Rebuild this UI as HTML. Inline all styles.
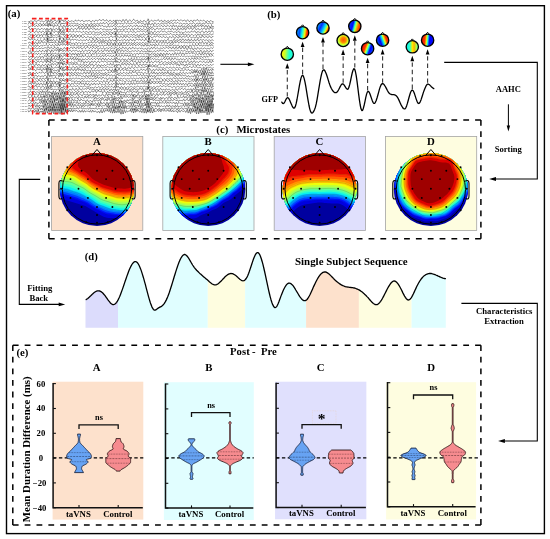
<!DOCTYPE html><html><head><meta charset="utf-8"><title>Microstate analysis pipeline</title>
<style>html,body{margin:0;padding:0;background:#fff}svg{display:block}text{font-family:"Liberation Serif",serif;font-weight:bold;fill:#000}</style></head><body>
<svg width="550" height="539" viewBox="0 0 550 539">
<rect width="550" height="539" fill="#fff"/>
<defs><linearGradient id="sh0" x1="0.002" y1="0.456" x2="0.998" y2="0.544"><stop offset="0.00" stop-color="#feed00"/><stop offset="0.30" stop-color="#ceff29"/><stop offset="0.50" stop-color="#6aff8d"/><stop offset="0.70" stop-color="#19ffde"/><stop offset="1.00" stop-color="#29ffce"/></linearGradient><linearGradient id="sh1" x1="0.005" y1="0.430" x2="0.995" y2="0.570"><stop offset="0.00" stop-color="#00b1ff"/><stop offset="0.25" stop-color="#004dff"/><stop offset="0.45" stop-color="#09f1ee"/><stop offset="0.58" stop-color="#7dff7a"/><stop offset="0.68" stop-color="#f8f500"/><stop offset="0.85" stop-color="#ff2d00"/><stop offset="1.00" stop-color="#f10800"/></linearGradient><linearGradient id="sh2" x1="0.047" y1="0.289" x2="0.953" y2="0.711"><stop offset="0.00" stop-color="#00b1ff"/><stop offset="0.30" stop-color="#002dff"/><stop offset="0.55" stop-color="#00c5ff"/><stop offset="0.68" stop-color="#53ffa4"/><stop offset="0.80" stop-color="#f8f500"/><stop offset="0.92" stop-color="#ff3800"/><stop offset="1.00" stop-color="#f10800"/></linearGradient><radialGradient id="sh3" cx="0.52" cy="0.45" r="0.62"><stop offset="0.00" stop-color="#ff5500"/><stop offset="0.35" stop-color="#ff8d00"/><stop offset="0.60" stop-color="#deff19"/><stop offset="0.85" stop-color="#7dff7a"/><stop offset="1.00" stop-color="#29ffce"/></radialGradient><linearGradient id="sh4" x1="0.017" y1="0.371" x2="0.983" y2="0.629"><stop offset="0.00" stop-color="#0039ff"/><stop offset="0.32" stop-color="#000dff"/><stop offset="0.48" stop-color="#29ffce"/><stop offset="0.58" stop-color="#ceff29"/><stop offset="0.78" stop-color="#ff6800"/><stop offset="1.00" stop-color="#f10800"/></linearGradient><linearGradient id="sh5" x1="0.970" y1="0.671" x2="0.030" y2="0.329"><stop offset="0.00" stop-color="#004dff"/><stop offset="0.30" stop-color="#0000ff"/><stop offset="0.47" stop-color="#29ffce"/><stop offset="0.57" stop-color="#deff19"/><stop offset="0.72" stop-color="#ff3800"/><stop offset="1.00" stop-color="#f10800"/></linearGradient><linearGradient id="sh6" x1="0.030" y1="0.671" x2="0.970" y2="0.329"><stop offset="0.00" stop-color="#0061ff"/><stop offset="0.30" stop-color="#0000f1"/><stop offset="0.50" stop-color="#00e5f8"/><stop offset="0.63" stop-color="#deff19"/><stop offset="0.80" stop-color="#ff3800"/><stop offset="1.00" stop-color="#f10800"/></linearGradient><linearGradient id="sh7" x1="0.000" y1="0.500" x2="1.000" y2="0.500"><stop offset="0.00" stop-color="#09f1ee"/><stop offset="0.30" stop-color="#29ffce"/><stop offset="0.50" stop-color="#feed00"/><stop offset="0.65" stop-color="#ffb200"/><stop offset="0.85" stop-color="#a4ff53"/><stop offset="1.00" stop-color="#39ffbe"/></linearGradient><linearGradient id="sh8" x1="0.998" y1="0.544" x2="0.002" y2="0.456"><stop offset="0.00" stop-color="#000dff"/><stop offset="0.35" stop-color="#0000ff"/><stop offset="0.50" stop-color="#29ffce"/><stop offset="0.58" stop-color="#deff19"/><stop offset="0.72" stop-color="#ff3800"/><stop offset="1.00" stop-color="#f10800"/></linearGradient></defs>
<rect x="6.5" y="5.7" width="537.9" height="527.9" fill="none" stroke="#000" stroke-width="1.4"/>
<text x="14" y="16.9" font-size="10.8" text-anchor="middle" >(a)</text>
<polyline points="28.0,21.3 28.5,21.8 29.0,21.8 29.5,21.5 30.0,21.1 30.5,21.0 31.0,21.0 31.5,21.0 32.0,21.1 32.5,21.4 33.0,21.6 33.5,21.4 34.0,20.9 34.5,20.7 35.0,20.8 35.5,21.1 36.0,21.3 36.5,21.4 37.0,21.2 37.5,20.8 38.0,20.4 38.5,20.2 39.0,20.5 39.5,21.0 40.0,21.3 40.5,21.4 41.0,21.2 41.5,21.0 42.0,21.0 42.5,21.2 43.0,21.5 43.5,21.8 44.0,21.8 44.5,21.4 45.0,20.9 45.5,20.6 46.0,20.9 46.5,21.0 47.0,20.5 47.5,22.0 48.0,21.9 48.5,20.2 49.0,20.5 49.5,21.6 50.0,22.3 50.5,21.0 51.0,19.4 51.5,20.7 52.0,21.4 52.5,21.3 53.0,21.5 53.5,21.4 54.0,20.9 54.5,20.4 55.0,20.1 55.5,20.3 56.0,20.9 56.5,21.4 57.0,21.4 57.5,21.1 58.0,20.8 58.5,20.3 59.0,19.2 59.5,20.7 60.0,22.2 60.5,21.0 61.0,20.2 61.5,20.0 62.0,20.4 62.5,20.5 63.0,19.8 63.5,21.2 64.0,21.8 64.5,20.9 65.0,20.4 65.5,20.6 66.0,21.2 66.5,21.7 67.0,21.9 67.5,21.4 68.0,20.7 68.5,20.4 69.0,21.0 69.5,21.6 70.0,21.7 70.5,21.4 71.0,21.1 71.5,20.8 72.0,20.7 72.5,20.9 73.0,21.4 73.5,21.6 74.0,21.5 74.5,21.1 75.0,20.5 75.5,20.2 76.0,20.4 76.5,21.1 77.0,21.3 77.5,20.9 78.0,20.4 78.5,20.2 79.0,20.3 79.5,20.7 80.0,21.2 80.5,21.2 81.0,20.9 81.5,20.5 82.0,20.2 82.5,20.3 83.0,20.9 83.5,21.6 84.0,21.7 84.5,21.4 85.0,21.0 85.5,20.8 86.0,20.7 86.5,20.7 87.0,20.9 87.5,21.1 88.0,21.0 88.5,20.6 89.0,20.3 89.5,20.4 90.0,20.9 90.5,21.7 91.0,22.1 91.5,21.8 92.0,21.1 92.5,20.5 93.0,20.5 93.5,20.9 94.0,21.4 94.5,21.4 95.0,21.0 95.5,20.3 96.0,20.0 96.5,20.3 97.0,20.8 97.5,21.1 98.0,20.9 98.5,20.3 99.0,19.7 99.5,19.6 100.0,19.9 100.5,20.3 101.0,20.5 101.5,20.6 102.0,20.3 102.5,19.7 103.0,19.3 103.5,19.6 104.0,20.3 104.5,21.0 105.0,21.2 105.5,20.8 106.0,20.2 106.5,19.8 107.0,19.9 107.5,20.7 108.0,21.4 108.5,21.7 109.0,21.2 109.5,20.4 110.0,20.0 110.5,20.2 111.0,20.9 111.5,21.5 112.0,21.6 112.5,21.2 113.0,20.7 113.5,20.4 114.0,20.4 114.5,20.9 115.0,21.8 115.5,20.6 116.0,19.9 116.5,21.2 117.0,20.6 117.5,20.2 118.0,20.7 118.5,21.0 119.0,20.7 119.5,20.2 120.0,20.0 120.5,20.6 121.1,21.5 121.6,21.8 122.1,21.1 122.6,19.9 123.1,19.4 123.6,20.1 124.1,21.2 124.6,21.4 125.1,20.7 125.6,19.7 126.1,19.3 126.6,19.7 127.1,20.7 127.6,21.6 128.1,21.8 128.6,21.2 129.1,20.3 129.6,19.8 130.1,19.9 130.6,20.6 131.1,21.4 131.6,21.6 132.1,21.2 132.6,20.4 133.1,19.7 133.6,19.3 134.1,19.5 134.6,20.2 135.1,21.0 135.6,21.3 136.1,21.1 136.6,20.5 137.1,20.2 137.6,20.4 138.1,21.2 138.6,22.1 139.1,22.4 139.6,21.8 140.1,20.8 140.6,20.4 141.1,20.8 141.6,21.5 142.1,22.0 142.6,22.0 143.1,21.4 143.6,20.5 144.1,20.2 144.6,20.7 145.1,21.4 145.6,21.7 146.1,21.5 146.6,21.0 147.1,20.8 147.6,20.5 148.1,18.8 148.6,19.6 149.1,22.1 149.6,21.9 150.1,21.3 150.6,20.8 151.1,20.3 151.6,20.2 152.1,20.6 152.6,21.0 153.1,21.4 153.6,21.3 154.1,20.6 154.6,20.1 155.1,20.2 155.6,20.7 156.1,21.1 156.6,21.0 157.1,20.5 157.6,19.9 158.1,19.5 158.6,19.8 159.1,20.8 159.6,21.5 160.1,21.4 160.6,20.7 161.1,20.2 161.6,20.2 162.1,20.9 162.6,21.8 163.1,22.1 163.6,21.7 164.1,20.8 164.6,20.1 165.1,20.3 165.6,21.1 166.1,21.7 166.6,21.8 167.1,21.3 167.6,20.6 168.1,20.3 168.6,20.7 169.1,21.5 169.6,21.8 170.1,21.3 170.6,20.5 171.1,20.1 171.6,20.3 172.1,20.8 172.6,21.2 173.1,20.9 173.6,20.1 174.1,19.7 174.6,20.0 175.1,20.6 175.6,20.9 176.1,20.8 176.6,20.3 177.1,19.8 177.6,19.6 178.1,20.0 178.6,20.5 179.1,20.8 179.6,20.8 180.1,20.4 180.6,20.0 181.1,19.9 181.6,20.1 182.1,20.6 182.6,21.0 183.1,21.0 183.6,20.4 184.1,19.9 184.6,20.0 185.1,20.5 185.6,21.3 186.1,21.7 186.6,21.2 187.1,20.2 187.6,19.7 188.1,20.2 188.6,21.0 189.1,21.6 189.6,21.6 190.1,21.0 190.6,20.3 191.1,20.0 191.6,20.5 192.1,21.4 192.6,21.8 193.1,21.1 193.6,20.2 194.1,19.9 194.6,20.3 195.1,20.8 195.6,21.0 196.1,20.8 196.6,20.1 197.1,19.5 197.6,19.7 198.1,20.3 198.6,21.1 199.1,21.4 199.6,21.1 200.1,20.5 200.6,20.2 201.1,20.4 201.6,20.9 202.1,21.2 202.6,21.0 203.1,20.5 203.6,20.2 204.1,20.4 204.6,20.8 205.1,21.2 205.6,21.6 206.1,21.6 206.6,21.2 207.1,20.8 207.6,20.6 208.1,21.0 208.6,21.6 209.1,21.9 209.6,21.6 210.1,20.9 210.6,20.5 211.1,20.6 211.6,21.0 212.1,21.5 212.6,21.8 213.1,21.6 213.6,21.0" fill="none" stroke="#111" stroke-width="0.6" stroke-opacity="0.8"/>
<text x="26.8" y="21.7" font-size="2.9" text-anchor="end" style="font-weight:normal;fill:#333">Ch1</text>
<polyline points="28.0,24.4 28.5,23.6 29.0,22.5 29.5,22.1 30.0,22.8 30.5,23.8 31.0,24.0 31.5,23.7 32.0,23.2 32.5,22.7 33.0,22.6 33.5,23.1 34.0,23.9 34.5,24.4 35.0,24.3 35.5,23.8 36.0,23.1 36.5,22.9 37.0,23.2 37.5,23.8 38.0,24.3 38.5,24.4 39.0,24.1 39.5,23.4 40.0,22.9 40.5,23.3 41.0,24.2 41.5,24.9 42.0,25.0 42.5,24.3 43.0,23.6 43.5,23.4 44.0,23.8 44.5,24.4 45.0,24.7 45.5,24.1 46.0,23.1 46.5,23.0 47.0,22.3 47.5,23.0 48.0,25.5 48.5,24.5 49.0,23.0 49.5,23.0 50.0,24.2 50.5,25.5 51.0,23.8 51.5,22.7 52.0,23.1 52.5,22.7 53.0,22.9 53.5,23.7 54.0,24.2 54.5,24.2 55.0,23.4 55.5,22.5 56.0,22.4 56.5,23.2 57.0,24.0 57.5,24.4 58.0,24.1 58.5,23.8 59.0,22.0 59.5,20.8 60.0,23.5 60.5,24.7 61.0,24.1 61.5,23.2 62.0,23.0 62.5,24.0 63.0,23.4 63.5,22.9 64.0,24.0 64.5,23.8 65.0,23.2 65.5,23.0 66.0,23.3 66.5,23.8 67.0,23.9 67.5,23.5 68.0,23.0 68.5,22.8 69.0,23.2 69.5,23.7 70.0,24.0 70.5,23.9 71.0,23.5 71.5,23.1 72.0,23.2 72.5,23.7 73.0,24.1 73.5,23.8 74.0,23.3 74.5,23.1 75.0,23.3 75.5,23.7 76.0,24.0 76.5,23.9 77.0,23.6 77.5,23.4 78.0,23.6 78.5,24.1 79.0,24.5 79.5,24.5 80.0,24.2 80.5,23.7 81.0,23.6 81.5,24.0 82.0,24.5 82.5,24.5 83.0,24.1 83.5,23.6 84.0,23.4 84.5,23.7 85.0,24.3 85.5,24.7 86.0,24.7 86.5,24.4 87.0,24.0 87.5,23.7 88.0,23.8 88.5,24.3 89.0,24.8 89.5,25.0 90.0,24.6 90.5,23.8 91.0,23.1 91.5,23.1 92.0,23.9 92.5,24.7 93.0,24.6 93.5,23.9 94.0,23.2 94.5,23.2 95.0,23.7 95.5,24.3 96.0,24.3 96.5,23.8 97.0,23.2 97.5,23.1 98.0,23.6 98.5,24.2 99.0,24.4 99.5,23.7 100.0,23.0 100.5,22.8 101.0,23.2 101.5,23.8 102.0,23.9 102.5,23.3 103.0,22.5 103.5,22.6 104.0,23.4 104.5,24.0 105.0,23.9 105.5,23.2 106.0,22.7 106.5,22.5 107.0,22.9 107.5,23.7 108.0,24.6 108.5,24.8 109.0,24.1 109.5,23.3 110.0,23.0 110.5,23.1 111.0,23.5 111.5,23.9 112.0,24.0 112.5,23.6 113.0,22.8 113.5,22.6 114.0,23.2 114.5,23.9 115.0,24.8 115.5,24.2 116.0,21.6 116.5,22.6 117.0,24.3 117.5,24.1 118.0,23.7 118.5,23.1 119.0,22.8 119.5,23.1 120.0,23.8 120.5,23.9 121.1,23.5 121.6,23.0 122.1,23.1 122.6,23.7 123.1,24.2 123.6,24.1 124.1,23.4 124.6,22.7 125.1,22.4 125.6,22.9 126.1,23.6 126.6,23.8 127.1,23.4 127.6,22.8 128.1,22.7 128.6,23.4 129.1,24.0 129.6,24.1 130.1,23.5 130.6,23.0 131.1,23.0 131.6,23.4 132.1,23.7 132.6,23.5 133.1,23.1 133.6,22.7 134.1,22.7 134.6,22.9 135.1,23.3 135.6,23.7 136.1,23.7 136.6,23.2 137.1,22.6 137.6,22.6 138.1,23.1 138.6,23.4 139.1,23.3 139.6,22.8 140.1,22.6 140.6,22.8 141.1,23.4 141.6,23.8 142.1,23.7 142.6,23.2 143.1,22.9 143.6,23.2 144.1,24.1 144.6,24.9 145.1,25.1 145.6,24.5 146.1,23.4 146.6,22.7 147.1,23.4 147.6,25.4 148.1,25.1 148.6,22.3 149.1,22.9 149.6,24.1 150.1,24.4 150.6,25.0 151.1,24.8 151.6,23.8 152.1,23.1 152.6,23.6 153.1,24.5 153.6,24.7 154.1,23.9 154.6,22.9 155.1,22.6 155.6,23.3 156.1,24.1 156.6,24.5 157.1,24.3 157.6,23.9 158.1,23.4 158.6,23.4 159.1,23.9 159.6,24.4 160.1,24.3 160.6,23.9 161.1,23.2 161.6,22.9 162.1,23.1 162.6,23.8 163.1,24.3 163.6,24.1 164.1,23.4 164.6,22.8 165.1,22.8 165.6,23.2 166.1,23.8 166.6,24.0 167.1,23.4 167.6,22.7 168.1,22.2 168.6,22.4 169.1,23.1 169.6,23.9 170.1,23.7 170.6,22.9 171.1,22.4 171.6,22.7 172.1,23.3 172.6,23.8 173.1,23.7 173.6,23.2 174.1,22.8 174.6,22.7 175.1,22.8 175.6,23.1 176.1,23.4 176.6,23.3 177.1,22.9 177.6,22.5 178.1,22.6 178.6,23.1 179.1,23.7 179.6,23.8 180.1,23.4 180.6,23.0 181.1,23.1 181.6,23.6 182.1,24.1 182.6,24.2 183.1,23.9 183.6,23.4 184.1,23.2 184.6,23.6 185.1,24.1 185.6,24.2 186.1,23.6 186.6,23.1 187.1,23.1 187.6,23.8 188.1,24.5 188.6,24.6 189.1,24.1 189.6,23.5 190.1,23.0 190.6,23.1 191.1,23.7 191.6,24.1 192.1,23.9 192.6,23.4 193.1,22.8 193.6,22.7 194.1,23.1 194.6,23.7 195.1,24.3 195.6,24.4 196.1,24.0 196.6,23.3 197.1,22.9 197.6,23.1 198.1,23.8 198.6,24.2 199.1,23.9 199.6,23.0 200.1,22.6 200.6,23.1 201.1,23.9 201.6,24.4 202.1,24.2 202.6,23.3 203.1,22.8 203.6,23.1 204.1,23.8 204.6,24.0 205.1,23.6 205.6,22.8 206.1,22.2 206.6,22.5 207.1,23.2 207.6,23.8 208.1,24.0 208.6,23.9 209.1,23.3 209.6,22.8 210.1,22.9 210.6,23.6 211.1,24.2 211.6,24.3 212.1,23.7 212.6,22.9 213.1,22.7 213.6,23.1" fill="none" stroke="#111" stroke-width="0.6" stroke-opacity="0.8"/>
<text x="26.8" y="24.4" font-size="2.9" text-anchor="end" style="font-weight:normal;fill:#333">Ch2</text>
<polyline points="28.0,26.0 28.5,25.9 29.0,26.4 29.5,26.8 30.0,26.7 30.5,26.0 31.0,25.6 31.5,25.8 32.0,26.3 32.5,26.4 33.0,26.0 33.5,25.6 34.0,25.8 34.5,26.4 35.0,26.7 35.5,26.3 36.0,25.7 36.5,25.5 37.0,25.9 37.5,26.4 38.0,26.4 38.5,25.8 39.0,25.4 39.5,25.6 40.0,26.2 40.5,26.4 41.0,25.9 41.5,25.4 42.0,25.5 42.5,26.0 43.0,26.3 43.5,26.0 44.0,25.3 44.5,24.8 45.0,25.1 45.5,25.8 46.0,26.0 46.5,25.4 47.0,24.7 47.5,25.5 48.0,26.8 48.5,26.4 49.0,25.3 49.5,24.6 50.0,25.2 50.5,26.0 51.0,26.1 51.5,25.7 52.0,25.0 52.5,24.8 53.0,26.0 53.5,27.2 54.0,26.9 54.5,25.6 55.0,24.9 55.5,25.4 56.0,26.1 56.5,26.2 57.0,25.7 57.5,25.2 58.0,25.4 58.5,26.3 59.0,26.5 59.5,26.5 60.0,26.5 60.5,25.7 61.0,25.5 61.5,26.1 62.0,27.0 62.5,27.3 63.0,26.4 63.5,25.4 64.0,25.2 64.5,25.9 65.0,27.0 65.5,27.3 66.0,26.3 66.5,25.4 67.0,25.9 67.5,27.1 68.0,27.1 68.5,26.0 69.0,25.0 69.5,25.1 70.0,25.8 70.5,26.4 71.0,26.4 71.5,25.8 72.0,25.2 72.5,25.4 73.0,26.1 73.5,26.7 74.0,26.4 74.5,25.6 75.0,25.1 75.5,25.4 76.0,26.0 76.5,26.2 77.0,25.6 77.5,25.1 78.0,25.3 78.5,26.3 79.0,27.1 79.5,26.9 80.0,26.1 80.5,25.6 81.0,26.0 81.5,26.7 82.0,27.0 82.5,26.3 83.0,25.5 83.5,25.6 84.0,26.4 84.5,27.1 85.0,26.9 85.5,26.0 86.0,25.4 86.5,25.8 87.0,26.9 87.5,27.5 88.0,27.0 88.5,25.8 89.0,25.2 89.5,25.8 90.0,26.9 90.5,27.1 91.0,26.2 91.5,25.2 92.0,25.6 92.5,26.9 93.0,27.5 93.5,26.4 94.0,25.3 94.5,25.7 95.0,26.6 95.5,26.6 96.0,25.7 96.5,25.1 97.0,25.5 97.5,26.4 98.0,26.8 98.5,26.4 99.0,25.6 99.5,25.0 100.0,25.3 100.5,26.2 101.0,26.4 101.5,25.9 102.0,25.3 102.5,25.4 103.0,26.0 103.5,26.7 104.0,27.0 104.5,26.6 105.0,26.1 105.5,25.9 106.0,26.5 106.5,27.3 107.0,27.2 107.5,26.4 108.0,25.7 108.5,25.8 109.0,26.6 109.5,27.1 110.0,26.7 110.5,25.9 111.0,25.6 111.5,26.0 112.0,26.7 112.5,26.6 113.0,26.0 113.5,25.4 114.0,25.3 114.5,25.9 115.0,26.7 115.5,26.6 116.0,25.8 116.5,25.7 117.0,25.9 117.5,26.4 118.0,27.0 118.5,27.1 119.0,26.6 119.5,26.1 120.0,26.3 120.5,26.9 121.1,27.2 121.6,26.7 122.1,25.8 122.6,25.4 123.1,26.2 123.6,27.3 124.1,27.3 124.6,26.5 125.1,25.9 125.6,26.0 126.1,26.6 126.6,27.0 127.1,26.6 127.6,25.7 128.1,25.3 128.6,25.7 129.1,26.4 129.6,26.7 130.1,26.1 130.6,25.4 131.1,25.4 131.6,26.1 132.1,26.7 132.6,26.9 133.1,26.5 133.6,25.8 134.1,25.4 134.6,25.7 135.1,26.3 135.6,26.6 136.1,25.8 136.6,25.0 137.1,25.0 137.6,25.9 138.1,26.8 138.6,27.0 139.1,26.4 139.6,25.8 140.1,25.6 140.6,26.3 141.1,26.9 141.6,26.5 142.1,25.7 142.6,25.5 143.1,26.0 143.6,27.0 144.1,27.4 144.6,26.7 145.1,25.8 145.6,26.1 146.1,27.1 146.6,27.6 147.1,27.0 147.6,26.2 148.1,25.9 148.6,26.6 149.1,27.8 149.6,27.6 150.1,26.7 150.6,26.3 151.1,26.7 151.6,27.5 152.1,27.7 152.6,27.1 153.1,26.1 153.6,25.5 154.1,25.7 154.6,26.4 155.1,26.5 155.6,26.0 156.1,25.7 156.6,26.1 157.1,26.7 157.6,26.7 158.1,26.3 158.6,25.8 159.1,25.8 159.6,26.3 160.1,26.6 160.6,26.1 161.1,25.5 161.6,25.4 162.1,26.0 162.6,26.7 163.1,26.9 163.6,26.5 164.1,25.7 164.6,25.4 165.1,25.8 165.6,26.6 166.1,27.0 166.6,26.5 167.1,25.5 167.6,25.1 168.1,25.5 168.6,26.1 169.1,26.5 169.6,26.5 170.1,25.9 170.6,25.4 171.1,25.6 171.6,26.5 172.1,27.2 172.6,26.5 173.1,25.1 173.6,24.8 174.1,25.8 174.6,26.7 175.1,26.6 175.6,25.8 176.1,25.3 176.6,25.7 177.1,26.9 177.6,27.5 178.1,26.9 178.6,25.8 179.1,25.7 179.6,26.5 180.1,27.1 180.6,26.7 181.1,25.5 181.6,25.2 182.1,26.2 182.6,27.3 183.1,27.3 183.6,26.6 184.1,25.8 184.6,25.9 185.1,26.7 185.6,27.3 186.1,27.1 186.6,26.1 187.1,25.4 187.6,25.6 188.1,26.5 188.6,26.9 189.1,26.4 189.6,25.6 190.1,25.8 190.6,26.7 191.1,27.3 191.6,26.7 192.1,25.6 192.6,25.5 193.1,26.4 193.6,27.0 194.1,26.5 194.6,25.4 195.1,25.1 195.6,26.1 196.1,27.2 196.6,26.7 197.1,25.5 197.6,25.1 198.1,25.7 198.6,26.5 199.1,26.6 199.6,26.1 200.1,25.2 200.6,24.9 201.1,25.9 201.6,26.9 202.1,26.5 202.6,25.3 203.1,25.1 203.6,25.9 204.1,26.7 204.6,27.0 205.1,26.5 205.6,25.5 206.1,25.2 206.6,26.1 207.1,27.0 207.6,26.8 208.1,25.9 208.6,25.4 209.1,25.9 209.6,27.1 210.1,27.8 210.6,27.3 211.1,26.1 211.6,25.4 212.1,26.0 212.6,27.1 213.1,27.2 213.6,26.1" fill="none" stroke="#111" stroke-width="0.6" stroke-opacity="0.8"/>
<text x="26.8" y="27.2" font-size="2.9" text-anchor="end" style="font-weight:normal;fill:#333">Ch3</text>
<polyline points="28.0,28.1 28.5,27.5 29.0,27.7 29.5,28.7 30.0,29.6 30.5,29.8 31.0,29.2 31.5,28.6 32.0,28.5 32.5,29.1 33.0,29.6 33.5,29.6 34.0,29.1 34.5,28.6 35.0,28.5 35.5,28.6 36.0,29.0 36.5,29.3 37.0,29.4 37.5,29.1 38.0,28.8 38.5,28.7 39.0,29.1 39.5,29.5 40.0,29.6 40.5,29.4 41.0,29.0 41.5,28.5 42.0,28.4 42.5,28.9 43.0,29.3 43.5,29.4 44.0,29.0 44.5,28.7 45.0,28.8 45.5,29.4 46.0,30.0 46.5,29.4 47.0,28.1 47.5,29.4 48.0,29.9 48.5,29.2 49.0,29.4 49.5,29.4 50.0,29.3 50.5,28.3 51.0,28.1 51.5,30.1 52.0,30.3 52.5,29.1 53.0,28.6 53.5,28.9 54.0,29.6 54.5,29.9 55.0,29.5 55.5,28.8 56.0,28.4 56.5,28.4 57.0,29.0 57.5,29.6 58.0,29.9 58.5,29.1 59.0,27.4 59.5,28.4 60.0,30.2 60.5,30.0 61.0,29.9 61.5,29.4 62.0,28.9 62.5,28.1 63.0,27.6 63.5,29.5 64.0,30.7 64.5,30.1 65.0,29.2 65.5,28.7 66.0,28.9 66.5,29.7 67.0,30.3 67.5,30.0 68.0,29.1 68.5,28.6 69.0,29.0 69.5,29.7 70.0,30.0 70.5,29.6 71.0,28.7 71.5,28.2 72.0,28.4 72.5,29.1 73.0,29.8 73.5,30.0 74.0,29.6 74.5,28.8 75.0,28.3 75.5,28.5 76.0,29.0 76.5,29.4 77.0,29.4 77.5,28.7 78.0,27.6 78.5,27.3 79.0,28.2 79.5,29.2 80.0,29.4 80.5,28.9 81.0,28.0 81.5,27.7 82.0,28.5 82.5,29.6 83.0,29.4 83.5,28.5 84.0,27.7 84.5,27.7 85.0,28.5 85.5,29.4 86.0,29.6 86.5,28.9 87.0,27.9 87.5,27.6 88.0,28.2 88.5,29.4 89.0,30.1 89.5,29.6 90.0,28.6 90.5,28.0 91.0,28.0 91.5,28.5 92.0,29.0 92.5,29.4 93.0,29.3 93.5,28.9 94.0,28.4 94.5,28.3 95.0,29.1 95.5,30.0 96.0,30.0 96.5,29.2 97.0,28.5 97.5,28.7 98.0,29.5 98.5,30.0 99.0,29.8 99.5,29.4 100.0,28.9 100.5,28.5 101.0,28.4 101.5,28.7 102.0,29.3 102.5,29.7 103.0,29.6 103.5,29.2 104.0,28.8 104.5,28.9 105.0,29.4 105.5,29.9 106.0,30.2 106.5,29.9 107.0,29.3 107.5,29.1 108.0,29.6 108.5,30.1 109.0,29.9 109.5,29.4 110.0,29.2 110.5,29.3 111.0,29.9 111.5,30.2 112.0,30.0 112.5,29.4 113.0,28.8 113.5,28.5 114.0,28.7 114.5,29.5 115.0,30.0 115.5,28.1 116.0,27.6 116.5,29.6 117.0,29.8 117.5,29.9 118.0,30.0 118.5,29.4 119.0,28.9 119.5,28.9 120.0,29.4 120.5,29.9 121.1,29.9 121.6,29.3 122.1,28.8 122.6,28.8 123.1,29.2 123.6,29.5 124.1,29.6 124.6,29.3 125.1,28.8 125.6,28.7 126.1,28.8 126.6,29.2 127.1,29.5 127.6,29.5 128.1,29.0 128.6,28.4 129.1,28.4 129.6,29.0 130.1,29.6 130.6,29.6 131.1,29.1 131.6,28.5 132.1,28.6 132.6,29.6 133.1,30.5 133.6,30.1 134.1,29.1 134.6,28.4 135.1,28.5 135.6,29.2 136.1,29.7 136.6,29.5 137.1,28.7 137.6,28.0 138.1,28.2 138.6,29.0 139.1,29.7 139.6,29.5 140.1,28.8 140.6,28.4 141.1,28.9 141.6,29.6 142.1,29.8 142.6,29.5 143.1,29.0 143.6,28.6 144.1,28.9 144.6,29.4 145.1,29.6 145.6,29.5 146.1,29.2 146.6,28.9 147.1,29.1 147.6,29.2 148.1,28.2 148.6,29.1 149.1,30.5 149.6,29.3 150.1,28.5 150.6,28.6 151.1,28.9 151.6,29.2 152.1,29.6 152.6,29.4 153.1,28.8 153.6,28.4 154.1,28.8 154.6,29.6 155.1,29.9 155.6,29.6 156.1,29.0 156.6,28.3 157.1,28.1 157.6,28.4 158.1,28.9 158.6,29.3 159.1,29.3 159.6,28.9 160.1,28.3 160.6,28.2 161.1,28.7 161.6,29.4 162.1,29.7 162.6,29.3 163.1,28.8 163.6,28.8 164.1,29.1 164.6,29.4 165.1,29.3 165.6,28.9 166.1,28.6 166.6,28.5 167.1,28.7 167.6,29.1 168.1,29.2 168.6,28.9 169.1,28.5 169.6,28.4 170.1,29.0 170.6,29.7 171.1,29.7 171.6,29.0 172.1,28.2 172.6,28.1 173.1,28.9 173.6,29.7 174.1,29.6 174.6,28.9 175.1,28.4 175.6,28.7 176.1,29.6 176.6,30.4 177.1,30.1 177.6,29.0 178.1,28.2 178.6,28.6 179.1,29.5 179.6,29.9 180.1,29.4 180.6,28.5 181.1,28.0 181.6,28.6 182.1,29.6 182.6,30.1 183.1,29.6 183.6,28.5 184.1,27.8 184.6,28.1 185.1,29.3 185.6,30.0 186.1,29.7 186.6,28.7 187.1,27.7 187.6,27.3 188.1,27.8 188.6,28.7 189.1,29.2 189.6,29.1 190.1,28.6 190.6,27.9 191.1,27.7 191.6,28.4 192.1,29.4 192.6,29.7 193.1,29.0 193.6,28.0 194.1,27.4 194.6,27.4 195.1,28.1 195.6,29.2 196.1,29.8 196.6,29.8 197.1,29.2 197.6,28.6 198.1,28.3 198.6,28.7 199.1,29.5 199.6,30.0 200.1,29.8 200.6,29.2 201.1,28.7 201.6,28.6 202.1,28.9 202.6,29.3 203.1,29.2 203.6,28.4 204.1,27.8 204.6,28.0 205.1,28.7 205.6,29.5 206.1,29.9 206.6,29.2 207.1,28.1 207.6,27.7 208.1,28.3 208.6,29.2 209.1,29.6 209.6,29.2 210.1,28.3 210.6,27.5 211.1,27.4 211.6,28.3 212.1,29.2 212.6,29.3 213.1,28.6 213.6,27.8" fill="none" stroke="#111" stroke-width="0.6" stroke-opacity="0.8"/>
<text x="26.8" y="29.9" font-size="2.9" text-anchor="end" style="font-weight:normal;fill:#333">Ch4</text>
<polyline points="28.0,31.7 28.5,31.2 29.0,30.8 29.5,31.0 30.0,31.8 30.5,32.6 31.0,32.6 31.5,31.9 32.0,31.4 32.5,31.2 33.0,31.4 33.5,32.0 34.0,32.5 34.5,32.7 35.0,32.2 35.5,31.4 36.0,30.8 36.5,30.8 37.0,31.5 37.5,32.3 38.0,32.6 38.5,32.4 39.0,31.8 39.5,31.2 40.0,31.3 40.5,32.1 41.0,32.7 41.5,32.5 42.0,31.7 42.5,31.0 43.0,31.0 43.5,31.5 44.0,32.1 44.5,32.6 45.0,32.5 45.5,31.7 46.0,30.7 46.5,31.5 47.0,34.6 47.5,32.9 48.0,30.3 48.5,31.6 49.0,31.9 49.5,31.8 50.0,31.4 50.5,32.3 51.0,34.5 51.5,32.2 52.0,30.3 52.5,30.8 53.0,31.4 53.5,32.1 54.0,32.6 54.5,32.4 55.0,31.7 55.5,31.0 56.0,30.9 56.5,31.3 57.0,31.9 57.5,32.2 58.0,31.8 58.5,31.3 59.0,33.0 59.5,32.1 60.0,29.4 60.5,30.9 61.0,32.5 61.5,32.6 62.0,31.4 62.5,30.6 63.0,32.8 63.5,32.6 64.0,31.5 64.5,32.3 65.0,32.5 65.5,32.2 66.0,31.7 66.5,31.3 67.0,31.1 67.5,31.3 68.0,31.8 68.5,32.1 69.0,31.8 69.5,31.1 70.0,30.8 70.5,31.0 71.0,31.4 71.5,31.9 72.0,32.0 72.5,31.8 73.0,31.5 73.5,31.2 74.0,31.3 74.5,31.8 75.0,32.3 75.5,32.2 76.0,31.6 76.5,31.1 77.0,31.0 77.5,31.4 78.0,31.9 78.5,32.0 79.0,31.7 79.5,31.3 80.0,31.4 80.5,31.8 81.0,32.2 81.5,32.4 82.0,32.4 82.5,32.1 83.0,31.6 83.5,31.4 84.0,31.8 84.5,32.3 85.0,32.2 85.5,31.9 86.0,31.5 86.5,31.5 87.0,31.7 87.5,32.1 88.0,32.5 88.5,32.6 89.0,32.3 89.5,31.7 90.0,31.5 90.5,31.6 91.0,31.9 91.5,32.2 92.0,32.2 92.5,32.0 93.0,31.6 93.5,31.4 94.0,31.5 94.5,31.8 95.0,32.5 95.5,33.1 96.0,32.8 96.5,32.1 97.0,31.8 97.5,32.0 98.0,32.4 98.5,32.7 99.0,32.5 99.5,32.1 100.0,31.7 100.5,31.6 101.0,32.0 101.5,32.5 102.0,32.6 102.5,32.2 103.0,31.7 103.5,31.4 104.0,31.5 104.5,31.9 105.0,32.3 105.5,32.3 106.0,31.8 106.5,31.3 107.0,31.1 107.5,31.3 108.0,31.9 108.5,32.3 109.0,32.3 109.5,32.1 110.0,31.9 110.5,31.8 111.0,32.0 111.5,32.4 112.0,32.6 112.5,32.6 113.0,32.3 113.5,32.0 114.0,31.8 114.5,31.6 115.0,31.1 115.5,33.3 116.0,34.7 116.5,31.1 117.0,30.5 117.5,31.6 118.0,31.9 118.5,32.2 119.0,32.2 119.5,31.8 120.0,31.4 120.5,31.2 121.1,31.4 121.6,31.9 122.1,32.2 122.6,31.8 123.1,31.1 123.6,30.6 124.1,30.7 124.6,31.2 125.1,31.9 125.6,32.3 126.1,32.2 126.6,31.6 127.1,31.1 127.6,31.2 128.1,31.9 128.6,32.4 129.1,32.3 129.6,31.8 130.1,31.2 130.6,30.9 131.1,31.2 131.6,31.8 132.1,32.2 132.6,32.3 133.1,32.1 133.6,31.7 134.1,31.4 134.6,31.6 135.1,32.3 135.6,32.8 136.1,32.5 136.6,31.8 137.1,31.3 137.6,31.1 138.1,31.3 138.6,31.8 139.1,32.1 139.6,31.7 140.1,31.1 140.6,30.7 141.1,30.9 141.6,31.4 142.1,31.9 142.6,31.9 143.1,31.4 143.6,30.9 144.1,30.8 144.6,31.3 145.1,32.0 145.6,32.4 146.1,32.1 146.6,31.6 147.1,30.8 147.6,30.0 148.1,32.8 148.6,34.2 149.1,31.5 149.6,31.8 150.1,32.4 150.6,31.7 151.1,31.3 151.6,31.5 152.1,32.3 152.6,33.0 153.1,32.9 153.6,32.3 154.1,31.6 154.6,31.2 155.1,31.3 155.6,31.9 156.1,32.4 156.6,32.4 157.1,32.0 157.6,31.5 158.1,31.3 158.6,31.7 159.1,32.3 159.6,32.3 160.1,31.7 160.6,31.0 161.1,30.7 161.6,30.9 162.1,31.4 162.6,31.8 163.1,31.9 163.6,31.6 164.1,31.3 164.6,31.2 165.1,31.5 165.6,31.9 166.1,32.3 166.6,32.4 167.1,32.2 167.6,31.7 168.1,31.4 168.6,31.3 169.1,31.6 169.6,31.8 170.1,31.7 170.6,31.5 171.1,31.3 171.6,31.2 172.1,31.4 172.6,31.9 173.1,32.3 173.6,32.5 174.1,32.3 174.6,31.9 175.1,31.7 175.6,31.8 176.1,32.2 176.6,32.5 177.1,32.5 177.6,32.0 178.1,31.3 178.6,31.1 179.1,31.7 179.6,32.5 180.1,32.6 180.6,32.1 181.1,31.7 181.6,31.9 182.1,32.4 182.6,32.8 183.1,32.9 183.6,32.8 184.1,32.5 184.6,32.0 185.1,31.6 185.6,31.5 186.1,32.0 186.6,32.4 187.1,32.4 187.6,32.0 188.1,31.7 188.6,31.7 189.1,32.0 189.6,32.4 190.1,32.5 190.6,32.1 191.1,31.3 191.6,31.1 192.1,31.5 192.6,32.0 193.1,32.2 193.6,31.9 194.1,31.2 194.6,30.8 195.1,31.1 195.6,32.0 196.1,32.9 196.6,33.0 197.1,32.2 197.6,31.5 198.1,31.4 198.6,31.8 199.1,32.1 199.6,32.4 200.1,32.7 200.6,32.5 201.1,31.7 201.6,31.0 202.1,30.7 202.6,31.0 203.1,31.7 203.6,32.5 204.1,32.9 204.6,32.6 205.1,31.9 205.6,31.2 206.1,31.1 206.6,31.7 207.1,32.4 207.6,32.6 208.1,31.9 208.6,31.1 209.1,30.9 209.6,31.3 210.1,32.0 210.6,32.3 211.1,31.7 211.6,30.8 212.1,30.4 212.6,31.0 213.1,32.0 213.6,32.4" fill="none" stroke="#111" stroke-width="0.6" stroke-opacity="0.8"/>
<text x="26.8" y="32.7" font-size="2.9" text-anchor="end" style="font-weight:normal;fill:#333">Ch5</text>
<polyline points="28.0,35.3 28.5,34.7 29.0,34.0 29.5,33.8 30.0,34.4 30.5,35.2 31.0,35.5 31.5,35.0 32.0,34.2 32.5,34.0 33.0,34.7 33.5,35.6 34.0,36.0 34.5,35.6 35.0,34.8 35.5,34.2 36.0,34.6 36.5,35.4 37.0,35.8 37.5,35.3 38.0,34.3 38.5,33.8 39.0,34.4 39.5,35.6 40.0,36.0 40.5,35.4 41.0,34.5 41.5,34.4 42.0,35.1 42.5,35.7 43.0,35.1 43.5,34.0 44.0,33.6 44.5,34.2 45.0,35.1 45.5,35.3 46.0,34.5 46.5,33.5 47.0,35.5 47.5,36.6 48.0,34.2 48.5,34.5 49.0,34.9 49.5,34.3 50.0,33.3 50.5,32.9 51.0,35.7 51.5,36.3 52.0,34.5 52.5,34.3 53.0,34.7 53.5,35.1 54.0,35.4 54.5,35.4 55.0,34.9 55.5,34.7 56.0,34.7 56.5,34.9 57.0,35.1 57.5,35.1 58.0,34.5 58.5,33.4 59.0,34.7 59.5,36.7 60.0,34.7 60.5,33.5 61.0,33.8 61.5,34.3 62.0,34.6 62.5,33.8 63.0,34.9 63.5,35.3 64.0,33.6 64.5,33.8 65.0,34.8 65.5,35.4 66.0,35.2 66.5,34.3 67.0,33.9 67.5,34.3 68.0,35.1 68.5,35.6 69.0,35.4 69.5,34.5 70.0,33.9 70.5,34.1 71.0,34.7 71.5,35.3 72.0,35.4 72.5,34.9 73.0,34.2 73.5,34.1 74.0,34.7 74.5,35.5 75.0,35.8 75.5,35.4 76.0,34.8 76.5,34.6 77.0,35.0 77.5,35.8 78.0,36.1 78.5,35.6 79.0,34.9 79.5,34.7 80.0,35.1 80.5,35.7 81.0,35.9 81.5,35.5 82.0,34.7 82.5,34.3 83.0,34.5 83.5,34.9 84.0,34.8 84.5,34.3 85.0,33.8 85.5,33.7 86.0,33.9 86.5,34.2 87.0,34.6 87.5,34.7 88.0,34.4 88.5,34.1 89.0,34.1 89.5,34.4 90.0,34.6 90.5,34.5 91.0,34.0 91.5,33.7 92.0,33.9 92.5,34.4 93.0,34.8 93.5,34.9 94.0,34.5 94.5,34.1 95.0,34.4 95.5,35.1 96.0,35.5 96.5,35.2 97.0,34.5 97.5,34.1 98.0,34.6 98.5,35.1 99.0,35.0 99.5,34.5 100.0,33.8 100.5,33.3 101.0,33.6 101.5,34.5 102.0,35.3 102.5,35.5 103.0,34.9 103.5,34.1 104.0,33.8 104.5,34.5 105.0,35.3 105.5,35.3 106.0,34.4 106.5,33.5 107.0,33.6 107.5,34.4 108.0,35.2 108.5,35.1 109.0,34.2 109.5,33.5 110.0,33.8 110.5,34.6 111.0,35.0 111.5,34.6 112.0,33.9 112.5,33.5 113.0,33.6 113.5,34.2 114.0,34.8 114.5,34.7 115.0,33.2 115.5,33.2 116.0,36.2 116.5,35.7 117.0,34.4 117.5,34.7 118.0,34.4 118.5,34.1 119.0,34.1 119.5,34.5 120.0,35.1 120.5,35.1 121.1,34.4 121.6,33.8 122.1,33.9 122.6,34.5 123.1,35.1 123.6,35.2 124.1,35.0 124.6,34.8 125.1,34.8 125.6,34.8 126.1,34.9 126.6,35.2 127.1,35.1 127.6,34.7 128.1,34.2 128.6,34.1 129.1,34.5 129.6,35.1 130.1,35.2 130.6,34.7 131.1,34.2 131.6,34.5 132.1,35.2 132.6,35.4 133.1,35.0 133.6,34.3 134.1,34.1 134.6,34.7 135.1,35.6 135.6,35.9 136.1,35.4 136.6,34.7 137.1,34.2 137.6,34.5 138.1,35.5 138.6,36.3 139.1,36.2 139.6,35.3 140.1,34.2 140.6,33.9 141.1,34.4 141.6,35.1 142.1,35.1 142.6,34.5 143.1,33.7 143.6,33.6 144.1,34.3 144.6,35.2 145.1,35.5 145.6,35.1 146.1,34.4 146.6,34.2 147.1,34.7 147.6,34.4 148.1,35.2 148.6,37.0 149.1,34.7 149.6,33.1 150.1,33.6 150.6,34.0 151.1,34.7 151.6,35.1 152.1,34.8 152.6,33.9 153.1,33.4 153.6,33.9 154.1,34.9 154.6,35.0 155.1,34.1 155.6,33.7 156.1,34.4 156.6,35.0 157.1,34.7 157.6,34.1 158.1,33.7 158.6,34.0 159.1,34.7 159.6,35.1 160.1,35.0 160.6,34.4 161.1,34.0 161.6,34.0 162.1,34.6 162.6,35.1 163.1,35.0 163.6,34.5 164.1,34.0 164.6,34.0 165.1,34.5 165.6,35.0 166.1,35.0 166.6,34.6 167.1,34.1 167.6,33.9 168.1,34.0 168.6,34.4 169.1,34.6 169.6,34.3 170.1,33.8 170.6,33.5 171.1,33.7 171.6,34.3 172.1,34.9 172.6,35.2 173.1,35.0 173.6,34.5 174.1,34.3 174.6,34.7 175.1,35.3 175.6,35.4 176.1,34.8 176.6,34.0 177.1,34.0 177.6,34.8 178.1,35.3 178.6,35.2 179.1,34.8 179.6,34.1 180.1,33.7 180.6,34.0 181.1,34.7 181.6,34.8 182.1,34.1 182.6,33.7 183.1,33.9 183.6,34.7 184.1,35.2 184.6,34.9 185.1,34.2 185.6,34.0 186.1,34.6 186.6,35.3 187.1,35.5 187.6,35.0 188.1,34.2 188.6,34.1 189.1,34.7 189.6,35.4 190.1,35.7 190.6,35.3 191.1,34.7 191.6,34.3 192.1,34.4 192.6,34.9 193.1,35.3 193.6,35.5 194.1,35.3 194.6,34.8 195.1,34.4 195.6,34.7 196.1,35.4 196.6,35.7 197.1,35.2 197.6,34.2 198.1,33.9 198.6,34.7 199.1,35.4 199.6,34.9 200.1,34.0 200.6,33.9 201.1,34.6 201.6,35.4 202.1,35.8 202.6,35.2 203.1,34.2 203.6,33.9 204.1,34.4 204.6,35.1 205.1,35.3 205.6,34.9 206.1,34.2 206.6,33.8 207.1,34.3 207.6,35.0 208.1,35.2 208.6,34.8 209.1,34.1 209.6,33.6 210.1,33.6 210.6,34.1 211.1,34.9 211.6,35.1 212.1,34.6 212.6,33.9 213.1,33.8 213.6,34.1" fill="none" stroke="#111" stroke-width="0.6" stroke-opacity="0.8"/>
<text x="26.8" y="35.4" font-size="2.9" text-anchor="end" style="font-weight:normal;fill:#333">Ch6</text>
<polyline points="28.0,37.5 28.5,37.0 29.0,36.6 29.5,36.7 30.0,36.9 30.5,37.2 31.0,37.6 31.5,37.6 32.0,37.3 32.5,36.8 33.0,36.6 33.5,36.8 34.0,37.5 34.5,37.8 35.0,37.6 35.5,37.0 36.0,36.4 36.5,36.4 37.0,37.1 37.5,37.8 38.0,38.1 38.5,37.7 39.0,36.9 39.5,36.7 40.0,37.3 40.5,38.1 41.0,38.3 41.5,37.7 42.0,36.9 42.5,36.6 43.0,36.8 43.5,37.5 44.0,38.3 44.5,38.2 45.0,37.5 45.5,36.9 46.0,37.0 46.5,37.1 47.0,38.5 47.5,40.2 48.0,37.8 48.5,36.2 49.0,36.9 49.5,37.9 50.0,38.3 50.5,37.0 51.0,37.2 51.5,37.9 52.0,36.8 52.5,36.8 53.0,37.6 53.5,37.9 54.0,37.8 54.5,37.3 55.0,36.9 55.5,37.0 56.0,37.5 56.5,37.8 57.0,37.5 57.5,37.0 58.0,36.7 58.5,36.2 59.0,36.9 59.5,39.4 60.0,38.6 60.5,36.7 61.0,36.5 61.5,36.8 62.0,37.7 62.5,37.7 63.0,38.2 63.5,39.2 64.0,37.7 64.5,36.3 65.0,36.6 65.5,37.6 66.0,38.4 66.5,38.2 67.0,37.4 67.5,36.7 68.0,36.7 68.5,37.5 69.0,38.3 69.5,38.2 70.0,37.5 70.5,36.6 71.0,35.9 71.5,35.9 72.0,36.6 72.5,37.6 73.0,37.9 73.5,37.1 74.0,36.2 74.5,36.0 75.0,36.5 75.5,37.4 76.0,37.9 76.5,37.7 77.0,37.0 77.5,36.3 78.0,36.2 78.5,36.7 79.0,37.4 79.5,37.7 80.0,37.3 80.5,36.5 81.0,36.2 81.5,36.5 82.0,37.2 82.5,37.8 83.0,37.9 83.5,37.4 84.0,36.7 84.5,36.5 85.0,36.9 85.5,37.5 86.0,37.8 86.5,37.6 87.0,37.1 87.5,36.7 88.0,36.6 88.5,36.7 89.0,37.2 89.5,37.8 90.0,38.0 90.5,37.4 91.0,36.6 91.5,36.9 92.0,37.9 92.5,38.6 93.0,38.6 93.5,37.8 94.0,37.0 94.5,36.7 95.0,36.9 95.5,37.7 96.0,38.5 96.5,38.5 97.0,37.7 97.5,37.1 98.0,37.2 98.5,37.8 99.0,38.2 99.5,38.2 100.0,37.8 100.5,37.3 101.0,37.1 101.5,37.3 102.0,37.6 102.5,37.9 103.0,37.6 103.5,37.0 104.0,36.8 104.5,37.2 105.0,37.7 105.5,38.0 106.0,37.8 106.5,37.2 107.0,36.8 107.5,36.9 108.0,37.4 108.5,37.7 109.0,37.7 109.5,37.6 110.0,37.0 110.5,36.3 111.0,35.8 111.5,36.0 112.0,36.8 112.5,37.4 113.0,37.4 113.5,36.9 114.0,36.5 114.5,36.7 115.0,36.6 115.5,36.2 116.0,38.5 116.5,38.9 117.0,36.7 117.5,36.1 118.0,36.3 118.5,36.9 119.0,37.7 119.5,37.9 120.0,37.4 120.5,36.6 121.1,36.2 121.6,36.6 122.1,37.3 122.6,38.0 123.1,37.8 123.6,36.8 124.1,35.9 124.6,36.1 125.1,36.9 125.6,37.7 126.1,37.5 126.6,36.6 127.1,36.0 127.6,36.1 128.1,36.7 128.6,37.5 129.1,37.8 129.6,37.6 130.1,37.1 130.6,36.6 131.1,36.5 131.6,37.0 132.1,37.5 132.6,37.4 133.1,37.0 133.6,36.8 134.1,36.7 134.6,37.0 135.1,37.6 135.6,37.9 136.1,37.6 136.6,37.0 137.1,36.6 137.6,36.7 138.1,37.1 138.6,37.7 139.1,37.8 139.6,37.2 140.1,36.4 140.6,36.1 141.1,36.7 141.6,37.6 142.1,38.0 142.6,37.5 143.1,36.6 143.6,36.3 144.1,36.7 144.6,37.5 145.1,38.1 145.6,38.5 146.1,38.4 146.6,37.7 147.1,37.0 147.6,36.3 148.1,36.6 148.6,39.5 149.1,39.4 149.6,37.0 150.1,36.4 150.6,36.5 151.1,37.0 151.6,37.7 152.1,38.1 152.6,37.8 153.1,37.2 153.6,36.6 154.1,36.4 154.6,36.5 155.1,36.9 155.6,37.0 156.1,36.7 156.6,36.2 157.1,35.8 157.6,35.7 158.1,36.2 158.6,37.0 159.1,37.4 159.6,37.2 160.1,36.7 160.6,36.5 161.1,36.8 161.6,37.4 162.1,37.7 162.6,37.2 163.1,36.5 163.6,36.2 164.1,36.6 164.6,37.4 165.1,37.7 165.6,37.5 166.1,37.0 166.6,36.6 167.1,37.0 167.6,37.8 168.1,38.4 168.6,38.2 169.1,37.4 169.6,36.6 170.1,36.4 170.6,36.9 171.1,37.6 171.6,37.8 172.1,37.2 172.6,36.6 173.1,36.3 173.6,36.7 174.1,37.5 174.6,38.3 175.1,38.3 175.6,37.6 176.1,36.6 176.6,36.4 177.1,36.9 177.6,37.6 178.1,38.1 178.6,38.0 179.1,37.0 179.6,35.9 180.1,35.7 180.6,36.5 181.1,37.5 181.6,37.8 182.1,37.3 182.6,36.5 183.1,35.9 183.6,36.2 184.1,36.9 184.6,37.3 185.1,37.2 185.6,36.9 186.1,36.5 186.6,36.2 187.1,36.6 187.6,37.4 188.1,37.8 188.6,37.4 189.1,36.8 189.6,36.4 190.1,36.6 190.6,37.3 191.1,37.8 191.6,37.9 192.1,37.6 192.6,37.1 193.1,36.8 193.6,36.9 194.1,37.5 194.6,38.1 195.1,38.1 195.6,37.5 196.1,36.7 196.6,36.7 197.1,37.3 197.6,38.2 198.1,38.6 198.6,38.2 199.1,37.1 199.6,36.5 200.1,36.8 200.6,37.6 201.1,38.0 201.6,37.4 202.1,36.4 202.6,35.7 203.1,36.0 203.6,36.9 204.1,37.7 204.6,37.7 205.1,37.2 205.6,36.6 206.1,36.2 206.6,36.4 207.1,37.3 207.6,37.9 208.1,37.8 208.6,37.0 209.1,36.2 209.6,36.0 210.1,36.4 210.6,37.3 211.1,37.9 211.6,37.7 212.1,36.9 212.6,36.5 213.1,36.4 213.6,36.9" fill="none" stroke="#111" stroke-width="0.6" stroke-opacity="0.8"/>
<text x="26.8" y="38.2" font-size="2.9" text-anchor="end" style="font-weight:normal;fill:#333">Ch7</text>
<polyline points="28.0,39.5 28.5,38.5 29.0,38.6 29.5,39.3 30.0,40.0 30.5,40.0 31.0,39.4 31.5,38.7 32.0,38.8 32.5,39.5 33.0,40.2 33.5,40.4 34.0,39.8 34.5,39.2 35.0,39.4 35.5,40.0 36.0,40.4 36.5,40.5 37.0,40.1 37.5,39.5 38.0,39.8 38.5,40.9 39.0,41.4 39.5,40.9 40.0,40.1 40.5,39.8 41.0,40.0 41.5,40.6 42.0,41.1 42.5,41.2 43.0,40.7 43.5,39.9 44.0,39.2 44.5,39.1 45.0,39.7 45.5,40.2 46.0,40.2 46.5,40.7 47.0,40.3 47.5,37.7 48.0,39.0 48.5,41.2 49.0,41.1 49.5,40.4 50.0,39.6 50.5,40.6 51.0,40.8 51.5,39.6 52.0,40.5 52.5,40.5 53.0,39.7 53.5,39.5 54.0,39.9 54.5,40.7 55.0,41.4 55.5,41.3 56.0,40.5 56.5,39.7 57.0,39.7 57.5,40.2 58.0,40.6 58.5,41.5 59.0,42.0 59.5,39.2 60.0,38.3 60.5,39.8 61.0,40.3 61.5,40.6 62.0,40.4 62.5,41.2 63.0,41.2 63.5,38.9 64.0,39.0 64.5,40.5 65.0,41.2 65.5,40.8 66.0,39.7 66.5,38.9 67.0,39.1 67.5,39.9 68.0,40.3 68.5,39.9 69.0,39.2 69.5,38.9 70.0,39.5 70.5,40.3 71.0,40.5 71.5,39.8 72.0,39.1 72.5,39.2 73.0,39.8 73.5,40.1 74.0,39.8 74.5,39.3 75.0,39.2 75.5,39.5 76.0,39.9 76.5,40.2 77.0,40.1 77.5,39.8 78.0,39.9 78.5,40.3 79.0,40.6 79.5,40.5 80.0,40.1 80.5,39.8 81.0,39.8 81.5,40.2 82.0,40.6 82.5,40.7 83.0,40.5 83.5,40.1 84.0,39.9 84.5,40.2 85.0,40.6 85.5,40.6 86.0,40.0 86.5,39.4 87.0,39.5 87.5,40.2 88.0,40.7 88.5,40.4 89.0,39.8 89.5,39.4 90.0,39.7 90.5,40.2 91.0,40.9 91.5,41.3 92.0,41.0 92.5,40.1 93.0,39.3 93.5,39.3 94.0,39.9 94.5,40.7 95.0,41.0 95.5,40.7 96.0,39.8 96.5,39.1 97.0,39.0 97.5,39.5 98.0,40.3 98.5,40.9 99.0,40.9 99.5,40.1 100.0,39.5 100.5,39.7 101.0,40.6 101.5,41.3 102.0,41.0 102.5,40.1 103.0,39.3 103.5,39.7 104.0,40.8 104.5,41.5 105.0,41.0 105.5,40.0 106.0,39.6 106.5,40.0 107.0,40.7 107.5,41.3 108.0,41.3 108.5,40.6 109.0,39.6 109.5,39.2 110.0,39.9 110.5,41.0 111.0,41.3 111.5,40.7 112.0,39.9 112.5,39.6 113.0,40.0 113.5,40.7 114.0,41.1 114.5,40.6 115.0,40.1 115.5,41.3 116.0,39.9 116.5,38.6 117.0,40.4 117.5,40.8 118.0,40.1 118.5,39.8 119.0,40.0 119.5,40.5 120.0,40.9 120.5,40.7 121.1,40.1 121.6,39.8 122.1,40.0 122.6,40.4 123.1,40.6 123.6,40.2 124.1,39.5 124.6,39.4 125.1,39.9 125.6,40.6 126.1,40.8 126.6,40.4 127.1,39.6 127.6,39.5 128.1,40.3 128.6,40.9 129.1,40.9 129.6,40.1 130.1,39.3 130.6,39.2 131.1,39.7 131.6,40.5 132.1,40.9 132.6,40.5 133.1,39.7 133.6,39.5 134.1,40.3 134.6,41.1 135.1,40.9 135.6,40.2 136.1,39.5 136.6,39.1 137.1,39.1 137.6,39.6 138.1,40.1 138.6,40.2 139.1,39.6 139.6,39.0 140.1,39.2 140.6,40.2 141.1,40.7 141.6,40.3 142.1,39.6 142.6,39.3 143.1,39.6 143.6,40.2 144.1,40.7 144.6,40.7 145.1,39.9 145.6,39.2 146.1,39.1 146.6,39.9 147.1,40.5 147.6,41.3 148.1,42.2 148.6,39.3 149.1,38.0 149.6,40.3 150.1,41.2 150.6,41.2 151.1,40.7 151.6,39.9 152.1,39.3 152.6,39.3 153.1,39.9 153.6,40.7 154.1,41.0 154.6,40.4 155.1,39.7 155.6,39.7 156.1,40.4 156.6,41.1 157.1,41.1 157.6,40.7 158.1,40.2 158.6,40.1 159.1,40.5 159.6,41.0 160.1,41.1 160.6,40.6 161.1,40.1 161.6,40.0 162.1,40.5 162.6,41.0 163.1,40.9 163.6,40.4 164.1,40.0 164.6,40.0 165.1,40.2 165.6,40.6 166.1,40.8 166.6,40.6 167.1,40.1 167.6,39.5 168.1,39.3 168.6,39.8 169.1,40.7 169.6,41.2 170.1,41.1 170.6,40.5 171.1,40.2 171.6,40.5 172.1,41.3 172.6,41.4 173.1,40.6 173.6,39.5 174.1,39.2 174.6,39.8 175.1,40.7 175.6,41.0 176.1,40.6 176.6,39.8 177.1,39.4 177.6,39.7 178.1,40.5 178.6,41.0 179.1,40.5 179.6,39.6 180.1,39.0 180.6,39.4 181.1,40.2 181.6,40.5 182.1,40.0 182.6,39.1 183.1,38.8 183.6,39.5 184.1,40.5 184.6,40.7 185.1,40.0 185.6,39.4 186.1,39.6 186.6,40.5 187.1,40.9 187.6,40.3 188.1,39.2 188.6,39.0 189.1,40.1 189.6,41.1 190.1,41.0 190.6,40.1 191.1,39.4 191.6,39.5 192.1,40.1 192.6,40.9 193.1,41.3 193.6,40.9 194.1,39.8 194.6,39.3 195.1,40.1 195.6,40.9 196.1,40.8 196.6,39.9 197.1,39.3 197.6,39.4 198.1,40.0 198.6,40.9 199.1,41.1 199.6,40.5 200.1,39.6 200.6,39.4 201.1,39.7 201.6,40.1 202.1,40.3 202.6,39.9 203.1,39.5 203.6,39.5 204.1,40.1 204.6,40.6 205.1,40.4 205.6,40.1 206.1,39.9 206.6,39.8 207.1,40.2 207.6,40.6 208.1,40.5 208.6,39.9 209.1,39.6 209.6,39.8 210.1,40.4 210.6,40.8 211.1,40.5 211.6,39.9 212.1,39.6 212.6,39.8 213.1,40.4 213.6,41.0" fill="none" stroke="#111" stroke-width="0.6" stroke-opacity="0.8"/>
<text x="26.8" y="40.9" font-size="2.9" text-anchor="end" style="font-weight:normal;fill:#333">Ch8</text>
<polyline points="28.0,42.6 28.5,43.0 29.0,42.7 29.5,42.0 30.0,42.0 30.5,42.9 31.0,43.5 31.5,43.4 32.0,42.8 32.5,42.2 33.0,42.1 33.5,42.8 34.0,43.5 34.5,43.5 35.0,42.6 35.5,41.9 36.0,42.3 36.5,43.3 37.0,44.1 37.5,44.0 38.0,42.9 38.5,42.0 39.0,42.3 39.5,43.2 40.0,43.7 40.5,43.0 41.0,41.9 41.5,41.5 42.0,41.9 42.5,42.6 43.0,43.2 43.5,43.1 44.0,42.4 44.5,41.8 45.0,42.1 45.5,42.8 46.0,43.4 46.5,43.8 47.0,42.4 47.5,40.7 48.0,42.2 48.5,43.1 49.0,42.9 49.5,42.6 50.0,42.1 50.5,42.7 51.0,42.1 51.5,41.9 52.0,43.0 52.5,42.6 53.0,41.9 53.5,42.1 54.0,42.8 54.5,43.2 55.0,42.8 55.5,42.2 56.0,42.2 56.5,42.7 57.0,43.3 57.5,43.2 58.0,42.7 58.5,43.0 59.0,43.0 59.5,41.9 60.0,42.8 60.5,43.2 61.0,42.0 61.5,41.5 62.0,41.9 62.5,43.3 63.0,43.0 63.5,41.4 64.0,41.5 64.5,41.7 65.0,41.8 65.5,42.4 66.0,42.8 66.5,42.4 67.0,41.5 67.5,41.3 68.0,42.1 68.5,43.1 69.0,43.2 69.5,42.4 70.0,41.8 70.5,42.1 71.0,43.0 71.5,43.7 72.0,43.8 72.5,43.4 73.0,43.0 73.5,43.0 74.0,43.4 74.5,43.7 75.0,43.5 75.5,42.7 76.0,42.2 76.5,42.5 77.0,43.3 77.5,43.7 78.0,43.4 78.5,42.7 79.0,42.5 79.5,42.7 80.0,43.2 80.5,43.6 81.0,43.4 81.5,42.9 82.0,42.6 82.5,42.7 83.0,43.1 83.5,43.6 84.0,43.7 84.5,43.3 85.0,42.9 85.5,42.9 86.0,43.4 86.5,43.7 87.0,43.5 87.5,42.9 88.0,42.4 88.5,42.4 89.0,42.7 89.5,42.9 90.0,42.7 90.5,42.3 91.0,42.0 91.5,42.3 92.0,42.9 92.5,43.1 93.0,43.0 93.5,42.3 94.0,41.7 94.5,41.7 95.0,42.4 95.5,43.1 96.0,43.1 96.5,42.4 97.0,41.7 97.5,41.5 98.0,42.0 98.5,42.9 99.0,43.6 99.5,43.3 100.0,42.2 100.5,41.6 101.0,42.3 101.5,43.4 102.0,43.2 102.5,42.0 103.0,41.4 103.5,42.1 104.0,43.2 104.5,43.4 105.0,42.8 105.5,42.2 106.0,42.3 106.5,43.1 107.0,43.8 107.5,43.6 108.0,42.7 108.5,42.0 109.0,42.0 109.5,42.9 110.0,43.7 110.5,43.4 111.0,42.4 111.5,42.2 112.0,43.0 112.5,44.0 113.0,44.6 113.5,44.1 114.0,43.0 114.5,42.4 115.0,43.8 115.5,45.1 116.0,42.8 116.5,41.5 117.0,42.4 117.5,43.0 118.0,43.6 118.5,43.7 119.0,43.1 119.5,42.3 120.0,42.2 120.5,43.0 121.1,43.8 121.6,43.7 122.1,42.6 122.6,41.8 123.1,42.4 123.6,43.5 124.1,43.6 124.6,42.6 125.1,41.9 125.6,42.1 126.1,43.0 126.6,43.7 127.1,43.5 127.6,42.7 128.1,42.1 128.6,42.0 129.1,42.6 129.6,43.4 130.1,43.6 130.6,43.0 131.1,42.5 131.6,42.6 132.1,43.3 132.6,44.0 133.1,44.1 133.6,43.3 134.1,42.4 134.6,42.4 135.1,43.2 135.6,43.6 136.1,43.2 136.6,42.6 137.1,42.3 137.6,42.6 138.1,43.2 138.6,43.4 139.1,43.1 139.6,42.7 140.1,42.7 140.6,42.9 141.1,43.3 141.6,43.4 142.1,43.1 142.6,42.4 143.1,42.2 143.6,42.7 144.1,43.3 144.6,43.4 145.1,43.1 145.6,42.7 146.1,42.8 146.6,43.2 147.1,43.5 147.6,43.9 148.1,43.3 148.6,41.0 149.1,41.5 149.6,43.1 150.1,43.0 150.6,42.5 151.1,42.0 151.6,41.9 152.1,42.4 152.6,42.9 153.1,42.6 153.6,41.9 154.1,41.9 154.6,42.5 155.1,43.2 155.6,43.3 156.1,42.5 156.6,41.6 157.1,41.5 157.6,42.2 158.1,43.0 158.6,43.5 159.1,43.2 159.6,42.4 160.1,41.7 160.6,41.7 161.1,42.4 161.6,43.3 162.1,43.4 162.6,42.6 163.1,41.5 163.6,41.6 164.1,42.8 164.6,43.4 165.1,42.8 165.6,41.9 166.1,41.7 166.6,42.5 167.1,43.5 167.6,43.7 168.1,43.0 168.6,42.1 169.1,42.0 169.6,42.6 170.1,43.4 170.6,43.7 171.1,43.1 171.6,42.1 172.1,41.9 172.6,42.7 173.1,43.6 173.6,43.2 174.1,42.1 174.6,41.5 175.1,42.0 175.6,42.8 176.1,42.8 176.6,42.0 177.1,41.4 177.6,41.5 178.1,42.1 178.6,42.9 179.1,43.2 179.6,42.7 180.1,41.7 180.6,41.3 181.1,41.9 181.6,42.7 182.1,42.6 182.6,42.0 183.1,41.6 183.6,41.8 184.1,42.7 184.6,43.2 185.1,42.7 185.6,42.0 186.1,42.0 186.6,42.7 187.1,43.2 187.6,43.0 188.1,42.3 188.6,41.9 189.1,42.4 189.6,43.1 190.1,43.1 190.6,42.4 191.1,41.9 191.6,42.2 192.1,42.9 192.6,43.3 193.1,43.0 193.6,42.4 194.1,42.2 194.6,42.7 195.1,43.3 195.6,43.4 196.1,42.9 196.6,42.3 197.1,42.3 197.6,42.9 198.1,43.6 198.6,43.8 199.1,43.1 199.6,42.2 200.1,42.4 200.6,43.2 201.1,43.6 201.6,42.8 202.1,41.7 202.6,41.5 203.1,42.4 203.6,43.5 204.1,43.9 204.6,43.4 205.1,42.5 205.6,42.1 206.1,42.6 206.6,43.6 207.1,44.0 207.6,43.2 208.1,42.1 208.6,41.5 209.1,41.7 209.6,42.5 210.1,43.4 210.6,43.6 211.1,42.8 211.6,42.1 212.1,42.2 212.6,43.1 213.1,43.7 213.6,43.0" fill="none" stroke="#111" stroke-width="0.6" stroke-opacity="0.8"/>
<text x="26.8" y="43.6" font-size="2.9" text-anchor="end" style="font-weight:normal;fill:#333">Ch9</text>
<polyline points="28.0,46.3 28.5,46.4 29.0,45.6 29.5,44.8 30.0,44.7 30.5,45.3 31.0,46.0 31.5,46.4 32.0,45.8 32.5,44.8 33.0,44.9 33.5,46.1 34.0,46.7 34.5,46.1 35.0,45.1 35.5,44.9 36.0,45.6 36.5,46.4 37.0,46.1 37.5,45.2 38.0,44.9 38.5,45.4 39.0,46.2 39.5,46.5 40.0,46.3 40.5,45.6 41.0,45.1 41.5,45.2 42.0,45.7 42.5,45.9 43.0,45.5 43.5,45.0 44.0,45.1 44.5,45.5 45.0,45.6 45.5,45.3 46.0,44.8 46.5,44.7 47.0,45.6 47.5,46.0 48.0,45.6 48.5,45.5 49.0,44.8 49.5,44.4 50.0,44.8 50.5,45.5 51.0,46.2 51.5,45.8 52.0,44.9 52.5,44.6 53.0,44.9 53.5,45.9 54.0,46.5 54.5,46.2 55.0,45.3 55.5,44.5 56.0,44.6 56.5,45.5 57.0,46.0 57.5,45.5 58.0,44.4 58.5,44.1 59.0,45.2 59.5,46.0 60.0,45.2 60.5,44.4 61.0,43.9 61.5,44.1 62.0,44.7 62.5,45.2 63.0,45.3 63.5,44.3 64.0,43.4 64.5,43.9 65.0,45.1 65.5,45.4 66.0,44.7 66.5,44.1 67.0,44.6 67.5,45.5 68.0,45.7 68.5,44.9 69.0,43.8 69.5,43.8 70.0,44.7 70.5,45.5 71.0,45.6 71.5,45.1 72.0,44.7 72.5,45.0 73.0,45.7 73.5,46.1 74.0,45.6 74.5,44.7 75.0,44.4 75.5,44.9 76.0,45.7 76.5,45.8 77.0,45.2 77.5,44.8 78.0,45.3 78.5,46.1 79.0,46.4 79.5,45.8 80.0,45.1 80.5,45.0 81.0,45.7 81.5,46.3 82.0,46.1 82.5,45.2 83.0,44.6 83.5,44.9 84.0,45.7 84.5,46.4 85.0,46.2 85.5,45.5 86.0,45.1 86.5,45.3 87.0,46.0 87.5,46.3 88.0,45.8 88.5,44.8 89.0,44.5 89.5,45.2 90.0,46.0 90.5,46.0 91.0,45.0 91.5,44.5 92.0,45.3 92.5,46.4 93.0,46.6 93.5,45.5 94.0,44.5 94.5,44.7 95.0,45.8 95.5,46.3 96.0,45.7 96.5,44.8 97.0,45.1 97.5,46.2 98.0,46.8 98.5,46.4 99.0,45.5 99.5,45.1 100.0,45.6 100.5,46.1 101.0,45.9 101.5,45.1 102.0,44.6 102.5,45.0 103.0,45.9 103.5,46.4 104.0,46.0 104.5,45.3 105.0,45.0 105.5,45.4 106.0,45.9 106.5,45.5 107.0,44.5 107.5,44.1 108.0,45.0 108.5,46.0 109.0,46.0 109.5,45.1 110.0,44.4 110.5,44.7 111.0,45.7 111.5,46.5 112.0,46.2 112.5,45.1 113.0,44.5 113.5,44.8 114.0,45.8 114.5,46.3 115.0,45.7 115.5,44.9 116.0,45.1 116.5,45.6 117.0,46.3 117.5,46.0 118.0,44.9 118.5,44.3 119.0,44.9 119.5,45.9 120.0,46.0 120.5,44.7 121.1,44.0 121.6,44.9 122.1,46.0 122.6,46.1 123.1,45.5 123.6,45.0 124.1,45.0 124.6,45.5 125.1,46.0 125.6,45.6 126.1,44.8 126.6,44.6 127.1,45.1 127.6,45.8 128.1,45.7 128.6,44.8 129.1,44.5 129.6,45.0 130.1,45.6 130.6,45.5 131.1,44.8 131.6,44.3 132.1,44.8 132.6,45.5 133.1,45.6 133.6,45.1 134.1,44.5 134.6,44.5 135.1,45.0 135.6,45.8 136.1,45.8 136.6,45.1 137.1,44.4 137.6,44.7 138.1,45.3 138.6,45.4 139.1,44.9 139.6,44.3 140.1,44.4 140.6,45.1 141.1,45.9 141.6,46.1 142.1,45.3 142.6,44.5 143.1,44.9 143.6,46.0 144.1,46.2 144.6,45.2 145.1,44.2 145.6,44.1 146.1,45.1 146.6,46.1 147.1,46.0 147.6,44.9 148.1,44.7 148.6,45.6 149.1,46.1 149.6,46.1 150.1,45.2 150.6,44.2 151.1,44.5 151.6,45.4 152.1,46.0 152.6,45.6 153.1,44.6 153.6,44.0 154.1,44.6 154.6,45.9 155.1,46.3 155.6,45.4 156.1,44.4 156.6,44.6 157.1,45.7 157.6,45.9 158.1,45.2 158.6,44.6 159.1,44.8 159.6,45.3 160.1,45.7 160.6,45.6 161.1,45.3 161.6,45.1 162.1,45.5 162.6,45.9 163.1,45.7 163.6,45.0 164.1,44.6 164.6,44.9 165.1,45.5 165.6,45.9 166.1,45.7 166.6,45.2 167.1,45.0 167.6,45.4 168.1,46.1 168.6,46.4 169.1,45.8 169.6,44.8 170.1,44.8 170.6,45.6 171.1,45.9 171.6,45.1 172.1,44.4 172.6,44.7 173.1,45.5 173.6,45.9 174.1,45.7 174.6,45.1 175.1,44.9 175.6,45.3 176.1,45.9 176.6,46.1 177.1,45.8 177.6,45.1 178.1,44.8 178.6,45.1 179.1,45.9 179.6,46.6 180.1,46.5 180.6,45.9 181.1,45.4 181.6,45.5 182.1,46.3 182.6,46.8 183.1,46.6 183.6,45.7 184.1,45.0 184.6,45.2 185.1,46.1 185.6,46.7 186.1,46.4 186.6,45.6 187.1,45.4 187.6,46.0 188.1,46.8 188.6,47.0 189.1,46.2 189.6,45.1 190.1,44.9 190.6,45.7 191.1,46.4 191.6,46.2 192.1,45.3 192.6,44.6 193.1,44.8 193.6,45.5 194.1,46.2 194.6,46.2 195.1,45.2 195.6,44.4 196.1,44.9 196.6,45.7 197.1,46.0 197.6,45.5 198.1,44.7 198.6,44.4 199.1,45.0 199.6,45.8 200.1,45.8 200.6,45.2 201.1,44.8 201.6,45.1 202.1,45.9 202.6,46.2 203.1,45.8 203.6,45.1 204.1,44.8 204.6,45.3 205.1,45.8 205.6,46.0 206.1,45.5 206.6,44.8 207.1,44.9 207.6,45.8 208.1,46.3 208.6,45.7 209.1,44.7 209.6,44.4 210.1,45.3 210.6,46.0 211.1,45.6 211.6,44.6 212.1,44.6 212.6,45.5 213.1,46.2 213.6,46.0" fill="none" stroke="#111" stroke-width="0.6" stroke-opacity="0.8"/>
<text x="26.8" y="46.4" font-size="2.9" text-anchor="end" style="font-weight:normal;fill:#333">Ch10</text>
<polyline points="28.0,48.5 28.5,47.8 29.0,47.6 29.5,48.1 30.0,48.7 30.5,49.0 31.0,48.8 31.5,48.3 32.0,47.8 32.5,47.6 33.0,48.1 33.5,48.7 34.0,48.8 34.5,48.4 35.0,47.9 35.5,47.8 36.0,48.2 36.5,48.8 37.0,49.0 37.5,48.6 38.0,48.2 38.5,48.0 39.0,48.1 39.5,48.5 40.0,48.8 40.5,48.5 41.0,48.0 41.5,47.9 42.0,48.3 42.5,48.5 43.0,48.5 43.5,48.4 44.0,48.2 44.5,47.9 45.0,47.6 45.5,47.7 46.0,48.0 46.5,48.1 47.0,48.3 47.5,48.2 48.0,47.1 48.5,46.9 49.0,47.6 49.5,48.4 50.0,48.6 50.5,47.8 51.0,47.4 51.5,47.6 52.0,47.8 52.5,48.4 53.0,48.8 53.5,48.6 54.0,48.0 54.5,47.4 55.0,47.3 55.5,47.9 56.0,48.7 56.5,48.9 57.0,48.1 57.5,47.2 58.0,47.1 58.5,47.8 59.0,49.1 59.5,50.2 60.0,49.3 60.5,48.1 61.0,48.0 61.5,48.5 62.0,49.3 62.5,49.4 63.0,49.1 63.5,48.6 64.0,47.7 64.5,47.6 65.0,48.2 65.5,48.9 66.0,49.1 66.5,48.8 67.0,48.2 67.5,47.8 68.0,47.7 68.5,48.1 69.0,48.6 69.5,48.7 70.0,48.2 70.5,47.5 71.0,47.0 71.5,47.1 72.0,47.6 72.5,48.4 73.0,48.6 73.5,48.0 74.0,47.3 74.5,47.3 75.0,48.0 75.5,48.5 76.0,48.7 76.5,48.3 77.0,47.5 77.5,47.0 78.0,47.4 78.5,48.4 79.0,48.8 79.5,48.2 80.0,47.4 80.5,47.2 81.0,47.9 81.5,48.7 82.0,49.1 82.5,48.8 83.0,48.2 83.5,47.7 84.0,47.5 84.5,47.7 85.0,48.2 85.5,48.5 86.0,48.4 86.5,47.8 87.0,47.1 87.5,46.8 88.0,47.2 88.5,47.8 89.0,48.4 89.5,48.5 90.0,48.0 90.5,47.4 91.0,47.3 91.5,47.8 92.0,48.4 92.5,48.5 93.0,48.0 93.5,47.5 94.0,47.5 94.5,48.2 95.0,48.8 95.5,48.7 96.0,48.0 96.5,47.4 97.0,47.5 97.5,48.2 98.0,49.0 98.5,49.2 99.0,48.9 99.5,48.3 100.0,47.9 100.5,47.8 101.0,48.2 101.5,48.8 102.0,49.1 102.5,48.7 103.0,48.1 103.5,47.7 104.0,48.1 104.5,48.7 105.0,49.0 105.5,48.8 106.0,48.3 106.5,47.7 107.0,47.6 107.5,47.9 108.0,48.4 108.5,48.5 109.0,48.2 109.5,47.7 110.0,47.6 110.5,47.9 111.0,48.3 111.5,48.5 112.0,48.4 112.5,48.0 113.0,47.7 113.5,48.0 114.0,48.5 114.5,48.8 115.0,48.1 115.5,47.0 116.0,47.2 116.5,47.6 117.0,48.1 117.5,49.1 118.0,49.2 118.5,48.6 119.0,47.8 119.5,47.4 120.0,47.7 120.5,48.5 121.1,49.1 121.6,48.8 122.1,47.9 122.6,47.2 123.1,47.1 123.6,47.7 124.1,48.5 124.6,48.8 125.1,48.3 125.6,47.6 126.1,47.4 126.6,48.0 127.1,49.0 127.6,49.5 128.1,49.2 128.6,48.4 129.1,47.6 129.6,47.4 130.1,48.1 130.6,48.9 131.1,49.2 131.6,48.7 132.1,47.9 132.6,47.2 133.1,47.3 133.6,48.0 134.1,48.7 134.6,48.8 135.1,48.3 135.6,47.8 136.1,47.8 136.6,48.3 137.1,48.8 137.6,48.9 138.1,48.7 138.6,48.2 139.1,47.8 139.6,47.9 140.1,48.4 140.6,48.6 141.1,48.4 141.6,48.1 142.1,48.0 142.6,48.4 143.1,49.0 143.6,49.2 144.1,49.1 144.6,48.9 145.1,48.4 145.6,48.2 146.1,48.8 146.6,49.4 147.1,49.4 147.6,48.4 148.1,47.6 148.6,48.2 149.1,48.7 149.6,49.0 150.1,49.1 150.6,48.4 151.1,47.5 151.6,47.4 152.1,48.2 152.6,48.9 153.1,48.5 153.6,47.5 154.1,47.1 154.6,47.7 155.1,48.5 155.6,48.8 156.1,48.5 156.6,47.9 157.1,47.6 157.6,47.9 158.1,48.3 158.6,48.8 159.1,49.0 159.6,48.9 160.1,48.3 160.6,47.9 161.1,48.0 161.6,48.4 162.1,48.6 162.6,48.4 163.1,47.8 163.6,47.5 164.1,47.8 164.6,48.4 165.1,48.6 165.6,48.1 166.1,47.4 166.6,47.1 167.1,47.5 167.6,48.1 168.1,48.5 168.6,48.5 169.1,47.8 169.6,47.1 170.1,47.0 170.6,47.7 171.1,48.6 171.6,48.8 172.1,48.0 172.6,47.1 173.1,46.9 173.6,47.7 174.1,48.7 174.6,49.0 175.1,48.3 175.6,47.2 176.1,46.8 176.6,47.5 177.1,48.4 177.6,48.9 178.1,48.3 178.6,47.2 179.1,46.8 179.6,47.1 180.1,47.9 180.6,48.8 181.1,49.0 181.6,48.2 182.1,47.1 182.6,46.7 183.1,47.2 183.6,48.4 184.1,49.0 184.6,48.5 185.1,47.5 185.6,47.1 186.1,47.9 186.6,49.1 187.1,49.7 187.6,49.2 188.1,48.0 188.6,47.2 189.1,47.4 189.6,48.1 190.1,49.0 190.6,49.2 191.1,48.4 191.6,47.6 192.1,47.8 192.6,49.0 193.1,49.8 193.6,49.5 194.1,48.6 194.6,47.9 195.1,47.9 195.6,48.6 196.1,49.4 196.6,49.2 197.1,48.3 197.6,47.5 198.1,47.6 198.6,48.2 199.1,48.9 199.6,49.1 200.1,48.7 200.6,48.2 201.1,48.0 201.6,48.2 202.1,48.6 202.6,49.1 203.1,49.0 203.6,48.4 204.1,48.0 204.6,47.9 205.1,48.1 205.6,48.6 206.1,48.9 206.6,48.9 207.1,48.6 207.6,48.4 208.1,48.5 208.6,48.6 209.1,48.8 209.6,48.8 210.1,48.4 210.6,47.8 211.1,47.6 211.6,47.9 212.1,48.4 212.6,48.4 213.1,47.8 213.6,47.3" fill="none" stroke="#111" stroke-width="0.6" stroke-opacity="0.8"/>
<text x="26.8" y="49.1" font-size="2.9" text-anchor="end" style="font-weight:normal;fill:#333">Ch11</text>
<polyline points="28.0,52.1 28.5,52.5 29.0,51.8 29.5,50.9 30.0,50.4 30.5,50.8 31.0,51.7 31.5,52.4 32.0,52.3 32.5,51.5 33.0,50.8 33.5,50.9 34.0,51.6 34.5,52.2 35.0,52.1 35.5,51.5 36.0,51.0 36.5,51.0 37.0,51.2 37.5,51.6 38.0,51.9 38.5,51.7 39.0,51.0 39.5,50.4 40.0,50.6 40.5,51.3 41.0,51.9 41.5,51.8 42.0,51.0 42.5,50.4 43.0,50.4 43.5,51.0 44.0,51.6 44.5,51.7 45.0,51.2 45.5,50.4 46.0,49.9 46.5,51.0 47.0,52.4 47.5,50.6 48.0,49.4 48.5,50.1 49.0,50.1 49.5,50.5 50.0,51.0 50.5,51.8 51.0,51.9 51.5,50.0 52.0,49.7 52.5,50.8 53.0,51.5 53.5,51.5 54.0,50.9 54.5,50.0 55.0,49.5 55.5,50.0 56.0,50.8 56.5,51.0 57.0,50.4 57.5,49.7 58.0,49.5 58.5,50.5 59.0,52.1 59.5,51.1 60.0,49.8 60.5,50.5 61.0,50.5 61.5,50.4 62.0,50.4 62.5,50.9 63.0,51.7 63.5,50.5 64.0,49.9 64.5,50.5 65.0,51.0 65.5,51.2 66.0,51.1 66.5,50.8 67.0,50.7 67.5,50.9 68.0,51.2 68.5,51.3 69.0,50.9 69.5,50.3 70.0,50.0 70.5,50.3 71.0,51.0 71.5,51.6 72.0,51.5 72.5,50.8 73.0,50.1 73.5,50.2 74.0,50.7 74.5,51.1 75.0,51.1 75.5,50.7 76.0,50.1 76.5,50.1 77.0,50.7 77.5,51.4 78.0,51.6 78.5,51.4 79.0,51.0 79.5,50.7 80.0,51.0 80.5,51.8 81.0,52.0 81.5,51.4 82.0,50.7 82.5,50.4 83.0,50.8 83.5,51.4 84.0,51.7 84.5,51.2 85.0,50.5 85.5,50.0 86.0,50.1 86.5,50.7 87.0,51.4 87.5,51.3 88.0,50.7 88.5,50.1 89.0,50.0 89.5,50.4 90.0,51.1 90.5,51.5 91.0,51.1 91.5,50.2 92.0,49.8 92.5,50.4 93.0,51.6 93.5,51.9 94.0,51.4 94.5,50.6 95.0,50.3 95.5,50.8 96.0,51.6 96.5,51.9 97.0,51.2 97.5,50.2 98.0,49.8 98.5,50.3 99.0,51.0 99.5,51.5 100.0,51.5 100.5,51.0 101.0,50.4 101.5,50.3 102.0,50.9 102.5,51.7 103.0,52.0 103.5,51.4 104.0,50.3 104.5,49.7 105.0,50.1 105.5,50.9 106.0,51.4 106.5,51.0 107.0,50.1 107.5,49.8 108.0,50.5 108.5,51.5 109.0,51.8 109.5,51.2 110.0,50.1 110.5,49.7 111.0,50.3 111.5,51.4 112.0,51.7 112.5,51.0 113.0,50.1 113.5,50.0 114.0,50.9 114.5,51.8 115.0,51.9 115.5,52.2 116.0,51.1 116.5,49.2 117.0,50.5 117.5,51.7 118.0,51.5 118.5,50.5 119.0,49.6 119.5,49.6 120.0,50.5 120.5,51.4 121.1,51.5 121.6,50.7 122.1,50.0 122.6,50.0 123.1,50.7 123.6,51.5 124.1,51.6 124.6,51.1 125.1,50.3 125.6,50.1 126.1,50.7 126.6,51.3 127.1,51.6 127.6,51.4 128.1,50.9 128.6,50.7 129.1,51.0 129.6,51.5 130.1,51.8 130.6,51.7 131.1,51.5 131.6,51.1 132.1,50.8 132.6,50.7 133.1,50.9 133.6,51.3 134.1,51.3 134.6,51.0 135.1,50.6 135.6,50.6 136.1,51.0 136.6,51.4 137.1,51.4 137.6,51.1 138.1,50.7 138.6,50.6 139.1,50.8 139.6,51.3 140.1,51.7 140.6,51.7 141.1,51.0 141.6,50.4 142.1,50.6 142.6,51.4 143.1,52.0 143.6,51.9 144.1,51.4 144.6,51.1 145.1,51.1 145.6,51.5 146.1,52.0 146.6,52.0 147.1,51.2 147.6,50.4 148.1,51.5 148.6,51.3 149.1,50.6 149.6,51.9 150.1,52.1 150.6,51.2 151.1,50.8 151.6,51.2 152.1,51.9 152.6,52.1 153.1,51.8 153.6,51.4 154.1,50.8 154.6,50.8 155.1,51.2 155.6,51.6 156.1,51.6 156.6,51.1 157.1,50.4 157.6,50.3 158.1,50.8 158.6,51.4 159.1,51.3 159.6,50.6 160.1,50.1 160.6,50.2 161.1,50.6 161.6,51.1 162.1,51.2 162.6,50.8 163.1,50.3 163.6,50.3 164.1,50.7 164.6,51.3 165.1,51.7 165.6,51.4 166.1,50.8 166.6,50.6 167.1,51.0 167.6,51.6 168.1,51.5 168.6,51.0 169.1,50.5 169.6,50.4 170.1,50.7 170.6,50.9 171.1,50.8 171.6,50.7 172.1,50.7 172.6,50.7 173.1,50.8 173.6,51.0 174.1,51.3 174.6,51.2 175.1,50.7 175.6,50.2 176.1,50.0 176.6,50.2 177.1,50.6 177.6,50.9 178.1,50.6 178.6,50.3 179.1,50.4 179.6,51.0 180.1,51.3 180.6,51.2 181.1,50.7 181.6,50.5 182.1,50.7 182.6,51.1 183.1,51.3 183.6,50.9 184.1,50.5 184.6,50.3 185.1,50.6 185.6,51.2 186.1,51.6 186.6,51.5 187.1,51.1 187.6,51.0 188.1,51.2 188.6,51.6 189.1,51.8 189.6,51.6 190.1,51.1 190.6,50.8 191.1,50.8 191.6,51.2 192.1,51.9 192.6,52.2 193.1,51.9 193.6,51.2 194.1,50.7 194.6,50.6 195.1,51.3 195.6,52.1 196.1,52.4 196.6,52.2 197.1,51.6 197.6,50.9 198.1,50.9 198.6,51.7 199.1,52.3 199.6,51.9 200.1,51.1 200.6,50.3 201.1,50.3 201.6,51.3 202.1,52.5 202.6,53.0 203.1,52.4 203.6,51.2 204.1,50.5 204.6,50.9 205.1,51.8 205.6,52.1 206.1,51.6 206.6,50.7 207.1,50.3 207.6,50.6 208.1,51.4 208.6,52.1 209.1,52.1 209.6,51.4 210.1,50.6 210.6,50.4 211.1,51.1 211.6,51.8 212.1,51.6 212.6,50.7 213.1,50.2 213.6,50.7" fill="none" stroke="#111" stroke-width="0.6" stroke-opacity="0.8"/>
<text x="26.8" y="51.9" font-size="2.9" text-anchor="end" style="font-weight:normal;fill:#333">Ch12</text>
<polyline points="28.0,52.6 28.5,53.4 29.0,54.1 29.5,54.1 30.0,53.6 30.5,52.9 31.0,52.8 31.5,53.6 32.0,54.3 32.5,54.4 33.0,53.9 33.5,53.5 34.0,53.6 34.5,54.1 35.0,54.4 35.5,54.0 36.0,53.5 36.5,53.6 37.0,54.2 37.5,54.5 38.0,54.1 38.5,53.5 39.0,53.4 39.5,54.0 40.0,54.5 40.5,54.5 41.0,53.8 41.5,53.3 42.0,53.5 42.5,54.0 43.0,54.2 43.5,53.8 44.0,53.4 44.5,53.4 45.0,53.8 45.5,54.3 46.0,54.1 46.5,53.0 47.0,53.7 47.5,54.9 48.0,53.6 48.5,53.5 49.0,53.9 49.5,53.6 50.0,53.1 50.5,52.6 51.0,54.2 51.5,55.1 52.0,53.6 52.5,53.0 53.0,53.3 53.5,53.9 54.0,54.2 54.5,53.8 55.0,53.2 55.5,53.1 56.0,53.4 56.5,54.1 57.0,54.5 57.5,54.3 58.0,53.6 58.5,52.8 59.0,53.7 59.5,55.9 60.0,55.1 60.5,53.7 61.0,53.3 61.5,53.3 62.0,53.7 62.5,53.4 63.0,53.9 63.5,54.2 64.0,52.9 64.5,53.1 65.0,54.2 65.5,54.8 66.0,54.4 66.5,53.3 67.0,52.8 67.5,53.7 68.0,54.8 68.5,54.9 69.0,54.0 69.5,53.2 70.0,52.8 70.5,53.3 71.0,54.3 71.5,55.1 72.0,54.8 72.5,53.6 73.0,53.0 73.5,53.8 74.0,54.9 74.5,54.6 75.0,53.4 75.5,53.0 76.0,53.8 76.5,54.9 77.0,55.0 77.5,54.1 78.0,53.2 78.5,53.5 79.0,54.4 79.5,54.9 80.0,54.1 80.5,53.0 81.0,52.8 81.5,53.7 82.0,54.4 82.5,54.2 83.0,53.4 83.5,52.8 84.0,52.9 84.5,53.7 85.0,54.4 85.5,54.5 86.0,53.9 86.5,53.1 87.0,52.8 87.5,53.2 88.0,54.0 88.5,54.2 89.0,53.4 89.5,52.5 90.0,52.6 90.5,53.5 91.0,54.5 91.5,54.8 92.0,54.2 92.5,53.4 93.0,53.4 93.5,54.2 94.0,54.6 94.5,53.9 95.0,52.7 95.5,52.3 96.0,53.0 96.5,54.2 97.0,54.6 97.5,54.1 98.0,53.3 98.5,53.0 99.0,53.2 99.5,53.9 100.0,54.4 100.5,54.1 101.0,53.3 101.5,52.8 102.0,53.1 102.5,53.8 103.0,54.2 103.5,53.8 104.0,53.1 104.5,53.2 105.0,54.1 105.5,54.7 106.0,54.5 106.5,53.8 107.0,53.1 107.5,53.0 108.0,53.5 108.5,54.0 109.0,54.0 109.5,53.3 110.0,52.9 110.5,53.4 111.0,54.1 111.5,53.9 112.0,53.3 112.5,52.9 113.0,53.0 113.5,53.4 114.0,53.5 114.5,53.3 115.0,52.2 115.5,52.0 116.0,54.7 116.5,55.0 117.0,53.3 117.5,52.7 118.0,52.8 118.5,53.5 119.0,54.3 119.5,54.2 120.0,53.3 120.5,52.7 121.1,53.3 121.6,54.1 122.1,54.0 122.6,53.3 123.1,52.9 123.6,53.2 124.1,53.9 124.6,54.4 125.1,53.9 125.6,53.1 126.1,52.9 126.6,53.5 127.1,54.0 127.6,53.9 128.1,53.4 128.6,52.9 129.1,52.9 129.6,53.5 130.1,54.2 130.6,54.1 131.1,53.5 131.6,53.3 132.1,53.8 132.6,54.5 133.1,54.5 133.6,54.0 134.1,53.6 134.6,53.6 135.1,53.9 135.6,54.3 136.1,54.3 136.6,53.6 137.1,53.1 137.6,53.4 138.1,54.2 138.6,54.5 139.1,54.0 139.6,53.1 140.1,52.9 140.6,53.6 141.1,54.1 141.6,53.8 142.1,53.3 142.6,53.4 143.1,53.9 143.6,54.3 144.1,54.3 144.6,54.0 145.1,53.5 145.6,53.2 146.1,53.4 146.6,54.0 147.1,54.4 147.6,53.4 148.1,52.8 148.6,54.6 149.1,54.3 149.6,53.9 150.1,54.8 150.6,54.8 151.1,54.1 151.6,53.4 152.1,53.5 152.6,54.1 153.1,54.6 153.6,54.4 154.1,53.4 154.6,52.9 155.1,53.7 155.6,54.8 156.1,55.1 156.6,54.6 157.1,53.8 157.6,53.2 158.1,53.4 158.6,54.3 159.1,55.1 159.6,55.0 160.1,54.0 160.6,53.0 161.1,53.0 161.6,54.0 162.1,54.9 162.6,54.9 163.1,54.1 163.6,53.3 164.1,53.3 164.6,54.0 165.1,55.0 165.6,55.3 166.1,54.3 166.6,53.1 167.1,53.1 167.6,54.1 168.1,54.8 168.6,54.4 169.1,53.6 169.6,53.4 170.1,54.0 170.6,54.7 171.1,55.1 171.6,54.7 172.1,53.8 172.6,53.5 173.1,54.2 173.6,54.9 174.1,54.3 174.6,53.0 175.1,52.5 175.6,53.4 176.1,54.6 176.6,54.5 177.1,53.3 177.6,52.9 178.1,53.7 178.6,54.4 179.1,54.1 179.6,53.1 180.1,52.4 180.6,52.8 181.1,53.9 181.6,54.6 182.1,54.0 182.6,53.0 183.1,52.9 183.6,53.8 184.1,54.6 184.6,54.5 185.1,53.6 185.6,52.8 186.1,53.0 186.6,53.8 187.1,54.1 187.6,53.5 188.1,52.8 188.6,52.7 189.1,53.2 189.6,53.8 190.1,53.7 190.6,53.1 191.1,52.6 191.6,52.8 192.1,53.4 192.6,53.6 193.1,53.3 193.6,52.9 194.1,53.1 194.6,53.8 195.1,54.3 195.6,54.2 196.1,53.8 196.6,53.7 197.1,54.0 197.6,54.5 198.1,54.5 198.6,53.9 199.1,53.1 199.6,53.0 200.1,53.8 200.6,54.8 201.1,55.0 201.6,54.1 202.1,53.2 202.6,53.6 203.1,54.6 203.6,54.9 204.1,54.1 204.6,53.1 205.1,52.8 205.6,53.5 206.1,54.4 206.6,54.4 207.1,53.6 207.6,52.9 208.1,53.1 208.6,54.2 209.1,55.0 209.6,54.7 210.1,53.6 210.6,53.0 211.1,53.7 211.6,54.6 212.1,54.7 212.6,54.0 213.1,53.5 213.6,53.5" fill="none" stroke="#111" stroke-width="0.6" stroke-opacity="0.8"/>
<text x="26.8" y="54.6" font-size="2.9" text-anchor="end" style="font-weight:normal;fill:#333">Ch13</text>
<polyline points="28.0,56.3 28.5,56.1 29.0,56.6 29.5,57.4 30.0,57.3 30.5,56.5 31.0,56.1 31.5,56.5 32.0,57.3 32.5,57.4 33.0,56.8 33.5,56.4 34.0,56.7 34.5,57.2 35.0,57.5 35.5,57.4 36.0,57.1 36.5,56.7 37.0,56.6 37.5,57.1 38.0,57.5 38.5,57.4 39.0,56.7 39.5,56.0 40.0,56.3 40.5,57.3 41.0,57.7 41.5,56.9 42.0,56.2 42.5,56.5 43.0,57.4 43.5,57.6 44.0,56.7 44.5,55.6 45.0,55.4 45.5,56.2 46.0,56.9 46.5,56.9 47.0,55.7 47.5,54.8 48.0,55.6 48.5,56.7 49.0,57.2 49.5,56.6 50.0,55.7 50.5,55.6 51.0,55.9 51.5,56.6 52.0,57.1 52.5,56.3 53.0,55.3 53.5,55.3 54.0,56.4 54.5,57.5 55.0,57.0 55.5,55.6 56.0,55.3 56.5,56.4 57.0,57.4 57.5,57.1 58.0,55.8 58.5,55.2 59.0,55.5 59.5,56.4 60.0,57.3 60.5,56.8 61.0,55.6 61.5,55.4 62.0,56.2 62.5,57.2 63.0,56.9 63.5,55.9 64.0,55.3 64.5,55.3 65.0,55.9 65.5,56.2 66.0,55.9 66.5,55.3 67.0,55.2 67.5,55.9 68.0,56.6 68.5,56.5 69.0,56.0 69.5,56.0 70.0,56.6 70.5,56.9 71.0,56.6 71.5,56.0 72.0,56.0 72.5,56.6 73.0,57.3 73.5,57.5 74.0,56.9 74.5,56.3 75.0,56.5 75.5,57.2 76.0,57.5 76.5,56.7 77.0,55.6 77.5,55.4 78.0,56.2 78.5,57.0 79.0,56.9 79.5,56.1 80.0,55.7 80.5,56.3 81.0,57.1 81.5,57.0 82.0,55.9 82.5,55.1 83.0,55.7 83.5,56.7 84.0,56.8 84.5,56.1 85.0,55.5 85.5,55.5 86.0,56.1 86.5,56.8 87.0,57.3 87.5,57.0 88.0,56.1 88.5,55.6 89.0,56.2 89.5,57.1 90.0,56.9 90.5,56.0 91.0,55.4 91.5,55.5 92.0,56.3 92.5,57.0 93.0,57.2 93.5,56.7 94.0,56.1 94.5,56.3 95.0,56.8 95.5,57.1 96.0,56.6 96.5,55.8 97.0,55.7 97.5,56.3 98.0,56.8 98.5,56.6 99.0,55.9 99.5,55.6 100.0,56.2 100.5,57.0 101.0,57.1 101.5,56.4 102.0,55.4 102.5,55.1 103.0,55.8 103.5,56.6 104.0,56.5 104.5,55.8 105.0,55.4 105.5,55.7 106.0,56.4 106.5,56.6 107.0,56.1 107.5,55.5 108.0,55.4 108.5,55.8 109.0,56.2 109.5,56.3 110.0,56.0 110.5,55.7 111.0,55.9 111.5,56.6 112.0,57.0 112.5,56.5 113.0,55.6 113.5,55.4 114.0,56.3 114.5,57.0 115.0,56.8 115.5,55.8 116.0,54.7 116.5,55.1 117.0,56.2 117.5,56.7 118.0,56.6 118.5,55.9 119.0,55.4 119.5,55.9 120.0,56.8 120.5,57.1 121.1,56.3 121.6,55.2 122.1,54.9 122.6,55.5 123.1,56.3 123.6,56.7 124.1,56.3 124.6,55.4 125.1,55.1 125.6,55.8 126.1,56.5 126.6,56.1 127.1,55.2 127.6,55.1 128.1,56.0 128.6,56.8 129.1,56.5 129.6,55.4 130.1,54.9 130.6,55.5 131.1,56.8 131.6,57.3 132.1,56.6 132.6,55.7 133.1,55.9 133.6,56.8 134.1,57.4 134.6,57.0 135.1,55.9 135.6,55.7 136.1,56.7 136.6,57.5 137.1,57.3 137.6,56.6 138.1,56.2 138.6,56.5 139.1,57.0 139.6,57.2 140.1,57.0 140.6,56.7 141.1,56.0 141.6,55.9 142.1,56.5 142.6,57.1 143.1,56.9 143.6,56.2 144.1,55.9 144.6,56.3 145.1,57.0 145.6,57.3 146.1,56.8 146.6,56.0 147.1,56.0 147.6,57.2 148.1,57.8 148.6,56.4 149.1,55.4 149.6,56.0 150.1,57.2 150.6,57.7 151.1,56.9 151.6,56.1 152.1,55.9 152.6,56.4 153.1,56.9 153.6,57.0 154.1,56.3 154.6,55.5 155.1,55.7 155.6,56.8 156.1,57.2 156.6,56.3 157.1,55.4 157.6,55.8 158.1,57.0 158.6,57.3 159.1,56.4 159.6,55.4 160.1,55.1 160.6,55.5 161.1,56.4 161.6,57.0 162.1,56.6 162.6,55.5 163.1,55.3 163.6,56.5 164.1,57.6 164.6,57.3 165.1,56.3 165.6,56.0 166.1,56.7 166.6,57.3 167.1,57.0 167.6,56.3 168.1,56.1 168.6,56.7 169.1,57.3 169.6,57.2 170.1,56.5 170.6,56.2 171.1,56.4 171.6,57.0 172.1,57.2 172.6,56.7 173.1,56.1 173.6,56.0 174.1,56.4 174.6,56.9 175.1,57.0 175.6,56.7 176.1,56.2 176.6,56.1 177.1,56.5 177.6,56.9 178.1,56.6 178.6,56.0 179.1,55.6 179.6,55.9 180.1,56.4 180.6,56.5 181.1,56.0 181.6,55.6 182.1,55.9 182.6,56.5 183.1,56.6 183.6,56.2 184.1,55.9 184.6,56.1 185.1,56.5 185.6,56.8 186.1,56.7 186.6,56.2 187.1,55.9 187.6,56.1 188.1,56.6 188.6,56.8 189.1,56.5 189.6,56.0 190.1,55.7 190.6,56.0 191.1,56.7 191.6,57.0 192.1,56.6 192.6,55.9 193.1,55.7 193.6,56.3 194.1,57.1 194.6,56.9 195.1,56.1 195.6,55.8 196.1,56.4 196.6,57.2 197.1,57.5 197.6,56.9 198.1,56.0 198.6,55.9 199.1,56.5 199.6,57.2 200.1,57.3 200.6,56.6 201.1,56.0 201.6,56.3 202.1,57.1 202.6,57.6 203.1,57.4 203.6,56.7 204.1,56.0 204.6,56.2 205.1,57.1 205.6,57.4 206.1,56.5 206.6,55.8 207.1,56.0 207.6,56.9 208.1,57.3 208.6,56.8 209.1,56.0 209.6,55.6 210.1,55.8 210.6,56.3 211.1,56.6 211.6,56.2 212.1,55.6 212.6,55.4 213.1,55.9 213.6,56.5" fill="none" stroke="#111" stroke-width="0.6" stroke-opacity="0.8"/>
<text x="26.8" y="57.4" font-size="2.9" text-anchor="end" style="font-weight:normal;fill:#333">Ch14</text>
<polyline points="28.0,58.8 28.5,58.6 29.0,59.4 29.5,60.1 30.0,60.1 30.5,59.6 31.0,58.9 31.5,58.7 32.0,59.1 32.5,59.7 33.0,60.0 33.5,59.8 34.0,59.1 34.5,58.6 35.0,58.8 35.5,59.6 36.0,60.3 36.5,60.2 37.0,59.4 37.5,58.8 38.0,59.2 38.5,60.0 39.0,60.1 39.5,59.4 40.0,58.7 40.5,58.6 41.0,59.2 41.5,59.8 42.0,59.7 42.5,59.1 43.0,58.6 43.5,58.9 44.0,59.7 44.5,60.1 45.0,59.7 45.5,58.8 46.0,58.9 46.5,59.9 47.0,58.5 47.5,57.7 48.0,59.8 48.5,59.0 49.0,58.5 49.5,59.4 50.0,60.2 50.5,60.2 51.0,57.4 51.5,57.1 52.0,59.4 52.5,59.8 53.0,59.3 53.5,58.5 54.0,58.2 54.5,58.6 55.0,59.6 55.5,60.1 56.0,59.3 56.5,58.4 57.0,58.7 57.5,59.6 58.0,60.0 58.5,59.9 59.0,57.6 59.5,56.3 60.0,59.9 60.5,61.0 61.0,59.6 61.5,58.4 62.0,58.5 62.5,60.6 63.0,60.2 63.5,59.1 64.0,59.4 64.5,58.6 65.0,58.2 65.5,59.2 66.0,59.8 66.5,59.4 67.0,58.5 67.5,58.1 68.0,58.8 68.5,59.7 69.0,59.9 69.5,59.1 70.0,58.3 70.5,58.0 71.0,58.7 71.5,59.6 72.0,59.4 72.5,58.4 73.0,58.2 73.5,59.3 74.0,60.2 74.5,59.6 75.0,58.6 75.5,58.4 76.0,59.4 76.5,60.1 77.0,59.0 77.5,58.1 78.0,58.8 78.5,60.0 79.0,60.2 79.5,59.4 80.0,58.6 80.5,59.1 81.0,60.4 81.5,60.8 82.0,60.0 82.5,58.9 83.0,58.8 83.5,59.6 84.0,60.0 84.5,59.6 85.0,58.9 85.5,58.7 86.0,59.0 86.5,59.5 87.0,59.8 87.5,59.6 88.0,58.9 88.5,58.5 89.0,58.8 89.5,59.4 90.0,59.6 90.5,59.3 91.0,58.7 91.5,58.5 92.0,59.0 92.5,59.6 93.0,59.5 93.5,58.9 94.0,58.4 94.5,58.5 95.0,59.0 95.5,59.5 96.0,59.4 96.5,58.9 97.0,58.3 97.5,58.2 98.0,58.8 98.5,59.5 99.0,59.5 99.5,58.7 100.0,58.3 100.5,59.0 101.0,59.9 101.5,59.8 102.0,59.0 102.5,58.2 103.0,58.0 103.5,58.7 104.0,59.8 104.5,60.0 105.0,59.1 105.5,58.4 106.0,58.8 106.5,59.8 107.0,60.3 107.5,59.7 108.0,58.8 108.5,58.5 109.0,58.8 109.5,59.4 110.0,59.7 110.5,59.6 111.0,59.0 111.5,58.6 112.0,58.9 112.5,59.5 113.0,59.8 113.5,59.5 114.0,58.8 114.5,58.3 115.0,59.7 115.5,60.3 116.0,57.2 116.5,57.7 117.0,59.1 117.5,58.7 118.0,59.4 118.5,59.9 119.0,59.1 119.5,58.8 120.0,59.7 120.5,60.4 121.1,60.3 121.6,59.6 122.1,58.8 122.6,58.7 123.1,59.3 123.6,59.9 124.1,59.8 124.6,59.2 125.1,58.8 125.6,59.1 126.1,60.0 126.6,60.5 127.1,60.4 127.6,59.7 128.1,58.8 128.6,58.5 129.1,59.1 129.6,59.8 130.1,59.9 130.6,59.2 131.1,58.3 131.6,58.3 132.1,59.4 132.6,60.5 133.1,60.2 133.6,59.1 134.1,58.4 134.6,58.7 135.1,59.8 135.6,60.3 136.1,59.8 136.6,58.8 137.1,58.6 137.6,59.3 138.1,60.2 138.6,60.1 139.1,59.3 139.6,58.9 140.1,59.4 140.6,60.1 141.1,59.7 141.6,58.7 142.1,58.6 142.6,59.5 143.1,60.1 143.6,59.5 144.1,58.7 144.6,58.7 145.1,59.4 145.6,60.0 146.1,59.9 146.6,59.0 147.1,58.1 147.6,59.2 148.1,59.3 148.6,57.2 149.1,58.4 149.6,59.0 150.1,58.6 150.6,59.3 151.1,59.6 151.6,59.1 152.1,58.5 152.6,58.6 153.1,59.2 153.6,59.6 154.1,59.2 154.6,58.6 155.1,58.7 155.6,59.4 156.1,59.9 156.6,59.7 157.1,59.2 157.6,59.0 158.1,59.1 158.6,59.6 159.1,60.0 159.6,60.1 160.1,59.7 160.6,59.1 161.1,58.9 161.6,59.2 162.1,59.5 162.6,59.4 163.1,58.8 163.6,58.5 164.1,58.8 164.6,59.5 165.1,59.7 165.6,59.3 166.1,58.4 166.6,58.2 167.1,58.9 167.6,59.7 168.1,59.6 168.6,58.6 169.1,58.0 169.6,58.4 170.1,59.6 170.6,60.4 171.1,60.0 171.6,58.8 172.1,58.0 172.6,58.3 173.1,59.3 173.6,59.7 174.1,59.2 174.6,58.3 175.1,57.9 175.6,58.4 176.1,59.3 176.6,59.7 177.1,59.5 177.6,59.2 178.1,59.0 178.6,59.3 179.1,59.8 179.6,59.8 180.1,59.1 180.6,58.6 181.1,58.8 181.6,59.5 182.1,59.8 182.6,59.4 183.1,58.8 183.6,58.8 184.1,59.3 184.6,59.8 185.1,59.8 185.6,59.3 186.1,58.7 186.6,58.5 187.1,58.8 187.6,59.3 188.1,59.4 188.6,59.0 189.1,58.5 189.6,58.5 190.1,59.1 190.6,59.6 191.1,59.4 191.6,58.6 192.1,58.0 192.6,58.2 193.1,58.9 193.6,59.5 194.1,59.0 194.6,57.9 195.1,57.8 195.6,58.9 196.1,59.6 196.6,59.2 197.1,58.6 197.6,58.3 198.1,58.6 198.6,59.2 199.1,59.6 199.6,59.2 200.1,58.6 200.6,58.4 201.1,58.7 201.6,59.4 202.1,59.8 202.6,59.5 203.1,59.1 203.6,59.0 204.1,59.4 204.6,59.8 205.1,59.7 205.6,59.3 206.1,59.1 206.6,59.4 207.1,60.0 207.6,60.2 208.1,59.6 208.6,59.0 209.1,59.2 209.6,60.2 210.1,60.4 210.6,59.7 211.1,59.3 211.6,59.9 212.1,60.5 212.6,60.3 213.1,59.5 213.6,58.9" fill="none" stroke="#111" stroke-width="0.6" stroke-opacity="0.8"/>
<text x="26.8" y="60.1" font-size="2.9" text-anchor="end" style="font-weight:normal;fill:#333">Ch15</text>
<polyline points="28.0,61.7 28.5,62.4 29.0,62.8 29.5,62.6 30.0,61.9 30.5,61.3 31.0,61.5 31.5,62.1 32.0,62.6 32.5,62.7 33.0,62.2 33.5,61.5 34.0,61.2 34.5,61.4 35.0,62.0 35.5,62.7 36.0,63.1 36.5,62.8 37.0,62.1 37.5,61.3 38.0,61.0 38.5,61.4 39.0,62.0 39.5,62.3 40.0,62.1 40.5,61.5 41.0,61.0 41.5,61.1 42.0,61.8 42.5,62.2 43.0,62.3 43.5,62.2 44.0,61.8 44.5,61.2 45.0,60.7 45.5,60.9 46.0,61.9 46.5,62.8 47.0,60.6 47.5,60.0 48.0,62.1 48.5,61.3 49.0,61.1 49.5,62.0 50.0,63.0 50.5,62.8 51.0,59.8 51.5,59.7 52.0,61.3 52.5,61.6 53.0,62.0 53.5,62.3 54.0,61.9 54.5,61.3 55.0,60.9 55.5,61.1 56.0,61.7 56.5,62.4 57.0,62.7 57.5,62.4 58.0,62.0 58.5,62.7 59.0,62.0 59.5,61.6 60.0,63.5 60.5,62.7 61.0,61.5 61.5,61.9 62.0,63.2 62.5,64.3 63.0,62.4 63.5,61.2 64.0,61.9 64.5,61.6 65.0,61.6 65.5,62.1 66.0,62.6 66.5,62.6 67.0,62.0 67.5,61.4 68.0,61.3 68.5,61.8 69.0,62.5 69.5,63.0 70.0,62.9 70.5,62.5 71.0,62.0 71.5,61.8 72.0,62.1 72.5,62.7 73.0,63.3 73.5,63.3 74.0,62.5 74.5,61.7 75.0,61.6 75.5,62.0 76.0,62.6 76.5,62.9 77.0,62.6 77.5,62.0 78.0,61.4 78.5,60.8 79.0,60.7 79.5,61.1 80.0,61.6 80.5,62.1 81.0,62.4 81.5,62.1 82.0,61.4 82.5,60.9 83.0,61.4 83.5,62.4 84.0,63.1 84.5,62.8 85.0,61.8 85.5,61.2 86.0,61.6 86.5,62.5 87.0,62.9 87.5,62.4 88.0,61.6 88.5,61.1 89.0,61.4 89.5,62.2 90.0,62.8 90.5,62.8 91.0,62.0 91.5,61.2 92.0,61.1 92.5,61.7 93.0,62.4 93.5,62.4 94.0,61.8 94.5,61.1 95.0,61.1 95.5,61.7 96.0,62.5 96.5,62.8 97.0,62.5 97.5,61.6 98.0,60.9 98.5,61.1 99.0,61.8 99.5,62.5 100.0,62.5 100.5,62.0 101.0,61.3 101.5,61.0 102.0,61.1 102.5,61.5 103.0,61.9 103.5,62.0 104.0,61.6 104.5,61.1 105.0,61.1 105.5,61.5 106.0,61.9 106.5,62.3 107.0,62.3 107.5,62.1 108.0,61.8 108.5,61.4 109.0,61.4 109.5,61.7 110.0,62.1 110.5,62.0 111.0,61.5 111.5,61.0 112.0,61.1 112.5,61.9 113.0,62.6 113.5,62.3 114.0,61.4 114.5,60.9 115.0,62.1 115.5,62.2 116.0,60.4 116.5,62.0 117.0,62.5 117.5,61.2 118.0,61.2 118.5,62.0 119.0,62.7 119.5,62.7 120.0,62.1 120.5,61.4 121.1,61.3 121.6,61.8 122.1,62.4 122.6,62.8 123.1,62.5 123.6,61.7 124.1,60.7 124.6,60.7 125.1,61.4 125.6,62.2 126.1,62.5 126.6,62.2 127.1,61.6 127.6,61.1 128.1,61.2 128.6,61.9 129.1,62.4 129.6,62.4 130.1,61.9 130.6,61.2 131.1,60.6 131.6,60.6 132.1,61.0 132.6,61.6 133.1,62.0 133.6,62.1 134.1,61.9 134.6,61.4 135.1,61.2 135.6,61.5 136.1,62.3 136.6,63.2 137.1,63.4 137.6,62.7 138.1,61.6 138.6,61.2 139.1,61.9 139.6,62.8 140.1,63.0 140.6,62.2 141.1,61.2 141.6,60.8 142.1,61.2 142.6,62.0 143.1,62.6 143.6,62.7 144.1,62.2 144.6,61.4 145.1,61.2 145.6,61.7 146.1,62.4 146.6,62.6 147.1,62.4 147.6,62.6 148.1,60.6 148.6,58.6 149.1,61.5 149.6,63.0 150.1,62.5 150.6,62.2 151.1,61.6 151.6,61.3 152.1,61.7 152.6,62.5 153.1,62.8 153.6,62.5 154.1,62.0 154.6,61.3 155.1,60.9 155.6,61.0 156.1,61.7 156.6,62.3 157.1,62.4 157.6,61.9 158.1,61.2 158.6,61.3 159.1,62.0 159.6,62.8 160.1,62.8 160.6,62.1 161.1,61.5 161.6,61.3 162.1,61.6 162.6,62.1 163.1,62.5 163.6,62.7 164.1,62.3 164.6,61.7 165.1,61.5 165.6,61.7 166.1,62.1 166.6,62.5 167.1,62.7 167.6,62.5 168.1,62.1 168.6,61.7 169.1,61.8 169.6,62.3 170.1,62.9 170.6,63.0 171.1,62.4 171.6,61.5 172.1,61.1 172.6,61.5 173.1,62.3 173.6,62.7 174.1,62.2 174.6,61.4 175.1,61.3 175.6,62.2 176.1,63.0 176.6,63.1 177.1,62.8 177.6,62.1 178.1,61.3 178.6,60.8 179.1,61.3 179.6,62.3 180.1,62.6 180.6,61.9 181.1,61.1 181.6,61.2 182.1,62.1 182.6,63.0 183.1,62.7 183.6,61.7 184.1,61.0 184.6,60.9 185.1,61.5 185.6,62.4 186.1,62.8 186.6,62.3 187.1,61.2 187.6,60.6 188.1,60.6 188.6,61.3 189.1,62.2 189.6,62.8 190.1,62.7 190.6,61.9 191.1,61.1 191.6,61.1 192.1,62.1 192.6,62.7 193.1,62.3 193.6,61.3 194.1,60.6 194.6,60.9 195.1,62.0 195.6,62.7 196.1,62.4 196.6,61.7 197.1,61.4 197.6,61.8 198.1,62.4 198.6,62.5 199.1,61.9 199.6,61.3 200.1,60.9 200.6,61.1 201.1,61.6 201.6,62.1 202.1,62.5 202.6,62.3 203.1,61.7 203.6,61.3 204.1,61.4 204.6,62.1 205.1,62.8 205.6,62.9 206.1,62.4 206.6,61.7 207.1,61.6 207.6,62.2 208.1,62.8 208.6,62.7 209.1,61.9 209.6,61.1 210.1,61.2 210.6,62.2 211.1,62.8 211.6,62.4 212.1,61.4 212.6,61.0 213.1,61.2 213.6,61.9" fill="none" stroke="#111" stroke-width="0.6" stroke-opacity="0.8"/>
<text x="26.8" y="62.8" font-size="2.9" text-anchor="end" style="font-weight:normal;fill:#333">Ch16</text>
<polyline points="28.0,65.1 28.5,65.8 29.0,65.6 29.5,64.6 30.0,63.6 30.5,63.8 31.0,64.8 31.5,65.2 32.0,64.5 32.5,63.6 33.0,63.6 33.5,64.5 34.0,65.5 34.5,65.8 35.0,65.2 35.5,64.2 36.0,63.6 36.5,63.9 37.0,64.9 37.5,65.5 38.0,65.3 38.5,64.5 39.0,64.1 39.5,64.7 40.0,65.7 40.5,66.3 41.0,66.1 41.5,65.4 42.0,64.7 42.5,64.5 43.0,65.0 43.5,65.9 44.0,66.0 44.5,65.3 45.0,64.5 45.5,64.3 46.0,64.5 46.5,65.0 47.0,66.9 47.5,66.5 48.0,63.8 48.5,64.0 49.0,64.9 49.5,65.4 50.0,65.1 50.5,64.6 51.0,65.7 51.5,64.8 52.0,63.3 52.5,63.9 53.0,64.7 53.5,64.9 54.0,64.5 54.5,63.8 55.0,63.4 55.5,63.8 56.0,64.8 56.5,65.5 57.0,65.3 57.5,64.6 58.0,63.6 58.5,62.8 59.0,64.2 59.5,65.9 60.0,64.5 60.5,63.7 61.0,63.4 61.5,63.2 62.0,63.7 62.5,64.0 63.0,65.3 63.5,65.0 64.0,63.3 64.5,63.1 65.0,63.9 65.5,64.8 66.0,65.3 66.5,64.9 67.0,64.2 67.5,63.5 68.0,63.4 68.5,64.2 69.0,64.9 69.5,65.0 70.0,64.6 70.5,64.2 71.0,63.7 71.5,63.8 72.0,64.5 72.5,65.1 73.0,65.0 73.5,64.4 74.0,63.7 74.5,63.7 75.0,64.3 75.5,65.0 76.0,64.8 76.5,64.1 77.0,63.6 77.5,63.8 78.0,64.5 78.5,65.2 79.0,65.6 79.5,65.2 80.0,64.4 80.5,64.1 81.0,64.5 81.5,65.3 82.0,65.6 82.5,65.1 83.0,64.2 83.5,63.8 84.0,64.5 84.5,65.7 85.0,65.9 85.5,65.1 86.0,64.4 86.5,64.4 87.0,65.0 87.5,65.8 88.0,66.1 88.5,65.3 89.0,64.0 89.5,63.5 90.0,64.3 90.5,65.3 91.0,65.5 91.5,64.8 92.0,63.9 92.5,64.0 93.0,65.0 93.5,65.9 94.0,66.1 94.5,65.5 95.0,64.7 95.5,64.3 96.0,64.3 96.5,64.7 97.0,65.5 97.5,65.9 98.0,65.4 98.5,64.6 99.0,64.7 99.5,65.6 100.0,66.2 100.5,65.9 101.0,65.2 101.5,64.8 102.0,65.0 102.5,65.6 103.0,65.9 103.5,65.5 104.0,64.8 104.5,64.5 105.0,65.0 105.5,65.5 106.0,65.6 106.5,65.0 107.0,64.3 107.5,64.0 108.0,64.2 108.5,64.7 109.0,65.2 109.5,65.0 110.0,64.2 110.5,63.4 111.0,63.8 111.5,64.9 112.0,65.4 112.5,64.6 113.0,63.8 113.5,63.8 114.0,64.7 114.5,65.7 115.0,65.2 115.5,64.9 116.0,65.8 116.5,64.4 117.0,64.1 117.5,65.4 118.0,65.5 118.5,64.5 119.0,64.1 119.5,64.7 120.0,65.6 120.5,65.7 121.1,64.8 121.6,63.7 122.1,63.6 122.6,64.5 123.1,65.1 123.6,64.9 124.1,64.0 124.6,63.2 125.1,63.4 125.6,64.5 126.1,65.4 126.6,65.2 127.1,64.1 127.6,63.3 128.1,63.6 128.6,64.6 129.1,65.3 129.6,65.0 130.1,64.1 130.6,63.4 131.1,63.7 131.6,64.7 132.1,65.4 132.6,65.1 133.1,64.0 133.6,63.5 134.1,64.3 134.6,65.3 135.1,65.6 135.6,65.1 136.1,64.3 136.6,63.7 137.1,63.8 137.6,64.5 138.1,65.4 138.6,65.6 139.1,65.3 139.6,64.5 140.1,64.0 140.6,64.2 141.1,65.0 141.6,65.6 142.1,65.6 142.6,64.8 143.1,64.0 143.6,64.0 144.1,64.7 144.6,65.3 145.1,65.1 145.6,64.4 146.1,64.0 146.6,64.3 147.1,64.9 147.6,64.9 148.1,65.9 148.6,67.0 149.1,64.8 149.6,63.8 150.1,64.7 150.6,65.3 151.1,65.6 151.6,65.3 152.1,64.7 152.6,64.4 153.1,64.7 153.6,65.3 154.1,66.0 154.6,65.9 155.1,65.1 155.6,64.5 156.1,64.7 156.6,65.2 157.1,65.7 157.6,65.8 158.1,65.4 158.6,64.6 159.1,64.0 159.6,63.9 160.1,64.4 160.6,65.0 161.1,65.1 161.6,64.6 162.1,63.9 162.6,63.5 163.1,63.9 163.6,64.8 164.1,65.4 164.6,65.3 165.1,64.5 165.6,63.8 166.1,63.8 166.6,64.5 167.1,64.9 167.6,64.6 168.1,63.8 168.6,63.3 169.1,63.7 169.6,64.6 170.1,65.1 170.6,64.7 171.1,63.8 171.6,63.4 172.1,63.8 172.6,64.6 173.1,65.0 173.6,64.9 174.1,64.3 174.6,63.6 175.1,63.2 175.6,63.7 176.1,64.7 176.6,65.4 177.1,64.9 177.6,63.9 178.1,63.9 178.6,65.0 179.1,65.9 179.6,65.6 180.1,64.4 180.6,63.5 181.1,63.8 181.6,64.9 182.1,65.3 182.6,64.9 183.1,64.2 183.6,64.3 184.1,65.2 184.6,66.0 185.1,66.0 185.6,65.1 186.1,64.0 186.6,64.2 187.1,65.2 187.6,65.4 188.1,64.5 188.6,63.7 189.1,63.8 189.6,64.5 190.1,65.0 190.6,64.8 191.1,64.2 191.6,63.7 192.1,63.8 192.6,64.6 193.1,65.4 193.6,65.2 194.1,64.2 194.6,63.8 195.1,64.3 195.6,65.2 196.1,65.9 196.6,65.8 197.1,65.1 197.6,64.3 198.1,64.1 198.6,64.8 199.1,65.6 199.6,65.8 200.1,65.2 200.6,64.4 201.1,64.3 201.6,64.9 202.1,65.4 202.6,65.4 203.1,65.0 203.6,64.5 204.1,64.5 204.6,65.0 205.1,65.5 205.6,65.7 206.1,65.3 206.6,64.7 207.1,64.4 207.6,64.8 208.1,65.3 208.6,65.7 209.1,65.6 209.6,65.2 210.1,64.7 210.6,64.5 211.1,64.8 211.6,65.4 212.1,65.3 212.6,64.7 213.1,64.2 213.6,64.3" fill="none" stroke="#111" stroke-width="0.6" stroke-opacity="0.8"/>
<text x="26.8" y="65.6" font-size="2.9" text-anchor="end" style="font-weight:normal;fill:#333">Ch17</text>
<polyline points="28.0,67.5 28.5,67.1 29.0,67.2 29.5,67.9 30.0,68.6 30.5,68.6 31.0,67.7 31.5,66.7 32.0,66.5 32.5,67.1 33.0,67.6 33.5,67.6 34.0,67.1 34.5,66.8 35.0,66.8 35.5,67.2 36.0,67.6 36.5,68.0 37.0,67.9 37.5,67.5 38.0,67.0 38.5,66.9 39.0,67.4 39.5,68.0 40.0,68.1 40.5,67.7 41.0,67.2 41.5,67.0 42.0,67.2 42.5,67.7 43.0,68.1 43.5,68.1 44.0,67.8 44.5,67.4 45.0,67.0 45.5,67.0 46.0,67.8 46.5,69.5 47.0,68.6 47.5,66.2 48.0,68.0 48.5,68.3 49.0,67.1 49.5,67.1 50.0,68.2 50.5,70.1 51.0,68.3 51.5,66.1 52.0,67.2 52.5,67.6 53.0,67.8 53.5,68.2 54.0,68.2 54.5,67.8 55.0,67.2 55.5,67.0 56.0,67.4 56.5,67.9 57.0,67.9 57.5,67.4 58.0,66.8 58.5,67.6 59.0,67.8 59.5,66.0 60.0,67.8 60.5,68.9 61.0,67.4 61.5,66.4 62.0,66.6 62.5,68.8 63.0,69.0 63.5,67.2 64.0,67.6 64.5,67.6 65.0,66.7 65.5,66.5 66.0,66.9 66.5,67.8 67.0,68.6 67.5,68.6 68.0,68.0 68.5,67.4 69.0,67.0 69.5,67.0 70.0,67.4 70.5,68.0 71.0,68.3 71.5,68.1 72.0,67.5 72.5,66.9 73.0,66.5 73.5,66.6 74.0,67.1 74.5,68.0 75.0,68.4 75.5,68.0 76.0,67.2 76.5,66.6 77.0,66.5 77.5,67.2 78.0,68.0 78.5,68.4 79.0,68.0 79.5,67.2 80.0,66.4 80.5,66.3 81.0,67.2 81.5,68.0 82.0,68.0 82.5,67.2 83.0,66.6 83.5,66.7 84.0,67.4 84.5,68.2 85.0,68.6 85.5,67.9 86.0,66.8 86.5,66.5 87.0,67.2 87.5,68.0 88.0,68.3 88.5,67.9 89.0,67.1 89.5,66.7 90.0,66.8 90.5,67.4 91.0,68.2 91.5,68.6 92.0,68.3 92.5,67.5 93.0,67.0 93.5,67.0 94.0,67.4 94.5,68.0 95.0,68.5 95.5,68.5 96.0,67.8 96.5,66.9 97.0,66.5 97.5,66.8 98.0,67.4 98.5,68.0 99.0,68.2 99.5,67.7 100.0,66.9 100.5,66.6 101.0,66.9 101.5,67.6 102.0,68.0 102.5,68.0 103.0,67.6 103.5,67.1 104.0,66.9 104.5,67.1 105.0,67.5 105.5,67.8 106.0,67.7 106.5,67.4 107.0,67.0 107.5,66.7 108.0,66.7 108.5,67.1 109.0,67.6 109.5,67.8 110.0,67.5 110.5,67.2 111.0,67.1 111.5,67.4 112.0,67.8 112.5,67.8 113.0,67.5 113.5,66.9 114.0,66.4 114.5,66.2 115.0,67.8 115.5,69.9 116.0,67.3 116.5,66.4 117.0,67.7 117.5,67.2 118.0,67.2 118.5,68.2 119.0,68.8 119.5,68.5 120.0,67.5 120.5,66.7 121.1,66.8 121.6,67.5 122.1,68.3 122.6,68.7 123.1,68.8 123.6,68.4 124.1,67.6 124.6,66.9 125.1,67.0 125.6,67.8 126.1,68.8 126.6,69.3 127.1,69.0 127.6,68.1 128.1,67.2 128.6,66.8 129.1,67.3 129.6,68.2 130.1,68.8 130.6,68.5 131.1,67.6 131.6,66.7 132.1,66.5 132.6,67.1 133.1,68.0 133.6,68.5 134.1,68.2 134.6,67.5 135.1,66.8 135.6,66.7 136.1,67.1 136.6,67.7 137.1,68.1 137.6,67.9 138.1,67.3 138.6,66.8 139.1,66.7 139.6,67.0 140.1,67.4 140.6,67.8 141.1,67.9 141.6,67.6 142.1,67.3 142.6,67.1 143.1,67.2 143.6,67.4 144.1,67.5 144.6,67.4 145.1,67.1 145.6,66.8 146.1,66.6 146.6,66.5 147.1,66.4 147.6,67.7 148.1,68.4 148.6,65.1 149.1,64.9 149.6,66.6 150.1,66.2 150.6,66.1 151.1,66.6 151.6,67.1 152.1,67.2 152.6,66.9 153.1,66.5 153.6,66.4 154.1,66.6 154.6,66.8 155.1,66.9 155.6,67.0 156.1,66.9 156.6,66.8 157.1,66.7 157.6,66.9 158.1,67.5 158.6,68.0 159.1,68.1 159.6,67.7 160.1,67.2 160.6,67.0 161.1,67.3 161.6,67.8 162.1,68.0 162.6,67.9 163.1,67.6 163.6,67.5 164.1,67.9 164.6,68.4 165.1,68.5 165.6,68.1 166.1,67.5 166.6,67.1 167.1,67.2 167.6,67.7 168.1,68.1 168.6,68.2 169.1,67.9 169.6,67.3 170.1,66.9 170.6,67.1 171.1,67.8 171.6,68.2 172.1,68.2 172.6,67.8 173.1,67.3 173.6,67.0 174.1,67.3 174.6,68.0 175.1,68.4 175.6,68.3 176.1,67.8 176.6,67.2 177.1,67.1 177.6,67.6 178.1,68.1 178.6,68.1 179.1,67.7 179.6,67.4 180.1,67.4 180.6,67.8 181.1,68.4 181.6,68.9 182.1,69.0 182.6,68.6 183.1,67.8 183.6,67.2 184.1,67.4 184.6,68.1 185.1,68.5 185.6,68.0 186.1,67.1 186.6,66.8 187.1,67.2 187.6,67.8 188.1,68.0 188.6,67.6 189.1,66.9 189.6,66.4 190.1,66.4 190.6,67.0 191.1,67.5 191.6,67.5 192.1,67.3 192.6,67.1 193.1,66.7 193.6,66.6 194.1,66.9 194.6,67.4 195.1,67.6 195.6,67.2 196.1,66.7 196.6,66.7 197.1,67.3 197.6,67.8 198.1,67.8 198.6,67.8 199.1,67.7 199.6,67.5 200.1,67.3 200.6,67.5 201.1,68.0 201.6,68.3 202.1,68.3 202.6,68.1 203.1,67.6 203.6,67.2 204.1,67.4 204.6,68.0 205.1,68.4 205.6,68.3 206.1,67.8 206.6,67.3 207.1,67.2 207.6,67.4 208.1,67.7 208.6,67.9 209.1,67.7 209.6,67.4 210.1,67.1 210.6,67.3 211.1,67.7 211.6,68.1 212.1,68.4 212.6,68.2 213.1,67.7 213.6,67.2" fill="none" stroke="#111" stroke-width="0.6" stroke-opacity="0.8"/>
<text x="26.8" y="68.3" font-size="2.9" text-anchor="end" style="font-weight:normal;fill:#333">Ch18</text>
<polyline points="28.0,69.9 28.5,69.3 29.0,69.3 29.5,69.8 30.0,70.2 30.5,69.7 31.0,69.0 31.5,68.9 32.0,69.5 32.5,70.1 33.0,70.4 33.5,70.1 34.0,69.6 34.5,69.6 35.0,70.3 35.5,70.7 36.0,70.6 36.5,70.1 37.0,69.4 37.5,68.9 38.0,69.1 38.5,69.6 39.0,69.9 39.5,69.7 40.0,69.0 40.5,68.8 41.0,69.7 41.5,70.7 42.0,70.8 42.5,70.0 43.0,69.2 43.5,68.9 44.0,69.4 44.5,69.9 45.0,69.8 45.5,69.3 46.0,68.7 46.5,69.7 47.0,72.0 47.5,69.8 48.0,68.4 48.5,70.2 49.0,70.0 49.5,69.7 50.0,69.4 50.5,70.9 51.0,72.5 51.5,70.0 52.0,68.9 52.5,69.8 53.0,70.2 53.5,70.6 54.0,70.6 54.5,70.2 55.0,69.9 55.5,70.4 56.0,71.0 56.5,71.0 57.0,70.2 57.5,69.7 58.0,69.4 58.5,69.8 59.0,72.0 59.5,70.5 60.0,67.7 60.5,68.8 61.0,69.5 61.5,69.9 62.0,69.6 62.5,69.6 63.0,71.1 63.5,69.8 64.0,69.3 64.5,70.6 65.0,70.5 65.5,69.3 66.0,69.0 66.5,69.9 67.0,70.8 67.5,70.9 68.0,70.1 68.5,69.2 69.0,69.1 69.5,70.0 70.0,70.7 70.5,70.3 71.0,69.3 71.5,68.7 72.0,69.1 72.5,70.1 73.0,70.7 73.5,70.5 74.0,69.6 74.5,68.9 75.0,69.3 75.5,70.4 76.0,70.9 76.5,70.1 77.0,68.9 77.5,68.6 78.0,69.6 78.5,70.4 79.0,70.0 79.5,69.1 80.0,68.9 80.5,69.7 81.0,70.8 81.5,71.0 82.0,70.1 82.5,69.0 83.0,69.1 83.5,70.4 84.0,71.1 84.5,70.4 85.0,69.5 85.5,69.5 86.0,70.3 86.5,70.9 87.0,71.0 87.5,70.5 88.0,70.1 88.5,70.1 89.0,70.4 89.5,70.7 90.0,70.8 90.5,70.6 91.0,70.1 91.5,69.6 92.0,70.0 92.5,70.9 93.0,71.3 93.5,70.8 94.0,70.1 94.5,70.0 95.0,70.4 95.5,71.1 96.0,71.1 96.5,70.5 97.0,69.9 97.5,70.1 98.0,70.5 98.5,70.9 99.0,70.8 99.5,70.1 100.0,69.7 100.5,70.0 101.0,70.6 101.5,70.8 102.0,70.5 102.5,69.9 103.0,69.7 103.5,69.9 104.0,70.2 104.5,70.5 105.0,70.3 105.5,69.7 106.0,69.1 106.5,69.2 107.0,69.8 107.5,70.6 108.0,71.0 108.5,70.7 109.0,69.9 109.5,69.4 110.0,69.8 110.5,70.7 111.0,71.3 111.5,70.9 112.0,69.9 112.5,69.5 113.0,70.2 113.5,71.1 114.0,71.4 114.5,70.4 115.0,69.0 115.5,71.0 116.0,72.1 116.5,69.7 117.0,70.5 117.5,71.2 118.0,70.1 118.5,69.2 119.0,69.0 119.5,69.6 120.0,70.4 120.5,70.6 121.1,70.1 121.6,69.7 122.1,69.5 122.6,69.7 123.1,70.2 123.6,70.5 124.1,70.3 124.6,69.8 125.1,69.5 125.6,69.6 126.1,70.2 126.6,70.7 127.1,70.7 127.6,70.2 128.1,69.9 128.6,70.1 129.1,70.7 129.6,71.0 130.1,70.8 130.6,70.2 131.1,70.0 131.6,70.3 132.1,70.8 132.6,71.1 133.1,70.9 133.6,70.3 134.1,69.8 134.6,69.7 135.1,70.0 135.6,70.4 136.1,70.6 136.6,70.5 137.1,70.3 137.6,70.1 138.1,70.0 138.6,70.2 139.1,70.6 139.6,70.6 140.1,70.3 140.6,69.6 141.1,69.3 141.6,69.5 142.1,70.1 142.6,70.3 143.1,69.9 143.6,69.5 144.1,69.4 144.6,69.9 145.1,70.6 145.6,70.7 146.1,70.0 146.6,69.1 147.1,68.4 147.6,68.7 148.1,72.2 148.6,72.3 149.1,68.4 149.6,68.4 150.1,69.1 150.6,69.6 151.1,70.6 151.6,71.3 152.1,71.1 152.6,70.2 153.1,69.4 153.6,69.3 154.1,69.9 154.6,70.6 155.1,70.6 155.6,69.8 156.1,69.1 156.6,69.0 157.1,69.4 157.6,70.3 158.1,70.9 158.6,70.5 159.1,69.5 159.6,68.9 160.1,69.5 160.6,70.5 161.1,71.0 161.6,70.8 162.1,70.0 162.6,69.0 163.1,68.9 163.6,69.8 164.1,70.7 164.6,70.8 165.1,70.3 165.6,69.7 166.1,69.7 166.6,70.2 167.1,70.8 167.6,71.1 168.1,71.0 168.6,70.5 169.1,70.0 169.6,69.8 170.1,69.9 170.6,70.3 171.1,70.7 171.6,70.7 172.1,70.3 172.6,69.8 173.1,69.8 173.6,70.3 174.1,70.7 174.6,70.5 175.1,70.0 175.6,69.7 176.1,69.6 176.6,69.9 177.1,70.2 177.6,70.3 178.1,69.8 178.6,69.4 179.1,69.4 179.6,69.9 180.1,70.6 180.6,70.8 181.1,70.5 181.6,70.0 182.1,69.9 182.6,70.2 183.1,70.6 183.6,70.8 184.1,70.5 184.6,69.7 185.1,69.3 185.6,69.3 186.1,69.8 186.6,70.4 187.1,70.5 187.6,70.1 188.1,69.6 188.6,69.5 189.1,69.9 189.6,70.6 190.1,70.8 190.6,70.3 191.1,69.9 191.6,69.6 192.1,69.5 192.6,69.8 193.1,70.6 193.6,71.1 194.1,70.4 194.6,69.4 195.1,70.1 195.6,71.6 196.1,71.7 196.6,70.2 197.1,69.4 197.6,70.3 198.1,71.6 198.6,71.5 199.1,70.5 199.6,70.2 200.1,70.7 200.6,70.7 201.1,69.7 201.6,69.3 202.1,70.6 202.6,71.8 203.1,70.5 203.6,68.5 204.1,68.7 204.6,71.3 205.1,72.5 205.6,70.6 206.1,68.1 206.6,68.1 207.1,70.2 207.6,71.5 208.1,70.5 208.6,69.3 209.1,69.8 209.6,70.7 210.1,70.3 210.6,69.4 211.1,69.7 211.6,70.5 212.1,70.3 212.6,69.2 213.1,69.2 213.6,70.3" fill="none" stroke="#111" stroke-width="0.6" stroke-opacity="0.8"/>
<text x="26.8" y="71.1" font-size="2.9" text-anchor="end" style="font-weight:normal;fill:#333">Ch19</text>
<polyline points="28.0,72.6 28.5,73.5 29.0,73.7 29.5,72.8 30.0,72.1 30.5,72.5 31.0,73.6 31.5,74.3 32.0,74.0 32.5,73.3 33.0,72.7 33.5,72.6 34.0,72.9 34.5,73.6 35.0,73.9 35.5,73.5 36.0,72.7 36.5,72.4 37.0,72.9 37.5,73.5 38.0,73.5 38.5,72.9 39.0,72.4 39.5,72.4 40.0,72.6 40.5,73.1 41.0,73.3 41.5,73.0 42.0,72.3 42.5,71.8 43.0,71.9 43.5,72.5 44.0,73.2 44.5,73.4 45.0,73.0 45.5,72.4 46.0,72.3 46.5,72.9 47.0,73.1 47.5,73.1 48.0,72.9 48.5,72.0 49.0,71.5 49.5,71.9 50.0,72.9 50.5,73.6 51.0,72.8 51.5,71.9 52.0,71.7 52.5,72.7 53.0,73.8 53.5,73.8 54.0,72.9 54.5,72.0 55.0,72.0 55.5,72.7 56.0,73.5 56.5,73.5 57.0,72.7 57.5,72.3 58.0,72.8 58.5,73.7 59.0,73.8 59.5,73.4 60.0,73.4 60.5,73.2 61.0,73.2 61.5,73.6 62.0,73.8 62.5,73.6 63.0,72.7 63.5,72.4 64.0,73.0 64.5,73.6 65.0,73.7 65.5,73.2 66.0,72.8 66.5,72.8 67.0,73.3 67.5,73.8 68.0,73.8 68.5,73.2 69.0,72.4 69.5,72.4 70.0,73.2 70.5,73.8 71.0,73.2 71.5,72.2 72.0,72.2 72.5,73.1 73.0,73.8 73.5,73.8 74.0,73.2 74.5,72.5 75.0,71.9 75.5,72.0 76.0,72.8 76.5,73.7 77.0,73.5 77.5,72.7 78.0,72.2 78.5,72.6 79.0,73.5 79.5,74.0 80.0,73.7 80.5,72.9 81.0,72.6 81.5,73.2 82.0,74.0 82.5,74.2 83.0,73.7 83.5,72.8 84.0,72.0 84.5,72.0 85.0,72.9 85.5,73.8 86.0,73.9 86.5,73.1 87.0,72.2 87.5,72.0 88.0,72.7 88.5,73.7 89.0,73.9 89.5,73.1 90.0,71.9 90.5,71.5 91.0,72.6 91.5,73.8 92.0,73.8 92.5,73.0 93.0,72.3 93.5,72.4 94.0,73.3 94.5,74.3 95.0,74.3 95.5,73.3 96.0,72.5 96.5,72.5 97.0,73.2 97.5,73.9 98.0,73.9 98.5,73.3 99.0,72.5 99.5,72.0 100.0,72.4 100.5,73.4 101.0,74.1 101.5,73.7 102.0,73.0 102.5,72.9 103.0,73.4 103.5,74.0 104.0,74.0 104.5,73.3 105.0,72.5 105.5,72.4 106.0,73.0 106.5,73.6 107.0,73.5 107.5,73.0 108.0,72.4 108.5,72.2 109.0,72.4 109.5,72.9 110.0,73.1 110.5,72.6 111.0,71.9 111.5,71.4 112.0,71.8 112.5,72.6 113.0,72.8 113.5,72.3 114.0,71.6 114.5,71.7 115.0,72.8 115.5,73.6 116.0,73.2 116.5,72.8 117.0,72.4 117.5,72.3 118.0,73.1 118.5,74.1 119.0,74.3 119.5,73.6 120.0,72.6 120.5,72.3 121.1,72.8 121.6,73.6 122.1,73.8 122.6,73.4 123.1,72.7 123.6,72.3 124.1,72.5 124.6,73.0 125.1,73.4 125.6,73.4 126.1,73.1 126.6,72.7 127.1,72.6 127.6,73.2 128.1,73.9 128.6,73.8 129.1,72.9 129.6,72.2 130.1,72.4 130.6,73.2 131.1,73.7 131.6,73.3 132.1,72.2 132.6,71.5 133.1,71.8 133.6,72.6 134.1,72.8 134.6,72.2 135.1,71.5 135.6,71.7 136.1,72.6 136.6,73.5 137.1,73.8 137.6,73.2 138.1,72.4 138.6,71.9 139.1,72.1 139.6,72.8 140.1,73.3 140.6,73.0 141.1,72.4 141.6,72.1 142.1,72.6 142.6,73.3 143.1,73.6 143.6,73.5 144.1,73.1 144.6,72.7 145.1,72.6 145.6,72.9 146.1,73.3 146.6,73.5 147.1,73.2 147.6,73.1 148.1,72.9 148.6,72.9 149.1,73.9 149.6,74.1 150.1,73.5 150.6,72.8 151.1,72.3 151.6,72.4 152.1,73.3 152.6,73.9 153.1,73.3 153.6,72.0 154.1,71.7 154.6,72.9 155.1,73.9 155.6,73.8 156.1,72.9 156.6,72.4 157.1,72.9 157.6,74.0 158.1,74.2 158.6,73.4 159.1,72.5 159.6,72.3 160.1,73.0 160.6,73.7 161.1,73.7 161.6,72.8 162.1,72.0 162.6,72.1 163.1,73.0 163.6,74.0 164.1,73.8 164.6,72.7 165.1,72.1 165.6,72.4 166.1,73.3 166.6,73.8 167.1,73.1 167.6,71.9 168.1,71.8 168.6,73.0 169.1,74.1 169.6,74.2 170.1,73.2 170.6,72.3 171.1,72.5 171.6,73.6 172.1,74.3 172.6,73.9 173.1,72.9 173.6,72.2 174.1,72.2 174.6,72.9 175.1,73.6 175.6,73.9 176.1,73.6 176.6,73.0 177.1,72.7 177.6,73.1 178.1,73.7 178.6,73.9 179.1,73.4 179.6,72.6 180.1,72.3 180.6,72.5 181.1,73.2 181.6,73.6 182.1,73.4 182.6,72.7 183.1,72.4 183.6,72.6 184.1,73.3 184.6,73.8 185.1,73.5 185.6,72.8 186.1,72.5 186.6,72.8 187.1,73.2 187.6,73.5 188.1,73.3 188.6,72.8 189.1,72.4 189.6,72.8 190.1,73.6 190.6,73.6 191.1,72.6 191.6,71.6 192.1,71.9 192.6,73.2 193.1,73.4 193.6,72.0 194.1,71.0 194.6,71.9 195.1,73.1 195.6,72.7 196.1,71.4 196.6,71.5 197.1,72.9 197.6,73.2 198.1,72.3 198.6,72.0 199.1,73.2 199.6,73.9 200.1,72.8 200.6,71.4 201.1,72.1 201.6,74.3 202.1,74.6 202.6,72.6 203.1,71.3 203.6,72.7 204.1,74.6 204.6,74.2 205.1,72.2 205.6,71.5 206.1,72.7 206.6,73.8 207.1,73.1 207.6,72.0 208.1,72.4 208.6,73.4 209.1,73.2 209.6,72.0 210.1,72.1 210.6,73.5 211.1,74.2 211.6,72.9 212.1,71.6 212.6,72.4 213.1,73.8 213.6,73.8" fill="none" stroke="#111" stroke-width="0.6" stroke-opacity="0.8"/>
<text x="26.8" y="73.8" font-size="2.9" text-anchor="end" style="font-weight:normal;fill:#333">Ch20</text>
<polyline points="28.0,75.0 28.5,75.9 29.0,76.1 29.5,75.4 30.0,74.5 30.5,74.2 31.0,74.9 31.5,75.8 32.0,75.9 32.5,75.3 33.0,74.8 33.5,75.2 34.0,76.0 34.5,76.3 35.0,75.7 35.5,75.1 36.0,75.0 36.5,75.6 37.0,76.4 37.5,76.7 38.0,76.4 38.5,75.7 39.0,75.5 39.5,76.0 40.0,76.7 40.5,77.0 41.0,76.5 41.5,75.9 42.0,75.7 42.5,76.0 43.0,76.4 43.5,76.6 44.0,76.1 44.5,75.3 45.0,74.9 45.5,75.3 46.0,75.7 46.5,76.5 47.0,78.0 47.5,75.6 48.0,72.9 48.5,75.0 49.0,76.4 49.5,76.4 50.0,74.9 50.5,74.6 51.0,76.5 51.5,75.6 52.0,75.2 52.5,76.1 53.0,75.9 53.5,75.2 54.0,74.9 54.5,75.2 55.0,75.9 55.5,76.3 56.0,75.9 56.5,75.1 57.0,74.5 57.5,74.8 58.0,75.3 58.5,75.5 59.0,76.9 59.5,75.9 60.0,73.3 60.5,74.7 61.0,76.4 61.5,76.4 62.0,74.8 62.5,73.9 63.0,76.2 63.5,76.6 64.0,75.3 64.5,75.1 65.0,74.6 65.5,74.5 66.0,74.9 66.5,75.6 67.0,76.1 67.5,76.0 68.0,75.3 68.5,74.7 69.0,75.1 69.5,76.0 70.0,76.5 70.5,75.9 71.0,74.9 71.5,74.4 72.0,74.9 72.5,75.8 73.0,76.1 73.5,75.6 74.0,74.8 74.5,74.4 75.0,74.7 75.5,75.6 76.0,76.2 76.5,75.9 77.0,75.0 77.5,74.5 78.0,75.0 78.5,76.0 79.0,76.2 79.5,75.6 80.0,75.1 80.5,75.3 81.0,75.9 81.5,76.4 82.0,76.6 82.5,76.3 83.0,75.8 83.5,75.7 84.0,76.1 84.5,76.7 85.0,76.8 85.5,76.1 86.0,75.2 86.5,75.2 87.0,76.0 87.5,76.8 88.0,76.7 88.5,75.8 89.0,75.3 89.5,75.9 90.0,76.6 90.5,76.1 91.0,74.7 91.5,74.5 92.0,75.9 92.5,76.8 93.0,76.1 93.5,75.0 94.0,75.0 94.5,75.9 95.0,76.9 95.5,76.7 96.0,75.5 96.5,74.7 97.0,75.2 97.5,76.1 98.0,76.3 98.5,75.7 99.0,74.9 99.5,74.5 100.0,75.1 100.5,76.0 101.0,76.5 101.5,76.1 102.0,75.3 102.5,74.7 103.0,75.0 103.5,75.7 104.0,75.9 104.5,75.1 105.0,74.3 105.5,74.3 106.0,75.1 106.5,76.1 107.0,76.3 107.5,75.5 108.0,74.5 108.5,74.3 109.0,75.1 109.5,75.9 110.0,76.2 110.5,75.8 111.0,75.1 111.5,74.7 112.0,75.2 112.5,76.1 113.0,76.2 113.5,75.6 114.0,75.2 114.5,75.2 115.0,74.8 115.5,76.8 116.0,78.6 116.5,75.4 117.0,74.0 117.5,74.6 118.0,75.1 118.5,75.7 119.0,75.9 119.5,75.5 120.0,75.0 120.5,74.9 121.1,75.3 121.6,75.8 122.1,76.1 122.6,76.1 123.1,75.5 123.6,75.1 124.1,75.3 124.6,75.8 125.1,75.9 125.6,75.6 126.1,75.0 126.6,74.8 127.1,75.1 127.6,75.7 128.1,76.1 128.6,75.8 129.1,75.3 129.6,75.2 130.1,75.7 130.6,76.2 131.1,76.1 131.6,75.5 132.1,74.9 132.6,74.9 133.1,75.6 133.6,76.1 134.1,75.8 134.6,75.1 135.1,75.1 135.6,75.6 136.1,76.1 136.6,75.9 137.1,75.0 137.6,74.5 138.1,74.9 138.6,75.6 139.1,75.9 139.6,75.4 140.1,74.7 140.6,74.5 141.1,75.1 141.6,76.0 142.1,76.3 142.6,75.7 143.1,74.8 143.6,74.6 144.1,75.2 144.6,76.1 145.1,76.3 145.6,75.8 146.1,75.1 146.6,75.2 147.1,75.8 147.6,75.7 148.1,77.3 148.6,77.3 149.1,74.4 149.6,75.2 150.1,76.8 150.6,76.4 151.1,75.5 151.6,75.2 152.1,75.8 152.6,76.6 153.1,76.6 153.6,75.8 154.1,75.2 154.6,75.6 155.1,76.5 155.6,76.7 156.1,76.1 156.6,75.2 157.1,74.9 157.6,75.2 158.1,75.7 158.6,75.8 159.1,75.5 159.6,75.3 160.1,75.4 160.6,75.7 161.1,75.8 161.6,75.5 162.1,74.9 162.6,74.7 163.1,75.2 163.6,75.7 164.1,75.6 164.6,75.3 165.1,75.0 165.6,75.2 166.1,75.5 166.6,75.9 167.1,75.8 167.6,75.6 168.1,75.4 168.6,75.6 169.1,76.0 169.6,76.1 170.1,75.5 170.6,74.6 171.1,74.5 171.6,75.2 172.1,76.0 172.6,75.8 173.1,74.8 173.6,74.3 174.1,74.9 174.6,76.0 175.1,76.6 175.6,76.3 176.1,75.3 176.6,74.2 177.1,74.2 177.6,75.3 178.1,76.2 178.6,76.0 179.1,74.9 179.6,74.1 180.1,74.4 180.6,75.6 181.1,76.3 181.6,75.9 182.1,75.2 182.6,74.8 183.1,75.1 183.6,75.8 184.1,76.0 184.6,75.7 185.1,75.2 185.6,75.0 186.1,75.4 186.6,76.3 187.1,76.9 187.6,76.6 188.1,75.7 188.6,75.5 189.1,76.2 189.6,76.9 190.1,77.1 190.6,76.8 191.1,76.3 191.6,75.9 192.1,75.8 192.6,76.2 193.1,76.8 193.6,77.0 194.1,76.0 194.6,74.6 195.1,74.9 195.6,76.7 196.1,77.7 196.6,76.3 197.1,74.2 197.6,74.3 198.1,76.0 198.6,76.6 199.1,75.6 199.6,74.9 200.1,75.4 200.6,75.5 201.1,74.3 201.6,73.7 202.1,75.3 202.6,77.4 203.1,76.8 203.6,74.0 204.1,72.7 204.6,74.7 205.1,77.0 205.6,76.6 206.1,74.4 206.6,73.6 207.1,75.2 207.6,76.7 208.1,75.9 208.6,74.2 209.1,74.4 209.6,75.9 210.1,76.3 210.6,75.3 211.1,75.0 211.6,76.0 212.1,76.1 212.6,75.2 213.1,75.0 213.6,76.0" fill="none" stroke="#111" stroke-width="0.6" stroke-opacity="0.8"/>
<text x="26.8" y="76.5" font-size="2.9" text-anchor="end" style="font-weight:normal;fill:#333">Ch21</text>
<polyline points="28.0,77.9 28.5,78.9 29.0,79.2 29.5,78.8 30.0,78.0 30.5,77.6 31.0,77.8 31.5,78.6 32.0,79.2 32.5,79.0 33.0,78.0 33.5,77.2 34.0,77.2 34.5,78.0 35.0,78.9 35.5,79.3 36.0,78.8 36.5,78.1 37.0,77.9 37.5,78.5 38.0,79.4 38.5,79.8 39.0,79.3 39.5,78.5 40.0,78.0 40.5,78.2 41.0,79.0 41.5,79.4 42.0,79.1 42.5,78.3 43.0,77.9 43.5,78.2 44.0,78.9 44.5,79.3 45.0,79.0 45.5,78.3 46.0,78.0 46.5,78.1 47.0,78.7 47.5,79.3 48.0,78.9 48.5,78.0 49.0,77.7 49.5,78.1 50.0,78.7 50.5,78.9 51.0,78.6 51.5,78.1 52.0,77.7 52.5,77.9 53.0,78.5 53.5,78.8 54.0,78.8 54.5,78.3 55.0,77.4 55.5,77.1 56.0,77.8 56.5,78.7 57.0,78.9 57.5,78.3 58.0,77.8 58.5,78.0 59.0,78.9 59.5,79.6 60.0,79.3 60.5,78.4 61.0,78.1 61.5,78.5 62.0,79.1 62.5,79.3 63.0,78.8 63.5,78.5 64.0,78.5 64.5,79.0 65.0,79.7 65.5,79.8 66.0,79.0 66.5,78.3 67.0,78.3 67.5,78.9 68.0,79.2 68.5,79.2 69.0,78.9 69.5,78.2 70.0,77.8 70.5,78.1 71.0,78.9 71.5,79.2 72.0,78.9 72.5,78.3 73.0,78.0 73.5,78.2 74.0,78.6 74.5,78.9 75.0,78.7 75.5,78.3 76.0,78.0 76.5,78.0 77.0,78.4 77.5,78.9 78.0,78.9 78.5,78.3 79.0,78.0 79.5,78.4 80.0,79.0 80.5,79.3 81.0,79.0 81.5,78.3 82.0,78.0 82.5,78.4 83.0,79.0 83.5,79.2 84.0,78.9 84.5,78.3 85.0,77.8 85.5,77.8 86.0,78.2 86.5,78.7 87.0,78.7 87.5,78.4 88.0,77.9 88.5,77.7 89.0,78.1 89.5,78.8 90.0,78.8 90.5,78.1 91.0,77.8 91.5,78.1 92.0,78.8 92.5,79.2 93.0,79.4 93.5,79.0 94.0,78.3 94.5,77.8 95.0,77.9 95.5,78.7 96.0,79.1 96.5,78.2 97.0,77.2 97.5,77.1 98.0,78.0 98.5,78.6 99.0,78.4 99.5,77.6 100.0,77.4 100.5,77.9 101.0,78.9 101.5,79.3 102.0,78.5 102.5,77.5 103.0,77.1 103.5,77.5 104.0,78.2 104.5,78.7 105.0,78.5 105.5,78.1 106.0,77.8 106.5,78.2 107.0,79.2 107.5,80.0 108.0,79.7 108.5,78.7 109.0,77.8 109.5,77.9 110.0,78.5 110.5,79.1 111.0,79.0 111.5,78.2 112.0,77.7 112.5,78.2 113.0,79.1 113.5,79.4 114.0,78.8 114.5,78.1 115.0,78.1 115.5,78.5 116.0,79.0 116.5,79.1 117.0,78.2 117.5,77.5 118.0,77.6 118.5,78.4 119.0,79.1 119.5,79.3 120.0,78.7 120.5,78.1 121.1,78.0 121.6,78.5 122.1,79.0 122.6,79.2 123.1,79.0 123.6,78.4 124.1,78.0 124.6,78.1 125.1,78.7 125.6,79.1 126.1,79.2 126.6,78.9 127.1,78.6 127.6,78.4 128.1,78.6 128.6,78.9 129.1,79.0 129.6,78.6 130.1,78.2 130.6,78.0 131.1,78.1 131.6,78.3 132.1,78.6 132.6,78.7 133.1,78.3 133.6,78.0 134.1,78.1 134.6,78.5 135.1,79.0 135.6,79.1 136.1,78.7 136.6,78.1 137.1,77.9 137.6,78.4 138.1,78.9 138.6,78.8 139.1,78.2 139.6,77.7 140.1,77.9 140.6,78.7 141.1,79.1 141.6,78.7 142.1,77.8 142.6,77.4 143.1,78.1 143.6,79.0 144.1,79.2 144.6,78.6 145.1,77.7 145.6,77.2 146.1,77.7 146.6,78.6 147.1,79.1 147.6,78.7 148.1,77.7 148.6,77.6 149.1,78.5 149.6,79.3 150.1,79.8 150.6,79.5 151.1,78.7 151.6,78.1 152.1,78.1 152.6,78.7 153.1,79.3 153.6,79.3 154.1,78.5 154.6,77.6 155.1,77.5 155.6,78.2 156.1,79.3 156.6,79.7 157.1,79.0 157.6,78.0 158.1,77.8 158.6,78.6 159.1,79.5 159.6,79.3 160.1,78.3 160.6,77.8 161.1,78.1 161.6,78.7 162.1,79.3 162.6,79.6 163.1,79.4 163.6,78.9 164.1,78.4 164.6,78.6 165.1,79.4 165.6,79.8 166.1,79.4 166.6,78.6 167.1,78.1 167.6,78.2 168.1,78.8 168.6,79.4 169.1,79.3 169.6,78.6 170.1,78.0 170.6,78.0 171.1,78.7 171.6,79.5 172.1,79.6 172.6,79.0 173.1,78.1 173.6,77.6 174.1,77.8 174.6,78.6 175.1,79.1 175.6,78.9 176.1,78.1 176.6,77.6 177.1,78.2 177.6,79.1 178.1,79.4 178.6,78.9 179.1,78.2 179.6,77.9 180.1,78.3 180.6,78.9 181.1,79.0 181.6,78.4 182.1,77.8 182.6,77.8 183.1,78.3 183.6,79.0 184.1,79.1 184.6,78.6 185.1,77.8 185.6,77.7 186.1,78.3 186.6,79.0 187.1,79.2 187.6,79.0 188.1,78.5 188.6,78.4 189.1,78.8 189.6,79.2 190.1,79.4 190.6,78.9 191.1,78.5 191.6,78.7 192.1,79.3 192.6,79.5 193.1,79.0 193.6,78.8 194.1,79.4 194.6,79.6 195.1,78.6 195.6,77.8 196.1,78.8 196.6,80.3 197.1,79.9 197.6,78.2 198.1,77.5 198.6,78.5 199.1,79.6 199.6,79.4 200.1,78.5 200.6,78.4 201.1,79.1 201.6,79.1 202.1,77.9 202.6,77.4 203.1,78.8 203.6,80.1 204.1,79.2 204.6,77.4 205.1,77.3 205.6,79.1 206.1,80.0 206.6,79.0 207.1,77.5 207.6,77.7 208.1,79.1 208.6,79.4 209.1,78.3 209.6,77.8 210.1,78.6 210.6,78.9 211.1,77.7 211.6,77.0 212.1,78.1 212.6,79.4 213.1,79.0 213.6,77.6" fill="none" stroke="#111" stroke-width="0.6" stroke-opacity="0.8"/>
<text x="26.8" y="79.3" font-size="2.9" text-anchor="end" style="font-weight:normal;fill:#333">Ch22</text>
<polyline points="28.0,82.0 28.5,82.2 29.0,81.4 29.5,80.7 30.0,81.0 30.5,81.8 31.0,82.3 31.5,82.1 32.0,81.4 32.5,80.6 33.0,80.4 33.5,80.9 34.0,81.6 34.5,82.0 35.0,81.8 35.5,81.2 36.0,80.7 36.5,80.9 37.0,81.5 37.5,81.6 38.0,81.2 38.5,80.6 39.0,80.2 39.5,80.3 40.0,81.1 40.5,81.7 41.0,81.5 41.5,80.9 42.0,80.6 42.5,80.7 43.0,81.3 43.5,82.1 44.0,82.2 44.5,81.4 45.0,80.6 45.5,80.6 46.0,81.0 46.5,81.9 47.0,83.4 47.5,81.0 48.0,78.5 48.5,80.3 49.0,81.7 49.5,82.2 50.0,81.1 50.5,80.5 51.0,82.0 51.5,81.4 52.0,81.4 52.5,82.2 53.0,81.6 53.5,80.8 54.0,80.8 54.5,81.6 55.0,82.3 55.5,82.3 56.0,81.7 56.5,81.1 57.0,81.2 57.5,81.8 58.0,81.9 58.5,81.8 59.0,83.2 59.5,82.4 60.0,79.6 60.5,80.2 61.0,81.2 61.5,81.5 62.0,80.8 62.5,79.7 63.0,80.9 63.5,80.6 64.0,80.1 64.5,81.2 65.0,81.6 65.5,81.0 66.0,80.3 66.5,80.2 67.0,80.6 67.5,81.1 68.0,81.2 68.5,80.9 69.0,80.4 69.5,80.1 70.0,79.9 70.5,80.2 71.0,80.8 71.5,81.4 72.0,81.4 72.5,81.1 73.0,80.9 73.5,81.0 74.0,81.2 74.5,81.4 75.0,81.4 75.5,81.3 76.0,80.9 76.5,80.8 77.0,81.1 77.5,81.7 78.0,81.8 78.5,81.5 79.0,81.0 79.5,81.1 80.0,81.8 80.5,82.3 81.0,82.1 81.5,81.2 82.0,80.5 82.5,80.7 83.0,81.5 83.5,82.0 84.0,81.6 84.5,80.9 85.0,80.8 85.5,81.3 86.0,81.9 86.5,81.8 87.0,81.2 87.5,80.9 88.0,81.0 88.5,81.4 89.0,81.7 89.5,81.8 90.0,81.6 90.5,81.1 91.0,80.8 91.5,80.8 92.0,81.1 92.5,81.5 93.0,81.7 93.5,81.4 94.0,80.9 94.5,80.7 95.0,81.0 95.5,81.5 96.0,81.8 96.5,81.4 97.0,80.6 97.5,80.2 98.0,80.7 98.5,81.3 99.0,81.8 99.5,82.0 100.0,81.6 100.5,81.1 101.0,81.0 101.5,81.5 102.0,82.2 102.5,82.4 103.0,81.7 103.5,80.7 104.0,80.4 104.5,81.2 105.0,82.1 105.5,82.4 106.0,81.8 106.5,81.0 107.0,80.6 107.5,81.2 108.0,82.1 108.5,82.5 109.0,82.5 109.5,82.0 110.0,81.0 110.5,80.2 111.0,80.1 111.5,80.8 112.0,81.6 112.5,81.8 113.0,81.1 113.5,80.1 114.0,79.8 114.5,80.0 115.0,80.2 115.5,82.3 116.0,83.6 116.5,80.6 117.0,79.8 117.5,80.5 118.0,80.8 118.5,81.3 119.0,81.4 119.5,80.8 120.0,80.2 120.5,80.2 121.1,80.6 121.6,81.1 122.1,81.2 122.6,81.0 123.1,80.7 123.6,80.7 124.1,81.2 124.6,81.6 125.1,81.8 125.6,81.6 126.1,81.2 126.6,80.7 127.1,80.6 127.6,81.2 128.1,81.6 128.6,81.4 129.1,81.0 129.6,80.8 130.1,81.2 130.6,82.0 131.1,82.2 131.6,81.5 132.1,80.4 132.6,79.8 133.1,80.3 133.6,81.2 134.1,81.3 134.6,80.6 135.1,79.9 135.6,80.2 136.1,81.3 136.6,82.1 137.1,81.8 137.6,80.9 138.1,80.5 138.6,81.0 139.1,81.9 139.6,82.2 140.1,81.7 140.6,80.7 141.1,80.1 141.6,80.1 142.1,80.6 142.6,81.7 143.1,82.3 143.6,81.7 144.1,80.7 144.6,80.6 145.1,81.4 145.6,82.3 146.1,82.1 146.6,81.2 147.1,80.0 147.6,79.3 148.1,81.7 148.6,83.1 149.1,80.7 149.6,80.5 150.1,80.8 150.6,80.5 151.1,80.8 151.6,81.6 152.1,82.0 152.6,81.8 153.1,81.4 153.6,81.1 154.1,81.1 154.6,81.5 155.1,81.9 155.6,82.0 156.1,81.6 156.6,81.1 157.1,81.0 157.6,81.3 158.1,81.7 158.6,82.0 159.1,81.8 159.6,81.0 160.1,80.8 160.6,81.6 161.1,82.3 161.6,81.9 162.1,81.0 162.6,80.3 163.1,80.2 163.6,80.7 164.1,81.4 164.6,81.8 165.1,81.4 165.6,80.6 166.1,80.1 166.6,80.2 167.1,80.8 167.6,81.6 168.1,81.8 168.6,81.4 169.1,80.8 169.6,80.5 170.1,80.7 170.6,81.3 171.1,81.8 171.6,81.5 172.1,80.9 172.6,80.6 173.1,80.9 173.6,81.6 174.1,82.1 174.6,81.9 175.1,81.2 175.6,80.5 176.1,80.5 176.6,81.4 177.1,81.9 177.6,81.5 178.1,80.6 178.6,80.1 179.1,80.3 179.6,81.0 180.1,81.6 180.6,81.4 181.1,80.6 181.6,80.1 182.1,80.6 182.6,81.4 183.1,81.5 183.6,81.0 184.1,80.5 184.6,80.6 185.1,80.9 185.6,81.4 186.1,81.7 186.6,81.7 187.1,81.3 187.6,80.8 188.1,80.8 188.6,81.1 189.1,81.6 189.6,81.8 190.1,81.6 190.6,81.0 191.1,80.7 191.6,80.8 192.1,80.8 192.6,80.8 193.1,81.2 193.6,81.5 194.1,80.8 194.6,79.7 195.1,80.1 195.6,81.7 196.1,82.1 196.6,80.5 197.1,79.0 197.6,79.7 198.1,81.2 198.6,81.5 199.1,80.4 199.6,79.8 200.1,80.4 200.6,81.2 201.1,80.9 201.6,80.2 202.1,80.9 202.6,82.1 203.1,81.5 203.6,79.6 204.1,79.2 204.6,81.4 205.1,83.1 205.6,81.8 206.1,79.2 206.6,78.8 207.1,80.6 207.6,82.0 208.1,81.4 208.6,80.1 209.1,80.4 209.6,81.6 210.1,81.5 210.6,80.4 211.1,80.3 211.6,81.4 212.1,81.4 212.6,79.9 213.1,79.2 213.6,80.2" fill="none" stroke="#111" stroke-width="0.6" stroke-opacity="0.8"/>
<text x="26.8" y="82.0" font-size="2.9" text-anchor="end" style="font-weight:normal;fill:#333">Ch23</text>
<polyline points="28.0,83.8 28.5,84.3 29.0,84.0 29.5,83.3 30.0,82.8 30.5,83.2 31.0,84.3 31.5,84.5 32.0,83.3 32.5,82.4 33.0,83.0 33.5,84.0 34.0,84.3 34.5,83.6 35.0,82.8 35.5,82.7 36.0,83.3 36.5,84.3 37.0,84.9 37.5,84.4 38.0,83.4 38.5,83.2 39.0,84.1 39.5,84.9 40.0,84.6 40.5,83.7 41.0,83.1 41.5,83.4 42.0,84.3 42.5,84.9 43.0,84.7 43.5,83.8 44.0,83.4 44.5,84.1 45.0,85.1 45.5,85.1 46.0,83.8 46.5,82.4 47.0,84.2 47.5,85.4 48.0,83.5 48.5,83.5 49.0,83.3 49.5,82.8 50.0,82.7 50.5,83.4 51.0,86.0 51.5,85.1 52.0,82.5 52.5,82.9 53.0,84.1 53.5,84.4 54.0,84.0 54.5,83.1 55.0,82.4 55.5,82.7 56.0,84.1 56.5,85.1 57.0,84.5 57.5,83.2 58.0,82.8 58.5,83.2 59.0,85.5 59.5,86.5 60.0,83.1 60.5,82.0 61.0,83.1 61.5,84.2 62.0,84.3 62.5,83.0 63.0,83.5 63.5,83.9 64.0,83.2 64.5,84.2 65.0,84.6 65.5,83.8 66.0,82.7 66.5,82.5 67.0,83.5 67.5,84.4 68.0,84.1 68.5,83.2 69.0,83.0 69.5,83.7 70.0,84.6 70.5,84.9 71.0,84.4 71.5,83.4 72.0,83.1 72.5,83.6 73.0,84.3 73.5,84.3 74.0,83.4 74.5,82.6 75.0,82.8 75.5,83.7 76.0,84.2 76.5,84.1 77.0,83.5 77.5,82.9 78.0,83.2 78.5,84.1 79.0,84.6 79.5,84.2 80.0,83.0 80.5,82.4 81.0,82.9 81.5,84.1 82.0,84.5 82.5,83.7 83.0,83.1 83.5,83.5 84.0,84.5 84.5,84.9 85.0,84.2 85.5,83.1 86.0,82.7 86.5,83.7 87.0,84.7 87.5,84.7 88.0,83.9 88.5,83.4 89.0,83.8 89.5,85.0 90.0,85.6 90.5,85.0 91.0,83.8 91.5,83.3 92.0,83.7 92.5,84.6 93.0,84.9 93.5,84.1 94.0,83.1 94.5,83.1 95.0,84.1 95.5,84.8 96.0,84.5 96.5,83.8 97.0,83.4 97.5,83.7 98.0,84.5 98.5,84.7 99.0,84.1 99.5,83.3 100.0,83.1 100.5,83.7 101.0,84.5 101.5,84.9 102.0,84.6 102.5,84.0 103.0,83.8 103.5,84.3 104.0,84.7 104.5,84.8 105.0,84.3 105.5,83.6 106.0,83.4 106.5,83.9 107.0,84.4 107.5,84.3 108.0,83.7 108.5,83.6 109.0,84.1 109.5,84.7 110.0,84.7 110.5,84.2 111.0,83.7 111.5,83.8 112.0,84.2 112.5,84.6 113.0,84.3 113.5,83.5 114.0,83.3 114.5,83.9 115.0,83.7 115.5,84.1 116.0,86.1 116.5,84.2 117.0,82.8 117.5,84.2 118.0,85.0 118.5,84.7 119.0,83.6 119.5,82.8 120.0,83.2 120.5,84.4 121.1,84.8 121.6,84.0 122.1,83.0 122.6,83.1 123.1,84.2 123.6,85.0 124.1,84.4 124.6,83.1 125.1,82.6 125.6,83.1 126.1,83.9 126.6,84.4 127.1,84.2 127.6,83.6 128.1,83.0 128.6,83.1 129.1,84.1 129.6,84.9 130.1,84.6 130.6,83.5 131.1,82.8 131.6,83.2 132.1,84.3 132.6,84.4 133.1,83.3 133.6,82.6 134.1,83.2 134.6,84.3 135.1,84.6 135.6,83.9 136.1,83.1 136.6,82.9 137.1,83.5 137.6,84.1 138.1,83.8 138.6,83.1 139.1,82.9 139.6,83.4 140.1,83.9 140.6,83.9 141.1,83.4 141.6,83.0 142.1,83.1 142.6,83.7 143.1,84.1 143.6,83.9 144.1,83.2 144.6,83.0 145.1,83.4 145.6,84.1 146.1,84.2 146.6,83.4 147.1,82.8 147.6,82.5 148.1,84.1 148.6,86.0 149.1,83.1 149.6,81.6 150.1,82.8 150.6,83.9 151.1,84.0 151.6,83.2 152.1,82.4 152.6,82.3 153.1,82.7 153.6,83.4 154.1,83.9 154.6,83.8 155.1,83.1 155.6,82.7 156.1,82.8 156.6,83.3 157.1,83.6 157.6,83.4 158.1,82.8 158.6,82.4 159.1,83.0 159.6,83.8 160.1,83.9 160.6,83.3 161.1,82.8 161.6,83.3 162.1,84.1 162.6,84.3 163.1,84.0 163.6,83.4 164.1,82.9 164.6,83.1 165.1,83.8 165.6,84.4 166.1,84.3 166.6,83.7 167.1,83.4 167.6,83.8 168.1,84.6 168.6,84.9 169.1,84.2 169.6,83.3 170.1,83.2 170.6,83.7 171.1,84.5 171.6,84.3 172.1,83.2 172.6,82.7 173.1,83.7 173.6,84.7 174.1,84.6 174.6,83.6 175.1,82.8 175.6,83.3 176.1,84.3 176.6,84.5 177.1,83.8 177.6,82.8 178.1,82.6 178.6,83.3 179.1,84.4 179.6,84.6 180.1,83.8 180.6,83.1 181.1,83.5 181.6,84.6 182.1,84.8 182.6,83.9 183.1,83.2 183.6,83.6 184.1,84.4 184.6,84.7 185.1,84.3 185.6,83.6 186.1,83.5 186.6,84.2 187.1,84.9 187.6,84.8 188.1,83.9 188.6,83.1 189.1,83.2 189.6,83.8 190.1,84.2 190.6,83.9 191.1,83.2 191.6,83.0 192.1,83.5 192.6,84.1 193.1,84.5 193.6,84.7 194.1,84.3 194.6,83.3 195.1,83.0 195.6,84.4 196.1,85.5 196.6,84.6 197.1,82.6 197.6,82.6 198.1,84.6 198.6,85.7 199.1,84.4 199.6,82.8 200.1,83.5 200.6,85.2 201.1,85.3 201.6,83.4 202.1,82.3 202.6,83.7 203.1,85.2 203.6,84.7 204.1,83.1 204.6,83.1 205.1,84.4 205.6,84.7 206.1,83.8 206.6,83.3 207.1,84.2 207.6,84.8 208.1,83.8 208.6,82.2 209.1,82.5 209.6,84.4 210.1,85.1 210.6,83.4 211.1,82.1 211.6,83.4 212.1,85.3 212.6,85.1 213.1,83.4 213.6,82.7" fill="none" stroke="#111" stroke-width="0.6" stroke-opacity="0.8"/>
<text x="26.8" y="84.8" font-size="2.9" text-anchor="end" style="font-weight:normal;fill:#333">Ch24</text>
<polyline points="28.0,86.8 28.5,86.0 29.0,85.8 29.5,86.4 30.0,87.4 30.5,88.0 31.0,87.7 31.5,86.7 32.0,85.9 32.5,85.9 33.0,86.4 33.5,87.1 34.0,87.4 34.5,86.9 35.0,85.9 35.5,85.2 36.0,85.2 36.5,86.2 37.0,87.2 37.5,87.3 38.0,86.7 38.5,86.2 39.0,86.1 39.5,86.4 40.0,86.8 40.5,87.2 41.0,87.4 41.5,87.3 42.0,86.6 42.5,86.0 43.0,85.9 43.5,86.5 44.0,87.3 44.5,87.7 45.0,87.5 45.5,86.9 46.0,86.3 46.5,87.2 47.0,87.9 47.5,85.4 48.0,86.2 48.5,88.0 49.0,87.0 49.5,85.9 50.0,85.4 50.5,87.3 51.0,88.1 51.5,86.2 52.0,86.5 52.5,86.6 53.0,85.9 53.5,85.7 54.0,86.3 54.5,87.0 55.0,87.3 55.5,87.0 56.0,86.4 56.5,85.9 57.0,86.0 57.5,86.5 58.0,86.9 58.5,87.8 59.0,88.3 59.5,85.0 60.0,84.1 60.5,86.7 61.0,87.6 61.5,87.6 62.0,87.0 62.5,87.6 63.0,88.1 63.5,85.9 64.0,85.7 64.5,87.0 65.0,87.5 65.5,87.2 66.0,86.5 66.5,86.0 67.0,86.0 67.5,86.3 68.0,86.8 68.5,87.0 69.0,86.8 69.5,86.3 70.0,86.0 70.5,85.8 71.0,86.0 71.5,86.6 72.0,87.0 72.5,87.0 73.0,86.7 73.5,86.2 74.0,85.8 74.5,85.8 75.0,86.2 75.5,86.7 76.0,86.8 76.5,86.3 77.0,85.7 77.5,85.6 78.0,86.3 78.5,87.2 79.0,87.5 79.5,87.2 80.0,86.6 80.5,86.2 81.0,86.1 81.5,86.5 82.0,86.9 82.5,87.0 83.0,87.0 83.5,86.6 84.0,86.2 84.5,85.9 85.0,85.9 85.5,86.3 86.0,86.8 86.5,87.1 87.0,87.0 87.5,86.9 88.0,86.6 88.5,86.4 89.0,86.5 89.5,86.8 90.0,87.3 90.5,87.7 91.0,87.6 91.5,87.1 92.0,87.0 92.5,87.5 93.0,88.1 93.5,88.2 94.0,87.7 94.5,87.0 95.0,86.6 95.5,86.7 96.0,87.3 96.5,87.7 97.0,87.8 97.5,87.5 98.0,87.0 98.5,86.6 99.0,86.7 99.5,87.1 100.0,87.5 100.5,87.7 101.0,87.3 101.5,86.7 102.0,86.3 102.5,86.5 103.0,87.2 103.5,87.7 104.0,87.6 104.5,86.9 105.0,86.1 105.5,85.7 106.0,86.0 106.5,86.9 107.0,87.5 107.5,87.0 108.0,86.3 108.5,86.0 109.0,86.4 109.5,87.0 110.0,87.4 110.5,87.2 111.0,86.7 111.5,86.3 112.0,86.4 112.5,87.0 113.0,87.6 113.5,87.8 114.0,87.3 114.5,86.2 115.0,86.1 115.5,88.5 116.0,88.0 116.5,86.1 117.0,87.3 117.5,87.0 118.0,86.3 118.5,86.5 119.0,87.3 119.5,88.0 120.0,88.0 120.5,87.3 121.1,86.6 121.6,86.5 122.1,87.2 122.6,87.9 123.1,87.8 123.6,87.2 124.1,86.7 124.6,86.7 125.1,87.1 125.6,87.5 126.1,87.7 126.6,87.6 127.1,87.1 127.6,86.6 128.1,86.7 128.6,87.0 129.1,87.2 129.6,87.2 130.1,87.0 130.6,86.6 131.1,86.4 131.6,86.5 132.1,86.9 132.6,87.2 133.1,87.3 133.6,87.1 134.1,86.7 134.6,86.5 135.1,86.8 135.6,87.2 136.1,87.3 136.6,86.9 137.1,86.2 137.6,86.0 138.1,86.1 138.6,86.6 139.1,87.0 139.6,87.0 140.1,86.7 140.6,86.4 141.1,86.3 141.6,86.6 142.1,87.0 142.6,87.1 143.1,86.9 143.6,86.5 144.1,86.1 144.6,86.1 145.1,86.6 145.6,87.1 146.1,87.2 146.6,86.9 147.1,86.1 147.6,86.6 148.1,89.0 148.6,87.5 149.1,86.0 149.6,87.5 150.1,87.3 150.6,86.7 151.1,86.7 151.6,87.1 152.1,87.5 152.6,87.6 153.1,87.1 153.6,86.5 154.1,86.4 154.6,87.0 155.1,87.5 155.6,87.6 156.1,87.2 156.6,86.5 157.1,86.2 157.6,86.3 158.1,86.8 158.6,87.0 159.1,86.8 159.6,86.2 160.1,85.6 160.6,85.6 161.1,86.1 161.6,86.6 162.1,86.7 162.6,86.5 163.1,86.0 163.6,85.7 164.1,85.7 164.6,86.2 165.1,86.6 165.6,86.7 166.1,86.5 166.6,86.0 167.1,85.8 167.6,85.8 168.1,86.2 168.6,86.6 169.1,86.7 169.6,86.4 170.1,86.1 170.6,86.3 171.1,86.9 171.6,87.3 172.1,87.3 172.6,87.3 173.1,87.0 173.6,86.5 174.1,86.4 174.6,86.6 175.1,87.1 175.6,87.3 176.1,87.2 176.6,86.9 177.1,86.5 177.6,86.3 178.1,86.3 178.6,86.6 179.1,87.0 179.6,87.2 180.1,87.2 180.6,86.8 181.1,86.3 181.6,86.3 182.1,86.9 182.6,87.0 183.1,86.6 183.6,86.1 184.1,85.9 184.6,86.1 185.1,86.6 185.6,86.9 186.1,86.7 186.6,86.1 187.1,85.6 187.6,85.8 188.1,86.4 188.6,86.7 189.1,86.5 189.6,85.8 190.1,85.2 190.6,85.3 191.1,86.0 191.6,86.6 192.1,86.5 192.6,86.2 193.1,86.2 193.6,85.8 194.1,85.1 194.6,85.4 195.1,87.0 195.6,88.1 196.1,86.9 196.6,85.2 197.1,85.4 197.6,87.2 198.1,87.9 198.6,86.8 199.1,85.6 199.6,86.1 200.1,87.1 200.6,87.0 201.1,86.0 201.6,86.2 202.1,87.7 202.6,87.9 203.1,86.0 203.6,84.8 204.1,86.2 204.6,88.1 205.1,87.7 205.6,85.7 206.1,84.6 206.6,85.7 207.1,87.1 207.6,86.8 208.1,85.7 208.6,85.9 209.1,87.1 209.6,87.0 210.1,85.5 210.6,85.2 211.1,87.1 211.6,88.2 212.1,87.2 212.6,85.8 213.1,85.8 213.6,86.8" fill="none" stroke="#111" stroke-width="0.6" stroke-opacity="0.8"/>
<text x="26.8" y="87.5" font-size="2.9" text-anchor="end" style="font-weight:normal;fill:#333">Ch25</text>
<polyline points="28.0,89.8 28.5,89.0 29.0,88.7 29.5,89.0 30.0,89.6 30.5,89.9 31.0,89.5 31.5,88.8 32.0,88.6 32.5,89.0 33.0,89.5 33.5,89.6 34.0,89.3 34.5,88.9 35.0,89.0 35.5,89.6 36.0,89.9 36.5,89.5 37.0,88.9 37.5,88.9 38.0,89.5 38.5,90.1 39.0,90.3 39.5,90.0 40.0,89.3 40.5,88.9 41.0,89.0 41.5,89.4 42.0,90.1 42.5,90.3 43.0,89.8 43.5,89.0 44.0,88.8 44.5,89.0 45.0,89.4 45.5,89.7 46.0,89.4 46.5,88.2 47.0,88.0 47.5,90.5 48.0,90.3 48.5,88.7 49.0,88.4 49.5,88.6 50.0,89.3 50.5,88.8 51.0,88.9 51.5,90.0 52.0,89.2 52.5,88.8 53.0,89.6 53.5,90.0 54.0,89.8 54.5,89.4 55.0,89.1 55.5,89.2 56.0,89.7 56.5,90.0 57.0,89.6 57.5,89.0 58.0,89.1 58.5,89.2 59.0,88.9 59.5,90.6 60.0,90.5 60.5,88.5 61.0,88.6 61.5,89.7 62.0,90.9 62.5,90.3 63.0,88.9 63.5,89.4 64.0,88.9 64.5,88.4 65.0,89.2 65.5,89.9 66.0,89.8 66.5,89.0 67.0,88.6 67.5,89.2 68.0,90.4 68.5,90.9 69.0,90.3 69.5,89.3 70.0,88.9 70.5,89.3 71.0,90.0 71.5,90.2 72.0,89.5 72.5,88.6 73.0,88.4 73.5,89.2 74.0,90.1 74.5,90.4 75.0,90.0 75.5,89.0 76.0,88.3 76.5,88.6 77.0,89.5 77.5,90.3 78.0,90.5 78.5,89.9 79.0,88.9 79.5,88.2 80.0,88.5 80.5,89.6 81.0,90.2 81.5,89.9 82.0,89.2 82.5,88.7 83.0,88.8 83.5,89.3 84.0,89.5 84.5,89.1 85.0,88.7 85.5,88.6 86.0,88.8 86.5,89.2 87.0,89.2 87.5,88.6 88.0,87.8 88.5,87.9 89.0,88.8 89.5,89.5 90.0,89.5 90.5,88.9 91.0,88.6 91.5,89.0 92.0,89.5 92.5,89.7 93.0,89.5 93.5,89.3 94.0,89.1 94.5,89.3 95.0,89.8 95.5,90.1 96.0,89.9 96.5,89.4 97.0,89.2 97.5,89.6 98.0,90.2 98.5,90.5 99.0,90.0 99.5,89.0 100.0,88.6 100.5,89.1 101.0,89.9 101.5,90.0 102.0,89.3 102.5,88.6 103.0,88.7 103.5,89.7 104.0,90.4 104.5,90.2 105.0,89.1 105.5,88.3 106.0,88.7 106.5,89.8 107.0,90.1 107.5,89.4 108.0,88.5 108.5,88.4 109.0,89.4 109.5,90.6 110.0,90.8 110.5,90.0 111.0,89.0 111.5,88.9 112.0,89.8 112.5,90.5 113.0,90.1 113.5,89.3 114.0,89.1 114.5,89.9 115.0,90.4 115.5,89.1 116.0,89.8 116.5,90.9 117.0,89.5 117.5,89.2 118.0,89.8 118.5,90.0 119.0,89.8 119.5,89.3 120.0,88.5 120.5,88.3 121.1,88.9 121.6,89.6 122.1,89.6 122.6,88.9 123.1,88.4 123.6,88.9 124.1,90.0 124.6,90.5 125.1,89.8 125.6,88.5 126.1,88.4 126.6,89.2 127.1,90.0 127.6,89.7 128.1,88.7 128.6,88.5 129.1,89.4 129.6,90.4 130.1,90.3 130.6,89.4 131.1,88.7 131.6,88.7 132.1,89.4 132.6,90.2 133.1,90.0 133.6,88.9 134.1,88.1 134.6,88.3 135.1,89.2 135.6,89.9 136.1,89.8 136.6,89.1 137.1,88.7 137.6,88.9 138.1,89.6 138.6,89.9 139.1,89.4 139.6,88.3 140.1,87.8 140.6,88.4 141.1,89.3 141.6,89.8 142.1,89.3 142.6,88.5 143.1,88.6 143.6,89.6 144.1,90.4 144.6,90.4 145.1,89.6 145.6,88.6 146.1,88.4 146.6,89.1 147.1,90.1 147.6,89.3 148.1,86.9 148.6,88.0 149.1,89.8 149.6,89.6 150.1,89.7 150.6,89.5 151.1,88.6 151.6,88.1 152.1,88.6 152.6,89.5 153.1,89.9 153.6,89.3 154.1,88.3 154.6,88.0 155.1,88.8 155.6,89.8 156.1,90.3 156.6,89.9 157.1,89.0 157.6,88.5 158.1,88.9 158.6,89.9 159.1,90.4 159.6,89.7 160.1,88.6 160.6,88.3 161.1,89.0 161.6,89.8 162.1,90.2 162.6,90.0 163.1,89.3 163.6,89.1 164.1,89.6 164.6,90.1 165.1,90.0 165.6,89.3 166.1,88.7 166.6,88.9 167.1,89.5 167.6,90.0 168.1,89.7 168.6,89.1 169.1,88.9 169.6,89.2 170.1,89.9 170.6,90.6 171.1,90.5 171.6,89.9 172.1,89.3 172.6,89.1 173.1,89.6 173.6,90.3 174.1,90.6 174.6,90.3 175.1,89.4 175.6,88.7 176.1,88.8 176.6,89.7 177.1,90.4 177.6,90.2 178.1,89.3 178.6,88.7 179.1,88.7 179.6,89.2 180.1,89.6 180.6,89.4 181.1,88.8 181.6,88.3 182.1,88.4 182.6,89.0 183.1,89.5 183.6,89.6 184.1,89.2 184.6,88.6 185.1,88.5 185.6,89.2 186.1,90.0 186.6,90.3 187.1,89.9 187.6,89.2 188.1,88.9 188.6,89.2 189.1,89.9 189.6,90.1 190.1,89.6 190.6,88.8 191.1,88.8 191.6,89.8 192.1,90.7 192.6,90.3 193.1,88.9 193.6,88.4 194.1,89.4 194.6,90.2 195.1,89.4 195.6,88.3 196.1,88.5 196.6,89.7 197.1,89.9 197.6,89.1 198.1,89.0 198.6,90.0 199.1,90.6 199.6,89.7 200.1,88.8 200.6,89.5 201.1,90.9 201.6,90.4 202.1,88.5 202.6,88.0 203.1,90.0 203.6,91.6 204.1,90.4 204.6,88.1 205.1,88.0 205.6,90.0 206.1,91.2 206.6,90.0 207.1,88.1 207.6,88.1 208.1,89.5 208.6,89.9 209.1,88.7 209.6,88.3 210.1,89.3 210.6,89.8 211.1,89.3 211.6,89.2 212.1,89.7 212.6,89.8 213.1,88.7 213.6,88.2" fill="none" stroke="#111" stroke-width="0.6" stroke-opacity="0.8"/>
<text x="26.8" y="90.3" font-size="2.9" text-anchor="end" style="font-weight:normal;fill:#333">Ch26</text>
<polyline points="28.0,92.4 28.5,93.1 29.0,93.2 29.5,92.4 30.0,91.5 30.5,91.3 31.0,91.9 31.5,92.3 32.0,92.3 32.5,92.1 33.0,92.0 33.5,91.6 34.0,91.1 34.5,91.4 35.0,92.2 35.5,92.7 36.0,92.4 36.5,91.8 37.0,91.6 37.5,91.9 38.0,92.2 38.5,92.3 39.0,92.5 39.5,92.4 40.0,91.6 40.5,91.0 41.0,91.8 41.5,93.1 42.0,92.8 42.5,91.3 43.0,91.0 43.5,92.2 44.0,92.7 44.5,91.7 45.0,91.4 45.5,92.4 46.0,92.7 46.5,91.4 47.0,90.8 47.5,92.1 48.0,93.3 48.5,92.6 49.0,91.3 49.5,91.7 50.0,93.0 50.5,92.8 51.0,91.9 51.5,92.6 52.0,94.1 52.5,93.3 53.0,91.1 53.5,91.3 54.0,93.8 54.5,94.5 55.0,92.6 55.5,91.3 56.0,92.4 56.5,93.6 57.0,93.1 57.5,92.4 58.0,93.3 58.5,94.0 59.0,92.1 59.5,90.2 60.0,91.5 60.5,94.1 61.0,93.6 61.5,91.5 62.0,91.5 62.5,92.7 63.0,92.0 63.5,90.7 64.0,91.8 64.5,94.2 65.0,94.2 65.5,91.8 66.0,90.8 66.5,92.1 67.0,93.0 67.5,92.5 68.0,91.9 68.5,92.3 69.0,92.3 69.5,91.7 70.0,91.6 70.5,92.7 71.0,93.4 71.5,92.8 72.0,91.8 72.5,91.7 73.0,92.6 73.5,93.2 74.0,93.1 74.5,92.7 75.0,92.1 75.5,91.5 76.0,91.2 76.5,91.8 77.0,92.7 77.5,93.0 78.0,92.5 78.5,91.5 79.0,91.2 79.5,91.7 80.0,92.2 80.5,92.5 81.0,92.6 81.5,92.3 82.0,91.4 82.5,91.0 83.0,91.7 83.5,92.7 84.0,92.8 84.5,92.1 85.0,91.6 85.5,91.6 86.0,91.9 86.5,91.9 87.0,92.2 87.5,92.3 88.0,91.9 88.5,91.4 89.0,91.5 89.5,92.4 90.0,93.0 90.5,92.4 91.0,91.4 91.5,91.0 92.0,91.4 92.5,91.7 93.0,91.8 93.5,91.8 94.0,91.7 94.5,91.0 95.0,90.4 95.5,91.1 96.0,92.4 96.5,92.7 97.0,91.8 97.5,90.8 98.0,90.6 98.5,90.9 99.0,91.2 99.5,91.7 100.0,92.1 100.5,91.8 101.0,91.0 101.5,90.8 102.0,91.7 102.5,92.7 103.0,92.8 103.5,92.1 104.0,91.4 104.5,91.3 105.0,91.5 105.5,91.9 106.0,92.5 106.5,93.0 107.0,92.5 107.5,91.5 108.0,91.3 108.5,92.4 109.0,93.2 109.5,92.6 110.0,91.8 110.5,92.1 111.0,92.6 111.5,92.2 112.0,91.8 112.5,92.6 113.0,93.2 113.5,92.3 114.0,91.0 114.5,91.3 115.0,92.6 115.5,92.8 116.0,92.0 116.5,92.1 117.0,92.9 117.5,92.6 118.0,91.1 118.5,90.9 119.0,92.6 119.5,93.6 120.0,92.1 120.5,90.9 121.1,91.6 121.6,92.7 122.1,92.6 122.6,92.3 123.1,92.4 123.6,92.4 124.1,91.9 124.6,92.0 125.1,92.9 125.6,93.6 126.1,93.1 126.6,92.0 127.1,91.4 127.6,91.4 128.1,91.7 128.6,92.0 129.1,92.1 129.6,92.1 130.1,91.6 130.6,90.9 131.1,90.7 131.6,91.6 132.1,92.8 132.6,92.7 133.1,91.8 133.6,91.4 134.1,91.7 134.6,91.7 135.1,91.5 135.6,92.2 136.1,92.9 136.6,92.2 137.1,90.7 137.6,90.7 138.1,92.0 138.6,92.8 139.1,92.5 139.6,92.3 140.1,92.5 140.6,92.3 141.1,91.8 141.6,92.2 142.1,93.1 142.6,92.9 143.1,91.5 143.6,90.6 144.1,91.4 144.6,92.7 145.1,92.5 145.6,91.1 146.1,90.8 146.6,91.7 147.1,91.7 147.6,91.0 148.1,91.5 148.6,92.4 149.1,91.6 149.6,90.0 150.1,90.1 150.6,91.7 151.1,92.5 151.6,91.4 152.1,90.3 152.6,90.5 153.1,91.2 153.6,91.6 154.1,91.8 154.6,91.9 155.1,91.5 155.6,91.0 156.1,90.8 156.6,91.5 157.1,92.3 157.6,92.3 158.1,91.5 158.6,90.8 159.1,90.7 159.6,91.1 160.1,91.7 160.6,92.6 161.1,93.2 161.6,92.6 162.1,91.6 162.6,91.2 163.1,91.9 163.6,92.9 164.1,92.9 164.6,91.9 165.1,91.1 165.6,91.0 166.1,91.1 166.6,91.6 167.1,92.4 167.6,92.8 168.1,92.1 168.6,91.3 169.1,91.2 169.6,92.1 170.1,92.9 170.6,93.0 171.1,92.5 171.6,92.0 172.1,91.7 172.6,91.6 173.1,92.2 173.6,93.0 174.1,93.0 174.6,92.0 175.1,91.2 175.6,91.4 176.1,92.3 176.6,93.0 177.1,93.1 177.6,92.7 178.1,92.2 178.6,91.7 179.1,91.7 179.6,92.4 180.1,93.1 180.6,92.9 181.1,92.0 181.6,91.5 182.1,91.8 182.6,92.4 183.1,92.8 183.6,93.1 184.1,93.1 184.6,92.6 185.1,91.7 185.6,91.3 186.1,92.3 186.6,93.4 187.1,93.0 187.6,91.6 188.1,91.0 188.6,91.5 189.1,91.9 189.6,91.8 190.1,92.1 190.6,92.7 191.1,92.2 191.6,90.7 192.1,90.5 192.6,92.3 193.1,93.3 193.6,92.4 194.1,91.6 194.6,91.9 195.1,91.9 195.6,90.6 196.1,90.4 196.6,92.3 197.1,93.8 197.6,92.6 198.1,90.6 198.6,90.7 199.1,92.2 199.6,92.6 200.1,91.9 200.6,92.3 201.1,93.2 201.6,92.2 202.1,90.2 202.6,90.3 203.1,92.5 203.6,93.3 204.1,91.8 204.6,90.5 205.1,91.4 205.6,92.1 206.1,91.2 206.6,90.6 207.1,92.0 207.6,93.1 208.1,91.8 208.6,90.5 209.1,92.2 209.6,94.3 210.1,93.2 210.6,90.5 211.1,90.5 211.6,92.4 212.1,92.6 212.6,91.4 213.1,91.5 213.6,92.8" fill="none" stroke="#111" stroke-width="0.6" stroke-opacity="0.8"/>
<text x="26.8" y="93.0" font-size="2.9" text-anchor="end" style="font-weight:normal;fill:#333">Ch27</text>
<polyline points="28.0,94.5 28.5,95.2 29.0,95.4 29.5,95.0 30.0,94.5 30.5,94.0 31.0,94.4 31.5,95.5 32.0,96.1 32.5,95.2 33.0,93.7 33.5,93.3 34.0,94.2 34.5,95.1 35.0,95.0 35.5,94.3 36.0,93.8 36.5,93.9 37.0,94.3 37.5,95.0 38.0,95.7 38.5,95.4 39.0,94.0 39.5,93.2 40.0,94.1 40.5,95.3 41.0,95.2 41.5,94.5 42.0,94.5 42.5,94.5 43.0,93.9 43.5,93.9 44.0,95.6 44.5,97.0 45.0,95.7 45.5,93.4 46.0,93.5 46.5,95.5 47.0,96.1 47.5,94.6 48.0,93.7 48.5,94.6 49.0,95.2 49.5,94.5 50.0,94.5 50.5,96.0 51.0,96.4 51.5,94.4 52.0,93.2 52.5,95.0 53.0,96.9 53.5,95.9 54.0,94.3 54.5,94.7 55.0,95.5 55.5,94.5 56.0,93.3 56.5,94.6 57.0,97.0 57.5,96.8 58.0,94.1 58.5,93.3 59.0,95.5 59.5,96.7 60.0,95.0 60.5,94.1 61.0,95.6 61.5,95.8 62.0,93.4 62.5,92.5 63.0,95.0 63.5,96.6 64.0,94.3 64.5,91.8 65.0,93.0 65.5,95.4 66.0,95.4 66.5,94.1 67.0,94.3 67.5,95.1 68.0,94.5 68.5,93.8 69.0,94.6 69.5,95.6 70.0,95.0 70.5,93.9 71.0,94.1 71.5,95.4 72.0,96.0 72.5,95.4 73.0,94.4 73.5,94.0 74.0,94.4 74.5,95.0 75.0,95.3 75.5,95.0 76.0,94.0 76.5,93.2 77.0,93.2 77.5,94.4 78.0,95.6 78.5,95.5 79.0,94.4 79.5,93.7 80.0,93.8 80.5,94.2 81.0,94.7 81.5,95.5 82.0,96.0 82.5,95.6 83.0,94.5 83.5,93.7 84.0,93.8 84.5,94.5 85.0,94.9 85.5,94.9 86.0,95.1 86.5,95.0 87.0,94.3 87.5,93.9 88.0,94.8 88.5,96.1 89.0,96.2 89.5,95.1 90.0,94.2 90.5,94.4 91.0,95.0 91.5,95.2 92.0,95.2 92.5,95.1 93.0,94.5 93.5,94.0 94.0,94.8 94.5,96.2 95.0,96.3 95.5,95.0 96.0,94.1 96.5,94.8 97.0,96.1 97.5,96.5 98.0,95.7 98.5,94.8 99.0,94.7 99.5,95.0 100.0,95.4 100.5,95.9 101.0,96.0 101.5,95.3 102.0,94.2 102.5,93.8 103.0,94.5 103.5,95.5 104.0,96.0 104.5,96.0 105.0,95.9 105.5,95.3 106.0,94.0 106.5,93.4 107.0,94.4 107.5,95.7 108.0,95.5 108.5,94.4 109.0,94.1 109.5,94.7 110.0,94.8 110.5,94.5 111.0,95.1 111.5,96.2 112.0,95.8 112.5,93.9 113.0,93.1 113.5,94.3 114.0,95.2 114.5,94.5 115.0,93.7 115.5,94.0 116.0,94.4 116.5,93.6 117.0,93.4 117.5,94.8 118.0,95.9 118.5,94.8 119.0,93.1 119.5,93.5 120.0,95.0 120.5,95.1 121.1,94.2 121.6,94.6 122.1,95.4 122.6,94.9 123.1,94.0 123.6,94.4 124.1,95.7 124.6,95.8 125.1,94.7 125.6,94.0 126.1,94.5 126.6,95.3 127.1,95.2 127.6,94.7 128.1,94.7 128.6,94.8 129.1,94.5 129.6,94.3 130.1,95.1 130.6,95.7 131.1,95.0 131.6,93.7 132.1,94.1 132.6,95.9 133.1,96.3 133.6,94.9 134.1,94.0 134.6,94.7 135.1,95.3 135.6,94.9 136.1,95.0 136.6,95.8 137.1,95.9 137.6,94.4 138.1,93.4 138.6,94.3 139.1,95.6 139.6,96.0 140.1,95.7 140.6,95.2 141.1,94.8 141.6,94.7 142.1,95.0 142.6,95.8 143.1,96.7 143.6,96.0 144.1,94.0 144.6,93.4 145.1,95.5 145.6,96.9 146.1,95.6 146.6,94.0 147.1,94.7 147.6,95.7 148.1,94.8 148.6,94.2 149.1,95.6 149.6,96.3 150.1,94.4 150.6,92.7 151.1,93.7 151.6,95.7 152.1,96.0 152.6,94.7 153.1,93.6 153.6,93.7 154.1,94.4 154.6,95.0 155.1,95.5 155.6,95.6 156.1,94.7 156.6,93.6 157.1,93.7 157.6,95.0 158.1,95.8 158.6,95.3 159.1,94.2 159.6,93.9 160.1,94.3 160.6,94.6 161.1,94.9 161.6,95.3 162.1,95.2 162.6,94.4 163.1,93.6 163.6,93.7 164.1,94.8 164.6,95.5 165.1,95.1 165.6,94.3 166.1,93.8 166.6,93.7 167.1,93.9 167.6,94.7 168.1,95.4 168.6,94.9 169.1,93.6 169.6,93.2 170.1,94.6 170.6,95.9 171.1,95.6 171.6,94.1 172.1,93.1 172.6,93.3 173.1,93.9 173.6,94.4 174.1,94.9 174.6,94.9 175.1,94.0 175.6,92.9 176.1,92.9 176.6,94.1 177.1,95.5 177.6,95.7 178.1,94.7 178.6,93.9 179.1,93.7 179.6,94.2 180.1,95.0 180.6,95.5 181.1,95.1 181.6,94.0 182.1,93.2 182.6,93.6 183.1,94.7 183.6,95.3 184.1,94.9 184.6,94.3 185.1,94.2 185.6,94.3 186.1,94.3 186.6,94.7 187.1,95.6 187.6,95.5 188.1,94.2 188.6,93.4 189.1,94.4 189.6,95.9 190.1,95.7 190.6,94.9 191.1,95.4 191.6,96.1 192.1,95.2 192.6,94.2 193.1,95.3 193.6,96.9 194.1,96.0 194.6,93.8 195.1,93.9 195.6,95.8 196.1,96.1 196.6,94.4 197.1,93.7 197.6,95.0 198.1,95.6 198.6,94.4 199.1,94.3 199.6,96.1 200.1,96.7 200.6,94.5 201.1,92.9 201.6,94.4 202.1,96.4 202.6,95.5 203.1,93.8 203.6,94.1 204.1,95.3 204.6,94.8 205.1,93.8 205.6,94.9 206.1,96.6 206.6,95.6 207.1,92.8 207.6,92.8 208.1,95.8 208.6,97.1 209.1,95.3 209.6,93.9 210.1,94.9 210.6,95.5 211.1,94.5 211.6,94.2 212.1,96.0 212.6,96.8 213.1,94.9 213.6,93.3" fill="none" stroke="#111" stroke-width="0.6" stroke-opacity="0.8"/>
<text x="26.8" y="95.7" font-size="2.9" text-anchor="end" style="font-weight:normal;fill:#333">Ch28</text>
<polyline points="28.0,97.4 28.5,96.5 29.0,97.1 29.5,98.0 30.0,98.2 30.5,97.7 31.0,97.2 31.5,96.7 32.0,96.5 32.5,97.0 33.0,98.0 33.5,98.4 34.0,97.4 34.5,96.1 35.0,96.4 35.5,97.8 36.0,98.4 36.5,97.7 37.0,96.7 37.5,96.6 38.0,97.0 38.5,97.2 39.0,97.4 39.5,98.0 40.0,98.0 40.5,96.6 41.0,95.9 41.5,97.2 42.0,98.9 42.5,98.2 43.0,96.2 43.5,96.1 44.0,97.9 44.5,98.2 45.0,96.9 45.5,96.7 46.0,97.7 46.5,97.5 47.0,96.4 47.5,96.7 48.0,98.9 48.5,99.5 49.0,97.1 49.5,95.5 50.0,97.4 50.5,99.6 51.0,98.5 51.5,96.2 52.0,96.5 52.5,98.1 53.0,97.7 53.5,96.5 54.0,97.8 54.5,99.7 55.0,98.8 55.5,96.3 56.0,96.3 56.5,99.1 57.0,100.4 57.5,98.4 58.0,96.4 58.5,97.3 59.0,98.7 59.5,97.9 60.0,96.6 60.5,97.7 61.0,98.9 61.5,97.3 62.0,96.1 62.5,98.5 63.0,100.9 63.5,98.8 64.0,95.4 64.5,95.7 65.0,98.6 65.5,99.3 66.0,97.4 66.5,96.8 67.0,97.8 67.5,98.0 68.0,97.1 68.5,97.3 69.0,98.7 69.5,98.8 70.0,97.4 70.5,96.6 71.0,97.3 71.5,98.3 72.0,98.1 72.5,97.2 73.0,96.6 73.5,96.8 74.0,97.5 74.5,97.9 75.0,98.1 75.5,97.9 76.0,97.2 76.5,96.6 77.0,97.4 77.5,98.7 78.0,98.8 78.5,97.4 79.0,96.4 79.5,96.7 80.0,97.7 80.5,98.1 81.0,97.8 81.5,97.3 82.0,97.1 82.5,97.3 83.0,97.7 83.5,98.3 84.0,98.3 84.5,97.1 85.0,96.0 85.5,96.7 86.0,98.0 86.5,98.0 87.0,96.9 87.5,96.4 88.0,97.1 88.5,98.1 89.0,98.4 89.5,98.0 90.0,97.3 90.5,96.9 91.0,97.3 91.5,97.9 92.0,98.3 92.5,97.8 93.0,96.7 93.5,96.3 94.0,97.6 94.5,99.0 95.0,98.7 95.5,97.4 96.0,97.1 96.5,98.1 97.0,99.0 97.5,98.9 98.0,98.4 98.5,98.0 99.0,97.6 99.5,97.3 100.0,97.7 100.5,98.5 101.0,98.8 101.5,98.0 102.0,97.2 102.5,97.5 103.0,98.4 103.5,98.4 104.0,97.7 104.5,97.4 105.0,97.4 105.5,97.1 106.0,96.8 106.5,97.4 107.0,98.4 107.5,98.3 108.0,97.0 108.5,96.5 109.0,97.7 109.5,98.5 110.0,97.8 110.5,97.2 111.0,97.7 111.5,97.8 112.0,96.8 112.5,96.8 113.0,98.6 113.5,99.6 114.0,97.9 114.5,96.1 115.0,96.8 115.5,98.7 116.0,98.9 116.5,97.7 117.0,97.6 117.5,98.4 118.0,98.0 118.5,97.0 119.0,97.5 119.5,99.0 120.0,98.4 120.5,96.2 121.1,95.9 121.6,97.9 122.1,99.0 122.6,97.7 123.1,96.6 123.6,96.9 124.1,97.2 124.6,96.8 125.1,96.6 125.6,97.3 126.1,97.7 126.6,97.0 127.1,96.2 127.6,96.5 128.1,97.3 128.6,97.6 129.1,97.1 129.6,96.9 130.1,97.2 130.6,97.2 131.1,96.8 131.6,97.3 132.1,98.7 132.6,98.7 133.1,96.8 133.6,95.4 134.1,96.6 134.6,98.6 135.1,98.1 135.6,96.3 136.1,96.1 136.6,97.2 137.1,97.8 137.6,97.8 138.1,98.2 138.6,98.1 139.1,97.2 139.6,96.8 140.1,97.9 140.6,99.1 141.1,98.5 141.6,96.7 142.1,96.2 142.6,97.5 143.1,98.7 143.6,98.4 144.1,97.6 144.6,98.0 145.1,98.2 145.6,96.8 146.1,95.9 146.6,98.0 147.1,100.0 147.6,98.2 148.1,95.3 148.6,95.8 149.1,98.5 149.6,98.9 150.1,97.3 150.6,96.9 151.1,97.7 151.6,97.6 152.1,97.2 152.6,97.9 153.1,98.8 153.6,98.1 154.1,96.7 154.6,96.4 155.1,97.7 155.6,98.8 156.1,98.5 156.6,97.4 157.1,96.9 157.6,97.1 158.1,97.5 158.6,98.1 159.1,98.9 159.6,99.2 160.1,98.3 160.6,97.2 161.1,97.7 161.6,98.9 162.1,99.0 162.6,97.9 163.1,97.3 163.6,97.8 164.1,98.6 164.6,98.8 165.1,98.6 165.6,98.2 166.1,97.9 166.6,97.5 167.1,97.7 167.6,98.4 168.1,98.6 168.6,97.5 169.1,96.4 169.6,96.9 170.1,98.3 170.6,98.7 171.1,97.8 171.6,97.0 172.1,97.1 172.6,97.8 173.1,98.3 173.6,98.5 174.1,98.1 174.6,97.4 175.1,97.1 175.6,97.6 176.1,98.6 176.6,98.8 177.1,97.7 177.6,96.4 178.1,96.6 178.6,97.8 179.1,98.4 179.6,97.9 180.1,97.1 180.6,96.8 181.1,97.2 181.6,97.6 182.1,97.7 182.6,97.3 183.1,96.4 183.6,96.0 184.1,96.9 184.6,98.0 185.1,97.9 185.6,96.8 186.1,96.3 186.6,97.3 187.1,98.5 187.6,98.3 188.1,97.2 188.6,96.9 189.1,97.3 189.6,97.0 190.1,96.6 190.6,97.8 191.1,99.2 191.6,98.3 192.1,96.2 192.6,96.2 193.1,98.4 193.6,99.1 194.1,97.7 194.6,97.0 195.1,98.1 195.6,98.5 196.1,97.3 196.6,97.1 197.1,98.7 197.6,99.2 198.1,97.1 198.6,95.6 199.1,97.5 199.6,99.8 200.1,99.0 200.6,97.0 201.1,97.4 201.6,98.8 202.1,98.2 202.6,96.9 203.1,97.8 203.6,99.3 204.1,98.3 204.6,95.7 205.1,95.5 205.6,98.3 206.1,99.8 206.6,97.8 207.1,96.0 207.6,97.3 208.1,98.9 208.6,97.7 209.1,96.3 209.6,97.5 210.1,98.5 210.6,96.6 211.1,95.1 211.6,97.1 212.1,99.5 212.6,98.0 213.1,95.0 213.6,95.4" fill="none" stroke="#111" stroke-width="0.6" stroke-opacity="0.8"/>
<text x="26.8" y="98.5" font-size="2.9" text-anchor="end" style="font-weight:normal;fill:#333">Ch29</text>
<polyline points="28.0,101.4 28.5,100.6 29.0,100.1 29.5,99.8 30.0,99.8 30.5,100.4 31.0,101.4 31.5,101.3 32.0,100.0 32.5,98.9 33.0,99.5 33.5,100.8 34.0,101.4 34.5,100.7 35.0,99.9 35.5,99.8 36.0,100.0 36.5,100.2 37.0,100.3 37.5,100.1 38.0,99.4 38.5,98.6 39.0,99.0 39.5,100.7 40.0,101.5 40.5,100.2 41.0,99.0 41.5,99.9 42.0,101.2 42.5,100.7 43.0,99.6 43.5,100.6 44.0,101.6 44.5,100.2 45.0,98.6 45.5,100.0 46.0,102.3 46.5,102.0 47.0,99.7 47.5,99.0 48.0,100.6 48.5,101.4 49.0,100.4 49.5,100.4 50.0,101.8 50.5,101.5 51.0,99.0 51.5,98.5 52.0,101.3 52.5,102.8 53.0,100.1 53.5,97.5 54.0,98.8 54.5,101.4 55.0,101.2 55.5,99.5 56.0,99.5 56.5,100.6 57.0,99.9 57.5,98.4 58.0,99.6 58.5,102.3 59.0,101.8 59.5,98.1 60.0,96.9 60.5,100.1 61.0,102.1 61.5,100.1 62.0,98.6 62.5,100.5 63.0,101.8 63.5,99.7 64.0,98.6 64.5,101.1 65.0,102.8 65.5,100.2 66.0,97.3 66.5,98.8 67.0,101.8 67.5,101.7 68.0,99.6 68.5,99.0 69.0,99.9 69.5,100.3 70.0,100.2 70.5,100.7 71.0,101.2 71.5,100.6 72.0,99.4 72.5,99.1 73.0,100.2 73.5,101.0 74.0,100.6 74.5,99.8 75.0,99.8 75.5,100.6 76.0,101.0 76.5,100.9 77.0,100.8 77.5,100.6 78.0,100.0 78.5,99.5 79.0,100.0 79.5,101.0 80.0,101.0 80.5,100.0 81.0,99.2 81.5,99.5 82.0,100.2 82.5,100.5 83.0,100.5 83.5,100.4 84.0,100.2 84.5,100.1 85.0,100.6 85.5,101.5 86.0,101.7 86.5,100.8 87.0,99.8 87.5,99.8 88.0,100.9 88.5,101.7 89.0,101.5 89.5,100.9 90.0,100.5 90.5,100.5 91.0,100.7 91.5,101.4 92.0,102.2 92.5,101.9 93.0,100.5 93.5,99.6 94.0,100.1 94.5,101.1 95.0,101.4 95.5,100.7 96.0,99.9 96.5,99.8 97.0,100.4 97.5,101.0 98.0,101.3 98.5,100.9 99.0,99.9 99.5,99.5 100.0,100.5 100.5,101.5 101.0,100.9 101.5,99.4 102.0,98.6 102.5,99.0 103.0,99.6 103.5,99.9 104.0,100.4 104.5,100.8 105.0,100.3 105.5,99.2 106.0,99.0 106.5,100.1 107.0,101.1 107.5,100.4 108.0,98.9 108.5,98.7 109.0,99.6 109.5,100.0 110.0,99.8 110.5,100.4 111.0,101.2 111.5,100.3 112.0,98.8 112.5,99.5 113.0,101.8 113.5,102.2 114.0,99.9 114.5,98.5 115.0,99.8 115.5,101.3 116.0,100.6 116.5,99.6 117.0,100.2 117.5,101.0 118.0,100.2 118.5,99.5 119.0,101.1 119.5,103.1 120.0,102.1 120.5,99.8 121.1,99.8 121.6,101.7 122.1,102.2 122.6,101.1 123.1,100.7 123.6,101.1 124.1,100.8 124.6,100.0 125.1,100.3 125.6,101.6 126.1,101.9 126.6,100.8 127.1,99.6 127.6,99.9 128.1,101.0 128.6,101.0 129.1,100.1 129.6,99.8 130.1,100.0 130.6,99.9 131.1,99.5 131.6,100.1 132.1,101.1 132.6,100.4 133.1,98.7 133.6,99.1 134.1,101.5 134.6,102.5 135.1,101.0 135.6,100.2 136.1,101.0 136.6,101.1 137.1,100.3 137.6,100.4 138.1,101.7 138.6,101.6 139.1,99.8 139.6,98.9 140.1,100.3 140.6,101.9 141.1,101.6 141.6,100.1 142.1,99.5 142.6,100.0 143.1,100.2 143.6,100.0 144.1,100.3 144.6,101.1 145.1,100.3 145.6,98.1 146.1,98.0 146.6,101.0 147.1,102.6 147.6,100.2 148.1,97.9 148.6,99.1 149.1,101.1 149.6,100.4 150.1,98.9 150.6,99.3 151.1,100.0 151.6,99.3 152.1,98.6 152.6,99.5 153.1,100.7 153.6,100.4 154.1,99.5 154.6,99.5 155.1,100.3 155.6,100.8 156.1,100.6 156.6,100.3 157.1,100.2 157.6,100.3 158.1,100.3 158.6,100.4 159.1,101.0 159.6,101.2 160.1,100.4 160.6,99.6 161.1,99.7 161.6,100.6 162.1,101.3 162.6,101.4 163.1,101.2 163.6,100.9 164.1,100.2 164.6,99.7 165.1,100.3 165.6,101.4 166.1,101.6 166.6,100.7 167.1,99.9 167.6,99.9 168.1,100.2 168.6,100.2 169.1,100.4 169.6,101.0 170.1,101.2 170.6,100.2 171.1,99.4 171.6,99.8 172.1,100.7 172.6,100.8 173.1,100.3 173.6,99.9 174.1,99.7 174.6,99.5 175.1,99.7 175.6,100.3 176.1,100.8 176.6,100.5 177.1,99.8 177.6,100.0 178.1,100.9 178.6,101.5 179.1,100.9 179.6,100.1 180.1,100.1 180.6,100.5 181.1,100.5 181.6,100.5 182.1,100.8 182.6,100.9 183.1,100.0 183.6,99.1 184.1,99.5 184.6,100.7 185.1,101.0 185.6,100.2 186.1,99.6 186.6,99.7 187.1,99.9 187.6,99.8 188.1,100.1 188.6,100.9 189.1,101.0 189.6,99.5 190.1,98.5 190.6,100.0 191.1,101.8 191.6,101.0 192.1,99.3 192.6,99.7 193.1,101.1 193.6,100.6 194.1,99.3 194.6,99.9 195.1,101.0 195.6,99.9 196.1,97.9 196.6,98.5 197.1,101.4 197.6,102.2 198.1,99.9 198.6,98.6 199.1,100.2 199.6,101.2 200.1,99.9 200.6,99.5 201.1,101.8 201.6,102.8 202.1,100.2 202.6,97.9 203.1,99.5 203.6,102.1 204.1,101.5 204.6,99.4 205.1,99.8 205.6,101.5 206.1,100.6 206.6,98.3 207.1,99.0 207.6,102.1 208.1,102.6 208.6,99.7 209.1,98.4 209.6,100.6 210.1,101.7 210.6,99.8 211.1,99.0 211.6,101.2 212.1,102.1 212.6,99.7 213.1,97.9 213.6,99.9" fill="none" stroke="#111" stroke-width="0.6" stroke-opacity="0.8"/>
<text x="26.8" y="101.2" font-size="2.9" text-anchor="end" style="font-weight:normal;fill:#333">Ch30</text>
<polyline points="28.0,102.8 28.5,103.7 29.0,103.8 29.5,103.5 30.0,103.1 30.5,102.8 31.0,102.6 31.5,103.1 32.0,103.9 32.5,103.9 33.0,102.9 33.5,102.4 34.0,103.3 34.5,104.1 35.0,103.5 35.5,102.3 36.0,102.2 36.5,103.1 37.0,103.6 37.5,103.4 38.0,103.2 38.5,103.3 39.0,103.1 39.5,102.5 40.0,102.6 40.5,103.6 41.0,103.3 41.5,101.5 42.0,101.4 42.5,103.6 43.0,104.5 43.5,102.2 44.0,100.6 44.5,102.5 45.0,105.2 45.5,104.4 46.0,101.8 46.5,101.7 47.0,103.4 47.5,103.6 48.0,102.5 48.5,102.9 49.0,103.9 49.5,103.1 50.0,101.3 50.5,102.2 51.0,104.7 51.5,104.2 52.0,101.4 52.5,101.3 53.0,104.7 53.5,105.9 54.0,102.8 54.5,100.3 55.0,102.1 55.5,104.9 56.0,104.2 56.5,101.9 57.0,102.4 57.5,104.2 58.0,103.7 58.5,101.7 59.0,102.7 59.5,105.3 60.0,104.2 60.5,100.6 61.0,101.1 61.5,105.3 62.0,105.8 62.5,101.6 63.0,100.0 63.5,103.6 64.0,106.1 64.5,103.7 65.0,101.4 65.5,102.8 66.0,104.6 66.5,103.6 67.0,102.4 67.5,103.3 68.0,104.1 68.5,102.6 69.0,101.4 69.5,103.1 70.0,105.0 70.5,103.9 71.0,101.7 71.5,101.8 72.0,103.5 72.5,104.2 73.0,103.5 73.5,102.4 74.0,102.0 74.5,102.0 75.0,102.3 75.5,102.9 76.0,103.5 76.5,103.2 77.0,102.0 77.5,101.7 78.0,102.8 78.5,104.1 79.0,104.2 79.5,103.2 80.0,102.5 80.5,102.6 81.0,103.0 81.5,103.4 82.0,103.9 82.5,103.9 83.0,103.3 83.5,102.6 84.0,103.0 84.5,104.2 85.0,104.3 85.5,103.0 86.0,102.1 86.5,102.6 87.0,103.6 87.5,103.8 88.0,103.5 88.5,103.4 89.0,103.2 89.5,102.7 90.0,102.6 90.5,103.6 91.0,104.6 91.5,104.4 92.0,103.3 92.5,102.8 93.0,103.5 93.5,104.4 94.0,104.4 94.5,103.8 95.0,103.1 95.5,102.8 96.0,103.1 96.5,103.9 97.0,104.6 97.5,104.1 98.0,102.9 98.5,102.5 99.0,103.7 99.5,104.9 100.0,104.0 100.5,102.2 101.0,102.0 101.5,103.3 102.0,104.2 102.5,103.7 103.0,102.9 103.5,102.7 104.0,102.7 104.5,102.9 105.0,103.7 105.5,104.5 106.0,104.3 106.5,102.9 107.0,102.1 107.5,103.1 108.0,104.5 108.5,104.1 109.0,102.7 109.5,102.8 110.0,103.5 110.5,102.7 111.0,101.6 111.5,102.8 112.0,104.6 112.5,103.9 113.0,101.8 113.5,101.9 114.0,104.2 114.5,104.9 115.0,103.0 115.5,101.8 116.0,102.8 116.5,104.0 117.0,103.4 117.5,103.0 118.0,104.1 118.5,104.6 119.0,102.8 119.5,101.7 120.0,103.9 120.5,105.8 121.1,103.8 121.6,101.2 122.1,102.3 122.6,104.6 123.1,104.3 123.6,102.4 124.1,101.7 124.6,102.8 125.1,103.8 125.6,103.5 126.1,102.8 126.6,102.6 127.1,102.7 127.6,102.5 128.1,102.7 128.6,103.6 129.1,103.9 129.6,102.7 130.1,102.0 130.6,103.1 131.1,104.3 131.6,103.6 132.1,101.8 132.6,102.1 133.1,104.1 133.6,104.4 134.1,102.6 134.6,102.1 135.1,103.1 135.6,103.0 136.1,102.0 136.6,102.4 137.1,103.9 137.6,103.9 138.1,102.3 138.6,102.1 139.1,103.7 139.6,104.5 140.1,103.5 140.6,102.3 141.1,102.5 141.6,103.6 142.1,103.9 142.6,103.3 143.1,103.3 143.6,103.8 144.1,103.3 144.6,102.2 145.1,103.0 145.6,105.1 146.1,104.8 146.6,102.0 147.1,101.3 147.6,103.8 148.1,104.9 148.6,102.6 149.1,101.0 149.6,102.6 150.1,104.3 150.6,103.5 151.1,102.3 151.6,102.6 152.1,103.3 152.6,102.9 153.1,102.3 153.6,102.8 154.1,103.4 154.6,102.8 155.1,102.0 155.6,102.6 156.1,103.9 156.6,104.0 157.1,102.9 157.6,102.5 158.1,103.4 158.6,104.2 159.1,103.4 159.6,102.3 160.1,102.3 160.6,103.1 161.1,103.2 161.6,102.9 162.1,102.8 162.6,102.8 163.1,102.7 163.6,102.8 164.1,103.3 164.6,103.3 165.1,102.6 165.6,102.2 166.1,102.8 166.6,103.5 167.1,103.2 167.6,102.2 168.1,101.9 168.6,102.8 169.1,103.5 169.6,103.0 170.1,102.3 170.6,102.5 171.1,102.9 171.6,103.0 172.1,103.0 172.6,103.1 173.1,102.9 173.6,102.4 174.1,102.3 174.6,103.4 175.1,104.1 175.6,103.4 176.1,102.3 176.6,102.6 177.1,103.9 177.6,104.3 178.1,103.3 178.6,102.5 179.1,102.6 179.6,103.1 180.1,103.3 180.6,103.3 181.1,103.4 181.6,103.4 182.1,103.1 182.6,103.3 183.1,104.3 183.6,104.6 184.1,103.5 184.6,102.4 185.1,102.6 185.6,103.8 186.1,104.1 186.6,103.1 187.1,102.5 187.6,102.9 188.1,103.4 188.6,103.2 189.1,103.2 189.6,103.6 190.1,103.3 190.6,102.1 191.1,102.2 191.6,104.0 192.1,104.4 192.6,102.2 193.1,100.7 193.6,102.8 194.1,105.2 194.6,104.0 195.1,101.5 195.6,101.8 196.1,103.8 196.6,103.9 197.1,102.2 197.6,102.0 198.1,103.4 198.6,102.9 199.1,100.8 199.6,101.2 200.1,104.3 200.6,104.7 201.1,101.4 201.6,100.1 202.1,103.1 202.6,105.4 203.1,103.3 203.6,100.7 204.1,101.9 204.6,104.3 205.1,103.6 205.6,101.7 206.1,102.7 206.6,104.7 207.1,103.6 207.6,101.4 208.1,102.6 208.6,105.7 209.1,104.9 209.6,101.1 210.1,100.9 210.6,104.7 211.1,105.7 211.6,102.2 212.1,100.7 212.6,103.7 213.1,105.8 213.6,103.7" fill="none" stroke="#111" stroke-width="0.6" stroke-opacity="0.8"/>
<text x="26.8" y="104.0" font-size="2.9" text-anchor="end" style="font-weight:normal;fill:#333">Ch31</text>
<polyline points="28.0,106.6 28.5,105.7 29.0,105.1 29.5,105.5 30.0,106.3 30.5,106.3 31.0,105.6 31.5,105.5 32.0,106.1 32.5,106.3 33.0,106.0 33.5,105.7 34.0,105.2 34.5,104.7 35.0,105.4 35.5,106.8 36.0,106.9 36.5,105.4 37.0,104.5 37.5,105.7 38.0,107.2 38.5,106.6 39.0,105.1 39.5,105.1 40.0,106.2 40.5,106.3 41.0,105.5 41.5,105.7 42.0,106.7 42.5,106.3 43.0,105.1 43.5,105.7 44.0,107.3 44.5,106.4 45.0,104.2 45.5,104.7 46.0,107.3 46.5,107.4 47.0,104.6 47.5,103.4 48.0,105.7 48.5,107.7 49.0,106.3 49.5,104.4 50.0,105.6 50.5,107.4 51.0,106.0 51.5,104.4 52.0,106.3 52.5,108.4 53.0,106.5 53.5,103.7 54.0,104.8 54.5,107.9 55.0,107.4 55.5,104.3 56.0,103.9 56.5,106.8 57.0,107.8 57.5,105.3 58.0,103.9 58.5,106.2 59.0,107.7 59.5,105.2 60.0,103.6 60.5,106.4 61.0,108.7 61.5,105.7 62.0,102.8 62.5,105.6 63.0,109.4 63.5,107.5 64.0,103.4 64.5,103.9 65.0,107.6 65.5,108.0 66.0,105.1 66.5,104.0 67.0,105.8 67.5,106.7 68.0,105.8 68.5,105.4 69.0,106.0 69.5,105.6 70.0,104.7 70.5,105.2 71.0,106.7 71.5,106.7 72.0,104.9 72.5,104.0 73.0,105.3 73.5,106.7 74.0,106.2 74.5,104.7 75.0,104.2 75.5,105.2 76.0,106.4 76.5,106.3 77.0,105.4 77.5,105.0 78.0,105.1 78.5,105.4 79.0,106.0 79.5,106.4 80.0,105.6 80.5,104.6 81.0,104.9 81.5,106.4 82.0,107.0 82.5,105.8 83.0,104.6 83.5,105.0 84.0,106.2 84.5,106.7 85.0,106.2 85.5,105.4 86.0,105.0 86.5,105.0 87.0,105.5 87.5,106.2 88.0,106.4 88.5,105.6 89.0,104.4 89.5,104.7 90.0,106.0 90.5,106.2 91.0,104.8 91.5,103.7 92.0,104.1 92.5,105.4 93.0,105.9 93.5,105.4 94.0,104.9 94.5,105.0 95.0,105.2 95.5,105.6 96.0,106.2 96.5,106.5 97.0,105.7 97.5,104.6 98.0,104.8 98.5,106.4 99.0,107.0 99.5,105.9 100.0,104.9 100.5,105.2 101.0,106.0 101.5,106.4 102.0,106.2 102.5,105.8 103.0,105.6 103.5,105.6 104.0,105.7 104.5,105.8 105.0,105.6 105.5,104.8 106.0,104.4 106.5,105.5 107.0,107.1 107.5,106.9 108.0,104.9 108.5,104.3 109.0,106.0 109.5,107.0 110.0,105.7 110.5,104.7 111.0,105.6 111.5,106.2 112.0,105.3 112.5,105.2 113.0,106.7 113.5,107.3 114.0,105.7 114.5,104.7 115.0,106.6 115.5,108.6 116.0,107.4 116.5,104.8 117.0,105.1 117.5,107.7 118.0,108.0 118.5,105.9 119.0,105.5 119.5,107.1 120.0,107.3 120.5,105.9 121.1,106.2 121.6,107.9 122.1,107.3 122.6,104.9 123.1,104.5 123.6,106.9 124.1,108.0 124.6,106.2 125.1,104.5 125.6,105.3 126.1,107.1 126.6,107.3 127.1,106.4 127.6,105.9 128.1,106.0 128.6,105.7 129.1,105.4 129.6,106.1 130.1,107.2 130.6,106.7 131.1,104.9 131.6,104.4 132.1,106.2 132.6,107.2 133.1,105.7 133.6,104.4 134.1,105.6 134.6,107.0 135.1,106.4 135.6,105.2 136.1,105.6 136.6,106.1 137.1,105.4 137.6,104.9 138.1,106.0 138.6,107.0 139.1,105.9 139.6,104.5 140.1,105.5 140.6,107.5 141.1,107.4 141.6,105.3 142.1,104.2 142.6,105.4 143.1,106.6 143.6,105.9 144.1,104.6 144.6,105.0 145.1,105.8 145.6,105.0 146.1,104.3 146.6,106.0 147.1,107.3 147.6,105.3 148.1,103.0 148.6,104.7 149.1,107.7 149.6,107.1 150.1,104.1 150.6,103.6 151.1,105.7 151.6,106.7 152.1,105.9 152.6,105.5 153.1,105.7 153.6,105.5 154.1,105.1 154.6,105.6 155.1,106.6 155.6,106.6 156.1,105.3 156.6,104.6 157.1,105.5 157.6,106.7 158.1,106.5 158.6,105.3 159.1,105.1 159.6,106.2 160.1,106.9 160.6,106.3 161.1,105.7 161.6,105.8 162.1,106.2 162.6,106.5 163.1,106.5 163.6,106.3 164.1,106.0 164.6,105.8 165.1,106.1 165.6,106.7 166.1,106.5 166.6,105.4 167.1,104.9 167.6,105.9 168.1,106.9 168.6,106.5 169.1,105.2 169.6,105.0 170.1,106.1 170.6,106.7 171.1,106.5 171.6,106.3 172.1,106.2 172.6,105.8 173.1,105.6 173.6,106.3 174.1,107.3 174.6,106.9 175.1,105.6 175.6,105.3 176.1,106.4 176.6,107.0 177.1,106.2 177.6,105.4 178.1,105.8 178.6,106.6 179.1,106.8 179.6,106.2 180.1,105.8 180.6,106.0 181.1,106.1 181.6,106.0 182.1,105.9 182.6,105.8 183.1,105.4 183.6,105.3 184.1,106.0 184.6,106.7 185.1,106.0 185.6,104.5 186.1,104.3 186.6,105.7 187.1,106.5 187.6,105.2 188.1,103.6 188.6,104.1 189.1,106.0 189.6,106.2 190.1,104.9 190.6,104.8 191.1,105.9 191.6,105.6 192.1,104.5 192.6,105.2 193.1,107.0 193.6,106.1 194.1,103.5 194.6,103.9 195.1,107.3 195.6,108.0 196.1,104.8 196.6,103.0 197.1,105.5 197.6,107.8 198.1,106.2 198.6,103.8 199.1,104.9 199.6,106.8 200.1,105.9 200.6,104.2 201.1,105.6 201.6,107.5 202.1,106.1 202.6,103.3 203.1,104.0 203.6,107.0 204.1,107.2 204.6,104.3 205.1,103.5 205.6,106.4 206.1,107.7 206.6,105.1 207.1,103.4 207.6,105.7 208.1,107.3 208.6,105.2 209.1,103.8 209.6,106.3 210.1,108.2 210.6,105.5 211.1,102.7 211.6,104.8 212.1,108.4 212.6,107.7 213.1,104.4 213.6,103.8" fill="none" stroke="#111" stroke-width="0.6" stroke-opacity="0.8"/>
<text x="26.8" y="106.7" font-size="2.9" text-anchor="end" style="font-weight:normal;fill:#333">Ch32</text>
<polyline points="28.0,109.4 28.5,108.3 29.0,107.7 29.5,108.4 30.0,109.1 30.5,109.0 31.0,108.7 31.5,108.7 32.0,108.5 32.5,107.7 33.0,107.3 33.5,108.2 34.0,109.3 34.5,109.4 35.0,108.7 35.5,108.2 36.0,108.3 36.5,108.2 37.0,107.9 37.5,108.5 38.0,110.0 38.5,110.3 39.0,108.5 39.5,107.1 40.0,108.2 40.5,109.8 41.0,109.3 41.5,108.1 42.0,108.8 42.5,109.8 43.0,108.2 43.5,106.3 44.0,107.8 44.5,110.5 45.0,110.1 45.5,107.8 46.0,107.9 46.5,109.8 47.0,109.5 47.5,107.1 48.0,107.0 48.5,109.8 49.0,110.8 49.5,108.0 50.0,106.2 50.5,108.6 51.0,110.7 51.5,108.8 52.0,107.0 52.5,108.9 53.0,110.7 53.5,108.6 54.0,106.2 54.5,108.1 55.0,111.2 55.5,110.3 56.0,107.1 56.5,107.1 57.0,110.0 57.5,110.3 58.0,107.5 58.5,107.2 59.0,110.3 59.5,110.8 60.0,106.8 60.5,105.3 61.0,109.7 61.5,112.8 62.0,109.4 62.5,105.6 63.0,107.5 63.5,110.1 64.0,108.1 64.5,105.6 65.0,108.1 65.5,111.5 66.0,110.0 66.5,106.3 67.0,106.5 67.5,109.6 68.0,110.4 68.5,108.7 69.0,108.2 69.5,109.1 70.0,109.0 70.5,108.0 71.0,108.1 71.5,109.2 72.0,109.4 72.5,108.4 73.0,107.6 73.5,108.0 74.0,108.7 74.5,108.6 75.0,108.4 75.5,108.7 76.0,109.1 76.5,108.4 77.0,107.5 77.5,107.7 78.0,108.9 78.5,109.1 79.0,108.2 79.5,107.8 80.0,108.1 80.5,108.1 81.0,107.6 81.5,107.8 82.0,108.8 82.5,109.3 83.0,108.6 83.5,107.8 84.0,108.2 84.5,108.9 85.0,108.9 85.5,108.6 86.0,108.7 86.5,108.8 87.0,108.4 87.5,108.0 88.0,108.6 88.5,109.3 89.0,108.9 89.5,107.8 90.0,107.4 90.5,108.4 91.0,109.2 91.5,108.6 92.0,108.0 92.5,108.3 93.0,108.8 93.5,108.5 94.0,108.3 94.5,108.8 95.0,109.1 95.5,108.3 96.0,107.6 96.5,108.2 97.0,109.3 97.5,109.3 98.0,108.7 98.5,108.3 99.0,108.6 99.5,108.7 100.0,108.5 100.5,108.8 101.0,109.4 101.5,109.1 102.0,108.0 102.5,107.7 103.0,108.7 103.5,109.7 104.0,109.3 104.5,108.4 105.0,108.4 105.5,108.6 106.0,108.2 106.5,108.1 107.0,109.2 107.5,110.4 108.0,109.2 108.5,106.9 109.0,106.7 109.5,108.8 110.0,109.6 110.5,108.1 111.0,107.6 111.5,108.8 112.0,108.7 112.5,106.8 113.0,106.8 113.5,109.6 114.0,111.0 114.5,108.9 115.0,106.7 115.5,107.7 116.0,109.5 116.5,108.9 117.0,107.6 117.5,108.8 118.0,110.5 118.5,109.0 119.0,105.9 119.5,106.2 120.0,109.4 120.5,110.3 121.1,108.2 121.6,107.2 122.1,108.2 122.6,108.4 123.1,107.5 123.6,107.9 124.1,109.3 124.6,109.1 125.1,107.3 125.6,106.6 126.1,107.8 126.6,109.0 127.1,109.1 127.6,108.5 128.1,108.3 128.6,108.4 129.1,108.2 129.6,107.9 130.1,108.6 130.6,109.8 131.1,109.6 131.6,107.9 132.1,107.6 132.6,109.2 133.1,109.9 133.6,108.5 134.1,107.9 134.6,109.4 135.1,109.9 135.6,107.9 136.1,106.8 136.6,108.6 137.1,110.1 137.6,109.1 138.1,107.8 138.6,108.4 139.1,109.2 139.6,108.6 140.1,107.9 140.6,108.7 141.1,109.9 141.6,109.6 142.1,108.0 142.6,107.5 143.1,108.6 143.6,109.3 144.1,108.6 144.6,108.5 145.1,109.9 145.6,109.8 146.1,107.4 146.6,106.6 147.1,109.6 147.6,111.6 148.1,108.7 148.6,105.5 149.1,107.2 149.6,110.5 150.1,110.1 150.6,107.8 151.1,107.7 151.6,108.8 152.1,108.2 152.6,107.2 153.1,108.2 153.6,110.1 154.1,110.5 154.6,109.3 155.1,108.4 155.6,108.4 156.1,108.5 156.6,108.7 157.1,109.1 157.6,109.8 158.1,109.9 158.6,108.9 159.1,107.9 159.6,108.2 160.1,109.2 160.6,109.6 161.1,109.3 161.6,109.4 162.1,109.5 162.6,108.9 163.1,108.2 163.6,108.7 164.1,109.7 164.6,109.6 165.1,108.5 165.6,107.7 166.1,108.2 166.6,109.1 167.1,109.2 167.6,108.9 168.1,109.0 168.6,108.7 169.1,107.9 169.6,108.0 170.1,109.1 170.6,109.8 171.1,109.1 171.6,107.8 172.1,107.6 172.6,108.6 173.1,109.2 173.6,109.0 174.1,108.7 174.6,108.6 175.1,108.3 175.6,107.9 176.1,108.3 176.6,109.5 177.1,110.1 177.6,109.0 178.1,107.8 178.6,107.9 179.1,109.0 179.6,109.4 180.1,109.0 180.6,108.4 181.1,108.2 181.6,107.8 182.1,107.8 182.6,108.7 183.1,109.6 183.6,109.4 184.1,108.3 184.6,107.8 185.1,108.4 185.6,108.7 186.1,108.2 186.6,108.3 187.1,109.3 187.6,109.4 188.1,107.7 188.6,106.7 189.1,108.4 189.6,110.4 190.1,109.8 190.6,108.2 191.1,108.5 191.6,109.7 192.1,108.9 192.6,107.6 193.1,108.9 193.6,110.6 194.1,109.0 194.6,105.9 195.1,106.6 195.6,110.1 196.1,111.0 196.6,108.4 197.1,107.1 197.6,108.7 198.1,109.3 198.6,107.2 199.1,106.8 199.6,110.0 200.1,111.6 200.6,108.5 201.1,105.5 201.6,107.5 202.1,111.0 202.6,110.1 203.1,107.0 203.6,107.2 204.1,109.3 204.6,108.6 205.1,106.3 205.6,107.6 206.1,111.0 206.6,110.2 207.1,105.9 207.6,105.7 208.1,110.3 208.6,111.8 209.1,107.4 209.6,104.7 210.1,107.7 210.6,110.2 211.1,108.3 211.6,106.7 212.1,109.2 212.6,111.4 213.1,109.1 213.6,106.2" fill="none" stroke="#111" stroke-width="0.6" stroke-opacity="0.8"/>
<text x="26.8" y="109.5" font-size="2.9" text-anchor="end" style="font-weight:normal;fill:#333">Ch33</text>
<polyline points="28.0,110.3 28.5,111.7 29.0,112.1 29.5,111.3 30.0,110.5 30.5,110.7 31.0,111.1 31.5,111.1 32.0,111.0 32.5,111.2 33.0,110.9 33.5,110.3 34.0,110.7 34.5,112.1 35.0,112.2 35.5,110.5 36.0,109.7 36.5,111.2 37.0,112.8 37.5,112.1 38.0,110.0 38.5,110.3 39.0,112.5 39.5,113.2 40.0,111.6 40.5,110.9 41.0,111.9 41.5,112.1 42.0,110.8 42.5,111.0 43.0,112.8 43.5,112.3 44.0,109.5 44.5,109.6 45.0,112.9 45.5,113.6 46.0,110.2 46.5,108.2 47.0,110.5 47.5,113.2 48.0,112.1 48.5,109.7 49.0,110.3 49.5,112.3 50.0,111.3 50.5,109.0 51.0,110.3 51.5,113.4 52.0,112.3 52.5,108.6 53.0,109.2 53.5,113.4 54.0,114.0 54.5,110.5 55.0,109.0 55.5,111.7 56.0,113.2 56.5,111.1 57.0,109.4 57.5,111.4 58.0,113.4 58.5,111.4 59.0,109.1 59.5,111.3 60.0,114.2 60.5,111.6 61.0,107.7 61.5,109.8 62.0,114.5 62.5,113.5 63.0,108.6 63.5,108.6 64.0,113.2 64.5,114.2 65.0,110.3 65.5,108.7 66.0,111.6 66.5,113.2 67.0,111.1 67.5,109.6 68.0,110.9 68.5,111.8 69.0,110.6 69.5,110.0 70.0,111.1 70.5,111.8 71.0,110.6 71.5,109.8 72.0,110.8 72.5,112.0 73.0,111.4 73.5,110.1 74.0,109.7 74.5,110.7 75.0,111.4 75.5,111.1 76.0,110.4 76.5,110.4 77.0,110.6 77.5,111.0 78.0,111.7 78.5,112.2 79.0,111.5 79.5,110.5 80.0,110.6 80.5,111.9 81.0,112.3 81.5,111.2 82.0,110.2 82.5,110.8 83.0,112.2 83.5,112.1 84.0,110.9 84.5,110.4 85.0,111.3 85.5,112.0 86.0,111.6 86.5,111.0 87.0,111.0 87.5,111.1 88.0,110.9 88.5,111.2 89.0,111.9 89.5,111.9 90.0,110.9 90.5,110.4 91.0,111.4 91.5,112.3 92.0,111.6 92.5,110.3 93.0,110.3 93.5,111.4 94.0,112.1 94.5,111.5 95.0,110.8 95.5,111.0 96.0,111.6 96.5,112.2 97.0,112.6 97.5,112.4 98.0,111.6 98.5,111.0 99.0,111.7 99.5,112.8 100.0,112.6 100.5,111.0 101.0,110.1 101.5,111.4 102.0,113.0 102.5,112.3 103.0,110.6 103.5,110.4 104.0,111.7 104.5,112.1 105.0,111.0 105.5,109.9 106.0,110.3 106.5,111.0 107.0,110.7 107.5,110.6 108.0,111.3 108.5,111.4 109.0,110.2 109.5,109.9 110.0,111.7 110.5,112.6 111.0,110.7 111.5,109.3 112.0,111.1 112.5,113.2 113.0,111.9 113.5,109.6 114.0,110.3 114.5,112.7 115.0,112.8 115.5,110.8 116.0,110.6 116.5,112.3 117.0,112.7 117.5,111.0 118.0,110.5 118.5,112.1 119.0,112.6 119.5,110.7 120.0,110.4 120.5,113.1 121.1,114.2 121.6,111.4 122.1,109.6 122.6,111.9 123.1,114.0 123.6,112.3 124.1,109.8 124.6,110.3 125.1,112.4 125.6,112.7 126.1,111.3 126.6,110.6 127.1,111.3 127.6,111.9 128.1,111.5 128.6,111.2 129.1,111.4 129.6,111.1 130.1,110.1 130.6,110.1 131.1,111.6 131.6,112.3 132.1,110.6 132.6,109.4 133.1,111.2 133.6,113.0 134.1,111.3 134.6,108.8 135.1,109.7 135.6,112.2 136.1,112.0 136.6,110.1 137.1,110.0 137.6,111.2 138.1,111.1 138.6,110.4 139.1,111.0 139.6,112.2 140.1,111.7 140.6,110.5 141.1,110.9 141.6,112.4 142.1,112.6 142.6,110.4 143.1,109.0 143.6,110.7 144.1,113.1 144.6,112.1 145.1,109.4 145.6,109.9 146.1,113.0 146.6,113.1 147.1,110.3 147.6,109.7 148.1,112.0 148.6,112.1 149.1,109.9 149.6,110.2 150.1,112.8 150.6,112.5 151.1,109.8 151.6,109.4 152.1,111.9 152.6,113.0 153.1,111.5 153.6,110.1 154.1,110.6 154.6,111.7 155.1,111.7 155.6,111.1 156.1,111.0 156.6,111.1 157.1,110.7 157.6,110.3 158.1,110.8 158.6,111.5 159.1,110.9 159.6,109.8 160.1,110.1 160.6,111.5 161.1,111.8 161.6,110.4 162.1,109.6 162.6,110.1 163.1,110.9 163.6,110.9 164.1,110.6 164.6,110.7 165.1,110.9 165.6,110.9 166.1,110.8 166.6,111.0 167.1,110.8 167.6,110.0 168.1,109.7 168.6,110.8 169.1,111.6 169.6,111.0 170.1,109.9 170.6,110.1 171.1,111.5 171.6,112.0 172.1,111.1 172.6,110.2 173.1,110.7 173.6,111.7 174.1,111.7 174.6,110.9 175.1,110.7 175.6,110.9 176.1,110.9 176.6,111.1 177.1,112.1 177.6,112.6 178.1,111.6 178.6,110.2 179.1,110.3 179.6,111.6 180.1,112.2 180.6,111.4 181.1,110.4 181.6,110.2 182.1,110.8 182.6,111.4 183.1,111.6 183.6,111.4 184.1,110.9 184.6,110.6 185.1,111.2 185.6,112.3 186.1,112.2 186.6,110.5 187.1,109.5 187.6,111.0 188.1,113.1 188.6,112.5 189.1,110.1 189.6,110.1 190.1,112.8 190.6,113.7 191.1,111.2 191.6,109.7 192.1,111.2 192.6,112.3 193.1,110.8 193.6,110.0 194.1,111.7 194.6,112.3 195.1,110.5 195.6,109.9 196.1,112.6 196.6,113.9 197.1,110.8 197.6,108.1 198.1,110.4 198.6,113.9 199.1,112.8 199.6,108.9 200.1,108.9 200.6,112.4 201.1,113.1 201.6,110.5 202.1,109.9 202.6,112.1 203.1,112.9 203.6,110.9 204.1,110.3 204.6,112.4 205.1,112.9 205.6,109.5 206.1,107.8 206.6,111.7 207.1,114.8 207.6,111.5 208.1,107.7 208.6,110.2 209.1,114.7 209.6,113.5 210.1,109.1 210.6,109.2 211.1,112.6 211.6,112.8 212.1,110.1 212.6,110.0 213.1,112.3 213.6,112.0" fill="none" stroke="#111" stroke-width="0.6" stroke-opacity="0.8"/>
<text x="26.8" y="112.2" font-size="2.9" text-anchor="end" style="font-weight:normal;fill:#333">Ch34</text>
<rect x="32.7" y="18.6" width="34.6" height="95" fill="none" stroke="#f5201e" stroke-width="1.6" stroke-dasharray="3.8 2.5"/>
<line x1="220.4" y1="64.3" x2="249" y2="64.3" stroke="#000" stroke-width="1.1"/>
<polygon points="254.4,64.3 247.9,62.4 247.9,66.2" fill="#000"/>
<text x="273.8" y="17.6" font-size="10.8" text-anchor="middle" >(b)</text>
<text x="269.8" y="101.9" font-size="8.2" text-anchor="middle" >GFP</text>
<polyline points="281.8,102.1 282.6,103.3 283.4,103.5 284.2,102.9 285.0,101.5 285.8,99.8 286.6,98.4 287.4,97.6 288.2,97.9 289.0,98.9 289.8,100.5 290.6,102.4 291.4,104.3 292.2,106.1 293.0,107.5 293.8,108.2 294.6,107.9 295.4,106.3 296.2,103.4 297.0,99.5 297.8,95.0 298.6,90.3 299.4,85.7 300.2,81.5 301.0,78.1 301.8,75.9 302.6,75.2 303.4,76.2 304.2,78.6 305.0,82.1 305.8,86.4 306.6,91.3 307.4,96.3 308.2,101.1 309.0,105.5 309.8,109.1 310.6,111.6 311.4,112.8 312.2,113.0 313.0,112.4 313.8,111.2 314.6,109.4 315.4,107.2 316.2,103.9 317.0,99.8 317.8,95.1 318.6,90.2 319.4,85.3 320.2,80.6 321.0,76.5 321.8,73.1 322.6,70.8 323.4,69.9 324.2,70.0 325.0,71.0 325.8,72.7 326.6,74.8 327.4,77.3 328.2,79.9 329.0,82.5 329.8,84.8 330.6,86.9 331.4,88.5 332.2,89.9 333.0,91.0 333.8,91.9 334.6,92.5 335.4,92.7 336.2,92.6 337.0,92.2 337.8,91.2 338.6,89.8 339.4,88.2 340.2,86.6 341.0,85.2 341.8,84.2 342.6,83.8 343.4,84.1 344.2,85.1 345.0,86.4 345.8,87.7 346.6,88.8 347.4,89.3 348.2,88.9 349.0,87.1 349.8,84.2 350.6,80.5 351.4,76.6 352.2,73.0 353.0,70.2 353.8,68.7 354.6,69.0 355.4,71.5 356.2,75.7 357.0,81.2 357.8,87.4 358.6,93.8 359.4,99.8 360.2,105.0 361.0,108.8 361.8,110.6 362.6,110.3 363.4,108.2 364.2,105.0 365.0,101.3 365.8,97.4 366.6,94.1 367.4,91.9 368.2,91.3 369.0,91.9 369.8,93.5 370.6,95.7 371.4,98.1 372.2,100.4 373.0,102.3 373.8,103.4 374.6,103.4 375.4,102.3 376.2,100.5 377.0,98.0 377.8,95.2 378.6,92.3 379.4,89.4 380.2,86.9 381.0,85.0 381.8,83.9 382.6,83.6 383.4,83.9 384.2,84.8 385.0,86.0 385.8,87.4 386.6,88.9 387.4,90.5 388.2,91.9 389.0,93.0 389.8,93.7 390.6,94.2 391.4,94.5 392.2,94.6 393.0,94.7 393.8,94.7 394.6,94.9 395.4,95.2 396.2,95.7 397.0,96.6 397.8,97.8 398.6,99.4 399.4,101.1 400.2,102.9 401.0,104.6 401.8,106.2 402.6,107.5 403.4,108.5 404.2,108.9 405.0,108.8 405.8,107.8 406.6,105.9 407.4,103.4 408.2,100.5 409.0,97.5 409.8,94.7 410.6,92.3 411.4,90.7 412.2,90.0 413.0,90.5 413.8,92.0 414.6,94.1 415.4,96.6 416.2,99.1 417.0,101.3 417.8,102.9 418.6,103.5 419.4,103.1 420.2,101.8 421.0,99.9 421.8,97.5 422.6,95.0 423.4,92.4 424.2,90.2 425.0,88.2 425.8,86.4 426.6,85.0 427.4,84.2 428.2,84.1 429.0,84.5 429.8,85.1 430.6,85.9 431.4,86.7 432.2,87.4 433.0,88.1 433.8,88.6" fill="none" stroke="#000" stroke-width="1.3" stroke-linejoin="round" stroke-linecap="round"/>
<line x1="287.3" y1="96.6" x2="287.3" y2="67.2" stroke="#333" stroke-width="1.1" stroke-dasharray="4.4 3"/>
<polygon points="287.3,63.2 285.4,68.6 289.2,68.6" fill="#000"/>
<line x1="302.6" y1="74.2" x2="302.6" y2="45.7" stroke="#333" stroke-width="1.1" stroke-dasharray="4.4 3"/>
<polygon points="302.6,41.7 300.7,47.1 304.5,47.1" fill="#000"/>
<line x1="323.0" y1="69.0" x2="323.0" y2="41.0" stroke="#333" stroke-width="1.1" stroke-dasharray="4.4 3"/>
<polygon points="323.0,37.0 321.1,42.4 324.9,42.4" fill="#000"/>
<line x1="343.15" y1="82.8" x2="343.15" y2="53.5" stroke="#333" stroke-width="1.1" stroke-dasharray="4.4 3"/>
<polygon points="343.1,49.5 341.2,54.9 345.0,54.9" fill="#000"/>
<line x1="354.8" y1="67.6" x2="354.8" y2="39.3" stroke="#333" stroke-width="1.1" stroke-dasharray="4.4 3"/>
<polygon points="354.8,35.3 352.9,40.7 356.7,40.7" fill="#000"/>
<line x1="367.6" y1="90.4" x2="367.6" y2="61.7" stroke="#333" stroke-width="1.1" stroke-dasharray="4.4 3"/>
<polygon points="367.6,57.7 365.7,63.1 369.5,63.1" fill="#000"/>
<line x1="382.6" y1="82.8" x2="382.6" y2="53.2" stroke="#333" stroke-width="1.1" stroke-dasharray="4.4 3"/>
<polygon points="382.6,49.2 380.7,54.6 384.5,54.6" fill="#000"/>
<line x1="412.3" y1="89.0" x2="412.3" y2="59.8" stroke="#333" stroke-width="1.1" stroke-dasharray="4.4 3"/>
<polygon points="412.3,55.8 410.4,61.2 414.2,61.2" fill="#000"/>
<line x1="427.6" y1="82.8" x2="427.6" y2="53.2" stroke="#333" stroke-width="1.1" stroke-dasharray="4.4 3"/>
<polygon points="427.6,49.2 425.7,54.6 429.5,54.6" fill="#000"/>
<polyline points="285.8,47.900000000000006 287.3,46.300000000000004 288.8,47.900000000000006" fill="none" stroke="#000" stroke-width="1"/>
<circle cx="287.3" cy="54.2" r="6.15" fill="url(#sh0)" stroke="#000" stroke-width="1.35"/>
<polyline points="301.1,26.400000000000002 302.6,24.800000000000004 304.1,26.400000000000002" fill="none" stroke="#000" stroke-width="1"/>
<circle cx="302.6" cy="32.7" r="6.15" fill="url(#sh1)" stroke="#000" stroke-width="1.35"/>
<polyline points="321.5,21.7 323.0,20.1 324.5,21.7" fill="none" stroke="#000" stroke-width="1"/>
<circle cx="323.0" cy="28.0" r="6.15" fill="url(#sh2)" stroke="#000" stroke-width="1.35"/>
<polyline points="341.65,34.2 343.15,32.6 344.65,34.2" fill="none" stroke="#000" stroke-width="1"/>
<circle cx="343.15" cy="40.5" r="6.15" fill="url(#sh3)" stroke="#000" stroke-width="1.35"/>
<polyline points="353.3,20.0 354.8,18.4 356.3,20.0" fill="none" stroke="#000" stroke-width="1"/>
<circle cx="354.8" cy="26.3" r="6.15" fill="url(#sh4)" stroke="#000" stroke-width="1.35"/>
<polyline points="366.1,42.400000000000006 367.6,40.800000000000004 369.1,42.400000000000006" fill="none" stroke="#000" stroke-width="1"/>
<circle cx="367.6" cy="48.7" r="6.15" fill="url(#sh5)" stroke="#000" stroke-width="1.35"/>
<polyline points="381.1,33.900000000000006 382.6,32.300000000000004 384.1,33.900000000000006" fill="none" stroke="#000" stroke-width="1"/>
<circle cx="382.6" cy="40.2" r="6.15" fill="url(#sh6)" stroke="#000" stroke-width="1.35"/>
<polyline points="410.8,40.5 412.3,38.9 413.8,40.5" fill="none" stroke="#000" stroke-width="1"/>
<circle cx="412.3" cy="46.8" r="6.15" fill="url(#sh7)" stroke="#000" stroke-width="1.35"/>
<polyline points="426.1,33.900000000000006 427.6,32.300000000000004 429.1,33.900000000000006" fill="none" stroke="#000" stroke-width="1"/>
<circle cx="427.6" cy="40.2" r="6.15" fill="url(#sh8)" stroke="#000" stroke-width="1.35"/>
<polyline points="444.2,62.4 537.3,62.4 537.3,179 495,179" fill="none" stroke="#000" stroke-width="1.1"/>
<polygon points="489.1,179.0 496.0,177.1 496.0,180.9" fill="#000"/>
<text x="508.3" y="92" font-size="8.5" text-anchor="middle" >AAHC</text>
<line x1="508.4" y1="104.3" x2="508.4" y2="126" stroke="#000" stroke-width="1"/>
<polygon points="508.4,131.6 506.7,125.4 510.1,125.4" fill="#000"/>
<text x="508.3" y="151.7" font-size="8.6" text-anchor="middle" >Sorting</text>
<line x1="48.9" y1="120" x2="480.9" y2="120" stroke="#000" stroke-width="1.5" stroke-dasharray="5.8 6.039"/>
<line x1="480.9" y1="120" x2="480.9" y2="238.8" stroke="#000" stroke-width="1.5" stroke-dasharray="5.8 5.500"/>
<line x1="480.9" y1="238.8" x2="48.9" y2="238.8" stroke="#000" stroke-width="1.5" stroke-dasharray="5.8 6.039"/>
<line x1="48.9" y1="238.8" x2="48.9" y2="120" stroke="#000" stroke-width="1.5" stroke-dasharray="5.8 5.500"/>
<text x="222.3" y="133" font-size="10.8" text-anchor="middle" >(c)</text>
<text x="263.3" y="133" font-size="10.8" text-anchor="middle" >Microstates</text>
<rect x="51.6" y="136.4" width="91.2" height="94.2" fill="#fde1cc" stroke="#a4a4a4" stroke-width="0.8"/>
<text x="96.9" y="145.2" font-size="10.8" text-anchor="middle" >A</text>
<rect x="162.8" y="136.4" width="91.2" height="94.2" fill="#e1feff" stroke="#a4a4a4" stroke-width="0.8"/>
<text x="208.10000000000002" y="145.2" font-size="10.8" text-anchor="middle" >B</text>
<rect x="274.2" y="136.4" width="91.2" height="94.2" fill="#e0e0fd" stroke="#a4a4a4" stroke-width="0.8"/>
<text x="319.5" y="145.2" font-size="10.8" text-anchor="middle" >C</text>
<rect x="385.5" y="136.4" width="91.2" height="94.2" fill="#fefde0" stroke="#a4a4a4" stroke-width="0.8"/>
<text x="430.8" y="145.2" font-size="10.8" text-anchor="middle" >D</text>
<clipPath id="clipA"><ellipse cx="97.0" cy="189.5" rx="37.099999999999994" ry="36.4"/></clipPath>
<g clip-path="url(#clipA)">
<rect x="59.2" y="151.7" width="75.6" height="75.6" fill="#00009f"/>
<path d="M58.9,149.8 60.6,149.8 62.2,149.8 63.9,149.8 65.5,149.8 67.2,149.8 68.8,149.8 70.5,149.8 72.2,149.8 73.8,149.8 75.5,149.8 77.1,149.8 78.8,149.8 80.4,149.8 82.1,149.8 83.8,149.8 85.4,149.8 87.1,149.8 88.7,149.8 90.4,149.8 92.0,149.8 93.7,149.8 95.3,149.8 97.0,149.8 98.7,149.8 100.3,149.8 102.0,149.8 103.6,149.8 105.3,149.8 106.9,149.8 108.6,149.8 110.2,149.8 111.9,149.8 113.6,149.8 115.2,149.8 116.9,149.8 118.5,149.8 120.2,149.8 121.8,149.8 123.5,149.8 125.2,149.8 126.8,149.8 128.5,149.8 130.1,149.8 131.8,149.8 133.4,149.8 135.1,149.8 136.7,149.8 136.7,151.4 136.7,153.1 136.7,154.7 136.7,156.4 136.7,158.0 136.7,159.7 136.7,161.3 136.7,163.0 136.7,164.7 136.7,166.3 136.7,168.0 136.7,169.6 136.7,171.3 136.7,172.9 136.7,174.6 136.7,176.3 136.7,177.9 136.7,179.6 136.7,181.2 136.7,182.9 136.7,184.5 136.7,186.2 136.7,187.8 136.7,189.5 136.7,191.2 136.7,192.8 136.7,194.5 136.7,196.1 136.7,197.8 136.7,199.4 136.7,201.1 136.7,202.7 136.7,204.4 136.7,206.1 136.7,207.7 136.7,209.4 136.7,211.0 136.7,212.7 136.7,214.3 136.7,216.0 136.7,217.7 135.1,218.0 133.4,217.9 131.8,217.8 130.1,217.8 128.5,217.7 126.8,217.6 125.2,217.5 123.5,217.5 121.8,217.6 120.7,217.7 118.5,217.8 116.9,217.9 115.2,218.0 113.6,218.0 111.9,218.0 110.2,217.9 108.6,217.9 106.9,217.7 105.3,217.3 103.6,216.7 102.2,216.0 100.3,215.0 98.7,213.9 97.0,212.8 95.3,211.9 94.0,211.0 92.0,209.9 90.4,208.9 88.7,207.9 87.1,207.0 85.4,206.1 83.8,205.5 82.1,205.0 80.4,204.5 78.8,204.1 77.1,203.6 75.5,203.1 73.8,202.6 72.2,202.1 70.5,201.6 69.0,201.1 67.2,200.6 65.5,200.0 63.9,199.5 62.2,199.1 60.6,198.8 58.9,198.7 57.3,198.7 57.3,196.1 57.3,194.5 57.3,192.8 57.3,191.2 57.3,189.5 57.3,187.8 57.3,186.2 57.3,184.5 57.3,182.9 57.3,181.2 57.3,179.6 57.3,177.9 57.3,176.3 57.3,174.6 57.3,172.9 57.3,171.3 57.3,169.6 57.3,168.0 57.3,166.3 57.3,164.7 57.3,163.0 57.3,161.3 57.3,159.7 57.3,158.0 57.3,156.4 57.3,154.7 57.3,153.1 57.3,151.4 57.3,149.8 58.9,149.8Z" fill="#0000df" fill-rule="evenodd"/>
<path d="M58.9,149.8 60.6,149.8 62.2,149.8 63.9,149.8 65.5,149.8 67.2,149.8 68.8,149.8 70.5,149.8 72.2,149.8 73.8,149.8 75.5,149.8 77.1,149.8 78.8,149.8 80.4,149.8 82.1,149.8 83.8,149.8 85.4,149.8 87.1,149.8 88.7,149.8 90.4,149.8 92.0,149.8 93.7,149.8 95.3,149.8 97.0,149.8 98.7,149.8 100.3,149.8 102.0,149.8 103.6,149.8 105.3,149.8 106.9,149.8 108.6,149.8 110.2,149.8 111.9,149.8 113.6,149.8 115.2,149.8 116.9,149.8 118.5,149.8 120.2,149.8 121.8,149.8 123.5,149.8 125.2,149.8 126.8,149.8 128.5,149.8 130.1,149.8 131.8,149.8 133.4,149.8 135.1,149.8 136.7,149.8 136.7,151.4 136.7,153.1 136.7,154.7 136.7,156.4 136.7,158.0 136.7,159.7 136.7,161.3 136.7,163.0 136.7,164.7 136.7,166.3 136.7,168.0 136.7,169.6 136.7,171.3 136.7,172.9 136.7,174.6 136.7,176.3 136.7,177.9 136.7,179.6 136.7,181.2 136.7,182.9 136.7,184.5 136.7,186.2 136.7,187.8 136.7,189.5 136.7,191.2 136.7,192.8 136.7,194.5 136.7,196.1 136.7,197.8 136.7,199.4 136.7,201.1 136.7,202.7 136.7,204.4 136.7,206.1 136.7,207.7 136.7,209.4 136.7,211.0 136.7,212.7 136.7,214.3 136.7,215.8 135.1,215.8 133.4,215.8 131.8,215.8 130.1,215.8 128.5,215.8 126.8,215.7 125.2,215.7 123.5,215.6 121.8,215.7 120.2,215.8 118.5,215.9 116.9,215.8 115.2,215.7 113.6,215.5 111.9,215.3 110.2,215.0 108.6,214.9 106.9,214.6 105.3,214.1 103.6,213.5 102.0,212.7 100.3,211.8 99.1,211.0 97.0,210.0 95.7,209.4 93.7,208.4 92.6,207.7 90.4,206.3 88.7,205.2 87.5,204.4 85.4,203.3 84.0,202.7 82.1,202.1 80.4,201.6 79.2,201.1 77.1,200.3 75.5,199.7 73.8,199.1 72.2,198.6 70.5,198.2 69.0,197.8 67.2,197.3 65.5,196.8 63.9,196.3 62.2,195.9 60.6,195.6 58.9,195.6 57.3,195.6 57.3,194.5 57.3,192.8 57.3,191.2 57.3,189.5 57.3,187.8 57.3,186.2 57.3,184.5 57.3,182.9 57.3,181.2 57.3,179.6 57.3,177.9 57.3,176.3 57.3,174.6 57.3,172.9 57.3,171.3 57.3,169.6 57.3,168.0 57.3,166.3 57.3,164.7 57.3,163.0 57.3,161.3 57.3,159.7 57.3,158.0 57.3,156.4 57.3,154.7 57.3,153.1 57.3,151.4 57.3,149.8 58.9,149.8Z" fill="#000dff" fill-rule="evenodd"/>
<path d="M58.9,149.8 60.6,149.8 62.2,149.8 63.9,149.8 65.5,149.8 67.2,149.8 68.8,149.8 70.5,149.8 72.2,149.8 73.8,149.8 75.5,149.8 77.1,149.8 78.8,149.8 80.4,149.8 82.1,149.8 83.8,149.8 85.4,149.8 87.1,149.8 88.7,149.8 90.4,149.8 92.0,149.8 93.7,149.8 95.3,149.8 97.0,149.8 98.7,149.8 100.3,149.8 102.0,149.8 103.6,149.8 105.3,149.8 106.9,149.8 108.6,149.8 110.2,149.8 111.9,149.8 113.6,149.8 115.2,149.8 116.9,149.8 118.5,149.8 120.2,149.8 121.8,149.8 123.5,149.8 125.2,149.8 126.8,149.8 128.5,149.8 130.1,149.8 131.8,149.8 133.4,149.8 135.1,149.8 136.7,149.8 136.7,151.4 136.7,153.1 136.7,154.7 136.7,156.4 136.7,158.0 136.7,159.7 136.7,161.3 136.7,163.0 136.7,164.7 136.7,166.3 136.7,168.0 136.7,169.6 136.7,171.3 136.7,172.9 136.7,174.6 136.7,176.3 136.7,177.9 136.7,179.6 136.7,181.2 136.7,182.9 136.7,184.5 136.7,186.2 136.7,187.8 136.7,189.5 136.7,191.2 136.7,192.8 136.7,194.5 136.7,196.1 136.7,197.8 136.7,199.4 136.7,201.1 136.7,202.7 136.7,204.4 136.7,206.1 136.7,207.7 136.7,209.4 136.7,211.0 136.7,212.7 135.1,213.8 133.4,213.8 131.8,213.9 130.1,214.0 128.5,214.1 126.8,214.1 125.2,214.1 123.5,214.1 121.8,214.1 120.2,214.2 118.5,214.2 116.9,214.1 115.2,213.9 113.6,213.6 111.9,213.3 110.2,213.0 108.6,212.7 106.9,212.4 105.3,211.9 103.6,211.2 102.0,210.4 100.3,209.6 98.7,208.8 97.0,208.1 95.3,207.3 93.7,206.3 92.0,205.2 90.8,204.4 88.7,203.0 87.1,202.0 85.4,201.2 83.8,200.5 82.1,199.9 81.0,199.4 78.8,198.5 77.1,197.8 75.5,197.2 73.8,196.7 72.2,196.2 70.5,195.8 68.8,195.3 67.2,194.9 65.9,194.5 63.9,193.9 62.2,193.6 60.6,193.3 58.9,193.2 57.3,193.1 57.3,191.2 57.3,189.5 57.3,187.8 57.3,186.2 57.3,184.5 57.3,182.9 57.3,181.2 57.3,179.6 57.3,177.9 57.3,176.3 57.3,174.6 57.3,172.9 57.3,171.3 57.3,169.6 57.3,168.0 57.3,166.3 57.3,164.7 57.3,163.0 57.3,161.3 57.3,159.7 57.3,158.0 57.3,156.4 57.3,154.7 57.3,153.1 57.3,151.4 57.3,149.8 58.9,149.8Z" fill="#0044ff" fill-rule="evenodd"/>
<path d="M58.9,149.8 60.6,149.8 62.2,149.8 63.9,149.8 65.5,149.8 67.2,149.8 68.8,149.8 70.5,149.8 72.2,149.8 73.8,149.8 75.5,149.8 77.1,149.8 78.8,149.8 80.4,149.8 82.1,149.8 83.8,149.8 85.4,149.8 87.1,149.8 88.7,149.8 90.4,149.8 92.0,149.8 93.7,149.8 95.3,149.8 97.0,149.8 98.7,149.8 100.3,149.8 102.0,149.8 103.6,149.8 105.3,149.8 106.9,149.8 108.6,149.8 110.2,149.8 111.9,149.8 113.6,149.8 115.2,149.8 116.9,149.8 118.5,149.8 120.2,149.8 121.8,149.8 123.5,149.8 125.2,149.8 126.8,149.8 128.5,149.8 130.1,149.8 131.8,149.8 133.4,149.8 135.1,149.8 136.7,149.8 136.7,151.4 136.7,153.1 136.7,154.7 136.7,156.4 136.7,158.0 136.7,159.7 136.7,161.3 136.7,163.0 136.7,164.7 136.7,166.3 136.7,168.0 136.7,169.6 136.7,171.3 136.7,172.9 136.7,174.6 136.7,176.3 136.7,177.9 136.7,179.6 136.7,181.2 136.7,182.9 136.7,184.5 136.7,186.2 136.7,187.8 136.7,189.5 136.7,191.2 136.7,192.8 136.7,194.5 136.7,196.1 136.7,197.8 136.7,199.4 136.7,201.1 136.7,202.7 136.7,204.4 136.7,206.1 136.7,207.7 136.7,209.4 136.7,211.0 135.1,211.8 133.4,211.9 131.8,212.1 130.1,212.3 128.5,212.4 126.8,212.6 125.5,212.7 123.5,212.8 121.8,212.8 120.2,212.7 118.5,212.6 116.9,212.5 115.2,212.2 113.6,212.0 111.9,211.7 110.2,211.4 108.8,211.0 106.9,210.5 105.3,210.0 103.9,209.4 102.0,208.6 100.3,207.8 98.7,207.2 97.0,206.4 95.3,205.5 93.7,204.4 92.0,203.3 90.4,202.1 88.8,201.1 87.1,200.2 85.5,199.4 83.8,198.6 82.1,197.9 80.4,197.1 78.8,196.4 77.1,195.7 75.5,195.2 73.8,194.7 72.2,194.2 70.5,193.7 68.8,193.2 67.5,192.8 65.5,192.3 63.9,191.9 62.2,191.6 60.6,191.4 58.9,191.2 57.3,191.0 57.3,189.5 57.3,187.8 57.3,186.2 57.3,184.5 57.3,182.9 57.3,181.2 57.3,179.6 57.3,177.9 57.3,176.3 57.3,174.6 57.3,172.9 57.3,171.3 57.3,169.6 57.3,168.0 57.3,166.3 57.3,164.7 57.3,163.0 57.3,161.3 57.3,159.7 57.3,158.0 57.3,156.4 57.3,154.7 57.3,153.1 57.3,151.4 57.3,149.8 58.9,149.8Z" fill="#0081ff" fill-rule="evenodd"/>
<path d="M58.9,149.8 60.6,149.8 62.2,149.8 63.9,149.8 65.5,149.8 67.2,149.8 68.8,149.8 70.5,149.8 72.2,149.8 73.8,149.8 75.5,149.8 77.1,149.8 78.8,149.8 80.4,149.8 82.1,149.8 83.8,149.8 85.4,149.8 87.1,149.8 88.7,149.8 90.4,149.8 92.0,149.8 93.7,149.8 95.3,149.8 97.0,149.8 98.7,149.8 100.3,149.8 102.0,149.8 103.6,149.8 105.3,149.8 106.9,149.8 108.6,149.8 110.2,149.8 111.9,149.8 113.6,149.8 115.2,149.8 116.9,149.8 118.5,149.8 120.2,149.8 121.8,149.8 123.5,149.8 125.2,149.8 126.8,149.8 128.5,149.8 130.1,149.8 131.8,149.8 133.4,149.8 135.1,149.8 136.7,149.8 136.7,151.4 136.7,153.1 136.7,154.7 136.7,156.4 136.7,158.0 136.7,159.7 136.7,161.3 136.7,163.0 136.7,164.7 136.7,166.3 136.7,168.0 136.7,169.6 136.7,171.3 136.7,172.9 136.7,174.6 136.7,176.3 136.7,177.9 136.7,179.6 136.7,181.2 136.7,182.9 136.7,184.5 136.7,186.2 136.7,187.8 136.7,189.5 136.7,191.2 136.7,192.8 136.7,194.5 136.7,196.1 136.7,197.8 136.7,199.4 136.7,201.1 136.7,202.7 136.7,204.4 136.7,206.1 136.7,207.7 136.7,209.4 135.1,209.9 133.4,210.0 131.8,210.3 130.1,210.5 128.5,210.8 126.8,211.1 125.2,211.4 123.5,211.5 121.8,211.5 120.2,211.3 118.5,211.1 116.9,210.9 115.2,210.7 113.6,210.4 111.9,210.1 110.2,209.8 108.7,209.4 106.9,208.8 105.3,208.2 104.1,207.7 102.0,206.9 100.3,206.3 98.7,205.6 97.0,204.8 95.3,203.7 94.0,202.7 92.0,201.3 90.4,200.2 89.0,199.4 87.1,198.4 85.7,197.8 83.8,196.8 82.5,196.1 80.4,195.1 79.0,194.5 77.1,193.8 75.5,193.3 73.8,192.8 72.2,192.3 70.5,191.7 68.8,191.2 67.2,190.7 65.5,190.3 63.9,190.0 62.2,189.7 60.6,189.5 58.9,189.2 57.3,188.9 57.3,186.2 57.3,184.5 57.3,182.9 57.3,181.2 57.3,179.6 57.3,177.9 57.3,176.3 57.3,174.6 57.3,172.9 57.3,171.3 57.3,169.6 57.3,168.0 57.3,166.3 57.3,164.7 57.3,163.0 57.3,161.3 57.3,159.7 57.3,158.0 57.3,156.4 57.3,154.7 57.3,153.1 57.3,151.4 57.3,149.8 58.9,149.8Z" fill="#00b9ff" fill-rule="evenodd"/>
<path d="M58.9,149.8 60.6,149.8 62.2,149.8 63.9,149.8 65.5,149.8 67.2,149.8 68.8,149.8 70.5,149.8 72.2,149.8 73.8,149.8 75.5,149.8 77.1,149.8 78.8,149.8 80.4,149.8 82.1,149.8 83.8,149.8 85.4,149.8 87.1,149.8 88.7,149.8 90.4,149.8 92.0,149.8 93.7,149.8 95.3,149.8 97.0,149.8 98.7,149.8 100.3,149.8 102.0,149.8 103.6,149.8 105.3,149.8 106.9,149.8 108.6,149.8 110.2,149.8 111.9,149.8 113.6,149.8 115.2,149.8 116.9,149.8 118.5,149.8 120.2,149.8 121.8,149.8 123.5,149.8 125.2,149.8 126.8,149.8 128.5,149.8 130.1,149.8 131.8,149.8 133.4,149.8 135.1,149.8 136.7,149.8 136.7,151.4 136.7,153.1 136.7,154.7 136.7,156.4 136.7,158.0 136.7,159.7 136.7,161.3 136.7,163.0 136.7,164.7 136.7,166.3 136.7,168.0 136.7,169.6 136.7,171.3 136.7,172.9 136.7,174.6 136.7,176.3 136.7,177.9 136.7,179.6 136.7,181.2 136.7,182.9 136.7,184.5 136.7,186.2 136.7,187.8 136.7,189.5 136.7,191.2 136.7,192.8 136.7,194.5 136.7,196.1 136.7,197.8 136.7,199.4 136.7,201.1 136.7,202.7 136.7,204.4 136.7,206.1 136.7,207.7 135.1,207.9 133.4,208.2 131.8,208.4 130.1,208.8 128.5,209.2 126.8,209.6 125.2,209.9 123.5,210.1 121.8,210.1 120.2,209.9 118.5,209.6 116.9,209.4 115.2,209.1 113.6,208.9 111.9,208.6 110.2,208.2 108.7,207.7 106.9,207.0 105.3,206.4 103.6,205.8 102.0,205.2 100.3,204.7 98.7,204.1 97.0,203.1 95.3,201.9 94.3,201.1 92.0,199.5 90.4,198.4 89.2,197.8 87.1,196.7 85.9,196.1 83.8,194.8 82.1,193.9 80.4,193.1 78.8,192.4 77.1,191.8 75.5,191.3 73.8,190.9 72.2,190.3 70.5,189.7 68.8,189.1 67.2,188.6 65.5,188.3 63.9,188.0 62.4,187.8 60.6,187.6 58.9,187.2 57.3,186.8 57.3,184.5 57.3,182.9 57.3,181.2 57.3,179.6 57.3,177.9 57.3,176.3 57.3,174.6 57.3,172.9 57.3,171.3 57.3,169.6 57.3,168.0 57.3,166.3 57.3,164.7 57.3,163.0 57.3,161.3 57.3,159.7 57.3,158.0 57.3,156.4 57.3,154.7 57.3,153.1 57.3,151.4 57.3,149.8 58.9,149.8Z" fill="#09f1ee" fill-rule="evenodd"/>
<path d="M58.9,149.8 60.6,149.8 62.2,149.8 63.9,149.8 65.5,149.8 67.2,149.8 68.8,149.8 70.5,149.8 72.2,149.8 73.8,149.8 75.5,149.8 77.1,149.8 78.8,149.8 80.4,149.8 82.1,149.8 83.8,149.8 85.4,149.8 87.1,149.8 88.7,149.8 90.4,149.8 92.0,149.8 93.7,149.8 95.3,149.8 97.0,149.8 98.7,149.8 100.3,149.8 102.0,149.8 103.6,149.8 105.3,149.8 106.9,149.8 108.6,149.8 110.2,149.8 111.9,149.8 113.6,149.8 115.2,149.8 116.9,149.8 118.5,149.8 120.2,149.8 121.8,149.8 123.5,149.8 125.2,149.8 126.8,149.8 128.5,149.8 130.1,149.8 131.8,149.8 133.4,149.8 135.1,149.8 136.7,149.8 136.7,151.4 136.7,153.1 136.7,154.7 136.7,156.4 136.7,158.0 136.7,159.7 136.7,161.3 136.7,163.0 136.7,164.7 136.7,166.3 136.7,168.0 136.7,169.6 136.7,171.3 136.7,172.9 136.7,174.6 136.7,176.3 136.7,177.9 136.7,179.6 136.7,181.2 136.7,182.9 136.7,184.5 136.7,186.2 136.7,187.8 136.7,189.5 136.7,191.2 136.7,192.8 136.7,194.5 136.7,196.1 136.7,197.8 136.7,199.4 136.7,201.1 136.7,202.7 136.7,204.4 136.7,205.9 135.2,206.1 133.4,206.3 131.8,206.6 130.1,207.0 128.5,207.4 126.8,207.9 125.2,208.3 123.5,208.5 121.8,208.5 120.2,208.3 118.5,208.0 116.9,207.8 115.2,207.5 113.6,207.2 111.9,206.9 110.2,206.4 108.6,205.8 106.9,205.2 105.3,204.6 103.6,204.1 102.0,203.5 100.3,203.0 98.7,202.2 97.0,201.1 95.3,199.8 93.7,198.7 92.3,197.8 90.4,196.6 89.4,196.1 87.1,194.9 85.4,193.8 83.9,192.8 82.1,191.8 80.9,191.2 78.8,190.3 77.1,189.7 75.5,189.2 73.8,188.6 72.2,188.0 70.5,187.3 68.8,186.8 67.2,186.4 65.7,186.2 63.9,185.9 62.2,185.7 60.6,185.4 58.9,185.0 57.6,184.5 57.3,182.9 57.3,181.2 57.3,179.6 57.3,177.9 57.3,176.3 57.3,174.6 57.3,172.9 57.3,171.3 57.3,169.6 57.3,168.0 57.3,166.3 57.3,164.7 57.3,163.0 57.3,161.3 57.3,159.7 57.3,158.0 57.3,156.4 57.3,154.7 57.3,153.1 57.3,151.4 57.3,149.8 58.9,149.8Z" fill="#36ffc1" fill-rule="evenodd"/>
<path d="M58.9,149.8 60.6,149.8 62.2,149.8 63.9,149.8 65.5,149.8 67.2,149.8 68.8,149.8 70.5,149.8 72.2,149.8 73.8,149.8 75.5,149.8 77.1,149.8 78.8,149.8 80.4,149.8 82.1,149.8 83.8,149.8 85.4,149.8 87.1,149.8 88.7,149.8 90.4,149.8 92.0,149.8 93.7,149.8 95.3,149.8 97.0,149.8 98.7,149.8 100.3,149.8 102.0,149.8 103.6,149.8 105.3,149.8 106.9,149.8 108.6,149.8 110.2,149.8 111.9,149.8 113.6,149.8 115.2,149.8 116.9,149.8 118.5,149.8 120.2,149.8 121.8,149.8 123.5,149.8 125.2,149.8 126.8,149.8 128.5,149.8 130.1,149.8 131.8,149.8 133.4,149.8 135.1,149.8 136.7,149.8 136.7,151.4 136.7,153.1 136.7,154.7 136.7,156.4 136.7,158.0 136.7,159.7 136.7,161.3 136.7,163.0 136.7,164.7 136.7,166.3 136.7,168.0 136.7,169.6 136.7,171.3 136.7,172.9 136.7,174.6 136.7,176.3 136.7,177.9 136.7,179.6 136.7,181.2 136.7,182.9 136.7,184.5 136.7,186.2 136.7,187.8 136.7,189.5 136.7,191.2 136.7,192.8 136.7,194.5 136.7,196.1 136.7,197.8 136.7,199.4 136.7,201.1 136.7,202.7 136.7,204.0 135.1,204.2 133.9,204.4 131.8,204.8 130.1,205.2 128.5,205.6 126.8,206.1 125.2,206.4 123.5,206.7 121.8,206.7 120.2,206.5 118.5,206.3 117.2,206.1 115.2,205.7 113.6,205.4 111.9,204.9 110.2,204.4 108.6,203.8 106.9,203.3 105.3,202.7 103.6,202.2 102.0,201.7 100.5,201.1 98.7,200.1 97.0,198.9 95.4,197.8 93.7,196.7 92.7,196.1 90.4,194.8 88.7,193.9 87.1,192.8 85.4,191.6 83.8,190.5 82.1,189.6 80.4,188.8 78.8,188.1 77.1,187.4 75.5,186.7 74.2,186.2 72.2,185.3 70.5,184.8 68.8,184.4 67.2,184.1 65.5,183.9 63.9,183.6 62.2,183.4 60.6,183.0 58.9,182.4 57.3,181.8 57.3,179.6 57.3,177.9 57.3,176.3 57.3,174.6 57.3,172.9 57.3,171.3 57.3,169.6 57.3,168.0 57.3,166.3 57.3,164.7 57.3,163.0 57.3,161.3 57.3,159.7 57.3,158.0 57.3,156.4 57.3,154.7 57.3,153.1 57.3,151.4 57.3,149.8 58.9,149.8Z" fill="#63ff94" fill-rule="evenodd"/>
<path d="M58.9,149.8 60.6,149.8 62.2,149.8 63.9,149.8 65.5,149.8 67.2,149.8 68.8,149.8 70.5,149.8 72.2,149.8 73.8,149.8 75.5,149.8 77.1,149.8 78.8,149.8 80.4,149.8 82.1,149.8 83.8,149.8 85.4,149.8 87.1,149.8 88.7,149.8 90.4,149.8 92.0,149.8 93.7,149.8 95.3,149.8 97.0,149.8 98.7,149.8 100.3,149.8 102.0,149.8 103.6,149.8 105.3,149.8 106.9,149.8 108.6,149.8 110.2,149.8 111.9,149.8 113.6,149.8 115.2,149.8 116.9,149.8 118.5,149.8 120.2,149.8 121.8,149.8 123.5,149.8 125.2,149.8 126.8,149.8 128.5,149.8 130.1,149.8 131.8,149.8 133.4,149.8 135.1,149.8 136.7,149.8 136.7,151.4 136.7,153.1 136.7,154.7 136.7,156.4 136.7,158.0 136.7,159.7 136.7,161.3 136.7,163.0 136.7,164.7 136.7,166.3 136.7,168.0 136.7,169.6 136.7,171.3 136.7,172.9 136.7,174.6 136.7,176.3 136.7,177.9 136.7,179.6 136.7,181.2 136.7,182.9 136.7,184.5 136.7,186.2 136.7,187.8 136.7,189.5 136.7,191.2 136.7,192.8 136.7,194.5 136.7,196.1 136.7,197.8 136.7,199.4 136.7,201.1 135.1,202.4 133.4,202.7 131.8,203.0 130.1,203.4 128.5,203.7 126.8,204.1 125.3,204.4 123.5,204.6 121.8,204.7 120.2,204.6 118.5,204.4 116.9,204.1 115.2,203.8 113.6,203.4 111.9,202.9 110.2,202.3 108.6,201.8 106.9,201.3 105.3,200.8 103.6,200.3 102.0,199.6 100.3,198.8 98.7,197.8 97.0,196.7 96.0,196.1 93.7,194.8 92.0,193.9 90.4,193.0 88.7,191.9 87.7,191.2 85.5,189.5 83.8,188.3 82.1,187.4 80.4,186.6 78.8,185.9 77.1,185.0 76.1,184.5 73.8,183.3 72.2,182.6 70.5,182.1 68.8,181.8 67.2,181.6 65.5,181.5 63.9,181.2 62.2,180.9 60.6,180.3 58.9,179.7 57.3,178.8 57.3,176.3 57.3,174.6 57.3,172.9 57.3,171.3 57.3,169.6 57.3,168.0 57.3,166.3 57.3,164.7 57.3,163.0 57.3,161.3 57.3,159.7 57.3,158.0 57.3,156.4 57.3,154.7 57.3,153.1 57.3,151.4 57.3,149.8 58.9,149.8Z" fill="#94ff63" fill-rule="evenodd"/>
<path d="M58.9,149.8 60.6,149.8 62.2,149.8 63.9,149.8 65.5,149.8 67.2,149.8 68.8,149.8 70.5,149.8 72.2,149.8 73.8,149.8 75.5,149.8 77.1,149.8 78.8,149.8 80.4,149.8 82.1,149.8 83.8,149.8 85.4,149.8 87.1,149.8 88.7,149.8 90.4,149.8 92.0,149.8 93.7,149.8 95.3,149.8 97.0,149.8 98.7,149.8 100.3,149.8 102.0,149.8 103.6,149.8 105.3,149.8 106.9,149.8 108.6,149.8 110.2,149.8 111.9,149.8 113.6,149.8 115.2,149.8 116.9,149.8 118.5,149.8 120.2,149.8 121.8,149.8 123.5,149.8 125.2,149.8 126.8,149.8 128.5,149.8 130.1,149.8 131.8,149.8 133.4,149.8 135.1,149.8 136.7,149.8 136.7,151.4 136.7,153.1 136.7,154.7 136.7,156.4 136.7,158.0 136.7,159.7 136.7,161.3 136.7,163.0 136.7,164.7 136.7,166.3 136.7,168.0 136.7,169.6 136.7,171.3 136.7,172.9 136.7,174.6 136.7,176.3 136.7,177.9 136.7,179.6 136.7,181.2 136.7,182.9 136.7,184.5 136.7,186.2 136.7,187.8 136.7,189.5 136.7,191.2 136.7,192.8 136.7,194.5 136.7,196.1 136.7,197.8 136.7,199.4 135.1,200.5 133.4,200.8 132.0,201.1 130.1,201.5 128.5,201.9 126.8,202.2 125.2,202.4 123.5,202.5 121.8,202.6 120.2,202.5 118.5,202.4 116.9,202.1 115.2,201.8 113.6,201.3 111.9,200.7 110.2,200.1 108.6,199.7 106.9,199.3 105.3,198.8 103.6,198.2 102.5,197.8 100.3,196.6 98.7,195.6 97.0,194.7 95.3,193.8 93.7,193.0 92.0,192.1 90.6,191.2 88.7,189.9 87.1,188.5 85.4,187.2 83.8,186.2 82.1,185.4 80.4,184.5 78.8,183.7 77.5,182.9 75.5,181.6 73.8,180.6 72.2,179.9 70.6,179.6 68.8,179.4 67.2,179.2 65.5,179.0 63.9,178.6 62.2,178.1 60.6,177.4 58.9,176.5 57.3,175.3 57.3,172.9 57.3,171.3 57.3,169.6 57.3,168.0 57.3,166.3 57.3,164.7 57.3,163.0 57.3,161.3 57.3,159.7 57.3,158.0 57.3,156.4 57.3,154.7 57.3,153.1 57.3,151.4 57.3,149.8 58.9,149.8Z" fill="#c1ff36" fill-rule="evenodd"/>
<path d="M58.9,149.8 60.6,149.8 62.2,149.8 63.9,149.8 65.5,149.8 67.2,149.8 68.8,149.8 70.5,149.8 72.2,149.8 73.8,149.8 75.5,149.8 77.1,149.8 78.8,149.8 80.4,149.8 82.1,149.8 83.8,149.8 85.4,149.8 87.1,149.8 88.7,149.8 90.4,149.8 92.0,149.8 93.7,149.8 95.3,149.8 97.0,149.8 98.7,149.8 100.3,149.8 102.0,149.8 103.6,149.8 105.3,149.8 106.9,149.8 108.6,149.8 110.2,149.8 111.9,149.8 113.6,149.8 115.2,149.8 116.9,149.8 118.5,149.8 120.2,149.8 121.8,149.8 123.5,149.8 125.2,149.8 126.8,149.8 128.5,149.8 130.1,149.8 131.8,149.8 133.4,149.8 135.1,149.8 136.7,149.8 136.7,151.4 136.7,153.1 136.7,154.7 136.7,156.4 136.7,158.0 136.7,159.7 136.7,161.3 136.7,163.0 136.7,164.7 136.7,166.3 136.7,168.0 136.7,169.6 136.7,171.3 136.7,172.9 136.7,174.6 136.7,176.3 136.7,177.9 136.7,179.6 136.7,181.2 136.7,182.9 136.7,184.5 136.7,186.2 136.7,187.8 136.7,189.5 136.7,191.2 136.7,192.8 136.7,194.5 136.7,196.1 136.7,197.8 135.1,198.8 133.4,199.0 131.8,199.4 130.1,199.8 128.5,200.1 126.8,200.3 125.2,200.5 123.5,200.5 121.8,200.6 120.2,200.6 118.5,200.5 116.9,200.2 115.2,199.8 114.1,199.4 111.9,198.7 110.2,198.2 108.7,197.8 106.9,197.4 105.3,196.9 103.6,196.3 102.0,195.6 100.3,194.6 98.7,193.7 97.0,192.8 95.3,192.1 93.7,191.2 92.0,190.3 90.8,189.5 88.7,187.9 87.1,186.5 85.4,185.3 84.1,184.5 82.1,183.5 80.9,182.9 78.8,181.6 77.1,180.5 75.9,179.6 73.8,178.2 72.2,177.7 70.5,177.4 68.8,177.2 67.2,176.9 65.5,176.6 63.9,176.0 62.2,175.1 60.6,173.9 59.5,172.9 58.0,171.3 57.3,170.3 57.3,168.0 57.3,166.3 57.3,164.7 57.3,163.0 57.3,161.3 57.3,159.7 57.3,158.0 57.3,156.4 57.3,154.7 57.3,153.1 57.3,151.4 57.3,149.8 58.9,149.8Z" fill="#eeff09" fill-rule="evenodd"/>
<path d="M58.9,149.8 60.6,149.8 62.2,149.8 63.9,149.8 65.5,149.8 67.2,149.8 68.8,149.8 70.5,149.8 72.2,149.8 73.8,149.8 75.5,149.8 77.1,149.8 78.8,149.8 80.4,149.8 82.1,149.8 83.8,149.8 85.4,149.8 87.1,149.8 88.7,149.8 90.4,149.8 92.0,149.8 93.7,149.8 95.3,149.8 97.0,149.8 98.7,149.8 100.3,149.8 102.0,149.8 103.6,149.8 105.3,149.8 106.9,149.8 108.6,149.8 110.2,149.8 111.9,149.8 113.6,149.8 115.2,149.8 116.9,149.8 118.5,149.8 120.2,149.8 121.8,149.8 123.5,149.8 125.2,149.8 126.8,149.8 128.5,149.8 130.1,149.8 131.8,149.8 133.4,149.8 135.1,149.8 136.7,149.8 136.7,151.4 136.7,153.1 136.7,154.7 136.7,156.4 136.7,158.0 136.7,159.7 136.7,161.3 136.7,163.0 136.7,164.7 136.7,166.3 136.7,168.0 136.7,169.6 136.7,171.3 136.7,172.9 136.7,174.6 136.7,176.3 136.7,177.9 136.7,179.6 136.7,181.2 136.7,182.9 136.7,184.5 136.7,186.2 136.7,187.8 136.7,189.5 136.7,191.2 136.7,192.8 136.7,194.5 136.7,196.1 135.1,197.1 133.4,197.4 131.8,197.7 130.1,198.1 128.5,198.4 126.8,198.6 125.2,198.7 123.5,198.8 121.8,198.8 120.2,198.8 118.5,198.7 116.9,198.4 115.2,198.0 113.6,197.5 111.9,197.0 110.2,196.5 108.9,196.1 106.9,195.6 105.3,195.1 103.6,194.5 102.0,193.7 100.3,192.9 98.7,192.0 97.0,191.2 95.3,190.4 93.7,189.6 92.0,188.6 91.0,187.8 88.8,186.2 87.1,184.8 85.4,183.6 84.1,182.9 82.1,181.7 80.4,180.8 78.8,179.7 77.1,178.5 75.5,177.4 73.8,176.5 72.2,175.9 70.5,175.6 68.8,175.2 67.2,174.7 65.5,173.9 64.0,172.9 62.4,171.3 61.3,169.6 60.6,168.3 59.7,166.3 59.0,164.7 58.2,163.0 57.3,161.3 57.3,159.7 57.3,158.0 57.3,156.4 57.3,154.7 57.3,153.1 57.3,151.4 57.3,149.8 58.9,149.8Z" fill="#ffcc00" fill-rule="evenodd"/>
<path d="M58.9,149.8 60.6,149.8 62.2,149.8 63.9,149.8 65.5,149.8 67.2,149.8 68.8,149.8 70.5,149.8 72.2,149.8 73.8,149.8 75.5,149.8 77.1,149.8 78.8,149.8 80.4,149.8 82.1,149.8 83.8,149.8 85.4,149.8 87.1,149.8 88.7,149.8 90.4,149.8 92.0,149.8 93.7,149.8 95.3,149.8 97.0,149.8 98.7,149.8 100.3,149.8 102.0,149.8 103.6,149.8 105.3,149.8 106.9,149.8 108.6,149.8 110.2,149.8 111.9,149.8 113.6,149.8 115.2,149.8 116.9,149.8 118.5,149.8 120.2,149.8 121.8,149.8 123.5,149.8 125.2,149.8 126.8,149.8 128.5,149.8 130.1,149.8 131.8,149.8 133.4,149.8 135.1,149.8 136.7,149.8 136.7,151.4 136.7,153.1 136.7,154.7 136.7,156.4 136.7,158.0 136.7,159.7 136.7,161.3 136.7,163.0 136.7,164.7 136.7,166.3 136.7,168.0 136.7,169.6 136.7,171.3 136.7,172.9 136.7,174.6 136.7,176.3 136.7,177.9 136.7,179.6 136.7,181.2 136.7,182.9 136.7,184.5 136.7,186.2 136.7,187.8 136.7,189.5 136.7,191.2 136.7,192.8 136.7,194.5 135.1,195.4 133.4,195.8 131.9,196.1 130.1,196.5 128.5,196.8 126.8,197.0 125.2,197.1 123.5,197.1 121.8,197.1 120.2,197.1 118.5,196.9 116.9,196.7 115.2,196.3 113.6,195.9 111.9,195.4 110.2,194.9 108.7,194.5 106.9,194.0 105.3,193.4 103.7,192.8 102.0,192.1 100.3,191.3 98.7,190.5 97.0,189.7 95.3,188.8 93.7,187.9 92.0,186.9 91.0,186.2 88.8,184.5 87.1,183.2 85.4,182.0 84.1,181.2 82.1,180.0 80.4,179.0 78.8,177.9 77.1,176.8 75.5,175.7 73.8,174.9 72.2,174.3 70.5,173.8 68.8,173.1 67.2,172.2 66.1,171.3 65.0,169.6 64.4,168.0 64.1,166.3 63.9,165.0 63.5,163.0 63.0,161.3 62.3,159.7 61.6,158.0 60.7,156.4 59.8,154.7 58.9,153.3 57.7,151.4 57.3,149.8 58.9,149.8Z" fill="#ff9400" fill-rule="evenodd"/>
<path d="M63.9,149.8 65.5,149.8 67.2,149.8 68.8,149.8 70.5,149.8 72.2,149.8 73.8,149.8 75.5,149.8 77.1,149.8 78.8,149.8 80.4,149.8 82.1,149.8 83.8,149.8 85.4,149.8 87.1,149.8 88.7,149.8 90.4,149.8 92.0,149.8 93.7,149.8 95.3,149.8 97.0,149.8 98.7,149.8 100.3,149.8 102.0,149.8 103.6,149.8 105.3,149.8 106.9,149.8 108.6,149.8 110.2,149.8 111.9,149.8 113.6,149.8 115.2,149.8 116.9,149.8 118.5,149.8 120.2,149.8 121.8,149.8 123.5,149.8 125.2,149.8 126.8,149.8 128.5,149.8 130.1,149.8 131.8,149.8 133.4,149.8 135.1,149.8 136.7,149.8 136.7,151.4 136.7,153.1 136.7,154.7 136.7,156.4 136.7,158.0 136.7,159.7 136.7,161.3 136.7,163.0 136.7,164.7 136.7,166.3 136.7,168.0 136.7,169.6 136.7,171.3 136.7,172.9 136.7,174.6 136.7,176.3 136.7,177.9 136.7,179.6 136.7,181.2 136.7,182.9 136.7,184.5 136.7,186.2 136.7,187.8 136.7,189.5 136.7,191.2 136.7,192.8 135.1,193.7 133.4,194.1 132.0,194.5 130.1,194.9 128.5,195.1 126.8,195.3 125.2,195.4 123.5,195.5 121.8,195.4 120.2,195.3 118.5,195.2 116.9,195.0 115.2,194.7 113.6,194.3 111.9,193.8 110.2,193.3 108.7,192.8 106.9,192.3 105.3,191.7 103.7,191.2 102.0,190.5 100.3,189.7 98.7,188.9 97.0,188.1 95.3,187.2 93.7,186.3 92.0,185.3 90.9,184.5 88.7,182.9 87.1,181.6 85.4,180.3 84.2,179.6 82.1,178.3 80.4,177.3 78.8,176.3 77.1,175.1 75.5,174.1 73.8,173.3 72.2,172.6 70.5,171.9 69.5,171.3 67.9,169.6 67.3,168.0 67.4,166.3 67.6,164.7 67.6,163.0 67.4,161.3 67.0,159.7 66.5,158.0 66.0,156.4 65.5,154.9 64.8,153.1 64.1,151.4 63.3,149.8Z" fill="#ff6000" fill-rule="evenodd"/>
<path d="M70.5,149.8 72.2,149.8 73.8,149.8 75.5,149.8 77.1,149.8 78.8,149.8 80.4,149.8 82.1,149.8 83.8,149.8 85.4,149.8 87.1,149.8 88.7,149.8 90.4,149.8 92.0,149.8 93.7,149.8 95.3,149.8 97.0,149.8 98.7,149.8 100.3,149.8 102.0,149.8 103.6,149.8 105.3,149.8 106.9,149.8 108.6,149.8 110.2,149.8 111.9,149.8 113.6,149.8 115.2,149.8 116.9,149.8 118.5,149.8 120.2,149.8 121.8,149.8 123.5,149.8 125.2,149.8 126.8,149.8 128.5,149.8 130.1,149.8 131.8,149.8 133.4,149.8 135.1,149.8 136.7,149.8 136.7,151.4 136.7,153.1 136.7,154.7 136.7,156.4 136.7,158.0 136.7,159.7 136.7,161.3 136.7,163.0 136.7,164.7 136.7,166.3 136.7,168.0 136.7,169.6 136.7,171.3 136.7,172.9 136.7,174.6 136.7,176.3 136.7,177.9 136.7,179.6 136.7,181.2 136.7,182.9 136.7,184.5 136.7,186.2 136.7,187.8 136.7,189.5 136.7,191.0 135.1,191.7 133.4,192.3 131.8,192.8 130.1,193.1 128.5,193.4 126.8,193.6 125.2,193.7 123.5,193.7 121.8,193.6 120.2,193.5 118.5,193.4 116.9,193.2 115.2,193.0 113.6,192.7 111.9,192.1 110.2,191.5 109.1,191.2 106.9,190.5 105.3,189.9 103.8,189.5 102.0,188.8 100.3,188.1 98.7,187.2 97.0,186.3 95.3,185.4 93.7,184.6 92.0,183.6 90.8,182.9 88.8,181.2 87.1,179.7 85.4,178.4 83.8,177.3 82.1,176.4 80.4,175.5 79.0,174.6 77.1,173.3 75.5,172.3 73.8,171.5 72.2,170.6 70.6,169.6 69.6,168.0 69.6,166.3 70.1,164.7 70.4,163.0 70.5,161.6 70.5,159.7 70.5,158.0 70.3,156.4 70.2,154.7 69.9,153.1 69.6,151.4 69.2,149.8 70.5,149.8Z" fill="#ff2d00" fill-rule="evenodd"/>
<path d="M75.5,149.8 77.1,149.8 78.8,149.8 80.4,149.8 82.1,149.8 83.8,149.8 85.4,149.8 87.1,149.8 88.7,149.8 90.4,149.8 92.0,149.8 93.7,149.8 95.3,149.8 97.0,149.8 98.7,149.8 100.3,149.8 102.0,149.8 103.6,149.8 105.3,149.8 106.9,149.8 108.6,149.8 110.2,149.8 111.9,149.8 113.6,149.8 115.2,149.8 116.9,149.8 118.5,149.8 120.2,149.8 121.8,149.8 123.5,149.8 125.2,149.8 126.8,149.8 128.5,149.8 130.1,149.8 131.8,149.8 133.4,149.8 135.1,149.8 136.7,149.8 136.7,151.4 136.7,153.1 136.7,154.7 136.7,156.4 136.7,158.0 136.7,159.7 136.7,161.3 136.7,163.0 136.7,164.7 136.7,166.3 136.7,168.0 136.7,169.6 136.7,171.3 136.7,172.9 136.7,174.6 136.7,176.3 136.7,177.9 136.7,179.6 136.7,181.2 136.7,182.9 136.7,184.5 136.7,186.2 136.7,187.8 135.1,189.1 133.4,190.0 131.8,190.5 130.1,191.0 128.5,191.3 126.8,191.6 125.2,191.6 123.5,191.6 121.8,191.5 120.2,191.4 118.5,191.3 116.9,191.2 115.2,191.0 113.6,190.6 111.9,190.0 110.3,189.5 108.6,188.9 106.9,188.4 105.3,187.9 103.6,187.4 102.0,186.9 100.6,186.2 98.7,185.1 97.5,184.5 95.3,183.4 94.3,182.9 92.0,181.7 90.4,180.4 89.5,179.6 88.7,178.7 87.8,177.9 85.7,176.3 83.8,175.0 82.1,174.1 80.4,173.3 78.8,172.0 77.7,171.3 75.5,169.9 73.8,168.8 72.7,168.0 72.2,166.3 72.7,164.7 73.2,163.0 73.7,161.3 74.0,159.7 74.4,158.0 74.6,156.4 74.8,154.7 75.0,153.1 75.0,151.4 75.0,149.8Z" fill="#df0000" fill-rule="evenodd"/>
<path d="M83.8,149.8 85.4,149.8 87.1,149.8 88.7,149.8 90.4,149.8 92.0,149.8 93.7,149.8 95.3,149.8 97.0,149.8 98.7,149.8 100.3,149.8 102.0,149.8 103.6,149.8 105.3,149.8 106.9,149.8 108.6,149.8 110.2,149.8 111.9,149.8 113.6,149.8 115.2,149.8 116.9,149.8 118.5,149.8 120.2,149.8 121.8,149.8 123.5,149.8 125.2,149.8 126.8,149.8 128.5,149.8 130.1,149.8 131.8,149.8 133.4,149.8 135.1,149.8 136.7,149.8 136.7,151.4 136.7,153.1 136.7,154.7 136.7,156.4 136.7,158.0 136.7,159.7 136.7,161.3 136.7,163.0 136.7,164.7 136.7,166.3 136.7,168.0 136.7,169.6 136.7,171.3 136.7,172.9 136.7,174.6 136.7,176.3 136.7,177.9 136.7,179.6 136.7,181.2 136.7,182.9 135.2,184.5 133.4,186.0 131.8,187.0 130.1,187.8 128.5,188.2 126.8,188.5 125.2,188.7 123.5,188.7 121.8,188.6 120.2,188.4 118.5,188.3 116.9,188.2 115.2,188.0 113.6,187.7 111.9,187.2 110.2,186.7 108.6,186.2 106.9,185.7 105.3,185.2 103.6,184.7 102.0,184.0 100.3,183.3 98.7,182.4 97.0,181.6 95.3,180.7 93.7,179.7 92.0,178.4 90.4,176.8 88.7,175.1 87.1,173.5 85.4,172.3 83.8,171.3 82.1,170.2 80.4,169.0 79.2,168.0 78.0,166.3 77.7,164.7 78.0,163.0 78.6,161.3 79.3,159.7 80.1,158.0 80.8,156.4 81.4,154.7 81.9,153.1 82.4,151.4 82.8,149.8Z" fill="#9f0000" fill-rule="evenodd"/>
<path d="M136.7,215.5 135.1,215.5 133.4,215.5 131.8,215.5 130.1,215.5 128.5,215.5 126.8,215.5 125.2,215.4 123.5,215.4 121.8,215.4 120.2,215.5 118.5,215.6 116.9,215.5 115.2,215.4 113.6,215.2 111.9,214.9 110.2,214.6 108.6,214.4 106.9,214.2 105.3,213.8 103.6,213.1 102.0,212.3 100.3,211.4 98.7,210.5 97.0,209.6 95.3,208.9 93.7,208.0 92.0,207.0 90.6,206.1 88.7,204.8 87.1,203.8 85.4,202.9 83.8,202.3 82.1,201.7 80.4,201.1 78.8,200.5 77.1,199.9 76.0,199.4 73.8,198.6 72.2,198.2 70.7,197.8 68.8,197.3 67.2,196.9 65.5,196.4 63.9,195.9 62.2,195.5 60.6,195.2 58.9,195.2 57.3,195.1" fill="none" stroke="#000" stroke-opacity="0.4" stroke-width="0.35"/>
<path d="M136.7,208.9 135.1,209.1 133.4,209.3 131.8,209.5 130.1,209.8 128.5,210.2 126.8,210.5 125.2,210.8 123.5,211.0 121.8,210.9 120.2,210.8 118.5,210.5 116.9,210.3 115.2,210.1 113.6,209.8 111.9,209.5 110.2,209.2 108.6,208.7 106.9,208.1 105.9,207.7 103.6,206.8 102.0,206.2 100.3,205.6 98.7,205.0 97.4,204.4 95.3,203.0 93.7,201.8 92.7,201.1 90.4,199.5 88.7,198.6 87.1,197.8 85.4,196.9 83.9,196.1 82.1,195.1 80.8,194.5 78.8,193.6 77.1,193.0 75.5,192.5 73.8,192.0 72.2,191.5 71.1,191.2 68.8,190.4 67.2,189.9 65.5,189.5 63.9,189.2 62.2,189.0 60.6,188.7 58.9,188.4 57.3,188.1" fill="none" stroke="#000" stroke-opacity="0.4" stroke-width="0.35"/>
<path d="M136.7,202.1 135.1,202.4 133.4,202.7 131.8,203.0 130.1,203.4 128.5,203.7 126.8,204.1 125.3,204.4 123.5,204.6 121.8,204.7 120.2,204.6 118.5,204.4 116.9,204.1 115.2,203.8 113.6,203.4 111.9,202.9 110.2,202.3 108.6,201.8 106.9,201.3 105.3,200.8 103.6,200.3 102.0,199.6 100.3,198.8 98.7,197.8 97.0,196.7 96.0,196.1 93.7,194.8 92.0,193.9 90.4,193.0 88.7,191.9 87.7,191.2 85.5,189.5 83.8,188.3 82.1,187.4 80.4,186.6 79.5,186.2 77.1,185.0 76.1,184.5 73.8,183.3 72.9,182.9 70.5,182.1 68.8,181.8 67.2,181.6 65.5,181.5 63.9,181.2 62.2,180.9 60.6,180.3 58.9,179.7 57.3,178.8" fill="none" stroke="#000" stroke-opacity="0.4" stroke-width="0.35"/>
<path d="M136.7,195.7 135.1,196.1 133.4,196.4 131.8,196.8 130.1,197.1 128.5,197.4 126.8,197.6 125.2,197.7 123.5,197.8 121.8,197.8 120.2,197.7 118.5,197.6 116.9,197.4 115.2,197.0 113.6,196.5 112.3,196.1 110.2,195.5 108.6,195.1 106.9,194.6 105.3,194.1 103.6,193.5 102.2,192.8 100.3,191.9 98.8,191.2 97.0,190.3 95.4,189.5 93.7,188.6 92.5,187.8 90.4,186.4 88.7,185.1 87.1,183.8 85.7,182.9 83.8,181.7 82.1,180.7 80.4,179.7 78.8,178.6 77.8,177.9 75.5,176.4 73.8,175.5 72.2,175.0 70.8,174.6 68.8,174.0 67.2,173.2 65.5,172.1 64.7,171.3 63.9,170.0 62.9,168.0 62.4,166.3 62.0,164.7 61.5,163.0 60.8,161.3 60.1,159.7 59.2,158.0 58.2,156.4 57.3,154.9" fill="none" stroke="#000" stroke-opacity="0.4" stroke-width="0.35"/>
<path d="M136.7,188.6 135.3,189.5 133.4,190.4 131.8,191.0 130.1,191.4 128.5,191.7 126.8,191.9 125.2,192.0 123.5,191.9 121.8,191.8 120.2,191.7 118.5,191.6 116.9,191.5 115.2,191.4 114.1,191.2 111.9,190.4 110.2,189.8 109.2,189.5 106.9,188.7 105.3,188.3 103.7,187.8 102.0,187.2 100.3,186.4 98.7,185.5 97.0,184.6 95.3,183.7 93.7,182.9 92.0,182.0 90.8,181.2 89.1,179.6 87.3,177.9 85.4,176.5 83.8,175.4 82.1,174.6 80.4,173.7 79.4,172.9 77.1,171.4 75.5,170.3 74.2,169.6 72.2,168.2 71.7,166.3 72.2,164.7 72.7,163.0 73.1,161.3 73.4,159.7 73.7,158.0 73.8,156.9 74.0,154.7 74.1,153.1 74.1,151.4 74.0,149.8" fill="none" stroke="#000" stroke-opacity="0.4" stroke-width="0.35"/>
</g>
<circle cx="97.0" cy="189.5" r="34.6" fill="none" stroke="#000" stroke-width="1"/>
<polyline points="91.8,155.5 97.0,149.5 102.2,155.5" fill="none" stroke="#000" stroke-width="1" stroke-linejoin="miter"/>
<path d="M62.7,181.3 Q58.9,179.0 58.9,183.5 L58.9,196.0 Q58.9,200.3 62.3,198.5" fill="none" stroke="#000" stroke-width="1.1"/>
<path d="M131.3,181.3 Q135.1,179.0 135.1,183.5 L135.1,196.0 Q135.1,200.3 131.7,198.5" fill="none" stroke="#000" stroke-width="1.1"/>
<circle cx="97.0" cy="155.3" r="0.95" fill="#000"/>
<circle cx="97.0" cy="170.7" r="0.95" fill="#000"/>
<circle cx="97.0" cy="188.8" r="0.95" fill="#000"/>
<circle cx="97.0" cy="207.0" r="0.95" fill="#000"/>
<circle cx="97.0" cy="215.0" r="0.95" fill="#000"/>
<circle cx="97.0" cy="222.7" r="0.95" fill="#000"/>
<circle cx="107.7" cy="155.9" r="0.95" fill="#000"/>
<circle cx="86.3" cy="155.9" r="0.95" fill="#000"/>
<circle cx="126.7" cy="167.3" r="0.95" fill="#000"/>
<circle cx="67.3" cy="167.3" r="0.95" fill="#000"/>
<circle cx="112.4" cy="170.7" r="0.95" fill="#000"/>
<circle cx="81.6" cy="170.7" r="0.95" fill="#000"/>
<circle cx="123.5" cy="179.1" r="0.95" fill="#000"/>
<circle cx="70.5" cy="179.1" r="0.95" fill="#000"/>
<circle cx="106.1" cy="179.1" r="0.95" fill="#000"/>
<circle cx="87.9" cy="179.1" r="0.95" fill="#000"/>
<circle cx="132.9" cy="188.8" r="0.95" fill="#000"/>
<circle cx="61.1" cy="188.8" r="0.95" fill="#000"/>
<circle cx="115.5" cy="188.8" r="0.95" fill="#000"/>
<circle cx="78.5" cy="188.8" r="0.95" fill="#000"/>
<circle cx="123.5" cy="197.9" r="0.95" fill="#000"/>
<circle cx="70.5" cy="197.9" r="0.95" fill="#000"/>
<circle cx="106.1" cy="197.9" r="0.95" fill="#000"/>
<circle cx="87.9" cy="197.9" r="0.95" fill="#000"/>
<circle cx="112.4" cy="207.0" r="0.95" fill="#000"/>
<circle cx="81.6" cy="207.0" r="0.95" fill="#000"/>
<circle cx="126.7" cy="210.3" r="0.95" fill="#000"/>
<circle cx="67.3" cy="210.3" r="0.95" fill="#000"/>
<circle cx="107.7" cy="222.1" r="0.95" fill="#000"/>
<circle cx="86.3" cy="222.1" r="0.95" fill="#000"/>
<clipPath id="clipB"><ellipse cx="208.20000000000002" cy="189.5" rx="37.099999999999994" ry="36.4"/></clipPath>
<g clip-path="url(#clipB)">
<rect x="170.4" y="151.7" width="75.6" height="75.6" fill="#00009f"/>
<path d="M170.1,149.8 171.8,149.8 173.4,149.8 175.1,149.8 176.7,149.8 178.4,149.8 180.0,149.8 181.7,149.8 183.4,149.8 185.0,149.8 186.7,149.8 188.3,149.8 190.0,149.8 191.6,149.8 193.3,149.8 195.0,149.8 196.6,149.8 198.3,149.8 199.9,149.8 201.6,149.8 203.2,149.8 204.9,149.8 206.5,149.8 208.2,149.8 209.9,149.8 211.5,149.8 213.2,149.8 214.8,149.8 216.5,149.8 218.1,149.8 219.8,149.8 221.4,149.8 223.1,149.8 224.8,149.8 226.4,149.8 228.1,149.8 229.7,149.8 231.4,149.8 233.0,149.8 234.7,149.8 236.4,149.8 238.0,149.8 239.7,149.8 241.3,149.8 243.0,149.8 244.6,149.8 246.3,149.8 247.9,149.8 247.9,151.4 247.9,153.1 247.9,154.7 247.9,156.4 247.9,158.0 247.9,159.7 247.9,161.3 247.9,163.0 247.9,164.7 247.9,166.3 247.9,168.0 247.9,169.6 247.9,171.3 247.9,172.9 247.9,174.6 247.9,176.3 247.9,177.9 247.9,179.6 247.9,181.2 247.9,182.9 247.9,184.5 246.3,185.8 244.6,186.8 243.4,187.8 241.7,189.5 240.1,191.2 238.3,192.8 236.4,194.3 234.7,195.6 233.0,197.3 231.4,198.8 230.4,199.4 228.1,200.8 226.4,201.5 224.8,202.3 223.1,203.2 221.7,204.4 220.0,206.1 218.1,207.5 216.5,208.5 214.8,209.2 213.2,209.8 211.5,210.5 209.9,211.5 208.2,212.4 206.5,213.1 204.9,213.7 203.2,214.2 201.6,214.9 199.9,215.8 198.3,216.9 196.7,217.7 195.0,218.2 193.3,218.5 191.6,218.5 190.0,218.6 188.3,218.8 186.7,219.0 185.0,218.9 183.4,218.6 181.7,218.0 180.5,217.7 178.4,217.1 176.7,216.9 175.1,216.8 173.4,216.9 171.8,216.9 170.1,217.0 168.5,217.1 168.5,216.0 168.5,214.3 168.5,212.7 168.5,211.0 168.5,209.4 168.5,207.7 168.5,206.1 168.5,204.4 168.5,202.7 168.5,201.1 168.5,199.4 168.5,197.8 168.5,196.1 168.5,194.5 168.5,192.8 168.5,191.2 168.5,189.5 168.5,187.8 168.5,186.2 168.5,184.5 168.5,182.9 168.5,181.2 168.5,179.6 168.5,177.9 168.5,176.3 168.5,174.6 168.5,172.9 168.5,171.3 168.5,169.6 168.5,168.0 168.5,166.3 168.5,164.7 168.5,163.0 168.5,161.3 168.5,159.7 168.5,158.0 168.5,156.4 168.5,154.7 168.5,153.1 168.5,151.4 168.5,149.8 170.1,149.8Z" fill="#0000df" fill-rule="evenodd"/>
<path d="M170.1,149.8 171.8,149.8 173.4,149.8 175.1,149.8 176.7,149.8 178.4,149.8 180.0,149.8 181.7,149.8 183.4,149.8 185.0,149.8 186.7,149.8 188.3,149.8 190.0,149.8 191.6,149.8 193.3,149.8 195.0,149.8 196.6,149.8 198.3,149.8 199.9,149.8 201.6,149.8 203.2,149.8 204.9,149.8 206.5,149.8 208.2,149.8 209.9,149.8 211.5,149.8 213.2,149.8 214.8,149.8 216.5,149.8 218.1,149.8 219.8,149.8 221.4,149.8 223.1,149.8 224.8,149.8 226.4,149.8 228.1,149.8 229.7,149.8 231.4,149.8 233.0,149.8 234.7,149.8 236.4,149.8 238.0,149.8 239.7,149.8 241.3,149.8 243.0,149.8 244.6,149.8 246.3,149.8 247.9,149.8 247.9,151.4 247.9,153.1 247.9,154.7 247.9,156.4 247.9,158.0 247.9,159.7 247.9,161.3 247.9,163.0 247.9,164.7 247.9,166.3 247.9,168.0 247.9,169.6 247.9,171.3 247.9,172.9 247.9,174.6 247.9,176.3 247.9,177.9 247.9,179.6 247.9,181.2 247.9,182.8 246.3,183.8 245.0,184.5 243.0,185.9 241.3,187.4 239.7,189.1 238.0,190.6 236.4,191.9 234.9,192.8 233.0,194.3 231.4,196.0 229.7,197.4 228.1,198.6 226.5,199.4 224.8,200.3 223.1,201.1 221.4,202.3 219.8,203.9 218.1,205.2 216.8,206.1 214.8,207.2 213.3,207.7 211.5,208.5 209.9,209.3 208.2,210.3 206.6,211.0 204.9,211.7 203.2,212.2 201.6,212.6 199.9,213.5 198.3,214.3 196.6,215.1 195.0,215.6 193.3,215.8 191.6,215.8 190.0,215.8 188.3,216.0 186.7,216.3 185.0,216.4 183.4,216.2 181.7,215.8 180.0,215.3 178.4,214.9 176.7,214.8 175.1,214.7 173.4,214.7 171.8,214.8 170.1,214.8 168.5,214.9 168.5,212.7 168.5,211.0 168.5,209.4 168.5,207.7 168.5,206.1 168.5,204.4 168.5,202.7 168.5,201.1 168.5,199.4 168.5,197.8 168.5,196.1 168.5,194.5 168.5,192.8 168.5,191.2 168.5,189.5 168.5,187.8 168.5,186.2 168.5,184.5 168.5,182.9 168.5,181.2 168.5,179.6 168.5,177.9 168.5,176.3 168.5,174.6 168.5,172.9 168.5,171.3 168.5,169.6 168.5,168.0 168.5,166.3 168.5,164.7 168.5,163.0 168.5,161.3 168.5,159.7 168.5,158.0 168.5,156.4 168.5,154.7 168.5,153.1 168.5,151.4 168.5,149.8 170.1,149.8Z" fill="#000dff" fill-rule="evenodd"/>
<path d="M170.1,149.8 171.8,149.8 173.4,149.8 175.1,149.8 176.7,149.8 178.4,149.8 180.0,149.8 181.7,149.8 183.4,149.8 185.0,149.8 186.7,149.8 188.3,149.8 190.0,149.8 191.6,149.8 193.3,149.8 195.0,149.8 196.6,149.8 198.3,149.8 199.9,149.8 201.6,149.8 203.2,149.8 204.9,149.8 206.5,149.8 208.2,149.8 209.9,149.8 211.5,149.8 213.2,149.8 214.8,149.8 216.5,149.8 218.1,149.8 219.8,149.8 221.4,149.8 223.1,149.8 224.8,149.8 226.4,149.8 228.1,149.8 229.7,149.8 231.4,149.8 233.0,149.8 234.7,149.8 236.4,149.8 238.0,149.8 239.7,149.8 241.3,149.8 243.0,149.8 244.6,149.8 246.3,149.8 247.9,149.8 247.9,151.4 247.9,153.1 247.9,154.7 247.9,156.4 247.9,158.0 247.9,159.7 247.9,161.3 247.9,163.0 247.9,164.7 247.9,166.3 247.9,168.0 247.9,169.6 247.9,171.3 247.9,172.9 247.9,174.6 247.9,176.3 247.9,177.9 247.9,179.6 247.9,181.0 246.3,182.0 244.9,182.9 243.0,184.2 241.3,185.6 239.7,187.2 238.0,188.8 236.4,190.2 235.0,191.2 233.0,192.5 231.4,194.1 229.7,195.6 228.1,196.9 226.7,197.8 224.8,198.9 223.6,199.4 221.4,200.8 219.8,202.1 218.1,203.5 216.9,204.4 214.8,205.6 213.2,206.4 211.5,207.1 210.2,207.7 208.2,208.8 207.0,209.4 204.9,210.2 203.2,210.8 201.6,211.3 199.9,211.9 198.3,212.7 196.6,213.4 195.0,213.8 193.3,214.0 191.6,214.0 190.0,214.0 188.3,214.2 186.7,214.4 185.0,214.5 183.4,214.4 181.7,214.0 180.0,213.6 178.4,213.2 176.7,213.0 175.1,213.0 173.4,212.9 171.8,212.9 170.1,212.9 168.5,212.9 168.5,211.0 168.5,209.4 168.5,207.7 168.5,206.1 168.5,204.4 168.5,202.7 168.5,201.1 168.5,199.4 168.5,197.8 168.5,196.1 168.5,194.5 168.5,192.8 168.5,191.2 168.5,189.5 168.5,187.8 168.5,186.2 168.5,184.5 168.5,182.9 168.5,181.2 168.5,179.6 168.5,177.9 168.5,176.3 168.5,174.6 168.5,172.9 168.5,171.3 168.5,169.6 168.5,168.0 168.5,166.3 168.5,164.7 168.5,163.0 168.5,161.3 168.5,159.7 168.5,158.0 168.5,156.4 168.5,154.7 168.5,153.1 168.5,151.4 168.5,149.8 170.1,149.8Z" fill="#0044ff" fill-rule="evenodd"/>
<path d="M170.1,149.8 171.8,149.8 173.4,149.8 175.1,149.8 176.7,149.8 178.4,149.8 180.0,149.8 181.7,149.8 183.4,149.8 185.0,149.8 186.7,149.8 188.3,149.8 190.0,149.8 191.6,149.8 193.3,149.8 195.0,149.8 196.6,149.8 198.3,149.8 199.9,149.8 201.6,149.8 203.2,149.8 204.9,149.8 206.5,149.8 208.2,149.8 209.9,149.8 211.5,149.8 213.2,149.8 214.8,149.8 216.5,149.8 218.1,149.8 219.8,149.8 221.4,149.8 223.1,149.8 224.8,149.8 226.4,149.8 228.1,149.8 229.7,149.8 231.4,149.8 233.0,149.8 234.7,149.8 236.4,149.8 238.0,149.8 239.7,149.8 241.3,149.8 243.0,149.8 244.6,149.8 246.3,149.8 247.9,149.8 247.9,151.4 247.9,153.1 247.9,154.7 247.9,156.4 247.9,158.0 247.9,159.7 247.9,161.3 247.9,163.0 247.9,164.7 247.9,166.3 247.9,168.0 247.9,169.6 247.9,171.3 247.9,172.9 247.9,174.6 247.9,176.3 247.9,177.9 247.9,179.1 246.3,180.3 245.0,181.2 243.0,182.7 241.3,184.0 239.7,185.6 238.0,187.2 236.4,188.7 235.4,189.5 233.2,191.2 231.4,192.6 229.7,194.1 228.1,195.4 227.1,196.1 224.8,197.6 223.1,198.5 221.6,199.4 219.8,200.8 218.1,202.1 217.2,202.7 214.8,204.3 213.2,205.2 211.5,206.0 209.9,206.8 208.2,207.6 206.5,208.4 204.9,209.0 203.7,209.4 201.6,210.1 199.9,210.7 198.3,211.5 196.6,212.1 195.0,212.4 193.3,212.6 191.6,212.6 190.0,212.7 188.3,212.8 186.7,213.0 185.0,213.1 183.4,212.9 181.7,212.5 180.0,212.1 178.4,211.8 176.7,211.5 175.1,211.4 173.4,211.3 171.8,211.2 170.1,211.1 169.0,211.0 168.5,209.4 168.5,207.7 168.5,206.1 168.5,204.4 168.5,202.7 168.5,201.1 168.5,199.4 168.5,197.8 168.5,196.1 168.5,194.5 168.5,192.8 168.5,191.2 168.5,189.5 168.5,187.8 168.5,186.2 168.5,184.5 168.5,182.9 168.5,181.2 168.5,179.6 168.5,177.9 168.5,176.3 168.5,174.6 168.5,172.9 168.5,171.3 168.5,169.6 168.5,168.0 168.5,166.3 168.5,164.7 168.5,163.0 168.5,161.3 168.5,159.7 168.5,158.0 168.5,156.4 168.5,154.7 168.5,153.1 168.5,151.4 168.5,149.8 170.1,149.8Z" fill="#0081ff" fill-rule="evenodd"/>
<path d="M170.1,149.8 171.8,149.8 173.4,149.8 175.1,149.8 176.7,149.8 178.4,149.8 180.0,149.8 181.7,149.8 183.4,149.8 185.0,149.8 186.7,149.8 188.3,149.8 190.0,149.8 191.6,149.8 193.3,149.8 195.0,149.8 196.6,149.8 198.3,149.8 199.9,149.8 201.6,149.8 203.2,149.8 204.9,149.8 206.5,149.8 208.2,149.8 209.9,149.8 211.5,149.8 213.2,149.8 214.8,149.8 216.5,149.8 218.1,149.8 219.8,149.8 221.4,149.8 223.1,149.8 224.8,149.8 226.4,149.8 228.1,149.8 229.7,149.8 231.4,149.8 233.0,149.8 234.7,149.8 236.4,149.8 238.0,149.8 239.7,149.8 241.3,149.8 243.0,149.8 244.6,149.8 246.3,149.8 247.9,149.8 247.9,151.4 247.9,153.1 247.9,154.7 247.9,156.4 247.9,158.0 247.9,159.7 247.9,161.3 247.9,163.0 247.9,164.7 247.9,166.3 247.9,168.0 247.9,169.6 247.9,171.3 247.9,172.9 247.9,174.6 247.9,176.3 247.2,177.9 246.3,178.6 245.2,179.6 243.1,181.2 241.3,182.6 239.7,184.2 238.0,185.8 236.4,187.4 234.7,188.8 233.8,189.5 231.7,191.2 229.7,192.7 228.1,194.1 226.4,195.3 225.2,196.1 223.1,197.4 221.4,198.5 220.0,199.4 218.1,200.8 216.5,202.0 215.4,202.7 213.2,204.1 211.5,205.0 209.9,205.8 208.2,206.5 206.5,207.2 205.3,207.7 203.2,208.4 201.6,209.0 199.9,209.6 198.3,210.4 196.6,210.9 195.0,211.2 193.3,211.4 191.6,211.4 190.0,211.5 188.3,211.6 186.7,211.7 185.0,211.8 183.4,211.6 181.7,211.2 180.0,210.8 178.4,210.4 176.7,210.1 175.1,209.9 173.4,209.7 171.8,209.5 170.1,209.4 168.5,209.2 168.5,207.7 168.5,206.1 168.5,204.4 168.5,202.7 168.5,201.1 168.5,199.4 168.5,197.8 168.5,196.1 168.5,194.5 168.5,192.8 168.5,191.2 168.5,189.5 168.5,187.8 168.5,186.2 168.5,184.5 168.5,182.9 168.5,181.2 168.5,179.6 168.5,177.9 168.5,176.3 168.5,174.6 168.5,172.9 168.5,171.3 168.5,169.6 168.5,168.0 168.5,166.3 168.5,164.7 168.5,163.0 168.5,161.3 168.5,159.7 168.5,158.0 168.5,156.4 168.5,154.7 168.5,153.1 168.5,151.4 168.5,149.8 170.1,149.8Z" fill="#00b9ff" fill-rule="evenodd"/>
<path d="M170.1,149.8 171.8,149.8 173.4,149.8 175.1,149.8 176.7,149.8 178.4,149.8 180.0,149.8 181.7,149.8 183.4,149.8 185.0,149.8 186.7,149.8 188.3,149.8 190.0,149.8 191.6,149.8 193.3,149.8 195.0,149.8 196.6,149.8 198.3,149.8 199.9,149.8 201.6,149.8 203.2,149.8 204.9,149.8 206.5,149.8 208.2,149.8 209.9,149.8 211.5,149.8 213.2,149.8 214.8,149.8 216.5,149.8 218.1,149.8 219.8,149.8 221.4,149.8 223.1,149.8 224.8,149.8 226.4,149.8 228.1,149.8 229.7,149.8 231.4,149.8 233.0,149.8 234.7,149.8 236.4,149.8 238.0,149.8 239.7,149.8 241.3,149.8 243.0,149.8 244.6,149.8 246.3,149.8 247.9,149.8 247.9,151.4 247.9,153.1 247.9,154.7 247.9,156.4 247.9,158.0 247.9,159.7 247.9,161.3 247.9,163.0 247.9,164.7 247.9,166.3 247.9,168.0 247.9,169.6 247.9,171.3 247.9,172.9 247.9,174.6 247.0,176.3 245.2,177.9 243.3,179.6 241.4,181.2 239.7,182.8 238.0,184.4 236.4,186.0 234.7,187.5 233.0,188.9 231.4,190.3 230.3,191.2 228.2,192.8 226.4,194.1 224.8,195.3 223.5,196.1 221.4,197.4 219.8,198.6 218.5,199.4 216.5,200.9 214.8,202.0 213.6,202.7 211.5,203.9 209.9,204.8 208.2,205.5 206.9,206.1 204.9,206.8 203.2,207.4 201.6,208.0 199.9,208.6 198.3,209.3 196.6,209.8 195.0,210.0 193.3,210.1 191.6,210.2 190.0,210.3 188.3,210.4 186.7,210.5 185.0,210.5 183.4,210.2 181.7,209.8 180.0,209.4 178.4,209.0 176.7,208.7 175.1,208.5 173.4,208.2 171.8,207.9 170.2,207.7 168.5,207.5 168.5,206.1 168.5,204.4 168.5,202.7 168.5,201.1 168.5,199.4 168.5,197.8 168.5,196.1 168.5,194.5 168.5,192.8 168.5,191.2 168.5,189.5 168.5,187.8 168.5,186.2 168.5,184.5 168.5,182.9 168.5,181.2 168.5,179.6 168.5,177.9 168.5,176.3 168.5,174.6 168.5,172.9 168.5,171.3 168.5,169.6 168.5,168.0 168.5,166.3 168.5,164.7 168.5,163.0 168.5,161.3 168.5,159.7 168.5,158.0 168.5,156.4 168.5,154.7 168.5,153.1 168.5,151.4 168.5,149.8 170.1,149.8Z" fill="#09f1ee" fill-rule="evenodd"/>
<path d="M170.1,149.8 171.8,149.8 173.4,149.8 175.1,149.8 176.7,149.8 178.4,149.8 180.0,149.8 181.7,149.8 183.4,149.8 185.0,149.8 186.7,149.8 188.3,149.8 190.0,149.8 191.6,149.8 193.3,149.8 195.0,149.8 196.6,149.8 198.3,149.8 199.9,149.8 201.6,149.8 203.2,149.8 204.9,149.8 206.5,149.8 208.2,149.8 209.9,149.8 211.5,149.8 213.2,149.8 214.8,149.8 216.5,149.8 218.1,149.8 219.8,149.8 221.4,149.8 223.1,149.8 224.8,149.8 226.4,149.8 228.1,149.8 229.7,149.8 231.4,149.8 233.0,149.8 234.7,149.8 236.4,149.8 238.0,149.8 239.7,149.8 241.3,149.8 243.0,149.8 244.6,149.8 246.3,149.8 247.9,149.8 247.9,151.4 247.9,153.1 247.9,154.7 247.9,156.4 247.9,158.0 247.9,159.7 247.9,161.3 247.9,163.0 247.9,164.7 247.9,166.3 247.9,168.0 247.9,169.6 247.9,171.3 247.9,172.9 246.6,174.6 245.1,176.3 243.4,177.9 241.7,179.6 240.0,181.2 238.3,182.9 236.6,184.5 234.8,186.2 233.0,187.8 231.4,189.2 229.7,190.5 228.1,191.8 226.6,192.8 224.8,194.1 223.1,195.3 221.9,196.1 219.8,197.5 218.1,198.7 217.0,199.4 214.8,200.9 213.2,201.9 211.8,202.7 209.9,203.8 208.6,204.4 206.5,205.2 204.9,205.8 203.2,206.4 201.6,206.9 199.9,207.5 198.3,208.1 196.6,208.6 195.0,208.8 193.3,208.9 191.6,209.0 190.0,209.0 188.3,209.1 186.7,209.2 185.0,209.2 183.4,208.9 181.7,208.5 180.0,208.1 178.5,207.7 176.7,207.3 175.1,207.0 173.4,206.7 171.8,206.4 170.2,206.1 168.5,205.7 168.5,204.4 168.5,202.7 168.5,201.1 168.5,199.4 168.5,197.8 168.5,196.1 168.5,194.5 168.5,192.8 168.5,191.2 168.5,189.5 168.5,187.8 168.5,186.2 168.5,184.5 168.5,182.9 168.5,181.2 168.5,179.6 168.5,177.9 168.5,176.3 168.5,174.6 168.5,172.9 168.5,171.3 168.5,169.6 168.5,168.0 168.5,166.3 168.5,164.7 168.5,163.0 168.5,161.3 168.5,159.7 168.5,158.0 168.5,156.4 168.5,154.7 168.5,153.1 168.5,151.4 168.5,149.8 170.1,149.8Z" fill="#36ffc1" fill-rule="evenodd"/>
<path d="M170.1,149.8 171.8,149.8 173.4,149.8 175.1,149.8 176.7,149.8 178.4,149.8 180.0,149.8 181.7,149.8 183.4,149.8 185.0,149.8 186.7,149.8 188.3,149.8 190.0,149.8 191.6,149.8 193.3,149.8 195.0,149.8 196.6,149.8 198.3,149.8 199.9,149.8 201.6,149.8 203.2,149.8 204.9,149.8 206.5,149.8 208.2,149.8 209.9,149.8 211.5,149.8 213.2,149.8 214.8,149.8 216.5,149.8 218.1,149.8 219.8,149.8 221.4,149.8 223.1,149.8 224.8,149.8 226.4,149.8 228.1,149.8 229.7,149.8 231.4,149.8 233.0,149.8 234.7,149.8 236.4,149.8 238.0,149.8 239.7,149.8 241.3,149.8 243.0,149.8 244.6,149.8 246.3,149.8 247.9,149.8 247.9,151.4 247.9,153.1 247.9,154.7 247.9,156.4 247.9,158.0 247.9,159.7 247.9,161.3 247.9,163.0 247.9,164.7 247.9,166.3 247.9,168.0 247.9,169.6 247.1,171.3 246.3,172.5 244.7,174.6 243.3,176.3 241.8,177.9 240.3,179.6 238.7,181.2 237.0,182.9 235.2,184.5 233.5,186.2 231.7,187.8 229.7,189.5 228.1,190.7 226.4,191.9 225.1,192.8 223.1,194.2 221.4,195.3 220.4,196.1 218.1,197.6 216.5,198.7 215.4,199.4 213.2,200.8 211.5,201.9 210.0,202.7 208.2,203.6 206.5,204.3 204.9,204.8 203.2,205.3 201.6,205.8 199.9,206.4 198.3,206.9 196.6,207.3 195.0,207.6 193.3,207.7 192.0,207.7 190.0,207.8 188.3,207.9 186.7,207.9 185.0,207.8 183.4,207.5 181.7,207.1 180.0,206.7 178.4,206.3 176.7,205.9 175.1,205.5 173.4,205.1 171.8,204.7 170.3,204.4 168.5,204.0 168.5,202.7 168.5,201.1 168.5,199.4 168.5,197.8 168.5,196.1 168.5,194.5 168.5,192.8 168.5,191.2 168.5,189.5 168.5,187.8 168.5,186.2 168.5,184.5 168.5,182.9 168.5,181.2 168.5,179.6 168.5,177.9 168.5,176.3 168.5,174.6 168.5,172.9 168.5,171.3 168.5,169.6 168.5,168.0 168.5,166.3 168.5,164.7 168.5,163.0 168.5,161.3 168.5,159.7 168.5,158.0 168.5,156.4 168.5,154.7 168.5,153.1 168.5,151.4 168.5,149.8 170.1,149.8Z" fill="#63ff94" fill-rule="evenodd"/>
<path d="M170.1,149.8 171.8,149.8 173.4,149.8 175.1,149.8 176.7,149.8 178.4,149.8 180.0,149.8 181.7,149.8 183.4,149.8 185.0,149.8 186.7,149.8 188.3,149.8 190.0,149.8 191.6,149.8 193.3,149.8 195.0,149.8 196.6,149.8 198.3,149.8 199.9,149.8 201.6,149.8 203.2,149.8 204.9,149.8 206.5,149.8 208.2,149.8 209.9,149.8 211.5,149.8 213.2,149.8 214.8,149.8 216.5,149.8 218.1,149.8 219.8,149.8 221.4,149.8 223.1,149.8 224.8,149.8 226.4,149.8 228.1,149.8 229.7,149.8 231.4,149.8 233.0,149.8 234.7,149.8 236.4,149.8 238.0,149.8 239.7,149.8 241.3,149.8 243.0,149.8 244.6,149.8 246.3,149.8 247.9,149.8 247.9,151.4 247.9,153.1 247.9,154.7 247.9,156.4 247.9,158.0 247.9,159.7 247.9,161.3 247.9,163.0 247.9,164.7 247.6,166.3 246.8,168.0 246.3,169.0 245.2,171.3 244.2,172.9 243.0,174.6 241.7,176.3 240.3,177.9 238.9,179.6 238.0,180.5 236.4,182.2 234.7,183.7 233.9,184.5 233.0,185.3 232.2,186.2 230.4,187.8 228.3,189.5 226.4,190.8 224.8,191.9 223.4,192.8 221.4,194.2 219.8,195.4 218.8,196.1 216.5,197.7 214.8,198.7 213.7,199.4 211.5,200.8 209.9,201.7 208.2,202.6 206.5,203.3 204.9,203.8 203.2,204.3 201.6,204.7 199.9,205.2 198.3,205.6 196.6,206.0 195.0,206.2 193.3,206.3 191.6,206.4 190.0,206.5 188.3,206.5 186.7,206.5 185.0,206.4 183.4,206.1 181.7,205.7 180.0,205.3 178.4,204.8 176.7,204.4 175.1,204.0 173.4,203.5 171.8,203.1 170.5,202.7 168.5,202.2 168.5,199.4 168.5,197.8 168.5,196.1 168.5,194.5 168.5,192.8 168.5,191.2 168.5,189.5 168.5,187.8 168.5,186.2 168.5,184.5 168.5,182.9 168.5,181.2 168.5,179.6 168.5,177.9 168.5,176.3 168.5,174.6 168.5,172.9 168.5,171.3 168.5,169.6 168.5,168.0 168.5,166.3 168.5,164.7 168.5,163.0 168.5,161.3 168.5,159.7 168.5,158.0 168.5,156.4 168.5,154.7 168.5,153.1 168.5,151.4 168.5,149.8 170.1,149.8Z" fill="#94ff63" fill-rule="evenodd"/>
<path d="M170.1,149.8 171.8,149.8 173.4,149.8 175.1,149.8 176.7,149.8 178.4,149.8 180.0,149.8 181.7,149.8 183.4,149.8 185.0,149.8 186.7,149.8 188.3,149.8 190.0,149.8 191.6,149.8 193.3,149.8 195.0,149.8 196.6,149.8 198.3,149.8 199.9,149.8 201.6,149.8 203.2,149.8 204.9,149.8 206.5,149.8 208.2,149.8 209.9,149.8 211.5,149.8 213.2,149.8 214.8,149.8 216.5,149.8 218.1,149.8 219.8,149.8 221.4,149.8 223.1,149.8 224.8,149.8 226.4,149.8 228.1,149.8 229.7,149.8 231.4,149.8 233.0,149.8 234.7,149.8 236.4,149.8 238.0,149.8 239.7,149.8 241.3,149.8 243.0,149.8 244.6,149.8 246.3,149.8 247.9,149.8 247.9,151.4 247.9,153.1 247.9,154.7 247.9,156.4 247.9,158.0 247.6,159.7 247.0,161.3 246.4,163.0 245.7,164.7 245.1,166.3 244.6,167.5 243.9,169.6 243.2,171.3 242.4,172.9 241.3,174.6 240.1,176.3 238.8,177.9 238.0,178.9 236.4,180.8 234.7,182.4 233.0,184.0 231.4,185.6 229.7,187.2 228.1,188.5 226.6,189.5 224.8,190.7 223.1,191.8 221.7,192.8 219.8,194.3 218.1,195.5 217.2,196.1 214.8,197.6 213.2,198.6 211.8,199.4 209.9,200.6 208.2,201.5 206.5,202.2 204.9,202.7 203.2,203.2 201.6,203.6 199.9,204.0 198.3,204.3 196.6,204.6 195.0,204.8 193.3,204.9 191.6,205.0 190.0,205.1 188.3,205.1 186.7,205.0 185.0,204.9 183.4,204.6 181.7,204.2 180.0,203.8 178.4,203.3 176.7,202.9 175.1,202.4 173.4,201.8 171.8,201.3 170.1,200.8 168.5,200.3 168.5,197.8 168.5,196.1 168.5,194.5 168.5,192.8 168.5,191.2 168.5,189.5 168.5,187.8 168.5,186.2 168.5,184.5 168.5,182.9 168.5,181.2 168.5,179.6 168.5,177.9 168.5,176.3 168.5,174.6 168.5,172.9 168.5,171.3 168.5,169.6 168.5,168.0 168.5,166.3 168.5,164.7 168.5,163.0 168.5,161.3 168.5,159.7 168.5,158.0 168.5,156.4 168.5,154.7 168.5,153.1 168.5,151.4 168.5,149.8 170.1,149.8Z" fill="#c1ff36" fill-rule="evenodd"/>
<path d="M170.1,149.8 171.8,149.8 173.4,149.8 175.1,149.8 176.7,149.8 178.4,149.8 180.0,149.8 181.7,149.8 183.4,149.8 185.0,149.8 186.7,149.8 188.3,149.8 190.0,149.8 191.6,149.8 193.3,149.8 195.0,149.8 196.6,149.8 198.3,149.8 199.9,149.8 201.6,149.8 203.2,149.8 204.9,149.8 206.5,149.8 208.2,149.8 209.9,149.8 211.5,149.8 213.2,149.8 214.8,149.8 216.5,149.8 218.1,149.8 219.8,149.8 221.4,149.8 223.1,149.8 224.8,149.8 226.4,149.8 228.1,149.8 229.7,149.8 231.4,149.8 233.0,149.8 234.7,149.8 236.4,149.8 238.0,149.8 239.7,149.8 241.3,149.8 243.0,149.8 244.6,149.8 246.3,149.8 246.4,151.4 246.1,153.1 245.8,154.7 245.5,156.4 245.1,158.0 244.6,159.7 244.2,161.3 243.6,163.0 243.0,164.7 242.4,166.3 242.0,168.0 241.7,169.6 241.3,171.1 240.5,172.9 239.7,174.3 238.5,176.3 237.3,177.9 236.4,179.1 234.7,180.8 233.0,182.4 231.4,184.1 229.7,185.8 228.1,187.3 226.4,188.4 224.8,189.4 223.1,190.5 221.4,191.7 220.0,192.8 218.1,194.3 216.5,195.4 215.2,196.1 213.2,197.4 211.5,198.4 209.9,199.4 208.2,200.3 206.6,201.1 204.9,201.6 203.2,202.0 201.6,202.4 199.9,202.7 198.3,203.0 196.6,203.2 195.0,203.3 193.3,203.5 191.6,203.6 190.0,203.6 188.3,203.6 186.7,203.5 185.0,203.3 183.4,203.0 182.2,202.7 180.0,202.2 178.4,201.8 176.7,201.2 175.1,200.7 173.4,200.1 171.8,199.5 170.1,198.9 168.5,198.3 168.5,196.1 168.5,194.5 168.5,192.8 168.5,191.2 168.5,189.5 168.5,187.8 168.5,186.2 168.5,184.5 168.5,182.9 168.5,181.2 168.5,179.6 168.5,177.9 168.5,176.3 168.5,174.6 168.5,172.9 168.5,171.3 168.5,169.6 168.5,168.0 168.5,166.3 168.5,164.7 168.5,163.0 168.5,161.3 168.5,159.7 168.5,158.0 168.5,156.4 168.5,154.7 168.5,153.1 168.5,151.4 168.5,149.8 170.1,149.8Z" fill="#eeff09" fill-rule="evenodd"/>
<path d="M170.1,149.8 171.8,149.8 173.4,149.8 175.1,149.8 176.7,149.8 178.4,149.8 180.0,149.8 181.7,149.8 183.4,149.8 185.0,149.8 186.7,149.8 188.3,149.8 190.0,149.8 191.6,149.8 193.3,149.8 195.0,149.8 196.6,149.8 198.3,149.8 199.9,149.8 201.6,149.8 203.2,149.8 204.9,149.8 206.5,149.8 208.2,149.8 209.9,149.8 211.5,149.8 213.2,149.8 214.8,149.8 216.5,149.8 218.1,149.8 219.8,149.8 221.4,149.8 223.1,149.8 224.8,149.8 226.4,149.8 228.1,149.8 229.7,149.8 231.4,149.8 233.0,149.8 234.7,149.8 236.4,149.8 238.0,149.8 239.7,149.8 241.3,149.8 242.5,149.8 242.4,151.4 242.4,153.1 242.3,154.7 242.2,156.4 242.0,158.0 241.8,159.7 241.4,161.3 240.9,163.0 240.2,164.7 239.7,166.1 239.3,168.0 239.2,169.6 239.0,171.3 238.4,172.9 237.6,174.6 236.7,176.3 235.6,177.9 234.7,179.0 233.0,180.7 231.4,182.4 229.7,184.1 228.1,185.8 226.4,187.0 225.1,187.8 223.1,189.1 221.4,190.3 220.3,191.2 218.2,192.8 216.5,194.0 214.8,195.1 213.2,196.1 211.5,197.0 210.3,197.8 208.2,199.0 206.5,199.8 204.9,200.4 203.2,200.8 201.8,201.1 199.9,201.4 198.3,201.7 196.6,201.8 195.0,201.9 193.3,202.0 191.6,202.1 190.0,202.1 188.3,202.1 186.7,202.0 185.0,201.8 183.4,201.5 181.7,201.1 180.0,200.7 178.4,200.2 176.7,199.6 175.1,198.9 173.4,198.2 172.2,197.8 170.1,196.9 168.5,196.2 168.5,194.5 168.5,192.8 168.5,191.2 168.5,189.5 168.5,187.8 168.5,186.2 168.5,184.5 168.5,182.9 168.5,181.2 168.5,179.6 168.5,177.9 168.5,176.3 168.5,174.6 168.5,172.9 168.5,171.3 168.5,169.6 168.5,168.0 168.5,166.3 168.5,164.7 168.5,163.0 168.5,161.3 168.5,159.7 168.5,158.0 168.5,156.4 168.5,154.7 168.5,153.1 168.5,151.4 168.5,149.8 170.1,149.8Z" fill="#ffcc00" fill-rule="evenodd"/>
<path d="M170.1,149.8 171.8,149.8 173.4,149.8 175.1,149.8 176.7,149.8 178.4,149.8 180.0,149.8 181.7,149.8 183.4,149.8 185.0,149.8 186.7,149.8 188.3,149.8 190.0,149.8 191.6,149.8 193.3,149.8 195.0,149.8 196.6,149.8 198.3,149.8 199.9,149.8 201.6,149.8 203.2,149.8 204.9,149.8 206.5,149.8 208.2,149.8 209.9,149.8 211.5,149.8 213.2,149.8 214.8,149.8 216.5,149.8 218.1,149.8 219.8,149.8 221.4,149.8 223.1,149.8 224.8,149.8 226.4,149.8 228.1,149.8 229.7,149.8 231.4,149.8 233.0,149.8 234.7,149.8 236.4,149.8 237.5,149.8 237.7,151.4 238.0,152.7 238.4,154.7 238.8,156.4 239.0,158.0 239.0,159.7 238.8,161.3 238.4,163.0 237.7,164.7 237.1,166.3 236.9,168.0 236.8,169.6 236.7,171.3 236.4,172.7 235.7,174.6 234.8,176.3 233.7,177.9 232.2,179.6 231.4,180.4 230.6,181.2 229.7,182.1 228.1,183.8 226.4,185.3 225.2,186.2 223.1,187.6 221.4,188.7 220.4,189.5 218.3,191.2 216.5,192.5 214.8,193.6 213.4,194.5 211.5,195.6 209.9,196.6 208.2,197.5 206.5,198.4 204.9,199.0 203.2,199.4 201.6,199.7 199.9,200.0 198.3,200.2 196.6,200.4 195.0,200.5 193.3,200.6 191.6,200.6 190.0,200.6 188.3,200.6 186.7,200.4 185.0,200.2 183.4,199.9 181.7,199.5 180.0,199.0 178.4,198.5 176.7,197.8 175.1,197.1 173.4,196.3 171.8,195.5 170.1,194.8 168.5,194.0 168.5,192.8 168.5,191.2 168.5,189.5 168.5,187.8 168.5,186.2 168.5,184.5 168.5,182.9 168.5,181.2 168.5,179.6 168.5,177.9 168.5,176.3 168.5,174.6 168.5,172.9 168.5,171.3 168.5,169.6 168.5,168.0 168.5,166.3 168.5,164.7 168.5,163.0 168.5,161.3 168.5,159.7 168.5,158.0 168.5,156.4 168.5,154.7 168.5,153.1 168.5,151.4 168.5,149.8 170.1,149.8Z" fill="#ff9400" fill-rule="evenodd"/>
<path d="M170.1,149.8 171.8,149.8 173.4,149.8 175.1,149.8 176.7,149.8 178.4,149.8 180.0,149.8 181.7,149.8 183.4,149.8 185.0,149.8 186.7,149.8 188.3,149.8 190.0,149.8 191.6,149.8 193.3,149.8 195.0,149.8 196.6,149.8 198.3,149.8 199.9,149.8 201.6,149.8 203.2,149.8 204.9,149.8 206.5,149.8 208.2,149.8 209.9,149.8 211.5,149.8 213.2,149.8 214.8,149.8 216.5,149.8 218.1,149.8 219.8,149.8 221.4,149.8 223.1,149.8 224.8,149.8 226.4,149.8 228.1,149.8 229.7,149.8 230.9,149.8 230.9,151.4 230.9,153.1 231.4,154.6 233.0,155.8 234.7,157.0 235.4,158.0 236.3,159.7 236.5,161.3 236.2,163.0 235.6,164.7 235.1,166.3 234.8,168.0 234.6,169.6 234.4,171.3 234.0,172.9 233.4,174.6 232.5,176.3 231.4,177.8 229.8,179.6 228.3,181.2 226.6,182.9 224.8,184.4 223.1,185.6 221.4,186.8 220.1,187.8 218.1,189.4 216.5,190.7 214.8,191.9 213.4,192.8 211.5,193.9 209.9,194.9 208.2,195.9 206.5,196.7 204.9,197.4 203.6,197.8 201.6,198.2 199.9,198.5 198.3,198.7 196.6,198.9 195.0,199.0 193.3,199.0 191.6,199.0 190.0,199.0 188.3,198.9 186.7,198.8 185.0,198.5 183.4,198.2 181.7,197.9 180.0,197.3 178.4,196.6 177.2,196.1 175.1,195.0 174.0,194.5 171.8,193.2 170.1,192.3 168.5,191.4 168.5,189.5 168.5,187.8 168.5,186.2 168.5,184.5 168.5,182.9 168.5,181.2 168.5,179.6 168.5,177.9 168.5,176.3 168.5,174.6 168.5,172.9 168.5,171.3 168.5,169.6 168.5,168.0 168.5,166.3 168.5,164.7 168.5,163.0 168.5,161.3 168.5,159.7 168.5,158.0 168.5,156.4 168.5,154.7 168.5,153.1 168.5,151.4 168.5,149.8 170.1,149.8Z" fill="#ff6000" fill-rule="evenodd"/>
<path d="M170.1,149.8 171.8,149.8 173.4,149.8 175.1,149.8 176.7,149.8 178.4,149.8 180.0,149.8 181.7,149.8 183.4,149.8 185.0,149.8 186.7,149.8 188.3,149.8 190.0,149.8 191.6,149.8 193.3,149.8 195.0,149.8 196.6,149.8 198.3,149.8 199.9,149.8 201.6,149.8 203.2,149.8 204.9,149.8 206.5,149.8 208.2,149.8 209.9,149.8 211.5,149.8 213.2,149.8 214.8,149.8 216.5,149.8 218.1,149.8 219.8,149.8 221.4,149.8 223.1,149.8 224.8,149.8 225.7,151.4 225.7,153.1 225.8,154.7 226.0,156.4 226.2,158.0 227.1,159.7 228.1,160.6 229.7,160.9 231.4,160.6 233.0,160.7 233.7,163.0 233.2,164.7 232.7,166.3 232.4,168.0 232.2,169.6 231.9,171.3 231.5,172.9 230.7,174.6 229.7,176.3 228.4,177.9 226.8,179.6 225.1,181.2 223.3,182.9 221.4,184.5 219.8,185.8 218.1,187.2 216.5,188.5 215.2,189.5 213.2,190.9 211.5,192.0 210.2,192.8 208.2,193.9 207.2,194.5 204.9,195.5 203.2,196.0 201.6,196.4 199.9,196.7 198.3,196.9 196.6,197.1 195.0,197.3 193.3,197.3 191.6,197.3 190.0,197.2 188.3,197.1 186.7,196.9 185.0,196.7 183.4,196.4 182.1,196.1 180.0,195.3 178.4,194.5 176.7,193.6 175.4,192.8 173.4,191.6 171.8,190.5 170.1,189.5 168.5,188.4 168.5,186.2 168.5,184.5 168.5,182.9 168.5,181.2 168.5,179.6 168.5,177.9 168.5,176.3 168.5,174.6 168.5,172.9 168.5,171.3 168.5,169.6 168.5,168.0 168.5,166.3 168.5,164.7 168.5,163.0 168.5,161.3 168.5,159.7 168.5,158.0 168.5,156.4 168.5,154.7 168.5,153.1 168.5,151.4 168.5,149.8 170.1,149.8Z" fill="#ff2d00" fill-rule="evenodd"/>
<path d="M170.1,149.8 171.8,149.8 173.4,149.8 175.1,149.8 176.7,149.8 178.4,149.8 180.0,149.8 181.7,149.8 183.4,149.8 185.0,149.8 186.7,149.8 188.3,149.8 190.0,149.8 191.6,149.8 193.3,149.8 195.0,149.8 196.6,149.8 198.3,149.8 199.9,149.8 201.6,149.8 203.2,149.8 204.9,149.8 206.5,149.8 208.2,149.8 209.9,149.8 211.5,149.8 213.2,149.8 214.8,149.8 216.5,149.8 218.1,149.8 219.8,149.8 221.4,149.8 221.8,151.4 222.3,153.1 222.8,154.7 223.1,155.8 223.7,158.0 224.3,159.7 224.8,160.8 226.2,163.0 227.8,164.7 228.7,166.3 229.0,168.0 228.9,169.6 228.7,171.3 228.1,172.9 227.2,174.6 226.4,175.6 224.8,177.5 223.1,179.1 221.4,180.9 219.8,182.6 218.1,184.2 216.5,185.7 214.8,187.1 213.8,187.8 211.5,189.5 209.9,190.5 208.8,191.2 206.5,192.4 204.9,193.2 203.2,193.7 201.6,194.2 200.3,194.5 198.3,194.8 196.6,195.0 195.0,195.2 193.3,195.2 191.6,195.2 190.0,195.0 188.3,194.9 186.7,194.7 185.0,194.5 183.4,194.1 181.7,193.6 180.1,192.8 178.4,191.7 176.7,190.6 175.2,189.5 173.4,188.2 171.8,187.0 170.7,186.2 168.7,184.5 168.5,182.9 168.5,181.2 168.5,179.6 168.5,177.9 168.5,176.3 168.5,174.6 168.5,172.9 168.5,171.3 168.5,169.6 168.5,168.0 168.5,166.3 168.5,164.7 168.5,163.0 168.5,161.3 168.5,159.7 168.5,158.0 168.5,156.4 168.5,154.7 168.5,153.1 168.5,151.4 168.5,149.8 170.1,149.8Z" fill="#df0000" fill-rule="evenodd"/>
<path d="M170.1,149.8 171.8,149.8 173.4,149.8 175.1,149.8 176.7,149.8 178.4,149.8 180.0,149.8 181.7,149.8 183.4,149.8 185.0,149.8 186.7,149.8 188.3,149.8 190.0,149.8 191.6,149.8 193.3,149.8 195.0,149.8 196.6,149.8 198.3,149.8 199.9,149.8 201.6,149.8 203.2,149.8 204.9,149.8 206.5,149.8 208.2,149.8 209.9,149.8 211.5,149.8 213.2,149.8 214.8,149.8 216.1,149.8 217.1,151.4 218.1,153.0 219.2,154.7 220.2,156.4 221.0,158.0 221.7,159.7 222.1,161.3 222.5,163.0 223.1,164.6 223.7,166.3 224.1,168.0 224.1,169.6 223.9,171.3 223.2,172.9 222.2,174.6 221.4,175.5 219.8,177.6 218.2,179.6 216.7,181.2 215.2,182.9 213.4,184.5 211.5,186.0 209.9,187.1 208.7,187.8 206.5,189.1 204.9,189.9 203.2,190.6 201.6,191.1 199.9,191.5 198.3,191.7 196.6,191.9 195.0,192.0 193.3,192.2 191.6,192.1 190.0,192.0 188.3,191.8 186.7,191.6 185.0,191.2 183.4,190.5 181.7,189.6 180.0,188.5 179.1,187.8 176.9,186.2 175.1,184.7 173.4,183.2 171.8,181.6 170.1,179.8 168.5,178.0 168.5,176.3 168.5,174.6 168.5,172.9 168.5,171.3 168.5,169.6 168.5,168.0 168.5,166.3 168.5,164.7 168.5,163.0 168.5,161.3 168.5,159.7 168.5,158.0 168.5,156.4 168.5,154.7 168.5,153.1 168.5,151.4 168.5,149.8 170.1,149.8Z" fill="#9f0000" fill-rule="evenodd"/>
<path d="M247.9,182.5 246.3,183.5 244.6,184.4 243.0,185.6 241.3,187.1 240.6,187.8 239.7,188.8 238.9,189.5 238.0,190.3 236.9,191.2 234.7,192.7 233.0,194.0 231.4,195.6 229.7,197.1 228.8,197.8 226.4,199.2 224.8,200.1 223.1,200.9 221.4,202.1 220.7,202.7 219.8,203.6 218.7,204.4 216.5,206.0 214.8,206.9 213.2,207.6 211.5,208.2 209.9,209.1 208.2,210.1 206.5,210.8 204.9,211.4 203.2,212.0 201.6,212.4 199.9,213.2 198.3,214.1 196.6,214.8 195.0,215.3 193.3,215.5 191.6,215.5 190.0,215.5 188.3,215.7 186.7,216.0 185.0,216.0 183.4,215.9 181.7,215.5 180.0,215.0 178.4,214.6 176.7,214.4 175.1,214.4 173.4,214.4 171.8,214.5 170.1,214.5 168.5,214.5" fill="none" stroke="#000" stroke-opacity="0.4" stroke-width="0.35"/>
<path d="M247.9,176.5 246.3,177.9 244.6,179.3 243.0,180.7 241.3,182.1 240.5,182.9 239.7,183.6 238.7,184.5 238.0,185.2 237.0,186.2 235.2,187.8 233.2,189.5 231.4,190.9 229.7,192.3 228.1,193.6 226.9,194.5 224.8,195.9 223.1,197.0 221.9,197.8 219.8,199.2 218.1,200.4 217.1,201.1 214.8,202.7 213.2,203.7 211.8,204.4 209.9,205.4 208.3,206.1 206.5,206.8 204.9,207.4 203.2,208.0 201.6,208.6 199.9,209.2 198.3,209.9 196.6,210.5 195.0,210.7 193.3,210.9 191.6,210.9 190.0,211.0 188.3,211.1 186.7,211.2 185.0,211.3 183.4,211.0 181.7,210.6 180.0,210.2 178.4,209.9 176.7,209.6 175.4,209.4 173.4,209.1 171.8,208.9 170.1,208.7 168.5,208.5" fill="none" stroke="#000" stroke-opacity="0.4" stroke-width="0.35"/>
<path d="M247.9,165.5 246.8,168.0 246.3,169.0 245.2,171.3 244.6,172.2 243.0,174.6 241.7,176.3 240.3,177.9 238.9,179.6 238.0,180.5 237.3,181.2 236.4,182.2 235.6,182.9 234.7,183.7 233.9,184.5 233.0,185.3 232.2,186.2 231.4,186.9 230.4,187.8 228.3,189.5 226.4,190.8 224.8,191.9 223.4,192.8 221.4,194.2 219.8,195.4 218.8,196.1 216.5,197.7 214.8,198.7 213.7,199.4 211.5,200.8 209.9,201.7 208.2,202.6 206.5,203.3 204.9,203.8 203.2,204.3 201.6,204.7 199.9,205.2 198.3,205.6 196.6,206.0 195.0,206.2 193.3,206.3 191.6,206.4 190.0,206.5 188.3,206.5 186.7,206.5 185.0,206.4 183.4,206.1 181.7,205.7 180.0,205.3 178.4,204.8 176.7,204.4 175.1,204.0 173.4,203.5 171.8,203.1 170.5,202.7 168.5,202.2" fill="none" stroke="#000" stroke-opacity="0.4" stroke-width="0.35"/>
<path d="M239.6,149.8 239.8,151.4 239.9,153.1 240.1,154.7 240.2,156.4 240.2,158.0 240.1,159.7 239.8,161.3 239.3,163.0 238.7,164.7 238.0,166.1 237.7,168.0 237.7,169.6 237.6,171.3 237.1,172.9 236.5,174.6 235.6,176.3 234.7,177.7 233.1,179.6 231.4,181.2 229.8,182.9 228.2,184.5 226.4,186.1 224.8,187.1 223.7,187.8 221.4,189.4 219.8,190.6 218.1,191.9 217.0,192.8 214.8,194.2 213.2,195.2 211.7,196.1 209.9,197.2 208.8,197.8 206.5,199.0 205.3,199.4 203.2,200.0 201.6,200.3 199.9,200.6 198.3,200.8 196.6,201.0 195.0,201.1 193.3,201.2 191.6,201.2 190.0,201.2 188.3,201.2 186.9,201.1 185.0,200.8 183.4,200.5 181.7,200.2 180.0,199.7 178.4,199.2 176.7,198.5 175.1,197.8 173.4,197.1 171.8,196.4 170.1,195.6 168.5,194.9" fill="none" stroke="#000" stroke-opacity="0.4" stroke-width="0.35"/>
<path d="M222.1,149.8 222.5,151.4 222.8,153.1 223.1,154.1 223.7,156.4 224.1,158.0 224.7,159.7 225.6,161.3 226.4,162.5 228.1,164.0 228.9,164.7 229.6,166.3 229.7,168.0 229.6,169.6 229.3,171.3 228.7,172.9 228.1,174.2 226.6,176.3 225.1,177.9 223.4,179.6 221.8,181.2 220.2,182.9 218.4,184.5 216.5,186.2 214.8,187.6 213.2,188.8 212.2,189.5 209.9,191.0 208.2,191.9 206.6,192.8 204.9,193.6 203.2,194.2 202.1,194.5 199.9,194.9 198.3,195.2 196.6,195.4 195.0,195.6 193.3,195.6 191.6,195.6 190.0,195.4 188.3,195.3 186.7,195.1 185.0,194.9 183.4,194.6 181.7,194.1 180.0,193.2 178.4,192.2 176.7,191.2 175.1,190.0 173.4,188.9 172.0,187.8 170.1,186.4 168.5,185.1" fill="none" stroke="#000" stroke-opacity="0.4" stroke-width="0.35"/>
</g>
<circle cx="208.20000000000002" cy="189.5" r="34.6" fill="none" stroke="#000" stroke-width="1"/>
<polyline points="203.0,155.5 208.2,149.5 213.4,155.5" fill="none" stroke="#000" stroke-width="1" stroke-linejoin="miter"/>
<path d="M173.9,181.3 Q170.1,179.0 170.1,183.5 L170.1,196.0 Q170.1,200.3 173.5,198.5" fill="none" stroke="#000" stroke-width="1.1"/>
<path d="M242.5,181.3 Q246.3,179.0 246.3,183.5 L246.3,196.0 Q246.3,200.3 242.9,198.5" fill="none" stroke="#000" stroke-width="1.1"/>
<circle cx="208.2" cy="155.3" r="0.95" fill="#000"/>
<circle cx="208.2" cy="170.7" r="0.95" fill="#000"/>
<circle cx="208.2" cy="188.8" r="0.95" fill="#000"/>
<circle cx="208.2" cy="207.0" r="0.95" fill="#000"/>
<circle cx="208.2" cy="215.0" r="0.95" fill="#000"/>
<circle cx="208.2" cy="222.7" r="0.95" fill="#000"/>
<circle cx="218.9" cy="155.9" r="0.95" fill="#000"/>
<circle cx="197.5" cy="155.9" r="0.95" fill="#000"/>
<circle cx="237.9" cy="167.3" r="0.95" fill="#000"/>
<circle cx="178.5" cy="167.3" r="0.95" fill="#000"/>
<circle cx="223.6" cy="170.7" r="0.95" fill="#000"/>
<circle cx="192.8" cy="170.7" r="0.95" fill="#000"/>
<circle cx="234.7" cy="179.1" r="0.95" fill="#000"/>
<circle cx="181.7" cy="179.1" r="0.95" fill="#000"/>
<circle cx="217.3" cy="179.1" r="0.95" fill="#000"/>
<circle cx="199.1" cy="179.1" r="0.95" fill="#000"/>
<circle cx="244.1" cy="188.8" r="0.95" fill="#000"/>
<circle cx="172.3" cy="188.8" r="0.95" fill="#000"/>
<circle cx="226.7" cy="188.8" r="0.95" fill="#000"/>
<circle cx="189.7" cy="188.8" r="0.95" fill="#000"/>
<circle cx="234.7" cy="197.9" r="0.95" fill="#000"/>
<circle cx="181.7" cy="197.9" r="0.95" fill="#000"/>
<circle cx="217.3" cy="197.9" r="0.95" fill="#000"/>
<circle cx="199.1" cy="197.9" r="0.95" fill="#000"/>
<circle cx="223.6" cy="207.0" r="0.95" fill="#000"/>
<circle cx="192.8" cy="207.0" r="0.95" fill="#000"/>
<circle cx="237.9" cy="210.3" r="0.95" fill="#000"/>
<circle cx="178.5" cy="210.3" r="0.95" fill="#000"/>
<circle cx="218.9" cy="222.1" r="0.95" fill="#000"/>
<circle cx="197.5" cy="222.1" r="0.95" fill="#000"/>
<clipPath id="clipC"><ellipse cx="319.59999999999997" cy="189.5" rx="37.099999999999994" ry="36.4"/></clipPath>
<g clip-path="url(#clipC)">
<rect x="281.8" y="151.7" width="75.6" height="75.6" fill="#00009f"/>
<path d="M281.5,149.8 283.2,149.8 284.8,149.8 286.5,149.8 288.1,149.8 289.8,149.8 291.4,149.8 293.1,149.8 294.8,149.8 296.4,149.8 298.1,149.8 299.7,149.8 301.4,149.8 303.0,149.8 304.7,149.8 306.4,149.8 308.0,149.8 309.7,149.8 311.3,149.8 313.0,149.8 314.6,149.8 316.3,149.8 317.9,149.8 319.6,149.8 321.3,149.8 322.9,149.8 324.6,149.8 326.2,149.8 327.9,149.8 329.5,149.8 331.2,149.8 332.8,149.8 334.5,149.8 336.2,149.8 337.8,149.8 339.5,149.8 341.1,149.8 342.8,149.8 344.4,149.8 346.1,149.8 347.8,149.8 349.4,149.8 351.1,149.8 352.7,149.8 354.4,149.8 356.0,149.8 357.7,149.8 359.3,149.8 359.3,151.4 359.3,153.1 359.3,154.7 359.3,156.4 359.3,158.0 359.3,159.7 359.3,161.3 359.3,163.0 359.3,164.7 359.3,166.3 359.3,168.0 359.3,169.6 359.3,171.3 359.3,172.9 359.3,174.6 359.3,176.3 359.3,177.9 359.3,179.6 359.3,181.2 359.3,182.9 359.3,184.5 359.3,186.2 359.3,187.8 359.3,189.5 359.3,191.2 359.3,192.8 359.3,194.5 359.3,196.1 359.3,197.8 359.3,199.4 359.3,201.1 359.3,202.7 359.3,204.4 359.3,206.1 359.3,207.7 359.3,209.4 359.3,211.0 359.3,212.7 359.3,214.3 359.3,216.0 359.3,217.7 359.3,219.3 359.3,221.0 359.3,222.6 359.3,224.3 359.3,225.9 357.7,224.8 356.0,222.6 354.9,221.0 353.8,219.3 352.8,217.7 351.9,216.0 351.1,214.6 350.0,212.7 348.9,211.0 347.8,209.4 346.3,207.7 344.4,206.2 342.8,205.2 341.3,204.4 339.5,203.8 337.8,203.5 336.2,203.4 334.5,203.4 332.8,203.4 331.2,203.4 329.5,203.3 327.9,203.2 326.2,203.1 324.6,202.9 323.3,202.7 321.3,202.6 319.6,202.5 317.9,202.6 316.8,202.7 314.6,203.1 313.0,203.3 311.3,203.5 309.7,203.8 308.0,204.0 306.4,204.2 304.9,204.4 303.0,204.9 301.4,205.5 300.1,206.1 298.1,207.3 296.4,208.5 295.4,209.4 293.8,211.0 292.6,212.7 291.6,214.3 290.8,216.0 290.1,217.7 289.5,219.3 288.8,221.0 288.2,222.6 287.5,224.3 286.8,225.9 286.0,227.6 285.2,229.2 283.2,229.2 281.5,229.2 279.9,229.2 279.9,227.6 279.9,225.9 279.9,224.3 279.9,222.6 279.9,221.0 279.9,219.3 279.9,217.7 279.9,216.0 279.9,214.3 279.9,212.7 279.9,211.0 279.9,209.4 279.9,207.7 279.9,206.1 279.9,204.4 279.9,202.7 279.9,201.1 279.9,199.4 279.9,197.8 279.9,196.1 279.9,194.5 279.9,192.8 279.9,191.2 279.9,189.5 279.9,187.8 279.9,186.2 279.9,184.5 279.9,182.9 279.9,181.2 279.9,179.6 279.9,177.9 279.9,176.3 279.9,174.6 279.9,172.9 279.9,171.3 279.9,169.6 279.9,168.0 279.9,166.3 279.9,164.7 279.9,163.0 279.9,161.3 279.9,159.7 279.9,158.0 279.9,156.4 279.9,154.7 279.9,153.1 279.9,151.4 279.9,149.8 281.5,149.8Z" fill="#0000df" fill-rule="evenodd"/>
<path d="M281.5,149.8 283.2,149.8 284.8,149.8 286.5,149.8 288.1,149.8 289.8,149.8 291.4,149.8 293.1,149.8 294.8,149.8 296.4,149.8 298.1,149.8 299.7,149.8 301.4,149.8 303.0,149.8 304.7,149.8 306.4,149.8 308.0,149.8 309.7,149.8 311.3,149.8 313.0,149.8 314.6,149.8 316.3,149.8 317.9,149.8 319.6,149.8 321.3,149.8 322.9,149.8 324.6,149.8 326.2,149.8 327.9,149.8 329.5,149.8 331.2,149.8 332.8,149.8 334.5,149.8 336.2,149.8 337.8,149.8 339.5,149.8 341.1,149.8 342.8,149.8 344.4,149.8 346.1,149.8 347.8,149.8 349.4,149.8 351.1,149.8 352.7,149.8 354.4,149.8 356.0,149.8 357.7,149.8 359.3,149.8 359.3,151.4 359.3,153.1 359.3,154.7 359.3,156.4 359.3,158.0 359.3,159.7 359.3,161.3 359.3,163.0 359.3,164.7 359.3,166.3 359.3,168.0 359.3,169.6 359.3,171.3 359.3,172.9 359.3,174.6 359.3,176.3 359.3,177.9 359.3,179.6 359.3,181.2 359.3,182.9 359.3,184.5 359.3,186.2 359.3,187.8 359.3,189.5 359.3,191.2 359.3,192.8 359.3,194.5 359.3,196.1 359.3,197.8 359.3,199.4 359.3,201.1 359.3,202.7 359.3,204.4 359.3,206.1 359.3,207.7 359.3,209.4 359.3,211.0 359.3,212.7 359.3,214.3 359.3,216.0 359.3,217.7 359.3,219.3 357.7,218.2 356.0,216.0 354.8,214.3 353.6,212.7 352.7,211.5 351.2,209.4 350.0,207.7 348.5,206.1 346.4,204.4 344.4,203.2 342.8,202.3 341.1,201.5 339.8,201.1 337.8,200.8 336.2,200.7 334.5,200.7 332.8,200.7 331.2,200.7 329.5,200.7 327.9,200.6 326.2,200.6 324.6,200.5 322.9,200.4 321.3,200.3 319.6,200.3 317.9,200.3 316.3,200.5 314.6,200.6 313.0,200.8 311.3,200.9 309.7,201.1 308.0,201.2 306.4,201.4 304.7,201.6 303.0,202.0 301.4,202.4 299.7,203.2 298.1,204.3 296.4,205.5 294.8,206.8 293.7,207.7 292.1,209.4 290.9,211.0 289.8,212.7 288.8,214.3 288.1,215.6 287.0,217.7 286.5,218.7 285.3,221.0 284.4,222.6 283.5,224.3 282.5,225.9 281.5,227.6 280.5,229.2 279.9,227.6 279.9,225.9 279.9,224.3 279.9,222.6 279.9,221.0 279.9,219.3 279.9,217.7 279.9,216.0 279.9,214.3 279.9,212.7 279.9,211.0 279.9,209.4 279.9,207.7 279.9,206.1 279.9,204.4 279.9,202.7 279.9,201.1 279.9,199.4 279.9,197.8 279.9,196.1 279.9,194.5 279.9,192.8 279.9,191.2 279.9,189.5 279.9,187.8 279.9,186.2 279.9,184.5 279.9,182.9 279.9,181.2 279.9,179.6 279.9,177.9 279.9,176.3 279.9,174.6 279.9,172.9 279.9,171.3 279.9,169.6 279.9,168.0 279.9,166.3 279.9,164.7 279.9,163.0 279.9,161.3 279.9,159.7 279.9,158.0 279.9,156.4 279.9,154.7 279.9,153.1 279.9,151.4 279.9,149.8 281.5,149.8Z" fill="#000dff" fill-rule="evenodd"/>
<path d="M281.5,149.8 283.2,149.8 284.8,149.8 286.5,149.8 288.1,149.8 289.8,149.8 291.4,149.8 293.1,149.8 294.8,149.8 296.4,149.8 298.1,149.8 299.7,149.8 301.4,149.8 303.0,149.8 304.7,149.8 306.4,149.8 308.0,149.8 309.7,149.8 311.3,149.8 313.0,149.8 314.6,149.8 316.3,149.8 317.9,149.8 319.6,149.8 321.3,149.8 322.9,149.8 324.6,149.8 326.2,149.8 327.9,149.8 329.5,149.8 331.2,149.8 332.8,149.8 334.5,149.8 336.2,149.8 337.8,149.8 339.5,149.8 341.1,149.8 342.8,149.8 344.4,149.8 346.1,149.8 347.8,149.8 349.4,149.8 351.1,149.8 352.7,149.8 354.4,149.8 356.0,149.8 357.7,149.8 359.3,149.8 359.3,151.4 359.3,153.1 359.3,154.7 359.3,156.4 359.3,158.0 359.3,159.7 359.3,161.3 359.3,163.0 359.3,164.7 359.3,166.3 359.3,168.0 359.3,169.6 359.3,171.3 359.3,172.9 359.3,174.6 359.3,176.3 359.3,177.9 359.3,179.6 359.3,181.2 359.3,182.9 359.3,184.5 359.3,186.2 359.3,187.8 359.3,189.5 359.3,191.2 359.3,192.8 359.3,194.5 359.3,196.1 359.3,197.8 359.3,199.4 359.3,201.1 359.3,202.7 359.3,204.4 359.3,206.1 359.3,207.7 359.3,209.4 359.3,211.0 359.3,212.7 359.3,214.3 357.7,213.5 356.0,211.6 354.4,209.7 352.7,207.7 351.3,206.1 349.6,204.4 347.8,202.9 346.1,201.9 344.8,201.1 342.8,200.1 341.1,199.5 339.5,199.0 337.8,198.8 336.2,198.7 334.5,198.7 332.8,198.6 331.2,198.6 329.5,198.6 327.9,198.6 326.2,198.5 324.6,198.5 322.9,198.5 321.3,198.4 319.6,198.4 317.9,198.4 316.3,198.5 314.6,198.6 313.0,198.7 311.3,198.8 309.7,199.0 308.0,199.1 306.4,199.2 304.8,199.4 303.0,199.8 301.4,200.2 299.7,200.9 298.1,201.9 296.8,202.7 294.8,204.3 293.1,205.8 291.4,207.4 289.8,209.4 288.6,211.0 287.4,212.7 286.5,214.1 285.2,216.0 284.1,217.7 283.2,219.2 282.0,221.0 280.9,222.6 279.9,224.1 279.9,222.6 279.9,221.0 279.9,219.3 279.9,217.7 279.9,216.0 279.9,214.3 279.9,212.7 279.9,211.0 279.9,209.4 279.9,207.7 279.9,206.1 279.9,204.4 279.9,202.7 279.9,201.1 279.9,199.4 279.9,197.8 279.9,196.1 279.9,194.5 279.9,192.8 279.9,191.2 279.9,189.5 279.9,187.8 279.9,186.2 279.9,184.5 279.9,182.9 279.9,181.2 279.9,179.6 279.9,177.9 279.9,176.3 279.9,174.6 279.9,172.9 279.9,171.3 279.9,169.6 279.9,168.0 279.9,166.3 279.9,164.7 279.9,163.0 279.9,161.3 279.9,159.7 279.9,158.0 279.9,156.4 279.9,154.7 279.9,153.1 279.9,151.4 279.9,149.8 281.5,149.8Z" fill="#0044ff" fill-rule="evenodd"/>
<path d="M281.5,149.8 283.2,149.8 284.8,149.8 286.5,149.8 288.1,149.8 289.8,149.8 291.4,149.8 293.1,149.8 294.8,149.8 296.4,149.8 298.1,149.8 299.7,149.8 301.4,149.8 303.0,149.8 304.7,149.8 306.4,149.8 308.0,149.8 309.7,149.8 311.3,149.8 313.0,149.8 314.6,149.8 316.3,149.8 317.9,149.8 319.6,149.8 321.3,149.8 322.9,149.8 324.6,149.8 326.2,149.8 327.9,149.8 329.5,149.8 331.2,149.8 332.8,149.8 334.5,149.8 336.2,149.8 337.8,149.8 339.5,149.8 341.1,149.8 342.8,149.8 344.4,149.8 346.1,149.8 347.8,149.8 349.4,149.8 351.1,149.8 352.7,149.8 354.4,149.8 356.0,149.8 357.7,149.8 359.3,149.8 359.3,151.4 359.3,153.1 359.3,154.7 359.3,156.4 359.3,158.0 359.3,159.7 359.3,161.3 359.3,163.0 359.3,164.7 359.3,166.3 359.3,168.0 359.3,169.6 359.3,171.3 359.3,172.9 359.3,174.6 359.3,176.3 359.3,177.9 359.3,179.6 359.3,181.2 359.3,182.9 359.3,184.5 359.3,186.2 359.3,187.8 359.3,189.5 359.3,191.2 359.3,192.8 359.3,194.5 359.3,196.1 359.3,197.8 359.3,199.4 359.3,201.1 359.3,202.7 359.3,204.4 359.3,206.1 359.3,207.7 359.3,209.4 359.3,211.0 357.7,209.9 356.0,208.3 354.4,206.7 352.7,205.1 351.1,203.5 350.2,202.7 348.0,201.1 346.1,199.9 344.4,199.1 342.8,198.4 341.1,197.8 339.5,197.4 337.8,197.2 336.2,197.0 334.5,196.9 332.8,196.8 331.2,196.8 329.5,196.7 327.9,196.7 326.2,196.7 324.6,196.7 322.9,196.7 321.3,196.7 319.6,196.8 317.9,196.8 316.3,196.8 314.6,196.9 313.0,196.9 311.3,197.0 309.7,197.1 308.0,197.2 306.4,197.4 304.7,197.6 303.0,197.9 301.4,198.4 299.7,199.0 298.1,199.9 296.4,201.0 294.8,202.2 293.1,203.6 292.2,204.4 290.6,206.1 289.8,207.0 288.1,208.9 286.5,211.0 285.1,212.7 283.8,214.3 282.5,216.0 281.5,217.4 280.0,219.3 279.9,217.7 279.9,216.0 279.9,214.3 279.9,212.7 279.9,211.0 279.9,209.4 279.9,207.7 279.9,206.1 279.9,204.4 279.9,202.7 279.9,201.1 279.9,199.4 279.9,197.8 279.9,196.1 279.9,194.5 279.9,192.8 279.9,191.2 279.9,189.5 279.9,187.8 279.9,186.2 279.9,184.5 279.9,182.9 279.9,181.2 279.9,179.6 279.9,177.9 279.9,176.3 279.9,174.6 279.9,172.9 279.9,171.3 279.9,169.6 279.9,168.0 279.9,166.3 279.9,164.7 279.9,163.0 279.9,161.3 279.9,159.7 279.9,158.0 279.9,156.4 279.9,154.7 279.9,153.1 279.9,151.4 279.9,149.8 281.5,149.8Z" fill="#0081ff" fill-rule="evenodd"/>
<path d="M281.5,149.8 283.2,149.8 284.8,149.8 286.5,149.8 288.1,149.8 289.8,149.8 291.4,149.8 293.1,149.8 294.8,149.8 296.4,149.8 298.1,149.8 299.7,149.8 301.4,149.8 303.0,149.8 304.7,149.8 306.4,149.8 308.0,149.8 309.7,149.8 311.3,149.8 313.0,149.8 314.6,149.8 316.3,149.8 317.9,149.8 319.6,149.8 321.3,149.8 322.9,149.8 324.6,149.8 326.2,149.8 327.9,149.8 329.5,149.8 331.2,149.8 332.8,149.8 334.5,149.8 336.2,149.8 337.8,149.8 339.5,149.8 341.1,149.8 342.8,149.8 344.4,149.8 346.1,149.8 347.8,149.8 349.4,149.8 351.1,149.8 352.7,149.8 354.4,149.8 356.0,149.8 357.7,149.8 359.3,149.8 359.3,151.4 359.3,153.1 359.3,154.7 359.3,156.4 359.3,158.0 359.3,159.7 359.3,161.3 359.3,163.0 359.3,164.7 359.3,166.3 359.3,168.0 359.3,169.6 359.3,171.3 359.3,172.9 359.3,174.6 359.3,176.3 359.3,177.9 359.3,179.6 359.3,181.2 359.3,182.9 359.3,184.5 359.3,186.2 359.3,187.8 359.3,189.5 359.3,191.2 359.3,192.8 359.3,194.5 359.3,196.1 359.3,197.8 359.3,199.4 359.3,201.1 359.3,202.7 359.3,204.4 359.3,206.1 359.3,207.7 357.7,207.1 356.5,206.1 354.5,204.4 352.7,202.9 351.1,201.4 349.4,200.1 348.4,199.4 346.1,198.1 344.4,197.4 342.8,196.7 341.1,196.2 339.5,195.9 337.8,195.6 336.2,195.4 334.5,195.2 332.8,195.1 331.2,195.1 329.5,195.0 327.9,195.0 326.2,195.0 324.6,195.1 322.9,195.1 321.3,195.2 319.6,195.2 317.9,195.2 316.3,195.2 314.6,195.2 313.0,195.2 311.3,195.3 309.7,195.4 308.0,195.5 306.4,195.7 304.7,195.9 303.6,196.1 301.4,196.7 299.7,197.3 298.7,197.8 296.4,199.1 294.8,200.3 293.8,201.1 291.8,202.7 290.2,204.4 288.7,206.1 287.2,207.7 285.7,209.4 284.8,210.3 283.2,212.2 281.5,214.0 279.9,215.9 279.9,214.3 279.9,212.7 279.9,211.0 279.9,209.4 279.9,207.7 279.9,206.1 279.9,204.4 279.9,202.7 279.9,201.1 279.9,199.4 279.9,197.8 279.9,196.1 279.9,194.5 279.9,192.8 279.9,191.2 279.9,189.5 279.9,187.8 279.9,186.2 279.9,184.5 279.9,182.9 279.9,181.2 279.9,179.6 279.9,177.9 279.9,176.3 279.9,174.6 279.9,172.9 279.9,171.3 279.9,169.6 279.9,168.0 279.9,166.3 279.9,164.7 279.9,163.0 279.9,161.3 279.9,159.7 279.9,158.0 279.9,156.4 279.9,154.7 279.9,153.1 279.9,151.4 279.9,149.8 281.5,149.8Z" fill="#00b9ff" fill-rule="evenodd"/>
<path d="M281.5,149.8 283.2,149.8 284.8,149.8 286.5,149.8 288.1,149.8 289.8,149.8 291.4,149.8 293.1,149.8 294.8,149.8 296.4,149.8 298.1,149.8 299.7,149.8 301.4,149.8 303.0,149.8 304.7,149.8 306.4,149.8 308.0,149.8 309.7,149.8 311.3,149.8 313.0,149.8 314.6,149.8 316.3,149.8 317.9,149.8 319.6,149.8 321.3,149.8 322.9,149.8 324.6,149.8 326.2,149.8 327.9,149.8 329.5,149.8 331.2,149.8 332.8,149.8 334.5,149.8 336.2,149.8 337.8,149.8 339.5,149.8 341.1,149.8 342.8,149.8 344.4,149.8 346.1,149.8 347.8,149.8 349.4,149.8 351.1,149.8 352.7,149.8 354.4,149.8 356.0,149.8 357.7,149.8 359.3,149.8 359.3,151.4 359.3,153.1 359.3,154.7 359.3,156.4 359.3,158.0 359.3,159.7 359.3,161.3 359.3,163.0 359.3,164.7 359.3,166.3 359.3,168.0 359.3,169.6 359.3,171.3 359.3,172.9 359.3,174.6 359.3,176.3 359.3,177.9 359.3,179.6 359.3,181.2 359.3,182.9 359.3,184.5 359.3,186.2 359.3,187.8 359.3,189.5 359.3,191.2 359.3,192.8 359.3,194.5 359.3,196.1 359.3,197.8 359.3,199.4 359.3,201.1 359.3,202.7 359.3,204.4 359.3,205.8 357.7,204.6 356.0,203.4 355.1,202.7 353.1,201.1 351.1,199.4 349.4,198.3 347.8,197.3 346.1,196.5 344.4,195.8 342.8,195.2 341.1,194.7 340.0,194.5 337.8,194.0 336.2,193.8 334.5,193.6 332.8,193.5 331.2,193.4 329.5,193.4 327.9,193.4 326.2,193.4 324.6,193.5 322.9,193.6 321.3,193.6 319.6,193.7 317.9,193.7 316.3,193.6 314.6,193.6 313.0,193.6 311.3,193.6 309.7,193.7 308.0,193.9 306.4,194.0 304.7,194.3 303.0,194.6 301.4,195.1 299.7,195.6 298.7,196.1 296.4,197.4 294.8,198.5 293.6,199.4 291.5,201.1 289.8,202.7 288.3,204.4 286.8,206.1 285.1,207.7 283.4,209.4 281.7,211.0 280.0,212.7 279.9,211.0 279.9,209.4 279.9,207.7 279.9,206.1 279.9,204.4 279.9,202.7 279.9,201.1 279.9,199.4 279.9,197.8 279.9,196.1 279.9,194.5 279.9,192.8 279.9,191.2 279.9,189.5 279.9,187.8 279.9,186.2 279.9,184.5 279.9,182.9 279.9,181.2 279.9,179.6 279.9,177.9 279.9,176.3 279.9,174.6 279.9,172.9 279.9,171.3 279.9,169.6 279.9,168.0 279.9,166.3 279.9,164.7 279.9,163.0 279.9,161.3 279.9,159.7 279.9,158.0 279.9,156.4 279.9,154.7 279.9,153.1 279.9,151.4 279.9,149.8 281.5,149.8Z" fill="#09f1ee" fill-rule="evenodd"/>
<path d="M281.5,149.8 283.2,149.8 284.8,149.8 286.5,149.8 288.1,149.8 289.8,149.8 291.4,149.8 293.1,149.8 294.8,149.8 296.4,149.8 298.1,149.8 299.7,149.8 301.4,149.8 303.0,149.8 304.7,149.8 306.4,149.8 308.0,149.8 309.7,149.8 311.3,149.8 313.0,149.8 314.6,149.8 316.3,149.8 317.9,149.8 319.6,149.8 321.3,149.8 322.9,149.8 324.6,149.8 326.2,149.8 327.9,149.8 329.5,149.8 331.2,149.8 332.8,149.8 334.5,149.8 336.2,149.8 337.8,149.8 339.5,149.8 341.1,149.8 342.8,149.8 344.4,149.8 346.1,149.8 347.8,149.8 349.4,149.8 351.1,149.8 352.7,149.8 354.4,149.8 356.0,149.8 357.7,149.8 359.3,149.8 359.3,151.4 359.3,153.1 359.3,154.7 359.3,156.4 359.3,158.0 359.3,159.7 359.3,161.3 359.3,163.0 359.3,164.7 359.3,166.3 359.3,168.0 359.3,169.6 359.3,171.3 359.3,172.9 359.3,174.6 359.3,176.3 359.3,177.9 359.3,179.6 359.3,181.2 359.3,182.9 359.3,184.5 359.3,186.2 359.3,187.8 359.3,189.5 359.3,191.2 359.3,192.8 359.3,194.5 359.3,196.1 359.3,197.8 359.3,199.4 359.3,201.1 359.3,202.7 357.7,202.3 356.0,201.2 354.4,200.0 352.7,198.7 351.4,197.8 349.4,196.5 347.8,195.6 346.1,194.8 344.4,194.2 342.8,193.6 341.1,193.2 339.6,192.8 337.8,192.4 336.2,192.2 334.5,192.0 332.8,191.9 331.2,191.8 329.5,191.7 327.9,191.8 326.2,191.8 324.6,191.9 322.9,192.0 321.3,192.1 319.6,192.1 317.9,192.1 316.3,192.0 314.6,192.0 313.0,192.0 311.3,192.0 309.7,192.1 308.0,192.2 306.4,192.4 304.7,192.7 303.0,193.1 301.4,193.5 299.7,194.1 298.1,194.8 296.4,195.6 294.8,196.7 293.4,197.8 291.4,199.4 289.8,200.8 288.1,202.5 286.5,204.3 284.8,205.9 283.2,207.4 281.5,208.8 279.9,210.3 279.9,207.7 279.9,206.1 279.9,204.4 279.9,202.7 279.9,201.1 279.9,199.4 279.9,197.8 279.9,196.1 279.9,194.5 279.9,192.8 279.9,191.2 279.9,189.5 279.9,187.8 279.9,186.2 279.9,184.5 279.9,182.9 279.9,181.2 279.9,179.6 279.9,177.9 279.9,176.3 279.9,174.6 279.9,172.9 279.9,171.3 279.9,169.6 279.9,168.0 279.9,166.3 279.9,164.7 279.9,163.0 279.9,161.3 279.9,159.7 279.9,158.0 279.9,156.4 279.9,154.7 279.9,153.1 279.9,151.4 279.9,149.8 281.5,149.8Z" fill="#36ffc1" fill-rule="evenodd"/>
<path d="M281.5,149.8 283.2,149.8 284.8,149.8 286.5,149.8 288.1,149.8 289.8,149.8 291.4,149.8 293.1,149.8 294.8,149.8 296.4,149.8 298.1,149.8 299.7,149.8 301.4,149.8 303.0,149.8 304.7,149.8 306.4,149.8 308.0,149.8 309.7,149.8 311.3,149.8 313.0,149.8 314.6,149.8 316.3,149.8 317.9,149.8 319.6,149.8 321.3,149.8 322.9,149.8 324.6,149.8 326.2,149.8 327.9,149.8 329.5,149.8 331.2,149.8 332.8,149.8 334.5,149.8 336.2,149.8 337.8,149.8 339.5,149.8 341.1,149.8 342.8,149.8 344.4,149.8 346.1,149.8 347.8,149.8 349.4,149.8 351.1,149.8 352.7,149.8 354.4,149.8 356.0,149.8 357.7,149.8 359.3,149.8 359.3,151.4 359.3,153.1 359.3,154.7 359.3,156.4 359.3,158.0 359.3,159.7 359.3,161.3 359.3,163.0 359.3,164.7 359.3,166.3 359.3,168.0 359.3,169.6 359.3,171.3 359.3,172.9 359.3,174.6 359.3,176.3 359.3,177.9 359.3,179.6 359.3,181.2 359.3,182.9 359.3,184.5 359.3,186.2 359.3,187.8 359.3,189.5 359.3,191.2 359.3,192.8 359.3,194.5 359.3,196.1 359.3,197.8 359.3,199.4 359.3,200.9 357.7,200.0 356.0,199.0 354.4,197.8 352.7,196.8 351.7,196.1 349.4,194.8 347.8,193.9 346.1,193.2 344.4,192.5 342.8,192.0 341.1,191.5 339.6,191.2 337.8,190.8 336.2,190.6 334.5,190.4 332.8,190.2 331.2,190.2 329.5,190.1 327.9,190.1 326.2,190.2 324.6,190.2 322.9,190.3 321.3,190.4 319.6,190.5 317.9,190.5 316.3,190.4 314.6,190.4 313.0,190.4 311.3,190.4 309.7,190.5 308.0,190.6 306.4,190.8 304.7,191.1 303.0,191.5 301.4,192.0 299.7,192.5 298.1,193.1 296.4,193.9 295.5,194.5 293.1,196.1 291.4,197.6 289.8,199.0 288.1,200.5 286.5,202.2 284.8,203.8 283.2,205.2 282.1,206.1 280.0,207.7 279.9,206.1 279.9,204.4 279.9,202.7 279.9,201.1 279.9,199.4 279.9,197.8 279.9,196.1 279.9,194.5 279.9,192.8 279.9,191.2 279.9,189.5 279.9,187.8 279.9,186.2 279.9,184.5 279.9,182.9 279.9,181.2 279.9,179.6 279.9,177.9 279.9,176.3 279.9,174.6 279.9,172.9 279.9,171.3 279.9,169.6 279.9,168.0 279.9,166.3 279.9,164.7 279.9,163.0 279.9,161.3 279.9,159.7 279.9,158.0 279.9,156.4 279.9,154.7 279.9,153.1 279.9,151.4 279.9,149.8 281.5,149.8Z" fill="#63ff94" fill-rule="evenodd"/>
<path d="M281.5,149.8 283.2,149.8 284.8,149.8 286.5,149.8 288.1,149.8 289.8,149.8 291.4,149.8 293.1,149.8 294.8,149.8 296.4,149.8 298.1,149.8 299.7,149.8 301.4,149.8 303.0,149.8 304.7,149.8 306.4,149.8 308.0,149.8 309.7,149.8 311.3,149.8 313.0,149.8 314.6,149.8 316.3,149.8 317.9,149.8 319.6,149.8 321.3,149.8 322.9,149.8 324.6,149.8 326.2,149.8 327.9,149.8 329.5,149.8 331.2,149.8 332.8,149.8 334.5,149.8 336.2,149.8 337.8,149.8 339.5,149.8 341.1,149.8 342.8,149.8 344.4,149.8 346.1,149.8 347.8,149.8 349.4,149.8 351.1,149.8 352.7,149.8 354.4,149.8 356.0,149.8 357.7,149.8 359.3,149.8 359.3,151.4 359.3,153.1 359.3,154.7 359.3,156.4 359.3,158.0 359.3,159.7 359.3,161.3 359.3,163.0 359.3,164.7 359.3,166.3 359.3,168.0 359.3,169.6 359.3,171.3 359.3,172.9 359.3,174.6 359.3,176.3 359.3,177.9 359.3,179.6 359.3,181.2 359.3,182.9 359.3,184.5 359.3,186.2 359.3,187.8 359.3,189.5 359.3,191.2 359.3,192.8 359.3,194.5 359.3,196.1 359.3,197.8 358.0,197.8 356.0,196.7 354.4,195.7 352.7,194.8 351.1,193.9 349.4,193.0 347.8,192.2 346.1,191.4 344.4,190.8 342.8,190.2 341.1,189.8 339.8,189.5 337.8,189.1 336.2,188.9 334.5,188.7 332.8,188.6 331.2,188.5 329.5,188.4 327.9,188.4 326.2,188.5 324.6,188.5 322.9,188.6 321.3,188.7 319.6,188.7 317.9,188.7 316.3,188.7 314.6,188.7 313.0,188.7 311.3,188.7 309.7,188.8 308.0,189.0 306.4,189.2 304.7,189.5 303.0,189.8 301.4,190.3 299.7,190.9 298.1,191.4 296.4,192.1 295.2,192.8 293.1,194.2 291.4,195.5 289.8,197.1 288.1,198.6 287.2,199.4 285.4,201.1 283.5,202.7 281.5,204.4 279.9,205.6 279.9,204.4 279.9,202.7 279.9,201.1 279.9,199.4 279.9,197.8 279.9,196.1 279.9,194.5 279.9,192.8 279.9,191.2 279.9,189.5 279.9,187.8 279.9,186.2 279.9,184.5 279.9,182.9 279.9,181.2 279.9,179.6 279.9,177.9 279.9,176.3 279.9,174.6 279.9,172.9 279.9,171.3 279.9,169.6 279.9,168.0 279.9,166.3 279.9,164.7 279.9,163.0 279.9,161.3 279.9,159.7 279.9,158.0 279.9,156.4 279.9,154.7 279.9,153.1 279.9,151.4 279.9,149.8 281.5,149.8Z" fill="#94ff63" fill-rule="evenodd"/>
<path d="M281.5,149.8 283.2,149.8 284.8,149.8 286.5,149.8 288.1,149.8 289.8,149.8 291.4,149.8 293.1,149.8 294.8,149.8 296.4,149.8 298.1,149.8 299.7,149.8 301.4,149.8 303.0,149.8 304.7,149.8 306.4,149.8 308.0,149.8 309.7,149.8 311.3,149.8 313.0,149.8 314.6,149.8 316.3,149.8 317.9,149.8 319.6,149.8 321.3,149.8 322.9,149.8 324.6,149.8 326.2,149.8 327.9,149.8 329.5,149.8 331.2,149.8 332.8,149.8 334.5,149.8 336.2,149.8 337.8,149.8 339.5,149.8 341.1,149.8 342.8,149.8 344.4,149.8 346.1,149.8 347.8,149.8 349.4,149.8 351.1,149.8 352.7,149.8 354.4,149.8 356.0,149.8 357.7,149.8 359.3,149.8 359.3,151.4 359.3,153.1 359.3,154.7 359.3,156.4 359.3,158.0 359.3,159.7 359.3,161.3 359.3,163.0 359.3,164.7 359.3,166.3 359.3,168.0 359.3,169.6 359.3,171.3 359.3,172.9 359.3,174.6 359.3,176.3 359.3,177.9 359.3,179.6 359.3,181.2 359.3,182.9 359.3,184.5 359.3,186.2 359.3,187.8 359.3,189.5 359.3,191.2 359.3,192.8 359.3,194.5 359.3,195.9 357.7,195.1 356.5,194.5 354.4,193.4 353.1,192.8 351.1,191.8 349.6,191.2 347.8,190.3 346.1,189.5 344.4,188.9 342.8,188.4 341.1,187.9 339.5,187.6 337.8,187.3 336.2,187.1 334.5,186.9 332.8,186.8 331.2,186.7 329.5,186.7 327.9,186.7 326.2,186.7 324.6,186.7 322.9,186.8 321.3,186.8 319.6,186.8 317.9,186.9 316.3,186.9 314.6,186.9 313.0,186.9 311.3,187.0 309.7,187.1 308.0,187.2 306.4,187.4 304.7,187.7 303.0,188.0 301.4,188.4 299.7,189.0 298.3,189.5 296.4,190.3 294.8,191.1 293.1,192.0 292.0,192.8 290.1,194.5 288.5,196.1 286.7,197.8 284.9,199.4 283.2,200.8 281.5,202.1 280.6,202.7 279.9,201.1 279.9,199.4 279.9,197.8 279.9,196.1 279.9,194.5 279.9,192.8 279.9,191.2 279.9,189.5 279.9,187.8 279.9,186.2 279.9,184.5 279.9,182.9 279.9,181.2 279.9,179.6 279.9,177.9 279.9,176.3 279.9,174.6 279.9,172.9 279.9,171.3 279.9,169.6 279.9,168.0 279.9,166.3 279.9,164.7 279.9,163.0 279.9,161.3 279.9,159.7 279.9,158.0 279.9,156.4 279.9,154.7 279.9,153.1 279.9,151.4 279.9,149.8 281.5,149.8Z" fill="#c1ff36" fill-rule="evenodd"/>
<path d="M281.5,149.8 283.2,149.8 284.8,149.8 286.5,149.8 288.1,149.8 289.8,149.8 291.4,149.8 293.1,149.8 294.8,149.8 296.4,149.8 298.1,149.8 299.7,149.8 301.4,149.8 303.0,149.8 304.7,149.8 306.4,149.8 308.0,149.8 309.7,149.8 311.3,149.8 313.0,149.8 314.6,149.8 316.3,149.8 317.9,149.8 319.6,149.8 321.3,149.8 322.9,149.8 324.6,149.8 326.2,149.8 327.9,149.8 329.5,149.8 331.2,149.8 332.8,149.8 334.5,149.8 336.2,149.8 337.8,149.8 339.5,149.8 341.1,149.8 342.8,149.8 344.4,149.8 346.1,149.8 347.8,149.8 349.4,149.8 351.1,149.8 352.7,149.8 354.4,149.8 356.0,149.8 357.7,149.8 359.3,149.8 359.3,151.4 359.3,153.1 359.3,154.7 359.3,156.4 359.3,158.0 359.3,159.7 359.3,161.3 359.3,163.0 359.3,164.7 359.3,166.3 359.3,168.0 359.3,169.6 359.3,171.3 359.3,172.9 359.3,174.6 359.3,176.3 359.3,177.9 359.3,179.6 359.3,181.2 359.3,182.9 359.3,184.5 359.3,186.2 359.3,187.8 359.3,189.5 359.3,191.2 359.3,192.8 357.7,192.5 356.0,191.8 354.6,191.2 352.7,190.4 351.1,189.7 349.4,188.9 347.8,188.2 346.1,187.4 344.4,186.8 342.8,186.4 341.1,186.0 339.5,185.7 337.8,185.5 336.2,185.3 334.5,185.1 332.8,185.0 331.2,184.9 329.5,184.9 327.9,184.8 326.2,184.8 324.6,184.8 322.9,184.8 321.3,184.9 319.6,184.9 317.9,184.9 316.3,185.0 314.6,185.0 313.0,185.1 311.3,185.2 309.7,185.3 308.0,185.4 306.4,185.6 304.7,185.8 303.0,186.1 301.4,186.4 299.7,186.9 298.1,187.6 296.4,188.3 294.8,189.0 293.1,189.9 291.4,190.8 289.8,192.2 288.1,193.8 286.5,195.5 284.8,197.1 283.2,198.5 281.9,199.4 279.9,200.9 279.9,199.4 279.9,197.8 279.9,196.1 279.9,194.5 279.9,192.8 279.9,191.2 279.9,189.5 279.9,187.8 279.9,186.2 279.9,184.5 279.9,182.9 279.9,181.2 279.9,179.6 279.9,177.9 279.9,176.3 279.9,174.6 279.9,172.9 279.9,171.3 279.9,169.6 279.9,168.0 279.9,166.3 279.9,164.7 279.9,163.0 279.9,161.3 279.9,159.7 279.9,158.0 279.9,156.4 279.9,154.7 279.9,153.1 279.9,151.4 279.9,149.8 281.5,149.8Z" fill="#eeff09" fill-rule="evenodd"/>
<path d="M281.5,149.8 283.2,149.8 284.8,149.8 286.5,149.8 288.1,149.8 289.8,149.8 291.4,149.8 293.1,149.8 294.8,149.8 296.4,149.8 298.1,149.8 299.7,149.8 301.4,149.8 303.0,149.8 304.7,149.8 306.4,149.8 308.0,149.8 309.7,149.8 311.3,149.8 313.0,149.8 314.6,149.8 316.3,149.8 317.9,149.8 319.6,149.8 321.3,149.8 322.9,149.8 324.6,149.8 326.2,149.8 327.9,149.8 329.5,149.8 331.2,149.8 332.8,149.8 334.5,149.8 336.2,149.8 337.8,149.8 339.5,149.8 341.1,149.8 342.8,149.8 344.4,149.8 346.1,149.8 347.8,149.8 349.4,149.8 351.1,149.8 352.7,149.8 354.4,149.8 356.0,149.8 357.7,149.8 359.3,149.8 359.3,151.4 359.3,153.1 359.3,154.7 359.3,156.4 359.3,158.0 359.3,159.7 359.3,161.3 359.3,163.0 359.3,164.7 359.3,166.3 359.3,168.0 359.3,169.6 359.3,171.3 359.3,172.9 359.3,174.6 359.3,176.3 359.3,177.9 359.3,179.6 359.3,181.2 359.3,182.9 359.3,184.5 359.3,186.2 359.3,187.8 359.3,189.5 357.7,189.9 356.6,189.5 354.4,188.7 352.7,188.1 351.1,187.4 349.4,186.6 347.8,185.9 346.1,185.2 344.4,184.6 342.8,184.2 341.1,183.9 339.5,183.7 337.8,183.5 336.2,183.3 334.5,183.2 332.8,183.1 331.2,183.0 329.5,183.0 327.9,182.9 326.2,182.9 324.6,182.9 322.9,182.9 321.3,182.9 319.6,182.9 317.9,183.0 316.3,183.0 314.6,183.1 313.0,183.2 311.3,183.3 309.7,183.4 308.0,183.5 306.4,183.7 304.7,183.9 303.0,184.2 301.4,184.5 299.7,184.9 298.1,185.5 296.5,186.2 294.8,187.0 293.1,187.7 291.4,188.6 290.0,189.5 288.1,191.0 286.5,192.7 284.8,194.4 283.2,196.0 281.5,197.2 279.9,198.3 279.9,196.1 279.9,194.5 279.9,192.8 279.9,191.2 279.9,189.5 279.9,187.8 279.9,186.2 279.9,184.5 279.9,182.9 279.9,181.2 279.9,179.6 279.9,177.9 279.9,176.3 279.9,174.6 279.9,172.9 279.9,171.3 279.9,169.6 279.9,168.0 279.9,166.3 279.9,164.7 279.9,163.0 279.9,161.3 279.9,159.7 279.9,158.0 279.9,156.4 279.9,154.7 279.9,153.1 279.9,151.4 279.9,149.8 281.5,149.8Z" fill="#ffcc00" fill-rule="evenodd"/>
<path d="M281.5,149.8 283.2,149.8 284.8,149.8 286.5,149.8 288.1,149.8 289.8,149.8 291.4,149.8 293.1,149.8 294.8,149.8 296.4,149.8 298.1,149.8 299.7,149.8 301.4,149.8 303.0,149.8 304.7,149.8 306.4,149.8 308.0,149.8 309.7,149.8 311.3,149.8 313.0,149.8 314.6,149.8 316.3,149.8 317.9,149.8 319.6,149.8 321.3,149.8 322.9,149.8 324.6,149.8 326.2,149.8 327.9,149.8 329.5,149.8 331.2,149.8 332.8,149.8 334.5,149.8 336.2,149.8 337.8,149.8 339.5,149.8 341.1,149.8 342.8,149.8 344.4,149.8 346.1,149.8 347.8,149.8 349.4,149.8 351.1,149.8 352.7,149.8 354.4,149.8 356.0,149.8 357.7,149.8 359.3,149.8 359.3,151.4 359.3,153.1 359.3,154.7 359.3,156.4 359.3,158.0 359.3,159.7 359.3,161.3 359.3,163.0 359.3,164.7 359.3,166.3 359.3,168.0 359.3,169.6 359.3,171.3 359.3,172.9 359.3,174.6 359.3,176.3 359.3,177.9 359.3,179.6 359.3,181.2 359.3,182.9 359.3,184.5 359.3,186.2 359.3,187.8 357.7,187.3 356.0,186.8 354.4,186.2 352.7,185.6 351.1,184.9 349.4,184.1 347.8,183.4 346.5,182.9 344.4,182.3 342.8,182.0 341.1,181.8 339.5,181.6 337.8,181.4 336.2,181.3 335.0,181.2 332.8,181.1 331.2,181.0 329.5,180.9 327.9,180.9 326.2,180.9 324.6,180.9 322.9,180.9 321.3,180.9 319.6,180.9 317.9,181.0 316.3,181.1 314.6,181.1 313.0,181.2 311.3,181.3 309.7,181.4 308.0,181.6 306.4,181.8 304.7,182.0 303.0,182.2 301.4,182.6 300.1,182.9 298.1,183.5 296.4,184.1 295.3,184.5 293.1,185.5 291.6,186.2 289.8,187.1 288.7,187.8 286.7,189.5 285.0,191.2 283.3,192.8 281.5,194.3 279.9,195.5 279.9,192.8 279.9,191.2 279.9,189.5 279.9,187.8 279.9,186.2 279.9,184.5 279.9,182.9 279.9,181.2 279.9,179.6 279.9,177.9 279.9,176.3 279.9,174.6 279.9,172.9 279.9,171.3 279.9,169.6 279.9,168.0 279.9,166.3 279.9,164.7 279.9,163.0 279.9,161.3 279.9,159.7 279.9,158.0 279.9,156.4 279.9,154.7 279.9,153.1 279.9,151.4 279.9,149.8 281.5,149.8Z" fill="#ff9400" fill-rule="evenodd"/>
<path d="M281.5,149.8 283.2,149.8 284.8,149.8 286.5,149.8 288.1,149.8 289.8,149.8 291.4,149.8 293.1,149.8 294.8,149.8 296.4,149.8 298.1,149.8 299.7,149.8 301.4,149.8 303.0,149.8 304.7,149.8 306.4,149.8 308.0,149.8 309.7,149.8 311.3,149.8 313.0,149.8 314.6,149.8 316.3,149.8 317.9,149.8 319.6,149.8 321.3,149.8 322.9,149.8 324.6,149.8 326.2,149.8 327.9,149.8 329.5,149.8 331.2,149.8 332.8,149.8 334.5,149.8 336.2,149.8 337.8,149.8 339.5,149.8 341.1,149.8 342.8,149.8 344.4,149.8 346.1,149.8 347.8,149.8 349.4,149.8 351.1,149.8 352.7,149.8 354.4,149.8 356.0,149.8 357.7,149.8 359.3,149.8 359.3,151.4 359.3,153.1 359.3,154.7 359.3,156.4 359.3,158.0 359.3,159.7 359.3,161.3 359.3,163.0 359.3,164.7 359.3,166.3 359.3,168.0 359.3,169.6 359.3,171.3 359.3,172.9 359.3,174.6 359.3,176.3 359.3,177.9 359.3,179.6 359.3,181.2 359.3,182.9 359.3,184.5 357.7,184.7 356.0,184.2 354.4,183.6 352.7,183.0 351.1,182.2 349.4,181.4 347.8,180.7 346.1,180.2 344.4,179.8 342.8,179.6 341.1,179.5 339.5,179.4 337.8,179.2 336.2,179.1 334.5,179.0 332.8,178.9 331.2,178.8 329.5,178.8 327.9,178.8 326.2,178.8 324.6,178.8 322.9,178.8 321.3,178.9 319.6,178.9 317.9,178.9 316.3,179.0 314.6,179.0 313.0,179.1 311.3,179.2 309.7,179.3 308.0,179.5 306.4,179.7 304.7,179.9 303.0,180.2 301.4,180.5 299.7,180.9 298.3,181.2 296.4,181.7 294.8,182.3 293.4,182.9 291.4,183.7 289.8,184.4 288.1,185.3 286.8,186.2 284.8,187.8 283.2,189.4 281.5,190.9 279.9,192.2 279.9,189.5 279.9,187.8 279.9,186.2 279.9,184.5 279.9,182.9 279.9,181.2 279.9,179.6 279.9,177.9 279.9,176.3 279.9,174.6 279.9,172.9 279.9,171.3 279.9,169.6 279.9,168.0 279.9,166.3 279.9,164.7 279.9,163.0 279.9,161.3 279.9,159.7 279.9,158.0 279.9,156.4 279.9,154.7 279.9,153.1 279.9,151.4 279.9,149.8 281.5,149.8Z" fill="#ff6000" fill-rule="evenodd"/>
<path d="M281.5,149.8 283.2,149.8 284.8,149.8 286.5,149.8 288.1,149.8 289.8,149.8 291.4,149.8 293.1,149.8 294.8,149.8 296.4,149.8 298.1,149.8 299.7,149.8 301.4,149.8 303.0,149.8 304.7,149.8 306.4,149.8 308.0,149.8 309.7,149.8 311.3,149.8 313.0,149.8 314.6,149.8 316.3,149.8 317.9,149.8 319.6,149.8 321.3,149.8 322.9,149.8 324.6,149.8 326.2,149.8 327.9,149.8 329.5,149.8 331.2,149.8 332.8,149.8 334.5,149.8 336.2,149.8 337.8,149.8 339.5,149.8 341.1,149.8 342.8,149.8 344.4,149.8 346.1,149.8 347.8,149.8 349.4,149.8 351.1,149.8 352.7,149.8 354.4,149.8 356.0,149.8 357.7,149.8 359.3,149.8 359.3,151.4 359.3,153.1 359.3,154.7 359.3,156.4 359.3,158.0 359.3,159.7 359.3,161.3 359.3,163.0 359.3,164.7 359.3,166.3 359.3,168.0 359.3,169.6 359.3,171.3 359.3,172.9 359.3,174.6 359.3,176.3 359.3,177.9 359.3,179.6 359.3,181.2 357.7,181.9 356.0,181.4 354.4,180.8 352.7,180.1 351.6,179.6 349.4,178.5 347.8,177.9 346.1,177.5 344.4,177.2 342.8,177.1 341.1,177.0 339.5,176.9 337.8,176.8 336.2,176.7 334.5,176.6 332.8,176.5 331.2,176.4 329.5,176.4 327.9,176.4 326.2,176.4 324.6,176.5 322.9,176.6 321.3,176.7 319.6,176.7 317.9,176.7 316.3,176.7 314.6,176.7 313.0,176.8 311.3,176.8 309.7,176.9 308.0,177.1 306.4,177.3 304.7,177.6 303.2,177.9 301.4,178.2 299.7,178.5 298.1,178.8 296.4,179.1 294.8,179.5 293.1,180.0 291.4,180.5 289.8,181.2 288.1,181.9 286.5,182.8 284.8,183.9 283.9,184.5 282.0,186.2 280.1,187.8 279.9,186.2 279.9,184.5 279.9,182.9 279.9,181.2 279.9,179.6 279.9,177.9 279.9,176.3 279.9,174.6 279.9,172.9 279.9,171.3 279.9,169.6 279.9,168.0 279.9,166.3 279.9,164.7 279.9,163.0 279.9,161.3 279.9,159.7 279.9,158.0 279.9,156.4 279.9,154.7 279.9,153.1 279.9,151.4 279.9,149.8 281.5,149.8Z" fill="#ff2d00" fill-rule="evenodd"/>
<path d="M281.5,149.8 283.2,149.8 284.8,149.8 286.5,149.8 288.1,149.8 289.8,149.8 291.4,149.8 293.1,149.8 294.8,149.8 296.4,149.8 298.1,149.8 299.7,149.8 301.4,149.8 303.0,149.8 304.7,149.8 306.4,149.8 308.0,149.8 309.7,149.8 311.3,149.8 313.0,149.8 314.6,149.8 316.3,149.8 317.9,149.8 319.6,149.8 321.3,149.8 322.9,149.8 324.6,149.8 326.2,149.8 327.9,149.8 329.5,149.8 331.2,149.8 332.8,149.8 334.5,149.8 336.2,149.8 337.8,149.8 339.5,149.8 341.1,149.8 342.8,149.8 344.4,149.8 346.1,149.8 347.8,149.8 349.4,149.8 351.1,149.8 352.7,149.8 354.4,149.8 356.0,149.8 357.7,149.8 359.3,149.8 359.3,151.4 359.3,153.1 359.3,154.7 359.3,156.4 359.3,158.0 359.3,159.7 359.3,161.3 359.3,163.0 359.3,164.7 359.3,166.3 359.3,168.0 359.3,169.6 359.3,171.3 359.3,172.9 359.3,174.6 359.3,176.3 359.3,177.9 357.7,178.5 356.0,178.1 354.4,177.3 352.7,176.5 351.1,175.6 349.4,174.9 348.2,174.6 346.1,174.1 344.4,173.9 342.8,173.9 341.1,173.9 339.5,173.9 337.8,173.8 336.2,173.7 334.5,173.6 332.8,173.5 331.2,173.5 329.5,173.5 327.9,173.5 326.2,173.6 324.6,173.7 322.9,173.8 321.3,174.0 319.6,174.1 317.9,174.1 316.3,174.0 314.6,174.0 313.0,174.0 311.3,174.0 309.7,174.1 308.0,174.2 306.4,174.5 304.7,174.7 303.0,175.0 301.4,175.3 299.7,175.5 298.1,175.6 296.4,175.7 294.8,175.9 293.1,176.1 291.4,176.5 289.8,176.9 288.1,177.5 286.5,178.2 284.8,179.1 283.2,180.1 281.7,181.2 279.9,182.7 279.9,181.2 279.9,179.6 279.9,177.9 279.9,176.3 279.9,174.6 279.9,172.9 279.9,171.3 279.9,169.6 279.9,168.0 279.9,166.3 279.9,164.7 279.9,163.0 279.9,161.3 279.9,159.7 279.9,158.0 279.9,156.4 279.9,154.7 279.9,153.1 279.9,151.4 279.9,149.8 281.5,149.8Z" fill="#df0000" fill-rule="evenodd"/>
<path d="M281.5,149.8 283.2,149.8 284.8,149.8 286.5,149.8 288.1,149.8 289.8,149.8 291.4,149.8 293.1,149.8 294.8,149.8 296.4,149.8 298.1,149.8 299.7,149.8 301.4,149.8 303.0,149.8 304.7,149.8 306.4,149.8 308.0,149.8 309.7,149.8 311.3,149.8 313.0,149.8 314.6,149.8 316.3,149.8 317.9,149.8 319.6,149.8 321.3,149.8 322.9,149.8 324.6,149.8 326.2,149.8 327.9,149.8 329.5,149.8 331.2,149.8 332.8,149.8 334.5,149.8 336.2,149.8 337.8,149.8 339.5,149.8 341.1,149.8 342.8,149.8 344.4,149.8 346.1,149.8 347.8,149.8 349.4,149.8 351.1,149.8 352.7,149.8 354.4,149.8 356.0,149.8 357.7,149.8 359.3,149.8 359.3,151.4 359.3,153.1 359.3,154.7 359.3,156.4 359.3,158.0 359.3,159.7 359.3,161.3 359.3,163.0 359.3,164.7 359.3,166.3 359.3,168.0 359.3,169.6 359.3,171.3 359.3,172.9 359.3,174.1 357.7,173.5 356.5,172.9 354.4,171.8 352.7,170.8 351.1,170.0 349.9,169.6 347.8,169.2 346.1,169.1 344.4,169.1 342.8,169.3 341.1,169.4 339.5,169.6 338.0,169.6 336.2,169.7 334.5,169.7 332.8,169.7 331.2,169.8 329.5,169.8 327.9,169.9 326.2,170.0 324.6,170.1 322.9,170.2 321.3,170.3 319.6,170.4 317.9,170.4 316.3,170.4 314.6,170.4 313.0,170.4 311.3,170.3 309.7,170.3 308.0,170.3 306.4,170.3 304.7,170.4 303.0,170.4 301.4,170.3 299.7,170.3 298.1,170.1 296.4,170.0 294.8,169.9 293.1,169.8 291.4,169.8 289.8,170.1 288.1,170.7 286.9,171.3 284.8,172.4 283.2,173.5 281.8,174.6 279.9,176.1 279.9,174.6 279.9,172.9 279.9,171.3 279.9,169.6 279.9,168.0 279.9,166.3 279.9,164.7 279.9,163.0 279.9,161.3 279.9,159.7 279.9,158.0 279.9,156.4 279.9,154.7 279.9,153.1 279.9,151.4 279.9,149.8 281.5,149.8Z" fill="#9f0000" fill-rule="evenodd"/>
<path d="M359.3,219.3 358.0,217.7 356.7,216.0 356.0,215.2 355.4,214.3 354.4,213.0 352.9,211.0 351.7,209.4 351.1,208.6 350.4,207.7 349.4,206.5 347.8,205.0 346.1,203.8 344.5,202.7 342.8,201.9 341.1,201.1 339.5,200.7 337.8,200.5 336.2,200.4 334.5,200.4 332.8,200.4 331.2,200.4 329.5,200.3 327.9,200.3 326.2,200.2 324.6,200.1 322.9,200.0 321.3,200.0 319.6,199.9 317.9,200.0 316.3,200.1 314.6,200.3 313.0,200.4 311.3,200.6 309.7,200.7 308.0,200.9 306.4,201.0 304.7,201.2 303.0,201.6 301.4,202.0 299.8,202.7 298.1,203.9 296.4,205.0 295.1,206.1 293.2,207.7 291.7,209.4 290.5,211.0 289.8,212.1 288.4,214.3 287.5,216.0 286.5,217.7 285.6,219.3 284.8,220.8 283.8,222.6 283.2,223.8 281.9,225.9 280.9,227.6 279.9,229.1" fill="none" stroke="#000" stroke-opacity="0.4" stroke-width="0.35"/>
<path d="M359.3,207.3 357.7,206.1 356.0,204.8 354.4,203.5 353.6,202.7 352.7,202.0 351.6,201.1 349.5,199.4 347.8,198.3 346.7,197.8 344.4,196.7 342.8,196.1 341.1,195.6 339.5,195.3 337.8,195.0 336.2,194.7 334.5,194.6 333.2,194.5 331.2,194.4 329.5,194.4 327.9,194.4 326.2,194.4 324.6,194.4 322.9,194.5 321.3,194.6 319.6,194.6 317.9,194.6 316.3,194.6 314.6,194.6 313.0,194.6 311.3,194.6 309.7,194.7 308.0,194.8 306.4,195.0 304.7,195.3 303.0,195.6 301.4,196.0 299.7,196.6 298.1,197.4 296.4,198.4 295.0,199.4 293.1,200.9 291.4,202.3 289.8,204.0 288.1,205.8 286.5,207.6 284.8,209.3 283.2,211.0 281.6,212.7 280.1,214.3" fill="none" stroke="#000" stroke-opacity="0.4" stroke-width="0.35"/>
<path d="M359.3,198.5 358.0,197.8 356.0,196.7 355.1,196.1 352.7,194.8 351.1,193.9 349.4,193.0 347.8,192.2 346.1,191.4 344.4,190.8 342.8,190.2 341.1,189.8 339.8,189.5 337.8,189.1 336.2,188.9 334.5,188.7 332.8,188.6 331.2,188.5 329.5,188.4 327.9,188.4 326.2,188.5 324.6,188.5 322.9,188.6 321.3,188.7 319.6,188.7 317.9,188.7 316.3,188.7 314.6,188.7 313.0,188.7 311.3,188.7 309.7,188.8 308.0,189.0 306.4,189.2 304.7,189.5 303.0,189.8 301.4,190.3 299.7,190.9 298.1,191.4 296.4,192.1 295.2,192.8 293.1,194.2 291.4,195.5 289.8,197.1 289.0,197.8 288.1,198.6 287.2,199.4 286.5,200.1 285.4,201.1 283.5,202.7 281.5,204.4 279.9,205.6" fill="none" stroke="#000" stroke-opacity="0.4" stroke-width="0.35"/>
<path d="M359.3,189.0 357.7,188.4 356.2,187.8 354.4,187.2 352.7,186.6 351.1,185.9 349.4,185.1 348.1,184.5 346.1,183.7 344.4,183.2 342.8,182.9 341.1,182.7 339.5,182.5 337.8,182.3 336.2,182.1 334.5,182.0 332.8,181.9 331.2,181.8 329.5,181.8 327.9,181.7 326.2,181.7 324.6,181.7 322.9,181.7 321.3,181.7 319.6,181.7 317.9,181.8 316.3,181.9 314.6,181.9 313.0,182.0 311.3,182.1 309.7,182.2 308.0,182.4 306.4,182.6 304.7,182.8 303.0,183.0 301.4,183.3 299.7,183.7 298.1,184.3 296.4,184.9 294.8,185.7 293.6,186.2 291.4,187.2 290.3,187.8 288.1,189.4 286.5,190.9 284.8,192.6 283.2,194.2 281.5,195.5 280.7,196.1" fill="none" stroke="#000" stroke-opacity="0.4" stroke-width="0.35"/>
<path d="M359.3,179.5 357.7,179.2 356.0,178.7 354.4,178.0 352.7,177.1 351.1,176.3 349.4,175.6 347.8,175.1 346.1,174.7 344.7,174.6 342.8,174.5 341.1,174.5 339.5,174.5 337.8,174.4 336.2,174.2 334.5,174.1 332.8,174.1 331.2,174.0 329.5,174.0 327.9,174.0 326.2,174.1 324.6,174.2 322.9,174.3 321.3,174.5 319.7,174.6 317.9,174.6 316.3,174.5 314.6,174.5 313.0,174.5 311.3,174.5 309.7,174.6 308.0,174.8 306.4,175.0 304.7,175.2 303.0,175.5 301.4,175.9 299.7,176.1 298.1,176.2 296.4,176.4 294.8,176.6 293.1,176.8 291.4,177.2 289.8,177.7 288.1,178.3 286.5,179.0 285.5,179.6 283.2,181.0 281.5,182.3 279.9,183.6" fill="none" stroke="#000" stroke-opacity="0.4" stroke-width="0.35"/>
</g>
<circle cx="319.59999999999997" cy="189.5" r="34.6" fill="none" stroke="#000" stroke-width="1"/>
<polyline points="314.4,155.5 319.6,149.5 324.8,155.5" fill="none" stroke="#000" stroke-width="1" stroke-linejoin="miter"/>
<path d="M285.3,181.3 Q281.5,179.0 281.5,183.5 L281.5,196.0 Q281.5,200.3 284.9,198.5" fill="none" stroke="#000" stroke-width="1.1"/>
<path d="M353.9,181.3 Q357.7,179.0 357.7,183.5 L357.7,196.0 Q357.7,200.3 354.3,198.5" fill="none" stroke="#000" stroke-width="1.1"/>
<circle cx="319.6" cy="155.3" r="0.95" fill="#000"/>
<circle cx="319.6" cy="170.7" r="0.95" fill="#000"/>
<circle cx="319.6" cy="188.8" r="0.95" fill="#000"/>
<circle cx="319.6" cy="207.0" r="0.95" fill="#000"/>
<circle cx="319.6" cy="215.0" r="0.95" fill="#000"/>
<circle cx="319.6" cy="222.7" r="0.95" fill="#000"/>
<circle cx="330.3" cy="155.9" r="0.95" fill="#000"/>
<circle cx="308.9" cy="155.9" r="0.95" fill="#000"/>
<circle cx="349.3" cy="167.3" r="0.95" fill="#000"/>
<circle cx="289.9" cy="167.3" r="0.95" fill="#000"/>
<circle cx="335.0" cy="170.7" r="0.95" fill="#000"/>
<circle cx="304.2" cy="170.7" r="0.95" fill="#000"/>
<circle cx="346.1" cy="179.1" r="0.95" fill="#000"/>
<circle cx="293.1" cy="179.1" r="0.95" fill="#000"/>
<circle cx="328.7" cy="179.1" r="0.95" fill="#000"/>
<circle cx="310.5" cy="179.1" r="0.95" fill="#000"/>
<circle cx="355.5" cy="188.8" r="0.95" fill="#000"/>
<circle cx="283.7" cy="188.8" r="0.95" fill="#000"/>
<circle cx="338.1" cy="188.8" r="0.95" fill="#000"/>
<circle cx="301.1" cy="188.8" r="0.95" fill="#000"/>
<circle cx="346.1" cy="197.9" r="0.95" fill="#000"/>
<circle cx="293.1" cy="197.9" r="0.95" fill="#000"/>
<circle cx="328.7" cy="197.9" r="0.95" fill="#000"/>
<circle cx="310.5" cy="197.9" r="0.95" fill="#000"/>
<circle cx="335.0" cy="207.0" r="0.95" fill="#000"/>
<circle cx="304.2" cy="207.0" r="0.95" fill="#000"/>
<circle cx="349.3" cy="210.3" r="0.95" fill="#000"/>
<circle cx="289.9" cy="210.3" r="0.95" fill="#000"/>
<circle cx="330.3" cy="222.1" r="0.95" fill="#000"/>
<circle cx="308.9" cy="222.1" r="0.95" fill="#000"/>
<clipPath id="clipD"><ellipse cx="430.9" cy="189.5" rx="37.099999999999994" ry="36.4"/></clipPath>
<g clip-path="url(#clipD)">
<rect x="393.1" y="151.7" width="75.6" height="75.6" fill="#00009f"/>
<path d="M402.7,149.8 404.4,149.8 406.1,149.8 407.7,149.8 409.4,149.8 411.0,149.8 412.7,149.8 414.3,149.8 416.0,149.8 417.7,149.8 419.3,149.8 421.0,149.8 422.6,149.8 424.3,149.8 425.9,149.8 427.6,149.8 429.2,149.8 430.9,149.8 432.6,149.8 434.2,149.8 435.9,149.8 437.5,149.8 439.2,149.8 440.8,149.8 442.5,149.8 444.1,149.8 445.8,149.8 447.5,149.8 449.1,149.8 450.8,149.8 452.4,149.8 454.1,149.8 455.7,149.8 457.4,149.8 459.1,149.8 460.7,149.8 462.4,149.8 464.0,149.8 465.7,149.8 467.3,149.8 469.0,149.8 470.6,149.8 470.6,151.4 470.6,153.1 470.6,154.7 470.6,156.4 470.6,158.0 470.6,159.7 470.6,161.3 470.6,163.0 470.6,164.7 470.6,166.3 470.6,168.0 470.6,169.6 470.6,171.3 470.6,172.9 470.6,174.6 470.6,176.3 470.6,177.9 470.6,179.6 470.6,181.2 470.6,182.9 470.6,184.5 470.6,186.2 470.6,187.8 470.6,189.5 470.3,191.2 469.6,192.8 469.0,194.0 467.8,196.1 466.7,197.8 465.7,199.3 464.6,201.1 464.0,202.2 462.9,204.4 461.7,206.1 460.7,207.0 459.8,207.7 457.4,209.3 455.7,210.4 454.1,211.9 452.4,213.6 450.8,215.2 449.8,216.0 447.5,217.5 445.8,218.2 444.1,218.8 442.5,219.3 440.8,220.0 439.2,220.6 437.5,220.9 435.9,221.2 434.2,221.2 432.6,221.1 430.9,221.0 429.2,221.2 427.6,221.4 425.9,221.4 424.3,221.2 422.6,220.8 421.0,220.1 419.4,219.3 417.7,218.7 416.0,218.1 414.8,217.7 412.7,216.7 411.6,216.0 409.4,214.4 407.7,213.0 406.1,211.7 404.4,210.5 403.0,209.4 401.1,207.7 399.7,206.1 398.7,204.4 397.9,202.7 397.2,201.1 396.5,199.4 396.1,198.3 395.4,196.1 394.9,194.5 394.6,192.8 394.2,191.2 393.9,189.5 393.7,187.8 393.5,186.2 393.3,184.5 393.2,182.9 393.1,181.2 393.2,179.6 393.3,177.9 393.6,176.3 393.9,174.6 394.2,172.9 394.7,171.3 395.2,169.6 395.6,168.0 396.1,166.3 396.5,164.7 396.9,163.0 397.4,161.3 397.8,160.1 398.4,158.0 399.0,156.4 399.4,155.3 400.4,153.1 401.1,151.5 402.0,149.8Z" fill="#0000df" fill-rule="evenodd"/>
<path d="M402.7,151.1 403.5,149.8 406.1,149.8 407.7,149.8 409.4,149.8 411.0,149.8 412.7,149.8 414.3,149.8 416.0,149.8 417.7,149.8 419.3,149.8 421.0,149.8 422.6,149.8 424.3,149.8 425.9,149.8 427.6,149.8 429.2,149.8 430.9,149.8 432.6,149.8 434.2,149.8 435.9,149.8 437.5,149.8 439.2,149.8 440.8,149.8 442.5,149.8 444.1,149.8 445.8,149.8 447.5,149.8 449.1,149.8 450.8,149.8 452.4,149.8 454.1,149.8 455.7,149.8 457.4,149.8 459.1,149.8 460.7,149.8 462.4,149.8 464.0,149.8 465.7,149.8 467.3,149.8 468.6,149.8 469.0,150.9 469.7,153.1 470.2,154.7 470.6,156.1 470.6,158.0 470.6,159.7 470.6,161.3 470.6,163.0 470.6,164.7 470.6,166.3 470.6,168.0 470.6,169.6 470.6,171.3 470.6,172.9 470.6,174.6 470.6,176.3 470.6,177.9 470.6,179.6 470.6,181.2 470.6,182.9 470.6,184.5 470.6,186.1 470.2,187.8 469.8,189.5 469.2,191.2 468.4,192.8 467.6,194.5 466.6,196.1 465.7,197.4 464.2,199.4 463.3,201.1 462.4,202.7 461.3,204.4 459.7,206.1 457.4,207.7 455.7,208.8 454.1,210.1 453.2,211.0 451.6,212.7 450.8,213.5 449.8,214.3 447.5,215.9 445.8,216.7 444.1,217.2 442.5,217.6 440.8,218.2 439.2,218.8 437.5,219.2 435.9,219.5 434.2,219.5 432.6,219.4 430.9,219.3 429.2,219.5 427.6,219.7 425.9,219.7 424.3,219.5 422.6,219.0 421.0,218.3 419.5,217.7 417.7,217.2 416.0,216.7 414.3,216.0 412.7,215.2 411.3,214.3 409.4,212.9 407.7,211.5 406.1,210.3 404.9,209.4 402.8,207.7 401.2,206.1 400.0,204.4 399.4,203.4 398.4,201.1 397.8,199.7 397.0,197.8 396.5,196.1 396.1,195.0 395.6,192.8 395.2,191.2 395.0,189.5 394.7,187.8 394.5,186.2 394.3,184.5 394.1,182.9 394.1,181.2 394.2,179.6 394.3,177.9 394.6,176.3 394.9,174.6 395.3,172.9 395.8,171.3 396.1,170.1 396.8,168.0 397.2,166.3 397.6,164.7 398.1,163.0 398.6,161.3 399.1,159.7 399.7,158.0 400.3,156.4 401.0,154.7 401.7,153.1 402.6,151.4Z" fill="#000dff" fill-rule="evenodd"/>
<path d="M404.4,150.8 405.0,149.8 407.7,149.8 409.4,149.8 411.0,149.8 412.7,149.8 414.3,149.8 416.0,149.8 417.7,149.8 419.3,149.8 421.0,149.8 422.6,149.8 424.3,149.8 425.9,149.8 427.6,149.8 429.2,149.8 430.9,149.8 432.6,149.8 434.2,149.8 435.9,149.8 437.5,149.8 439.2,149.8 440.8,149.8 442.5,149.8 444.1,149.8 445.8,149.8 447.5,149.8 449.1,149.8 450.8,149.8 452.4,149.8 454.1,149.8 455.7,149.8 457.4,149.8 459.1,149.8 460.7,149.8 462.4,149.8 464.0,149.8 465.7,149.8 467.2,151.4 467.9,153.1 468.4,154.7 468.9,156.4 469.4,158.0 469.8,159.7 470.3,161.3 470.6,162.9 470.6,164.7 470.6,166.3 470.6,168.0 470.6,169.6 470.6,171.3 470.6,172.9 470.6,174.6 470.6,176.3 470.6,177.9 470.6,179.6 470.5,181.2 470.1,182.9 469.8,184.5 469.5,186.2 469.1,187.8 468.7,189.5 468.1,191.2 467.3,192.8 466.4,194.5 465.7,195.6 464.2,197.8 463.1,199.4 462.4,200.7 461.1,202.7 459.7,204.4 457.8,206.1 455.7,207.4 454.1,208.6 453.2,209.4 452.4,210.2 451.6,211.0 450.8,211.9 449.9,212.7 447.7,214.3 445.8,215.4 444.1,215.9 442.5,216.4 440.8,216.9 439.2,217.5 437.5,217.9 435.9,218.2 434.2,218.3 432.6,218.3 430.9,218.2 429.2,218.4 427.6,218.5 425.9,218.5 424.3,218.2 422.6,217.7 421.0,217.0 419.3,216.4 418.0,216.0 416.0,215.4 414.3,214.7 412.7,213.9 411.0,212.8 409.4,211.5 407.7,210.2 406.6,209.4 404.5,207.7 402.8,206.1 401.4,204.4 400.3,202.7 399.5,201.1 398.8,199.4 398.1,197.8 397.5,196.1 397.0,194.5 396.6,192.8 396.2,191.2 395.9,189.5 395.7,187.8 395.4,186.2 395.2,184.5 395.1,182.9 395.1,181.2 395.1,179.6 395.3,177.9 395.6,176.3 395.9,174.6 396.3,172.9 396.8,171.3 397.4,169.6 397.8,168.2 398.3,166.3 398.7,164.7 399.2,163.0 399.7,161.3 400.3,159.7 400.9,158.0 401.6,156.4 402.3,154.7 403.1,153.1 404.0,151.4Z" fill="#0044ff" fill-rule="evenodd"/>
<path d="M406.1,150.6 407.7,149.8 409.4,149.8 411.0,149.8 412.7,149.8 414.3,149.8 416.0,149.8 417.7,149.8 419.3,149.8 421.0,149.8 422.6,149.8 424.3,149.8 425.9,149.8 427.6,149.8 429.2,149.8 430.9,149.8 432.6,149.8 434.2,149.8 435.9,149.8 437.5,149.8 439.2,149.8 440.8,149.8 442.5,149.8 444.1,149.8 445.8,149.8 447.5,149.8 449.1,149.8 450.8,149.8 452.4,149.8 454.1,149.8 455.7,149.8 457.4,149.8 459.1,149.8 460.7,149.8 462.4,149.8 464.0,149.8 465.3,151.4 466.0,153.1 466.6,154.7 467.1,156.4 467.7,158.0 468.2,159.7 468.7,161.3 469.0,162.5 469.5,164.7 469.9,166.3 470.2,168.0 470.4,169.6 470.5,171.3 470.5,172.9 470.4,174.6 470.2,176.3 470.0,177.9 469.7,179.6 469.3,181.2 469.0,182.9 468.7,184.5 468.5,186.2 468.1,187.8 467.6,189.5 467.0,191.2 466.2,192.8 465.7,193.8 464.2,196.1 463.1,197.8 462.4,198.9 461.0,201.1 459.8,202.7 458.1,204.4 455.9,206.1 454.1,207.4 452.4,208.8 450.8,210.4 449.1,212.0 448.2,212.7 445.8,214.2 444.1,214.9 442.5,215.4 440.8,215.8 439.2,216.4 437.5,216.8 435.9,217.1 434.2,217.3 432.6,217.3 430.9,217.3 429.2,217.4 427.6,217.4 425.9,217.3 424.3,217.1 422.6,216.6 421.1,216.0 419.3,215.4 417.7,214.9 416.2,214.3 414.3,213.5 412.8,212.7 411.0,211.5 409.4,210.3 408.2,209.4 406.1,207.7 404.4,206.2 402.7,204.4 401.6,202.7 400.6,201.1 399.9,199.4 399.1,197.8 398.5,196.1 398.0,194.5 397.5,192.8 397.1,191.2 396.8,189.5 396.6,187.8 396.3,186.2 396.1,184.5 396.0,182.9 396.0,181.2 396.1,179.6 396.2,177.9 396.5,176.3 396.9,174.6 397.3,172.9 397.8,171.5 398.4,169.6 398.9,168.0 399.3,166.3 399.8,164.7 400.3,163.0 400.9,161.3 401.5,159.7 402.2,158.0 402.7,156.7 403.7,154.7 404.4,153.3 405.5,151.4Z" fill="#0081ff" fill-rule="evenodd"/>
<path d="M407.7,150.5 409.4,149.8 411.0,149.8 412.7,149.8 414.3,149.8 416.0,149.8 417.7,149.8 419.3,149.8 421.0,149.8 422.6,149.8 424.3,149.8 425.9,149.8 427.6,149.8 429.2,149.8 430.9,149.8 432.6,149.8 434.2,149.8 435.9,149.8 437.5,149.8 439.2,149.8 440.8,149.8 442.5,149.8 444.1,149.8 445.8,149.8 447.5,149.8 449.1,149.8 450.8,149.8 452.4,149.8 454.1,149.8 455.7,149.8 457.4,149.8 459.1,149.8 460.7,149.8 462.4,149.8 463.4,151.4 464.0,152.7 464.8,154.7 465.4,156.4 466.0,158.0 466.5,159.7 467.0,161.3 467.6,163.0 468.1,164.7 468.5,166.3 468.9,168.0 469.1,169.6 469.3,171.3 469.3,172.9 469.3,174.6 469.1,176.3 468.9,177.9 468.6,179.6 468.2,181.2 467.9,182.9 467.7,184.5 467.4,186.2 467.1,187.8 466.6,189.5 466.0,191.2 465.2,192.8 464.3,194.5 463.2,196.1 462.4,197.3 461.0,199.4 459.8,201.1 459.1,202.1 457.4,203.7 456.5,204.4 454.2,206.1 452.4,207.5 450.8,209.1 449.1,210.7 447.5,212.0 446.4,212.7 444.1,213.9 442.8,214.3 440.8,214.9 439.2,215.4 437.5,215.8 436.4,216.0 434.2,216.3 432.6,216.5 430.9,216.6 429.2,216.6 427.6,216.5 425.9,216.4 424.3,216.1 422.6,215.6 421.0,215.1 419.3,214.4 417.7,213.8 416.0,213.2 414.9,212.7 412.7,211.5 411.0,210.4 409.7,209.4 407.7,207.8 406.1,206.4 404.4,204.7 402.8,202.7 401.8,201.1 401.1,199.8 400.2,197.8 399.5,196.1 398.9,194.5 398.5,192.8 398.1,191.2 397.8,189.7 397.5,187.8 397.2,186.2 397.0,184.5 396.9,182.9 396.9,181.2 397.0,179.6 397.2,177.9 397.4,176.3 397.8,174.8 398.3,172.9 398.8,171.3 399.4,169.6 399.9,168.0 400.3,166.3 400.8,164.7 401.4,163.0 402.0,161.3 402.7,159.7 403.4,158.0 404.1,156.4 405.0,154.7 405.9,153.1 407.0,151.4 407.7,150.5Z" fill="#00b9ff" fill-rule="evenodd"/>
<path d="M409.4,150.5 411.0,149.8 412.7,149.8 414.3,149.8 416.0,149.8 417.7,149.8 419.3,149.8 421.0,149.8 422.6,149.8 424.3,149.8 425.9,149.8 427.6,149.8 429.2,149.8 430.9,149.8 432.6,149.8 434.2,149.8 435.9,149.8 437.5,149.8 439.2,149.8 440.8,149.8 442.5,149.8 444.1,149.8 445.8,149.8 447.5,149.8 449.1,149.8 450.8,149.8 452.4,149.8 454.1,149.8 455.7,149.8 457.4,149.8 459.1,149.8 460.6,149.8 461.6,151.4 462.4,153.0 463.1,154.7 463.7,156.4 464.3,158.0 464.9,159.7 465.4,161.3 466.0,163.0 466.6,164.7 467.1,166.3 467.6,168.0 467.9,169.6 468.1,171.3 468.2,172.9 468.2,174.6 468.0,176.3 467.8,177.9 467.5,179.6 467.2,181.2 466.9,182.9 466.7,184.5 466.5,186.2 466.1,187.8 465.7,189.3 465.0,191.2 464.2,192.8 463.3,194.5 462.4,195.8 461.1,197.8 460.0,199.4 459.1,200.7 457.4,202.4 455.7,203.8 454.1,205.0 452.8,206.1 451.0,207.7 449.2,209.4 447.5,210.8 445.8,212.0 444.5,212.7 442.5,213.5 440.8,214.0 439.5,214.3 437.5,214.8 435.9,215.2 434.2,215.4 432.6,215.6 430.9,215.8 429.2,215.7 427.6,215.6 425.9,215.4 424.3,215.1 422.6,214.7 421.5,214.3 419.3,213.5 417.7,212.9 416.0,212.2 414.3,211.3 412.7,210.4 411.2,209.4 409.4,208.0 407.7,206.6 406.1,205.0 404.4,203.2 402.9,201.1 402.0,199.4 401.2,197.8 400.5,196.1 399.9,194.5 399.4,192.9 399.0,191.2 398.6,189.5 398.3,187.8 398.1,186.2 397.9,184.5 397.8,182.9 397.8,181.2 397.9,179.6 398.1,177.9 398.3,176.3 398.7,174.6 399.2,172.9 399.8,171.3 400.3,169.6 400.8,168.0 401.3,166.3 401.8,164.7 402.4,163.0 403.1,161.3 403.8,159.7 404.4,158.4 405.4,156.4 406.1,155.2 407.4,153.1 408.6,151.4 409.4,150.5Z" fill="#09f1ee" fill-rule="evenodd"/>
<path d="M411.0,150.6 412.0,149.8 414.3,149.8 416.0,149.8 417.7,149.8 419.3,149.8 421.0,149.8 422.6,149.8 424.3,149.8 425.9,149.8 427.6,149.8 429.2,149.8 430.9,149.8 432.6,149.8 434.2,149.8 435.9,149.8 437.5,149.8 439.2,149.8 440.8,149.8 442.5,149.8 444.1,149.8 445.8,149.8 447.5,149.8 449.1,149.8 450.8,149.8 452.4,149.8 454.1,149.8 455.7,149.8 457.4,149.8 458.5,149.8 459.7,151.4 460.6,153.1 461.4,154.7 462.1,156.4 462.6,158.0 463.2,159.7 463.8,161.3 464.5,163.0 465.1,164.7 465.7,166.1 466.3,168.0 466.7,169.6 467.0,171.3 467.1,172.9 467.1,174.6 467.0,176.3 466.8,177.9 466.5,179.6 466.2,181.2 466.0,182.9 465.8,184.5 465.5,186.2 465.2,187.8 464.7,189.5 464.0,191.1 463.2,192.8 462.4,194.3 461.2,196.1 460.1,197.8 459.1,199.3 457.5,201.1 455.7,202.7 454.1,203.9 452.4,205.3 451.5,206.1 449.7,207.7 447.8,209.4 445.8,210.9 444.1,211.8 442.5,212.6 440.8,213.1 439.2,213.5 437.5,213.9 435.9,214.2 434.2,214.5 432.6,214.8 430.9,214.9 429.2,214.9 427.6,214.8 425.9,214.5 424.3,214.2 422.6,213.8 421.0,213.2 419.6,212.7 417.7,211.9 416.0,211.1 414.3,210.3 412.8,209.4 411.0,208.2 409.4,206.8 408.5,206.1 406.8,204.4 405.3,202.7 404.4,201.5 403.1,199.4 402.2,197.8 401.5,196.1 401.1,195.0 400.4,192.8 399.9,191.2 399.5,189.5 399.2,187.8 399.0,186.2 398.8,184.5 398.7,182.9 398.7,181.2 398.8,179.6 399.0,177.9 399.2,176.3 399.6,174.6 400.1,172.9 400.6,171.3 401.1,170.0 401.7,168.0 402.2,166.3 402.7,164.8 403.5,163.0 404.2,161.3 405.0,159.7 405.8,158.0 406.7,156.4 407.7,154.7 408.9,153.1 410.3,151.4Z" fill="#36ffc1" fill-rule="evenodd"/>
<path d="M412.7,150.9 414.2,149.8 416.0,149.8 417.7,149.8 419.3,149.8 421.0,149.8 422.6,149.8 424.3,149.8 425.9,149.8 427.6,149.8 429.2,149.8 430.9,149.8 432.6,149.8 434.2,149.8 435.9,149.8 437.5,149.8 439.2,149.8 440.8,149.8 442.5,149.8 444.1,149.8 445.8,149.8 447.5,149.8 449.1,149.8 450.8,149.8 452.4,149.8 454.1,149.8 455.7,149.8 457.4,150.9 458.9,153.1 459.8,154.7 460.5,156.4 461.1,158.0 461.6,159.7 462.2,161.3 462.9,163.0 463.7,164.7 464.4,166.3 465.0,168.0 465.5,169.6 465.8,171.3 466.0,172.9 466.1,174.6 466.0,176.3 465.8,177.9 465.6,179.6 465.3,181.2 465.1,182.9 464.9,184.5 464.6,186.2 464.2,187.8 463.7,189.5 463.0,191.2 462.4,192.5 461.3,194.5 460.2,196.1 459.2,197.8 457.9,199.4 456.3,201.1 454.2,202.7 452.4,204.2 450.8,205.6 449.1,207.1 447.5,208.6 446.4,209.4 444.1,210.8 442.5,211.6 440.8,212.2 439.2,212.6 437.5,213.0 435.9,213.3 434.2,213.6 432.6,213.9 430.9,214.0 429.2,214.0 427.6,213.9 425.9,213.6 424.3,213.3 422.6,212.9 421.0,212.3 419.3,211.6 417.9,211.0 416.0,210.1 414.6,209.4 412.7,208.2 411.0,207.0 409.9,206.1 408.1,204.4 406.6,202.7 405.3,201.1 404.4,199.7 403.3,197.8 402.7,196.6 401.9,194.5 401.3,192.8 400.8,191.2 400.4,189.5 400.1,187.8 399.9,186.2 399.7,184.5 399.6,182.9 399.6,181.2 399.7,179.6 399.9,177.9 400.1,176.3 400.5,174.6 401.0,172.9 401.5,171.3 402.0,169.6 402.6,168.0 403.1,166.3 403.8,164.7 404.4,163.2 405.3,161.3 406.1,159.9 407.0,158.0 407.7,156.8 409.1,154.7 410.4,153.1 412.1,151.4Z" fill="#63ff94" fill-rule="evenodd"/>
<path d="M414.3,151.3 416.0,150.3 417.1,149.8 419.3,149.8 421.0,149.8 422.6,149.8 424.3,149.8 425.9,149.8 427.6,149.8 429.2,149.8 430.9,149.8 432.6,149.8 434.2,149.8 435.9,149.8 437.5,149.8 439.2,149.8 440.8,149.8 442.5,149.8 444.1,149.8 445.8,149.8 447.5,149.8 449.1,149.8 450.8,149.8 452.4,149.8 453.9,149.8 455.7,151.4 457.1,153.1 458.1,154.7 458.9,156.4 459.6,158.0 460.1,159.7 460.7,161.3 461.4,163.0 462.2,164.7 463.0,166.3 463.7,168.0 464.3,169.6 464.7,171.3 464.9,172.9 465.0,174.6 465.0,176.3 464.8,177.9 464.6,179.6 464.4,181.2 464.2,182.9 464.0,184.4 463.7,186.2 463.3,187.8 462.7,189.5 462.0,191.2 461.2,192.8 460.3,194.5 459.3,196.1 458.1,197.8 457.4,198.7 455.7,200.4 454.1,201.8 452.8,202.7 450.9,204.4 449.1,206.0 447.5,207.4 445.8,208.7 444.9,209.4 442.5,210.6 441.4,211.0 439.2,211.7 437.5,212.1 435.9,212.4 434.3,212.7 432.6,212.9 430.9,213.1 429.2,213.1 427.6,213.0 425.9,212.8 424.3,212.4 422.6,211.9 421.0,211.3 419.3,210.7 417.7,209.9 416.5,209.4 414.3,208.2 412.7,207.1 411.3,206.1 409.4,204.4 407.8,202.7 406.5,201.1 405.4,199.4 404.4,197.8 403.6,196.1 402.9,194.5 402.3,192.8 401.8,191.2 401.4,189.5 401.1,188.3 400.8,186.2 400.6,184.5 400.5,182.9 400.5,181.2 400.6,179.6 400.8,177.9 401.0,176.3 401.4,174.6 401.8,172.9 402.3,171.3 402.7,170.0 403.4,168.0 404.1,166.3 404.8,164.7 405.6,163.0 406.5,161.3 407.3,159.7 408.2,158.0 409.2,156.4 410.5,154.7 412.1,153.1 414.2,151.4Z" fill="#94ff63" fill-rule="evenodd"/>
<path d="M417.7,151.2 419.3,150.4 420.9,149.8 422.6,149.8 424.3,149.8 425.9,149.8 427.6,149.8 429.2,149.8 430.9,149.8 432.6,149.8 434.2,149.8 435.9,149.8 437.5,149.8 439.2,149.8 440.8,149.8 442.5,149.8 444.1,149.8 445.8,149.8 447.5,149.8 449.1,149.8 450.6,149.8 452.4,150.8 454.1,152.1 455.1,153.1 456.4,154.7 457.4,156.4 458.1,158.0 458.7,159.7 459.1,161.0 459.8,163.0 460.7,164.7 461.6,166.3 462.4,168.0 463.0,169.6 463.5,171.3 463.8,172.9 464.0,174.6 464.0,176.3 463.9,177.9 463.7,179.6 463.4,181.2 463.3,182.9 463.1,184.5 462.8,186.2 462.4,187.7 461.7,189.5 461.0,191.2 460.1,192.8 459.2,194.5 458.2,196.1 457.4,197.3 455.7,199.2 454.1,200.6 452.4,201.9 451.4,202.7 449.5,204.4 447.7,206.1 445.8,207.6 444.1,208.7 442.9,209.4 440.8,210.2 439.2,210.7 437.9,211.0 435.9,211.4 434.2,211.7 432.6,211.9 430.9,212.1 429.2,212.1 427.6,212.0 425.9,211.8 424.3,211.4 422.8,211.0 421.0,210.3 419.3,209.6 417.7,208.9 416.0,208.0 414.3,207.1 412.8,206.1 411.0,204.6 409.4,203.0 407.8,201.1 406.6,199.4 405.6,197.8 404.7,196.1 404.0,194.5 403.4,192.8 402.8,191.2 402.3,189.5 402.0,187.8 401.7,186.2 401.5,184.5 401.4,182.9 401.5,181.2 401.5,179.6 401.7,177.9 401.9,176.3 402.3,174.6 402.7,172.9 403.2,171.3 403.7,169.6 404.3,168.0 405.0,166.3 405.8,164.7 406.7,163.0 407.6,161.3 408.5,159.7 409.4,158.2 410.6,156.4 412.1,154.7 414.2,153.1 416.0,152.0 417.2,151.4Z" fill="#c1ff36" fill-rule="evenodd"/>
<path d="M422.6,150.9 424.3,150.3 425.9,149.8 427.6,149.8 429.2,149.8 430.9,149.8 432.6,149.8 434.2,149.8 435.9,149.8 437.5,149.8 439.2,149.8 440.8,149.8 442.5,149.8 444.1,149.9 445.8,150.2 447.5,150.5 449.1,151.1 450.8,151.8 452.4,152.8 454.1,154.2 455.7,156.2 456.7,158.0 457.3,159.7 457.8,161.3 458.4,163.0 459.1,164.3 460.1,166.3 460.7,167.4 461.7,169.6 462.3,171.3 462.7,172.9 462.9,174.6 462.9,176.3 462.8,177.9 462.7,179.6 462.5,181.2 462.4,182.3 462.1,184.5 461.7,186.2 461.2,187.8 460.7,189.3 459.9,191.2 459.1,192.8 458.1,194.5 457.4,195.7 455.9,197.8 454.1,199.4 452.4,200.7 450.8,202.1 449.1,203.5 448.2,204.4 446.2,206.1 444.1,207.6 442.5,208.5 440.8,209.2 439.2,209.7 437.5,210.1 435.9,210.4 434.2,210.7 432.6,210.9 431.2,211.0 429.2,211.1 427.6,211.1 425.9,210.8 424.3,210.4 422.6,209.9 421.2,209.4 419.3,208.6 417.7,207.8 416.0,206.9 414.6,206.1 412.7,204.7 411.0,203.2 409.4,201.4 407.9,199.4 406.8,197.8 406.1,196.4 405.1,194.5 404.4,192.8 403.9,191.2 403.4,189.5 403.0,187.8 402.7,186.6 402.5,184.5 402.4,182.9 402.4,181.2 402.5,179.6 402.7,177.9 402.9,176.3 403.2,174.6 403.5,172.9 404.0,171.3 404.4,170.1 405.2,168.0 406.0,166.3 406.9,164.7 407.7,163.2 408.8,161.3 409.4,160.4 410.8,158.0 412.1,156.4 414.0,154.7 416.0,153.6 417.2,153.1 419.3,152.2 421.0,151.5 422.6,150.9Z" fill="#eeff09" fill-rule="evenodd"/>
<path d="M427.6,151.2 429.2,150.9 430.9,150.7 432.6,150.6 434.2,150.7 435.9,150.8 437.5,151.0 439.2,151.2 440.3,151.4 442.5,151.7 444.1,151.9 445.8,152.2 447.5,152.5 449.1,153.0 450.8,153.7 452.4,154.7 454.1,156.3 455.3,158.0 456.1,159.7 456.6,161.3 457.1,163.0 457.9,164.7 458.7,166.3 459.6,168.0 460.4,169.6 461.1,171.3 461.5,172.9 461.8,174.6 461.9,176.3 461.8,177.9 461.7,179.6 461.5,181.2 461.3,182.9 461.0,184.5 460.7,186.1 460.1,187.8 459.5,189.5 458.7,191.2 457.9,192.8 456.9,194.5 455.9,196.1 454.4,197.8 452.5,199.4 450.8,200.8 449.1,202.3 447.5,203.8 445.8,205.2 444.6,206.1 442.5,207.4 440.8,208.1 439.2,208.6 437.5,209.0 436.1,209.4 434.2,209.7 432.6,209.9 430.9,210.1 429.2,210.2 427.6,210.1 425.9,209.8 424.3,209.4 422.6,208.8 421.0,208.2 419.9,207.7 417.7,206.6 416.5,206.1 414.3,204.7 412.7,203.4 411.0,201.7 409.4,199.7 408.1,197.8 407.2,196.1 406.3,194.5 405.6,192.8 405.0,191.2 404.4,189.5 404.0,187.8 403.7,186.2 403.6,184.5 403.5,182.9 403.5,181.2 403.5,179.6 403.7,177.9 403.8,176.3 404.1,174.6 404.4,173.0 404.9,171.3 405.5,169.6 406.1,168.2 407.0,166.3 407.7,165.1 409.0,163.0 410.0,161.3 410.9,159.7 412.1,158.0 413.8,156.4 416.0,155.0 417.7,154.4 419.3,153.9 421.0,153.3 422.6,152.7 424.3,152.1 425.9,151.6 427.6,151.2Z" fill="#ffcc00" fill-rule="evenodd"/>
<path d="M427.6,153.0 429.2,152.7 430.9,152.6 432.6,152.5 434.2,152.6 435.9,152.8 437.5,153.0 439.2,153.3 440.8,153.6 442.5,153.9 444.1,154.0 445.8,154.1 447.5,154.4 448.8,154.7 450.8,155.5 452.1,156.4 453.8,158.0 454.8,159.7 455.5,161.3 456.0,163.0 456.6,164.7 457.4,166.3 458.2,168.0 459.1,169.6 459.8,171.3 460.3,172.9 460.7,174.6 460.8,176.3 460.7,177.9 460.6,179.6 460.4,181.2 460.2,182.9 459.9,184.5 459.5,186.2 459.1,187.5 458.3,189.5 457.5,191.2 456.6,192.8 455.7,194.3 454.4,196.1 452.8,197.8 450.8,199.4 449.1,200.9 447.5,202.4 445.8,203.9 444.1,205.1 442.6,206.1 440.8,206.9 439.2,207.4 437.5,207.9 435.9,208.3 434.2,208.6 432.6,208.9 430.9,209.1 429.2,209.2 427.6,209.1 425.9,208.8 424.3,208.3 422.6,207.7 421.0,207.0 419.3,206.3 417.7,205.4 416.0,204.5 414.3,203.4 412.7,202.0 411.9,201.1 411.0,200.0 409.5,197.8 408.5,196.1 407.7,194.6 406.9,192.8 406.2,191.2 405.6,189.5 405.2,187.8 404.8,186.2 404.6,184.5 404.6,182.9 404.5,181.2 404.6,179.6 404.7,177.9 404.8,176.3 405.1,174.6 405.4,172.9 405.8,171.3 406.4,169.6 407.2,168.0 408.1,166.3 409.1,164.7 410.2,163.0 411.0,161.5 412.2,159.7 413.6,158.0 416.0,156.4 417.7,155.8 419.3,155.4 421.0,154.9 422.6,154.4 424.3,153.8 425.9,153.4 427.3,153.1Z" fill="#ff9400" fill-rule="evenodd"/>
<path d="M429.2,154.5 430.9,154.4 432.6,154.4 434.2,154.5 435.9,154.7 437.5,155.0 439.2,155.4 440.8,155.7 442.5,155.9 444.1,155.9 445.8,156.0 447.5,156.2 449.1,156.6 450.8,157.3 451.8,158.0 453.4,159.7 454.1,160.7 454.9,163.0 455.4,164.7 456.1,166.3 456.8,168.0 457.4,169.2 458.4,171.3 459.0,172.9 459.4,174.6 459.6,176.3 459.6,177.9 459.4,179.6 459.2,181.2 459.1,182.3 458.6,184.5 458.2,186.2 457.6,187.8 456.9,189.5 456.1,191.2 455.2,192.8 454.1,194.5 452.7,196.1 450.9,197.8 449.1,199.4 447.5,200.9 445.8,202.4 444.1,203.7 443.1,204.4 440.8,205.6 439.5,206.1 437.5,206.7 435.9,207.1 434.2,207.5 432.6,207.9 430.9,208.1 429.2,208.2 427.6,208.1 426.0,207.7 424.3,207.1 422.6,206.5 421.0,205.7 419.3,205.0 418.2,204.4 416.0,203.2 414.3,202.0 413.4,201.1 412.7,200.2 411.0,197.9 410.0,196.1 409.4,195.1 408.2,192.8 407.7,191.7 406.9,189.5 406.4,187.8 406.1,186.4 405.8,184.5 405.7,182.9 405.7,181.2 405.7,179.6 405.8,177.9 405.9,176.3 406.1,174.7 406.4,172.9 406.8,171.3 407.4,169.6 408.4,168.0 409.3,166.3 410.4,164.7 411.0,163.6 412.4,161.3 413.5,159.7 414.3,158.8 415.6,158.0 417.7,157.2 419.3,156.8 421.0,156.4 422.6,156.0 424.3,155.5 425.9,155.1 427.6,154.8 429.2,154.5Z" fill="#ff6000" fill-rule="evenodd"/>
<path d="M429.2,156.3 430.9,156.2 432.6,156.3 433.8,156.4 435.9,156.7 437.5,157.0 439.2,157.3 440.8,157.6 442.5,157.8 444.1,157.8 445.8,157.9 447.4,158.0 449.1,158.4 450.8,159.1 452.4,160.4 453.1,161.3 453.7,163.0 454.1,164.3 454.7,166.3 455.3,168.0 456.1,169.6 456.8,171.3 457.4,172.6 458.0,174.6 458.3,176.3 458.3,177.9 458.1,179.6 457.8,181.2 457.6,182.9 457.2,184.5 456.7,186.2 456.1,187.8 455.4,189.5 454.5,191.2 453.5,192.8 452.4,194.2 450.8,196.0 449.1,197.5 447.5,199.1 445.8,200.7 444.1,202.2 442.5,203.3 440.8,204.1 439.2,204.7 437.5,205.2 435.9,205.8 434.2,206.2 432.6,206.6 430.9,206.9 429.2,207.1 427.6,206.8 425.9,206.4 424.3,205.8 422.6,205.0 421.2,204.4 419.3,203.5 417.8,202.7 416.0,201.7 414.3,200.2 412.7,198.0 411.6,196.1 410.6,194.5 409.8,192.8 409.0,191.2 408.3,189.5 407.7,187.8 407.4,186.2 407.2,184.5 407.1,182.9 407.0,181.2 407.0,179.6 407.1,177.9 407.1,176.3 407.3,174.6 407.4,172.9 407.7,171.7 408.7,169.6 409.4,168.4 410.7,166.3 411.8,164.7 412.7,163.1 413.8,161.3 415.3,159.7 417.7,158.6 419.3,158.3 420.5,158.0 422.6,157.6 424.3,157.2 425.9,156.8 427.6,156.5 428.8,156.4Z" fill="#ff2d00" fill-rule="evenodd"/>
<path d="M421.0,159.6 422.6,159.3 424.3,159.0 425.9,158.7 427.6,158.4 429.2,158.2 430.9,158.1 432.6,158.2 434.2,158.4 435.9,158.7 437.5,159.1 439.2,159.4 440.8,159.7 442.5,159.8 444.1,159.9 445.8,160.0 447.5,160.1 449.1,160.5 450.8,161.2 452.2,163.0 452.6,164.7 453.0,166.3 453.6,168.0 454.1,169.1 455.0,171.3 455.7,172.9 456.3,174.6 456.7,176.3 456.6,177.9 456.5,179.6 456.2,181.2 455.9,182.9 455.4,184.5 454.9,186.2 454.3,187.8 453.5,189.5 452.5,191.2 451.3,192.8 449.8,194.5 448.2,196.1 446.5,197.8 444.8,199.4 442.9,201.1 440.8,202.2 439.7,202.7 437.5,203.5 435.9,204.1 434.2,204.6 432.6,205.1 430.9,205.5 429.2,205.7 427.6,205.3 425.9,204.8 424.3,204.1 422.6,203.3 421.3,202.7 419.3,201.7 418.0,201.1 416.0,199.7 414.5,197.8 413.5,196.1 412.7,194.8 411.6,192.8 411.0,191.7 410.0,189.5 409.4,187.9 409.0,186.2 408.7,184.5 408.6,182.9 408.6,181.2 408.5,179.6 408.5,177.9 408.6,176.3 408.6,174.6 408.8,172.9 409.2,171.3 410.2,169.6 411.0,168.3 412.3,166.3 413.4,164.7 414.3,163.0 415.6,161.3 417.7,160.3 419.3,159.9 421.0,159.6Z" fill="#df0000" fill-rule="evenodd"/>
<path d="M422.6,161.3 424.3,161.1 425.9,160.8 427.6,160.5 429.2,160.3 430.9,160.2 432.6,160.4 434.2,160.7 435.9,161.1 437.5,161.5 439.2,161.9 440.8,162.2 442.5,162.4 444.1,162.5 445.8,162.6 447.5,162.9 449.1,163.6 450.0,164.7 450.8,166.1 451.4,168.0 452.0,169.6 452.4,170.7 453.3,172.9 453.9,174.6 454.3,176.3 454.4,177.9 454.3,179.6 454.1,181.0 453.6,182.9 453.1,184.5 452.5,186.2 451.7,187.8 450.8,189.5 449.6,191.2 448.2,192.8 447.5,193.7 446.7,194.5 445.8,195.3 444.9,196.1 443.0,197.8 440.8,199.4 439.2,200.3 437.6,201.1 435.9,201.7 434.2,202.4 433.1,202.7 430.9,203.2 429.2,203.3 427.6,203.1 426.5,202.7 424.3,201.8 422.6,201.1 421.0,200.2 419.6,199.4 417.7,197.9 416.2,196.1 415.1,194.5 414.3,193.4 413.1,191.2 412.3,189.5 411.6,187.8 411.0,186.2 410.7,184.5 410.6,182.9 410.5,181.2 410.4,179.6 410.4,177.9 410.4,176.3 410.5,174.6 410.8,172.9 411.3,171.3 412.3,169.6 413.3,168.0 414.3,166.3 415.5,164.7 417.0,163.0 419.3,162.0 421.0,161.7 422.6,161.3Z" fill="#9f0000" fill-rule="evenodd"/>
<path d="M468.2,149.8 468.9,151.4 469.4,153.1 470.0,154.7 470.4,156.4M470.6,185.2 470.4,186.2 470.1,187.8 469.6,189.5 469.0,191.1 468.3,192.8 467.4,194.5 466.4,196.1 465.7,197.1 464.0,199.4 463.1,201.1 462.4,202.4 461.1,204.4 459.4,206.1 457.4,207.5 455.7,208.6 454.6,209.4 452.9,211.0 451.3,212.7 449.5,214.3 447.5,215.7 445.8,216.5 444.1,217.0 442.5,217.4 440.8,218.0 439.2,218.6 437.5,219.0 435.9,219.3 434.2,219.3 432.6,219.2 430.9,219.1 429.2,219.3 427.6,219.5 425.9,219.5 424.7,219.3 422.6,218.8 421.0,218.1 419.3,217.4 417.7,217.0 416.0,216.4 414.9,216.0 412.7,215.0 411.7,214.3 409.5,212.7 407.7,211.2 406.1,210.0 405.2,209.4 403.1,207.7 401.5,206.1 400.3,204.4 399.4,203.0 398.5,201.1 397.9,199.4 397.2,197.8 396.6,196.1 396.1,194.5 395.7,192.8 395.4,191.2 395.1,189.5 394.9,187.8 394.6,186.2 394.5,184.9 394.3,182.9 394.3,181.2 394.3,179.6 394.5,178.2 394.7,176.3 395.1,174.6 395.5,172.9 396.0,171.3 396.4,169.6 396.9,168.0 397.4,166.3 397.8,164.9 398.3,163.0 398.8,161.3 399.3,159.7 399.9,158.0 400.5,156.4 401.1,155.0 402.0,153.1 402.7,151.5 403.7,149.8" fill="none" stroke="#000" stroke-opacity="0.4" stroke-width="0.35"/>
<path d="M461.8,149.8 468.6,169.6 466.7,187.8 459.1,201.5 440.8,214.6 422.6,215.3 406.1,205.8 398.8,192.8 398.2,174.6 409.0,149.8" fill="none" stroke="#000" stroke-opacity="0.4" stroke-width="0.35"/>
<path d="M453.9,149.8 459.6,158.0 464.0,184.4 459.1,196.4 445.8,208.7 432.6,212.9 419.3,210.7 406.1,200.4 400.8,186.2 402.9,169.6 412.7,152.6 417.1,149.8" fill="none" stroke="#000" stroke-opacity="0.4" stroke-width="0.35"/>
<path d="M425.9,152.7 427.6,152.3 429.2,152.0 430.9,151.8 432.6,151.8 434.2,151.8 435.9,152.0 437.5,152.2 439.2,152.5 440.8,152.8 442.5,153.0 444.1,153.2 445.8,153.4 447.5,153.6 449.1,154.1 450.6,154.7 452.4,155.9 454.1,157.5 455.3,159.7 455.7,160.8 456.4,163.0 457.1,164.7 457.9,166.3 458.8,168.0 459.6,169.6 460.3,171.3 460.7,172.5 461.1,174.6 461.2,176.3 461.2,177.9 461.0,179.6 460.8,181.2 460.7,182.3 460.4,184.5 460.0,186.2 459.4,187.8 459.1,188.8 458.0,191.2 457.4,192.4 456.2,194.5 455.0,196.1 454.1,197.2 452.4,198.6 451.5,199.4 449.5,201.1 447.7,202.7 445.8,204.4 444.1,205.6 442.5,206.6 440.8,207.4 439.8,207.7 437.5,208.4 435.9,208.8 434.2,209.1 432.6,209.3 430.9,209.5 429.2,209.6 427.6,209.5 425.9,209.2 424.3,208.8 422.6,208.2 421.5,207.7 419.3,206.7 417.9,206.1 416.0,205.0 415.0,204.4 412.9,202.7 411.3,201.1 410.0,199.4 409.4,198.5 408.0,196.1 407.1,194.5 406.4,192.8 405.7,191.2 405.1,189.5 404.7,187.8 404.4,186.4 404.2,184.5 404.1,182.9 404.1,181.2 404.2,179.6 404.3,177.9 404.4,176.4 404.7,174.6 405.0,172.9 405.4,171.3 406.0,169.6 406.8,168.0 407.7,166.3 408.7,164.7 409.4,163.5 410.7,161.3 411.7,159.7 412.7,158.3 414.3,156.8 416.0,155.9 417.7,155.3 419.3,154.8 421.0,154.3 422.6,153.7 424.3,153.2 425.9,152.7" fill="none" stroke="#000" stroke-opacity="0.4" stroke-width="0.35"/>
<path d="M429.2,157.9 430.9,157.8 432.6,157.9 433.9,158.0 435.9,158.4 437.5,158.8 439.2,159.1 440.8,159.3 442.5,159.5 444.1,159.5 445.8,159.6 447.0,159.7 449.1,160.1 450.8,160.8 452.4,162.8 452.9,164.7 453.3,166.3 453.9,168.0 454.6,169.6 455.3,171.3 455.7,172.2 456.6,174.6 457.0,176.3 456.9,177.9 456.7,179.6 456.5,181.2 456.1,182.9 455.8,184.5 455.2,186.2 454.6,187.8 454.1,189.0 452.9,191.2 451.7,192.8 450.8,193.9 449.1,195.6 447.5,197.2 445.8,198.8 444.1,200.4 442.5,201.7 440.8,202.6 439.2,203.2 437.5,203.8 435.9,204.4 434.2,204.9 432.6,205.3 430.9,205.8 429.2,206.0 427.6,205.6 425.9,205.0 424.3,204.4 422.6,203.6 421.0,202.9 419.3,202.0 417.7,201.2 416.0,200.0 414.3,198.1 413.1,196.1 412.2,194.5 411.3,192.8 410.5,191.2 409.7,189.5 409.1,187.8 408.7,186.2 408.5,184.5 408.4,182.9 408.3,181.2 408.3,179.6 408.3,177.9 408.3,176.3 408.4,174.6 408.6,172.9 409.0,171.3 409.9,169.6 410.9,168.0 412.1,166.3 412.7,165.3 414.1,163.0 415.3,161.3 416.0,160.7 417.7,159.9 418.7,159.7 421.0,159.3 422.6,159.0 424.3,158.7 425.9,158.4 427.6,158.1 429.2,157.9" fill="none" stroke="#000" stroke-opacity="0.4" stroke-width="0.35"/>
</g>
<circle cx="430.9" cy="189.5" r="34.6" fill="none" stroke="#000" stroke-width="1"/>
<polyline points="425.7,155.5 430.9,149.5 436.1,155.5" fill="none" stroke="#000" stroke-width="1" stroke-linejoin="miter"/>
<path d="M396.6,181.3 Q392.8,179.0 392.8,183.5 L392.8,196.0 Q392.8,200.3 396.2,198.5" fill="none" stroke="#000" stroke-width="1.1"/>
<path d="M465.2,181.3 Q469.0,179.0 469.0,183.5 L469.0,196.0 Q469.0,200.3 465.6,198.5" fill="none" stroke="#000" stroke-width="1.1"/>
<circle cx="430.9" cy="155.3" r="0.95" fill="#000"/>
<circle cx="430.9" cy="170.7" r="0.95" fill="#000"/>
<circle cx="430.9" cy="188.8" r="0.95" fill="#000"/>
<circle cx="430.9" cy="207.0" r="0.95" fill="#000"/>
<circle cx="430.9" cy="215.0" r="0.95" fill="#000"/>
<circle cx="430.9" cy="222.7" r="0.95" fill="#000"/>
<circle cx="441.6" cy="155.9" r="0.95" fill="#000"/>
<circle cx="420.2" cy="155.9" r="0.95" fill="#000"/>
<circle cx="460.6" cy="167.3" r="0.95" fill="#000"/>
<circle cx="401.2" cy="167.3" r="0.95" fill="#000"/>
<circle cx="446.3" cy="170.7" r="0.95" fill="#000"/>
<circle cx="415.5" cy="170.7" r="0.95" fill="#000"/>
<circle cx="457.4" cy="179.1" r="0.95" fill="#000"/>
<circle cx="404.4" cy="179.1" r="0.95" fill="#000"/>
<circle cx="440.0" cy="179.1" r="0.95" fill="#000"/>
<circle cx="421.8" cy="179.1" r="0.95" fill="#000"/>
<circle cx="466.8" cy="188.8" r="0.95" fill="#000"/>
<circle cx="395.0" cy="188.8" r="0.95" fill="#000"/>
<circle cx="449.4" cy="188.8" r="0.95" fill="#000"/>
<circle cx="412.4" cy="188.8" r="0.95" fill="#000"/>
<circle cx="457.4" cy="197.9" r="0.95" fill="#000"/>
<circle cx="404.4" cy="197.9" r="0.95" fill="#000"/>
<circle cx="440.0" cy="197.9" r="0.95" fill="#000"/>
<circle cx="421.8" cy="197.9" r="0.95" fill="#000"/>
<circle cx="446.3" cy="207.0" r="0.95" fill="#000"/>
<circle cx="415.5" cy="207.0" r="0.95" fill="#000"/>
<circle cx="460.6" cy="210.3" r="0.95" fill="#000"/>
<circle cx="401.2" cy="210.3" r="0.95" fill="#000"/>
<circle cx="441.6" cy="222.1" r="0.95" fill="#000"/>
<circle cx="420.2" cy="222.1" r="0.95" fill="#000"/>
<polyline points="40.2,179.4 19.3,179.4 19.3,304.4 59,304.4" fill="none" stroke="#000" stroke-width="1.1"/>
<polygon points="65.2,304.4 58.7,302.5 58.7,306.3" fill="#000"/>
<text x="39.8" y="290.8" font-size="8.7" text-anchor="middle" >Fitting</text>
<text x="38.8" y="300.6" font-size="8.7" text-anchor="middle" >Back</text>
<text x="91.3" y="260.2" font-size="10.6" text-anchor="middle" >(d)</text>
<text x="351.3" y="264.8" font-size="10.9" text-anchor="middle" >Single Subject Sequence</text>
<polygon points="85.5,327.8 85.5,299.6 86.3,299.5 87.1,299.0 87.9,298.3 88.7,297.6 89.5,296.9 90.3,296.1 91.1,295.4 91.9,294.6 92.7,293.9 93.5,293.2 94.3,292.5 95.1,291.9 95.9,291.5 96.7,291.1 97.5,290.9 98.3,290.8 99.1,290.8 99.9,291.0 100.7,291.4 101.5,292.0 102.3,292.6 103.1,293.4 103.9,294.3 104.7,295.3 105.5,296.3 106.3,297.4 107.1,298.6 107.9,299.7 108.7,300.8 109.5,301.9 110.3,302.8 111.1,303.6 111.9,304.2 112.7,304.5 113.5,304.6 114.3,304.4 115.1,303.9 115.9,303.2 116.7,302.1 118.0,300.0 118.0,327.8" fill="#dcdcfc"/>
<polygon points="118.0,327.8 118.0,300.0 118.8,298.4 119.6,296.7 120.4,294.7 121.2,292.6 122.0,290.4 122.8,288.2 123.6,285.8 124.4,283.5 125.2,281.1 126.0,278.7 126.8,276.4 127.6,274.2 128.4,272.1 129.2,270.0 130.0,268.2 130.8,266.5 131.6,265.0 132.4,263.8 133.2,262.8 134.0,262.0 134.8,261.6 135.6,261.6 136.4,261.9 137.2,262.5 138.0,263.5 138.8,264.9 139.6,266.5 140.4,268.4 141.2,270.6 142.0,272.9 142.8,275.5 143.6,278.2 144.4,281.0 145.2,284.0 146.0,287.0 146.8,290.1 147.6,293.1 148.4,296.1 149.2,298.9 150.0,301.6 150.8,304.0 151.6,306.1 152.4,307.8 153.2,309.1 154.0,309.9 154.8,310.2 155.6,310.0 156.4,309.5 157.2,308.8 158.0,308.2 158.8,307.7 159.6,307.3 160.4,306.9 161.2,306.5 162.0,306.0 162.8,305.3 163.6,304.4 164.4,303.3 165.2,302.0 166.0,300.5 166.8,298.8 167.6,297.0 168.4,295.0 169.2,292.8 170.0,290.4 170.8,287.9 171.6,285.4 172.4,282.8 173.2,280.1 174.0,277.5 174.8,274.8 175.6,272.2 176.4,269.7 177.2,267.3 178.0,265.0 178.8,262.9 179.6,260.9 180.4,259.2 181.2,257.6 182.0,256.4 182.8,255.4 183.6,254.8 184.4,254.5 185.2,254.6 186.0,255.0 186.8,255.7 187.6,256.7 188.4,257.9 189.2,259.2 190.0,260.5 190.8,261.9 191.6,263.3 192.4,264.6 193.2,265.9 194.0,267.0 194.8,268.0 195.6,269.0 196.4,269.9 197.2,270.8 198.0,271.6 198.8,272.4 199.6,273.2 200.4,273.9 201.2,274.6 202.0,275.3 202.8,276.0 203.6,276.7 204.4,277.4 205.2,278.1 206.0,278.8 206.8,279.4 207.8,280.3 207.8,327.8" fill="#e0feff"/>
<polygon points="207.8,327.8 207.8,280.3 208.6,281.0 209.4,281.8 210.2,282.4 211.0,283.1 211.8,283.7 212.6,284.2 213.4,284.5 214.2,284.8 215.0,284.9 215.8,284.8 216.6,284.6 217.4,284.2 218.2,283.7 219.0,283.1 219.8,282.3 220.6,281.6 221.4,280.7 222.2,279.9 223.0,279.0 223.8,278.2 224.6,277.3 225.4,276.6 226.2,275.8 227.0,275.2 227.8,274.6 228.6,274.2 229.4,273.8 230.2,273.6 231.0,273.5 231.8,273.6 232.6,273.7 233.4,274.1 234.2,274.5 235.0,275.0 235.8,275.6 236.6,276.2 237.4,276.9 238.2,277.7 239.0,278.4 239.8,279.2 240.6,279.8 241.4,280.3 242.2,280.7 243.0,280.8 243.8,280.7 245.1,279.8 245.1,327.8" fill="#fefde0"/>
<polygon points="245.1,327.8 245.1,279.8 245.9,278.9 246.7,277.7 247.5,276.1 248.3,274.3 249.1,272.2 249.9,269.8 250.7,267.4 251.5,264.9 252.3,262.5 253.1,260.1 253.9,257.9 254.7,256.0 255.5,254.5 256.3,253.3 257.1,252.7 257.9,252.6 258.7,253.1 259.5,254.2 260.3,255.9 261.1,258.1 261.9,260.6 262.7,263.5 263.5,266.7 264.3,270.2 265.1,273.8 265.9,277.5 266.7,281.3 267.5,285.1 268.3,288.7 269.1,292.3 269.9,295.6 270.7,298.6 271.5,301.3 272.3,303.6 273.1,305.5 273.9,306.8 274.7,307.5 275.5,307.5 276.3,306.9 277.1,305.8 277.9,304.2 278.7,302.3 279.5,300.1 280.3,297.9 281.1,295.7 281.9,293.6 282.7,291.7 283.5,289.9 284.3,288.2 285.1,286.8 285.9,285.6 286.7,284.6 287.5,283.8 288.3,283.3 289.1,283.1 289.9,283.2 290.7,283.5 291.5,284.1 292.3,284.9 293.1,285.8 293.9,286.9 294.7,288.2 295.5,289.4 296.3,290.8 297.1,292.2 297.9,293.5 298.7,294.9 299.5,296.1 300.3,297.3 301.1,298.3 301.9,299.2 302.7,299.9 303.5,300.4 304.3,300.7 305.1,300.7 306.1,300.3 306.1,327.8" fill="#e0feff"/>
<polygon points="306.1,327.8 306.1,300.3 306.9,299.6 307.7,298.6 308.5,297.4 309.3,296.0 310.1,294.4 310.9,292.7 311.7,290.9 312.5,289.1 313.3,287.3 314.1,285.6 314.9,283.9 315.7,282.2 316.5,280.7 317.3,279.2 318.1,277.8 318.9,276.6 319.7,275.5 320.5,274.5 321.3,273.6 322.1,272.9 322.9,272.4 323.7,272.1 324.5,272.0 325.3,272.0 326.1,272.2 326.9,272.6 327.7,273.0 328.5,273.6 329.3,274.3 330.1,275.0 330.9,275.8 331.7,276.6 332.5,277.4 333.3,278.3 334.1,279.1 334.9,279.9 335.7,280.6 336.5,281.4 337.3,282.0 338.1,282.7 338.9,283.3 339.7,283.8 340.5,284.3 341.3,284.8 342.1,285.3 342.9,285.6 343.7,286.0 344.5,286.3 345.3,286.5 346.1,286.8 346.9,286.9 347.7,287.1 348.5,287.2 349.3,287.3 350.1,287.4 350.9,287.5 351.7,287.6 352.5,287.7 353.3,287.8 354.1,288.0 354.9,288.2 355.7,288.5 356.5,288.7 357.3,289.1 358.1,289.4 358.9,289.9 358.9,327.8" fill="#fde1cc"/>
<polygon points="358.9,327.8 358.9,289.9 359.7,290.3 360.5,290.8 361.3,291.4 362.1,292.0 362.9,292.7 363.7,293.3 364.5,294.1 365.3,294.8 366.1,295.6 366.9,296.5 367.7,297.3 368.5,298.2 369.3,299.1 370.1,300.1 370.9,301.0 371.7,301.9 372.5,302.7 373.3,303.4 374.1,304.0 374.9,304.4 375.7,304.7 376.5,304.7 377.3,304.5 378.1,304.1 378.9,303.4 379.7,302.5 380.5,301.5 381.3,300.3 382.1,299.0 382.9,297.5 383.7,296.0 384.5,294.5 385.3,292.9 386.1,291.3 386.9,289.7 387.7,288.2 388.5,286.8 389.3,285.4 390.1,284.2 390.9,283.2 391.7,282.3 392.5,281.6 393.3,281.2 394.1,281.0 394.9,281.1 395.7,281.5 396.5,282.1 397.3,283.0 398.1,284.0 398.9,285.2 399.7,286.6 400.5,288.0 401.3,289.6 402.1,291.2 402.9,292.9 403.7,294.4 404.5,295.9 405.3,297.3 406.1,298.4 406.9,299.3 407.7,299.8 408.5,300.0 409.3,299.8 410.1,299.1 411.6,297.2 411.6,327.8" fill="#fefde0"/>
<polygon points="411.6,327.8 411.6,297.2 412.4,295.8 413.2,294.2 414.0,292.5 414.8,290.8 415.6,289.0 416.4,287.3 417.2,285.6 418.0,284.0 418.8,282.6 419.6,281.3 420.4,280.1 421.2,279.0 422.0,278.0 422.8,277.1 423.6,276.3 424.4,275.6 425.2,275.1 426.0,274.6 426.8,274.2 427.6,273.9 428.4,273.7 429.2,273.5 430.0,273.5 430.8,273.5 431.6,273.6 432.4,273.8 433.2,274.0 434.0,274.3 434.8,274.5 435.6,274.9 436.4,275.2 437.2,275.6 438.0,276.0 438.8,276.3 439.6,276.7 440.4,277.1 441.2,277.4 442.0,277.7 442.8,278.0 443.6,278.2 444.4,278.4 445.8,278.6 445.8,327.8" fill="#e0feff"/>
<polyline points="86.2,299.6 87.0,299.0 87.8,298.4 88.6,297.7 89.4,297.0 90.2,296.2 91.0,295.5 91.8,294.7 92.6,293.9 93.4,293.2 94.2,292.6 95.0,292.0 95.8,291.5 96.6,291.1 97.4,290.9 98.2,290.8 99.0,290.8 99.8,291.0 100.6,291.4 101.4,291.9 102.2,292.5 103.0,293.3 103.8,294.2 104.6,295.1 105.4,296.2 106.2,297.3 107.0,298.4 107.8,299.6 108.6,300.7 109.4,301.7 110.2,302.7 111.0,303.5 111.8,304.1 112.6,304.5 113.4,304.6 114.2,304.4 115.0,304.0 115.8,303.3 116.6,302.3 117.4,301.1 118.2,299.6 119.0,298.0 119.8,296.2 120.6,294.2 121.4,292.1 122.2,289.9 123.0,287.6 123.8,285.3 124.6,282.9 125.4,280.5 126.2,278.2 127.0,275.9 127.8,273.7 128.6,271.5 129.4,269.6 130.2,267.7 131.0,266.1 131.8,264.7 132.6,263.5 133.4,262.6 134.2,261.9 135.0,261.6 135.8,261.6 136.6,262.0 137.4,262.7 138.2,263.8 139.0,265.3 139.8,267.0 140.6,268.9 141.4,271.1 142.2,273.6 143.0,276.2 143.8,278.9 144.6,281.8 145.4,284.7 146.2,287.8 147.0,290.8 147.8,293.9 148.6,296.8 149.4,299.6 150.2,302.2 151.0,304.6 151.8,306.6 152.6,308.2 153.4,309.4 154.2,310.1 155.0,310.2 155.8,309.9 156.6,309.3 157.4,308.7 158.2,308.1 159.0,307.6 159.8,307.2 160.6,306.8 161.4,306.4 162.2,305.8 163.0,305.0 163.8,304.1 164.6,303.0 165.4,301.6 166.2,300.1 167.0,298.4 167.8,296.5 168.6,294.4 169.4,292.2 170.2,289.8 171.0,287.3 171.8,284.7 172.6,282.1 173.4,279.5 174.2,276.8 175.0,274.2 175.8,271.6 176.6,269.1 177.4,266.7 178.2,264.4 179.0,262.3 179.8,260.4 180.6,258.8 181.4,257.3 182.2,256.1 183.0,255.3 183.8,254.7 184.6,254.5 185.4,254.7 186.2,255.2 187.0,256.0 187.8,257.0 188.6,258.2 189.4,259.5 190.2,260.9 191.0,262.3 191.8,263.7 192.6,265.0 193.4,266.2 194.2,267.3 195.0,268.3 195.8,269.3 196.6,270.2 197.4,271.0 198.2,271.8 199.0,272.6 199.8,273.4 200.6,274.1 201.4,274.8 202.2,275.5 203.0,276.2 203.8,276.9 204.6,277.6 205.4,278.2 206.2,278.9 207.0,279.6 207.8,280.3 208.6,281.0 209.4,281.8 210.2,282.4 211.0,283.1 211.8,283.7 212.6,284.2 213.4,284.5 214.2,284.8 215.0,284.9 215.8,284.8 216.6,284.6 217.4,284.2 218.2,283.7 219.0,283.1 219.8,282.3 220.6,281.6 221.4,280.7 222.2,279.9 223.0,279.0 223.8,278.2 224.6,277.3 225.4,276.6 226.2,275.8 227.0,275.2 227.8,274.6 228.6,274.2 229.4,273.8 230.2,273.6 231.0,273.5 231.8,273.6 232.6,273.7 233.4,274.1 234.2,274.5 235.0,275.0 235.8,275.6 236.6,276.2 237.4,276.9 238.2,277.7 239.0,278.4 239.8,279.2 240.6,279.8 241.4,280.3 242.2,280.7 243.0,280.8 243.8,280.7 244.6,280.3 245.4,279.5 246.2,278.5 247.0,277.1 247.8,275.5 248.6,273.5 249.4,271.3 250.2,268.9 251.0,266.5 251.8,264.0 252.6,261.6 253.4,259.3 254.2,257.2 255.0,255.4 255.8,254.0 256.6,253.0 257.4,252.6 258.2,252.7 259.0,253.5 259.8,254.8 260.6,256.7 261.4,259.0 262.2,261.7 263.0,264.7 263.8,268.0 264.6,271.5 265.4,275.2 266.2,278.9 267.0,282.7 267.8,286.4 268.6,290.1 269.4,293.5 270.2,296.8 271.0,299.7 271.8,302.3 272.6,304.4 273.4,306.0 274.2,307.1 275.0,307.6 275.8,307.4 276.6,306.6 277.4,305.2 278.2,303.5 279.0,301.5 279.8,299.3 280.6,297.1 281.4,294.9 282.2,292.9 283.0,291.0 283.8,289.2 284.6,287.7 285.4,286.3 286.2,285.2 287.0,284.2 287.8,283.6 288.6,283.2 289.4,283.1 290.2,283.3 291.0,283.7 291.8,284.4 292.6,285.2 293.4,286.2 294.2,287.4 295.0,288.6 295.8,290.0 296.6,291.3 297.4,292.7 298.2,294.0 299.0,295.3 299.8,296.6 300.6,297.7 301.4,298.7 302.2,299.5 303.0,300.2 303.8,300.6 304.6,300.7 305.4,300.6 306.2,300.2 307.0,299.5 307.8,298.5 308.6,297.2 309.4,295.8 310.2,294.2 311.0,292.5 311.8,290.7 312.6,288.9 313.4,287.1 314.2,285.4 315.0,283.7 315.8,282.0 316.6,280.5 317.4,279.0 318.2,277.7 319.0,276.4 319.8,275.3 320.6,274.4 321.4,273.5 322.2,272.9 323.0,272.4 323.8,272.1 324.6,272.0 325.4,272.0 326.2,272.2 327.0,272.6 327.8,273.1 328.6,273.7 329.4,274.3 330.2,275.1 331.0,275.9 331.8,276.7 332.6,277.5 333.4,278.4 334.2,279.2 335.0,280.0 335.8,280.7 336.6,281.4 337.4,282.1 338.2,282.7 339.0,283.3 339.8,283.9 340.6,284.4 341.4,284.9 342.2,285.3 343.0,285.7 343.8,286.0 344.6,286.3 345.4,286.6 346.2,286.8 347.0,286.9 347.8,287.1 348.6,287.2 349.4,287.3 350.2,287.4 351.0,287.5 351.8,287.6 352.6,287.7 353.4,287.9 354.2,288.0 355.0,288.2 355.8,288.5 356.6,288.8 357.4,289.1 358.2,289.5 359.0,289.9 359.8,290.4 360.6,290.9 361.4,291.5 362.2,292.1 363.0,292.7 363.8,293.4 364.6,294.2 365.4,294.9 366.2,295.7 367.0,296.6 367.8,297.4 368.6,298.3 369.4,299.3 370.2,300.2 371.0,301.1 371.8,302.0 372.6,302.8 373.4,303.5 374.2,304.0 375.0,304.5 375.8,304.7 376.6,304.7 377.4,304.5 378.2,304.0 379.0,303.3 379.8,302.4 380.6,301.3 381.4,300.1 382.2,298.8 383.0,297.4 383.8,295.9 384.6,294.3 385.4,292.7 386.2,291.1 387.0,289.5 387.8,288.0 388.6,286.6 389.4,285.3 390.2,284.1 391.0,283.0 391.8,282.2 392.6,281.5 393.4,281.1 394.2,281.0 395.0,281.1 395.8,281.6 396.6,282.2 397.4,283.1 398.2,284.2 399.0,285.4 399.8,286.8 400.6,288.2 401.4,289.8 402.2,291.4 403.0,293.1 403.8,294.6 404.6,296.1 405.4,297.4 406.2,298.5 407.0,299.4 407.8,299.9 408.6,300.0 409.4,299.7 410.2,299.0 411.0,298.1 411.8,296.9 412.6,295.4 413.4,293.8 414.2,292.1 415.0,290.3 415.8,288.6 416.6,286.8 417.4,285.2 418.2,283.7 419.0,282.3 419.8,281.0 420.6,279.8 421.4,278.7 422.2,277.8 423.0,276.9 423.8,276.1 424.6,275.5 425.4,274.9 426.2,274.5 427.0,274.1 427.8,273.8 428.6,273.6 429.4,273.5 430.2,273.5 431.0,273.5 431.8,273.7 432.6,273.8 433.4,274.1 434.2,274.3 435.0,274.6 435.8,275.0 436.6,275.3 437.4,275.7 438.2,276.1 439.0,276.4 439.8,276.8 440.6,277.2 441.4,277.5 442.2,277.8 443.0,278.1 443.8,278.3 444.6,278.5 445.4,278.6" fill="none" stroke="#000" stroke-width="1.3" stroke-linejoin="round" stroke-linecap="round"/>
<polyline points="461.4,303.4 537.3,303.4 537.3,441 504,441" fill="none" stroke="#000" stroke-width="1.1"/>
<polygon points="498.1,441.0 504.9,439.1 504.9,442.9" fill="#000"/>
<text x="504.2" y="314.1" font-size="8.7" text-anchor="middle" >Characteristics</text>
<text x="504.0" y="324.1" font-size="8.7" text-anchor="middle" >Extraction</text>
<line x1="12.8" y1="345.2" x2="480.9" y2="345.2" stroke="#000" stroke-width="1.5" stroke-dasharray="5.8 6.054"/>
<line x1="480.9" y1="345.2" x2="480.9" y2="524.9" stroke="#000" stroke-width="1.5" stroke-dasharray="5.8 5.793"/>
<line x1="480.9" y1="524.9" x2="12.8" y2="524.9" stroke="#000" stroke-width="1.5" stroke-dasharray="5.8 6.054"/>
<line x1="12.8" y1="524.9" x2="12.8" y2="345.2" stroke="#000" stroke-width="1.5" stroke-dasharray="5.8 5.793"/>
<text x="22.4" y="356.3" font-size="10.8" text-anchor="middle" >(e)</text>
<text x="249.7" y="355.4" font-size="10.7" text-anchor="end" >Post</text>
<text x="252.0" y="355.4" font-size="10.7" text-anchor="start" >-</text>
<text x="261.0" y="355.4" font-size="10.7" text-anchor="start" >Pre</text>
<g transform="translate(0,0)">
<rect x="52.6" y="381.7" width="90.7" height="137.9" fill="#fde1cc"/>
<text x="96.69999999999999" y="371.3" font-size="10.8" text-anchor="middle">A</text>
<polyline points="53.1,383 53.1,507.7 142.8,507.7" fill="none" stroke="#111" stroke-width="1.5"/>
<line x1="53.1" y1="383.6" x2="55.9" y2="383.6" stroke="#111" stroke-width="1.1"/>
<line x1="53.1" y1="408.5" x2="55.9" y2="408.5" stroke="#111" stroke-width="1.1"/>
<line x1="53.1" y1="433.3" x2="55.9" y2="433.3" stroke="#111" stroke-width="1.1"/>
<line x1="53.1" y1="458.1" x2="55.9" y2="458.1" stroke="#111" stroke-width="1.1"/>
<line x1="53.1" y1="482.9" x2="55.9" y2="482.9" stroke="#111" stroke-width="1.1"/>
<line x1="53.1" y1="507.7" x2="55.9" y2="507.7" stroke="#111" stroke-width="1.1"/>
<line x1="79.0" y1="507.7" x2="79.0" y2="505.0" stroke="#111" stroke-width="1.1"/>
<line x1="118.2" y1="507.7" x2="118.2" y2="505.0" stroke="#111" stroke-width="1.1"/>
<line x1="53.1" y1="457.9" x2="143.3" y2="457.9" stroke="#000" stroke-width="1.3" stroke-dasharray="3.4 2.4"/>
<text x="78.4" y="516.6" font-size="8.8" text-anchor="middle">taVNS</text>
<text x="117.8" y="516.6" font-size="8.8" text-anchor="middle">Control</text>
<polygon points="77.5,434.1 77.5,434.6 77.6,435.1 77.6,435.6 77.8,436.1 78.0,436.6 78.1,437.1 78.2,437.6 78.3,438.1 78.4,438.6 78.4,439.1 78.4,439.6 78.4,440.1 78.4,440.6 78.3,441.1 78.2,441.6 78.1,442.1 78.0,442.6 77.7,443.1 77.3,443.6 76.9,444.1 76.3,444.6 75.8,445.1 75.3,445.6 74.8,446.1 74.4,446.6 73.9,447.1 73.5,447.6 73.0,448.1 72.5,448.6 72.1,449.1 71.6,449.6 71.1,450.1 70.7,450.6 70.2,451.1 69.6,451.6 69.1,452.1 68.6,452.6 68.1,453.1 67.7,453.6 67.4,454.1 67.1,454.6 66.9,455.1 66.7,455.6 66.6,456.1 66.6,456.6 66.7,457.1 66.9,457.6 67.2,458.1 68.3,458.6 70.3,459.1 71.6,459.6 71.6,460.1 71.1,460.6 70.5,461.1 70.0,461.6 69.9,462.1 70.2,462.6 70.7,463.1 71.3,463.6 71.9,464.1 72.8,464.6 73.9,465.1 75.0,465.6 75.7,466.1 76.0,466.6 76.2,467.1 76.3,467.6 76.4,468.1 76.4,468.6 76.3,469.1 76.1,469.6 75.8,470.1 75.5,470.6 75.3,471.1 75.0,471.6 74.8,472.1 74.5,472.6 83.5,472.6 83.2,472.1 83.0,471.6 82.7,471.1 82.5,470.6 82.2,470.1 81.9,469.6 81.7,469.1 81.6,468.6 81.6,468.1 81.7,467.6 81.8,467.1 82.0,466.6 82.3,466.1 83.0,465.6 84.1,465.1 85.2,464.6 86.1,464.1 86.7,463.6 87.3,463.1 87.8,462.6 88.1,462.1 88.0,461.6 87.5,461.1 86.9,460.6 86.4,460.1 86.4,459.6 87.7,459.1 89.7,458.6 90.8,458.1 91.1,457.6 91.3,457.1 91.4,456.6 91.4,456.1 91.3,455.6 91.1,455.1 90.9,454.6 90.6,454.1 90.3,453.6 89.9,453.1 89.4,452.6 88.9,452.1 88.4,451.6 87.8,451.1 87.3,450.6 86.9,450.1 86.4,449.6 85.9,449.1 85.5,448.6 85.0,448.1 84.5,447.6 84.1,447.1 83.6,446.6 83.2,446.1 82.7,445.6 82.2,445.1 81.7,444.6 81.1,444.1 80.7,443.6 80.3,443.1 80.0,442.6 79.9,442.1 79.8,441.6 79.7,441.1 79.6,440.6 79.6,440.1 79.6,439.6 79.6,439.1 79.6,438.6 79.7,438.1 79.8,437.6 79.9,437.1 80.0,436.6 80.2,436.1 80.4,435.6 80.4,435.1 80.5,434.6 80.5,434.1" fill="#67a3f3" stroke="#14203c" stroke-width="0.85" stroke-linejoin="round"/>
<line x1="67.2" y1="456.5" x2="90.8" y2="456.5" stroke="#14203c" stroke-width="0.45" stroke-dasharray="2 1"/>
<line x1="69.1" y1="452.6" x2="88.9" y2="452.6" stroke="#14203c" stroke-width="0.45" stroke-dasharray="0.8 0.8"/>
<line x1="70.5" y1="461.7" x2="87.5" y2="461.7" stroke="#14203c" stroke-width="0.45" stroke-dasharray="0.8 0.8"/>
<polygon points="116.0,438.6 116.0,439.1 115.9,439.6 115.8,440.1 115.7,440.6 115.6,441.1 115.4,441.6 115.0,442.1 114.4,442.6 113.9,443.1 113.4,443.6 113.1,444.1 112.9,444.6 112.7,445.1 112.6,445.6 112.5,446.1 112.4,446.6 112.4,447.1 112.7,447.6 112.9,448.1 113.1,448.6 113.0,449.1 112.3,449.6 111.3,450.1 110.2,450.6 109.4,451.1 108.8,451.6 108.4,452.1 108.0,452.6 107.6,453.1 107.4,453.6 107.3,454.1 107.5,454.6 107.8,455.1 108.1,455.6 108.2,456.1 107.9,456.6 107.3,457.1 106.6,457.6 106.0,458.1 105.8,458.6 105.8,459.1 105.8,459.6 105.8,460.1 105.8,460.6 105.8,461.1 105.8,461.6 105.8,462.1 105.9,462.6 106.2,463.1 106.6,463.6 107.2,464.1 107.8,464.6 108.3,465.1 108.9,465.6 109.6,466.1 110.2,466.6 110.9,467.1 111.7,467.6 112.5,468.1 113.4,468.6 114.4,469.1 115.2,469.6 115.7,470.1 116.1,470.6 116.3,471.1 120.1,471.1 120.3,470.6 120.7,470.1 121.2,469.6 122.0,469.1 123.0,468.6 123.9,468.1 124.7,467.6 125.5,467.1 126.2,466.6 126.8,466.1 127.5,465.6 128.1,465.1 128.6,464.6 129.2,464.1 129.8,463.6 130.2,463.1 130.5,462.6 130.6,462.1 130.6,461.6 130.6,461.1 130.6,460.6 130.6,460.1 130.6,459.6 130.6,459.1 130.6,458.6 130.4,458.1 129.8,457.6 129.1,457.1 128.5,456.6 128.2,456.1 128.3,455.6 128.6,455.1 128.9,454.6 129.1,454.1 129.0,453.6 128.8,453.1 128.4,452.6 128.0,452.1 127.6,451.6 127.0,451.1 126.2,450.6 125.1,450.1 124.1,449.6 123.4,449.1 123.3,448.6 123.5,448.1 123.7,447.6 124.0,447.1 124.0,446.6 123.9,446.1 123.8,445.6 123.7,445.1 123.5,444.6 123.3,444.1 123.0,443.6 122.5,443.1 122.0,442.6 121.4,442.1 121.0,441.6 120.8,441.1 120.7,440.6 120.6,440.1 120.5,439.6 120.4,439.1 120.4,438.6" fill="#f68b8f" stroke="#2a1012" stroke-width="0.85" stroke-linejoin="round"/>
<line x1="106.4" y1="458.6" x2="130.0" y2="458.6" stroke="#2a1012" stroke-width="0.45" stroke-dasharray="2 1"/>
<line x1="107.9" y1="454.1" x2="128.5" y2="454.1" stroke="#2a1012" stroke-width="0.45" stroke-dasharray="0.8 0.8"/>
<line x1="106.8" y1="463.2" x2="129.6" y2="463.2" stroke="#2a1012" stroke-width="0.45" stroke-dasharray="0.8 0.8"/>
<polyline points="79.0,429.1 79.0,424.9 118.2,424.9 118.2,429.1" fill="none" stroke="#111" stroke-width="1.3"/>
<text x="99.0" y="419.79999999999995" font-size="8.3" text-anchor="middle">ns</text>
</g>
<g transform="translate(0,0.4)">
<rect x="163.9" y="381.8" width="89.9" height="137.8" fill="#e1feff"/>
<text x="208.85" y="370.90000000000003" font-size="10.8" text-anchor="middle">B</text>
<polyline points="165.5,383 165.5,507.7 253.3,507.7" fill="none" stroke="#111" stroke-width="1.5"/>
<line x1="165.5" y1="383.6" x2="168.3" y2="383.6" stroke="#111" stroke-width="1.1"/>
<line x1="165.5" y1="408.5" x2="168.3" y2="408.5" stroke="#111" stroke-width="1.1"/>
<line x1="165.5" y1="433.3" x2="168.3" y2="433.3" stroke="#111" stroke-width="1.1"/>
<line x1="165.5" y1="458.1" x2="168.3" y2="458.1" stroke="#111" stroke-width="1.1"/>
<line x1="165.5" y1="482.9" x2="168.3" y2="482.9" stroke="#111" stroke-width="1.1"/>
<line x1="165.5" y1="507.7" x2="168.3" y2="507.7" stroke="#111" stroke-width="1.1"/>
<line x1="191.5" y1="507.7" x2="191.5" y2="505.0" stroke="#111" stroke-width="1.1"/>
<line x1="230.0" y1="507.7" x2="230.0" y2="505.0" stroke="#111" stroke-width="1.1"/>
<line x1="165.5" y1="457.5" x2="253.8" y2="457.5" stroke="#000" stroke-width="1.3" stroke-dasharray="3.4 2.4"/>
<text x="190.9" y="516.6" font-size="8.8" text-anchor="middle">taVNS</text>
<text x="229.6" y="516.6" font-size="8.8" text-anchor="middle">Control</text>
<polygon points="188.5,438.4 188.3,438.9 188.2,439.4 188.3,439.9 188.5,440.4 188.8,440.9 189.4,441.4 189.9,441.9 190.3,442.4 190.6,442.9 190.8,443.4 191.0,443.9 191.1,444.4 190.9,444.9 190.6,445.4 190.2,445.9 189.7,446.4 189.2,446.9 188.8,447.4 188.3,447.9 187.8,448.4 187.2,448.9 186.7,449.4 186.3,449.9 185.8,450.4 185.3,450.9 184.7,451.4 183.8,451.9 182.7,452.4 181.7,452.9 180.9,453.4 180.2,453.9 179.6,454.4 179.1,454.9 178.9,455.4 178.9,455.9 179.1,456.4 179.4,456.9 179.7,457.4 180.2,457.9 180.9,458.4 181.7,458.9 182.5,459.4 183.2,459.9 184.1,460.4 184.9,460.9 185.8,461.4 186.7,461.9 187.7,462.4 188.8,462.9 189.7,463.4 190.3,463.9 190.7,464.4 190.9,464.9 191.1,465.4 191.1,465.9 191.1,466.4 191.1,466.9 191.1,467.4 191.1,467.9 191.1,468.4 191.1,468.9 191.1,469.4 191.1,469.9 191.1,470.4 191.1,470.9 191.1,471.4 190.8,471.9 190.4,472.4 190.1,472.9 190.0,473.4 190.1,473.9 190.2,474.4 190.3,474.9 190.4,475.4 190.5,475.9 190.6,476.4 190.5,476.9 190.3,477.4 190.1,477.9 190.0,478.4 190.3,478.9 192.7,478.9 193.0,478.4 192.9,477.9 192.7,477.4 192.5,476.9 192.4,476.4 192.5,475.9 192.6,475.4 192.7,474.9 192.8,474.4 192.9,473.9 193.0,473.4 192.9,472.9 192.6,472.4 192.2,471.9 191.9,471.4 191.9,470.9 191.9,470.4 191.9,469.9 191.9,469.4 191.9,468.9 191.9,468.4 191.9,467.9 191.9,467.4 191.9,466.9 191.9,466.4 191.9,465.9 191.9,465.4 192.1,464.9 192.3,464.4 192.7,463.9 193.3,463.4 194.2,462.9 195.3,462.4 196.3,461.9 197.2,461.4 198.1,460.9 198.9,460.4 199.8,459.9 200.5,459.4 201.3,458.9 202.1,458.4 202.8,457.9 203.3,457.4 203.6,456.9 203.9,456.4 204.1,455.9 204.1,455.4 203.9,454.9 203.4,454.4 202.8,453.9 202.1,453.4 201.3,452.9 200.3,452.4 199.2,451.9 198.3,451.4 197.7,450.9 197.2,450.4 196.7,449.9 196.3,449.4 195.8,448.9 195.2,448.4 194.7,447.9 194.2,447.4 193.8,446.9 193.3,446.4 192.8,445.9 192.4,445.4 192.1,444.9 191.9,444.4 192.0,443.9 192.2,443.4 192.4,442.9 192.7,442.4 193.1,441.9 193.6,441.4 194.2,440.9 194.5,440.4 194.7,439.9 194.8,439.4 194.7,438.9 194.5,438.4" fill="#67a3f3" stroke="#14203c" stroke-width="0.85" stroke-linejoin="round"/>
<line x1="179.5" y1="455.5" x2="203.5" y2="455.5" stroke="#14203c" stroke-width="0.45" stroke-dasharray="2 1"/>
<line x1="183.4" y1="452.4" x2="199.6" y2="452.4" stroke="#14203c" stroke-width="0.45" stroke-dasharray="0.8 0.8"/>
<line x1="182.7" y1="459.2" x2="200.3" y2="459.2" stroke="#14203c" stroke-width="0.45" stroke-dasharray="0.8 0.8"/>
<polygon points="229.3,421.4 229.0,421.9 229.0,422.4 229.0,422.9 229.1,423.4 229.5,423.9 229.7,424.4 229.7,424.9 229.7,425.4 229.7,425.9 229.7,426.4 229.7,426.9 229.7,427.4 229.7,427.9 229.7,428.4 229.7,428.9 229.7,429.4 229.7,429.9 229.7,430.4 229.7,430.9 229.7,431.4 229.7,431.9 229.7,432.4 229.7,432.9 229.7,433.4 229.7,433.9 229.7,434.4 229.7,434.9 229.7,435.4 229.7,435.9 229.7,436.4 229.7,436.9 229.7,437.4 229.7,437.9 229.7,438.4 229.7,438.9 229.7,439.4 229.6,439.9 229.5,440.4 229.3,440.9 229.2,441.4 229.0,441.9 228.8,442.4 228.6,442.9 228.4,443.4 228.0,443.9 227.6,444.4 227.2,444.9 226.8,445.4 226.3,445.9 225.6,446.4 225.0,446.9 224.2,447.4 223.4,447.9 222.6,448.4 221.7,448.9 220.6,449.4 219.6,449.9 218.7,450.4 218.1,450.9 217.6,451.4 217.1,451.9 216.9,452.4 217.0,452.9 217.3,453.4 217.6,453.9 217.9,454.4 218.1,454.9 218.3,455.4 218.4,455.9 218.2,456.4 217.8,456.9 217.5,457.4 217.4,457.9 217.7,458.4 218.2,458.9 218.9,459.4 219.7,459.9 220.7,460.4 221.9,460.9 223.2,461.4 224.3,461.9 225.4,462.4 226.5,462.9 227.3,463.4 228.0,463.9 228.6,464.4 229.1,464.9 229.4,465.4 229.5,465.9 229.5,466.4 229.6,466.9 229.6,467.4 229.6,467.9 229.7,468.4 229.7,468.9 229.7,469.4 229.7,469.9 229.6,470.4 229.3,470.9 229.0,471.4 229.0,471.9 229.0,472.4 229.0,472.9 229.1,473.4 230.9,473.4 231.0,472.9 231.0,472.4 231.0,471.9 231.0,471.4 230.7,470.9 230.4,470.4 230.3,469.9 230.3,469.4 230.3,468.9 230.3,468.4 230.4,467.9 230.4,467.4 230.4,466.9 230.5,466.4 230.5,465.9 230.6,465.4 230.9,464.9 231.4,464.4 232.0,463.9 232.7,463.4 233.5,462.9 234.6,462.4 235.7,461.9 236.8,461.4 238.1,460.9 239.3,460.4 240.3,459.9 241.1,459.4 241.8,458.9 242.3,458.4 242.6,457.9 242.5,457.4 242.2,456.9 241.8,456.4 241.6,455.9 241.7,455.4 241.9,454.9 242.1,454.4 242.4,453.9 242.7,453.4 243.0,452.9 243.1,452.4 242.9,451.9 242.4,451.4 241.9,450.9 241.3,450.4 240.4,449.9 239.4,449.4 238.3,448.9 237.4,448.4 236.6,447.9 235.8,447.4 235.0,446.9 234.4,446.4 233.7,445.9 233.2,445.4 232.8,444.9 232.4,444.4 232.0,443.9 231.6,443.4 231.4,442.9 231.2,442.4 231.0,441.9 230.8,441.4 230.7,440.9 230.5,440.4 230.4,439.9 230.3,439.4 230.3,438.9 230.3,438.4 230.3,437.9 230.3,437.4 230.3,436.9 230.3,436.4 230.3,435.9 230.3,435.4 230.3,434.9 230.3,434.4 230.3,433.9 230.3,433.4 230.3,432.9 230.3,432.4 230.3,431.9 230.3,431.4 230.3,430.9 230.3,430.4 230.3,429.9 230.3,429.4 230.3,428.9 230.3,428.4 230.3,427.9 230.3,427.4 230.3,426.9 230.3,426.4 230.3,425.9 230.3,425.4 230.3,424.9 230.3,424.4 230.5,423.9 230.9,423.4 231.0,422.9 231.0,422.4 231.0,421.9 230.7,421.4" fill="#f68b8f" stroke="#2a1012" stroke-width="0.85" stroke-linejoin="round"/>
<line x1="218.8" y1="455.1" x2="241.2" y2="455.1" stroke="#2a1012" stroke-width="0.45" stroke-dasharray="2 1"/>
<line x1="218.2" y1="451.4" x2="241.8" y2="451.4" stroke="#2a1012" stroke-width="0.45" stroke-dasharray="0.8 0.8"/>
<line x1="218.7" y1="458.8" x2="241.3" y2="458.8" stroke="#2a1012" stroke-width="0.45" stroke-dasharray="0.8 0.8"/>
<polyline points="191.5,416.5 191.5,412.3 230.0,412.3 230.0,416.5" fill="none" stroke="#111" stroke-width="1.3"/>
<text x="211.15" y="407.2" font-size="8.3" text-anchor="middle">ns</text>
</g>
<g transform="translate(0,-0.2)">
<rect x="275.05" y="381.9" width="91.3" height="137.6" fill="#e0e0fd"/>
<text x="320.70000000000005" y="371.5" font-size="10.8" text-anchor="middle">C</text>
<polyline points="276.1,383 276.1,507.7 365.9,507.7" fill="none" stroke="#111" stroke-width="1.5"/>
<line x1="276.1" y1="383.6" x2="278.90000000000003" y2="383.6" stroke="#111" stroke-width="1.1"/>
<line x1="276.1" y1="408.5" x2="278.90000000000003" y2="408.5" stroke="#111" stroke-width="1.1"/>
<line x1="276.1" y1="433.3" x2="278.90000000000003" y2="433.3" stroke="#111" stroke-width="1.1"/>
<line x1="276.1" y1="458.1" x2="278.90000000000003" y2="458.1" stroke="#111" stroke-width="1.1"/>
<line x1="276.1" y1="482.9" x2="278.90000000000003" y2="482.9" stroke="#111" stroke-width="1.1"/>
<line x1="276.1" y1="507.7" x2="278.90000000000003" y2="507.7" stroke="#111" stroke-width="1.1"/>
<line x1="302.0" y1="507.7" x2="302.0" y2="505.0" stroke="#111" stroke-width="1.1"/>
<line x1="341.2" y1="507.7" x2="341.2" y2="505.0" stroke="#111" stroke-width="1.1"/>
<line x1="276.1" y1="458.1" x2="366.35" y2="458.1" stroke="#000" stroke-width="1.3" stroke-dasharray="3.4 2.4"/>
<text x="301.4" y="516.6" font-size="8.8" text-anchor="middle">taVNS</text>
<text x="340.8" y="516.6" font-size="8.8" text-anchor="middle">Control</text>
<polygon points="300.5,434.4 300.5,434.9 300.5,435.4 300.5,435.9 300.7,436.4 300.9,436.9 301.0,437.4 301.1,437.9 301.2,438.4 301.2,438.9 301.3,439.4 301.3,439.9 301.3,440.4 301.2,440.9 301.0,441.4 300.8,441.9 300.6,442.4 300.4,442.9 300.0,443.4 299.6,443.9 299.2,444.4 298.8,444.9 298.3,445.4 297.9,445.9 297.4,446.4 297.0,446.9 296.6,447.4 296.2,447.9 295.9,448.4 295.6,448.9 295.3,449.4 295.1,449.9 294.9,450.4 294.7,450.9 294.5,451.4 294.0,451.9 293.5,452.4 292.9,452.9 292.4,453.4 291.9,453.9 291.3,454.4 290.8,454.9 290.4,455.4 290.0,455.9 289.6,456.4 289.3,456.9 289.1,457.4 289.0,457.9 289.2,458.4 289.6,458.9 290.1,459.4 290.7,459.9 291.7,460.4 292.7,460.9 293.7,461.4 294.6,461.9 295.6,462.4 296.5,462.9 297.4,463.4 298.2,463.9 298.8,464.4 299.4,464.9 299.9,465.4 300.4,465.9 300.9,466.4 301.2,466.9 301.3,467.4 301.3,467.9 301.3,468.4 301.4,468.9 301.4,469.4 301.4,469.9 301.4,470.4 301.4,470.9 301.4,471.4 301.4,471.9 301.4,472.4 301.3,472.9 301.0,473.4 300.8,473.9 300.7,474.4 300.7,474.9 300.9,475.4 303.1,475.4 303.3,474.9 303.3,474.4 303.2,473.9 303.0,473.4 302.7,472.9 302.6,472.4 302.6,471.9 302.6,471.4 302.6,470.9 302.6,470.4 302.6,469.9 302.6,469.4 302.6,468.9 302.7,468.4 302.7,467.9 302.7,467.4 302.8,466.9 303.1,466.4 303.6,465.9 304.1,465.4 304.6,464.9 305.2,464.4 305.8,463.9 306.6,463.4 307.5,462.9 308.4,462.4 309.4,461.9 310.3,461.4 311.3,460.9 312.3,460.4 313.3,459.9 313.9,459.4 314.4,458.9 314.8,458.4 315.0,457.9 314.9,457.4 314.7,456.9 314.4,456.4 314.0,455.9 313.6,455.4 313.2,454.9 312.7,454.4 312.1,453.9 311.6,453.4 311.1,452.9 310.5,452.4 310.0,451.9 309.5,451.4 309.3,450.9 309.1,450.4 308.9,449.9 308.7,449.4 308.4,448.9 308.1,448.4 307.8,447.9 307.4,447.4 307.0,446.9 306.6,446.4 306.1,445.9 305.7,445.4 305.2,444.9 304.8,444.4 304.4,443.9 304.0,443.4 303.6,442.9 303.4,442.4 303.2,441.9 303.0,441.4 302.8,440.9 302.7,440.4 302.7,439.9 302.7,439.4 302.8,438.9 302.8,438.4 302.9,437.9 303.0,437.4 303.1,436.9 303.3,436.4 303.5,435.9 303.5,435.4 303.5,434.9 303.5,434.4" fill="#67a3f3" stroke="#14203c" stroke-width="0.85" stroke-linejoin="round"/>
<line x1="289.7" y1="457.4" x2="314.3" y2="457.4" stroke="#14203c" stroke-width="0.45" stroke-dasharray="2 1"/>
<line x1="294.1" y1="452.4" x2="309.9" y2="452.4" stroke="#14203c" stroke-width="0.45" stroke-dasharray="0.8 0.8"/>
<line x1="292.2" y1="460.4" x2="311.8" y2="460.4" stroke="#14203c" stroke-width="0.45" stroke-dasharray="0.8 0.8"/>
<polygon points="331.7,450.2 331.0,450.7 330.4,451.2 329.9,451.7 329.5,452.2 329.2,452.7 328.9,453.2 328.6,453.7 328.5,454.2 328.5,454.7 328.5,455.2 328.4,455.7 328.4,456.2 328.4,456.7 328.4,457.2 328.4,457.7 328.4,458.2 328.6,458.7 329.1,459.2 329.6,459.7 330.1,460.2 330.2,460.7 330.1,461.2 329.9,461.7 329.7,462.2 329.5,462.7 329.4,463.2 329.5,463.7 329.7,464.2 330.1,464.7 330.5,465.2 331.0,465.7 331.5,466.2 332.3,466.7 333.2,467.2 334.1,467.7 335.1,468.2 335.9,468.7 336.7,469.2 337.4,469.7 338.1,470.2 338.6,470.7 338.9,471.2 339.1,471.7 339.2,472.2 339.3,472.7 339.4,473.2 343.0,473.2 343.1,472.7 343.2,472.2 343.3,471.7 343.5,471.2 343.8,470.7 344.3,470.2 345.0,469.7 345.7,469.2 346.5,468.7 347.3,468.2 348.3,467.7 349.2,467.2 350.1,466.7 350.9,466.2 351.4,465.7 351.9,465.2 352.3,464.7 352.7,464.2 352.9,463.7 353.0,463.2 352.9,462.7 352.7,462.2 352.5,461.7 352.3,461.2 352.2,460.7 352.3,460.2 352.8,459.7 353.3,459.2 353.8,458.7 354.0,458.2 354.0,457.7 354.0,457.2 354.0,456.7 354.0,456.2 354.0,455.7 353.9,455.2 353.9,454.7 353.9,454.2 353.8,453.7 353.5,453.2 353.2,452.7 352.9,452.2 352.5,451.7 352.0,451.2 351.4,450.7 350.7,450.2" fill="#f68b8f" stroke="#2a1012" stroke-width="0.85" stroke-linejoin="round"/>
<line x1="329.0" y1="458.3" x2="353.4" y2="458.3" stroke="#2a1012" stroke-width="0.45" stroke-dasharray="2 1"/>
<line x1="329.1" y1="454.4" x2="353.3" y2="454.4" stroke="#2a1012" stroke-width="0.45" stroke-dasharray="0.8 0.8"/>
<line x1="330.0" y1="463.6" x2="352.4" y2="463.6" stroke="#2a1012" stroke-width="0.45" stroke-dasharray="0.8 0.8"/>
<polyline points="302.0,429.0 302.0,424.79999999999995 341.2,424.79999999999995 341.2,429.0" fill="none" stroke="#111" stroke-width="1.3"/>
<rect x="312.4" y="411.0" width="23.6" height="12.6" fill="none" stroke="#e9c9b0" stroke-width="0.4" stroke-dasharray="0.8 0.8"/>
<text x="321.5" y="423.79999999999995" font-size="15.5" text-anchor="middle">*</text>
</g>
<g transform="translate(0,-0.9)">
<rect x="386.1" y="383.1" width="90.0" height="137.3" fill="#fefde0"/>
<text x="431.20000000000005" y="372.2" font-size="10.8" text-anchor="middle">D</text>
<polyline points="387.5,383 387.5,507.7 475.6,507.7" fill="none" stroke="#111" stroke-width="1.5"/>
<line x1="387.5" y1="383.6" x2="390.3" y2="383.6" stroke="#111" stroke-width="1.1"/>
<line x1="387.5" y1="408.5" x2="390.3" y2="408.5" stroke="#111" stroke-width="1.1"/>
<line x1="387.5" y1="433.3" x2="390.3" y2="433.3" stroke="#111" stroke-width="1.1"/>
<line x1="387.5" y1="458.1" x2="390.3" y2="458.1" stroke="#111" stroke-width="1.1"/>
<line x1="387.5" y1="482.9" x2="390.3" y2="482.9" stroke="#111" stroke-width="1.1"/>
<line x1="387.5" y1="507.7" x2="390.3" y2="507.7" stroke="#111" stroke-width="1.1"/>
<line x1="413.5" y1="507.7" x2="413.5" y2="505.0" stroke="#111" stroke-width="1.1"/>
<line x1="452.7" y1="507.7" x2="452.7" y2="505.0" stroke="#111" stroke-width="1.1"/>
<line x1="387.5" y1="458.8" x2="478.1" y2="458.8" stroke="#000" stroke-width="1.3" stroke-dasharray="3.4 2.4"/>
<text x="412.9" y="516.6" font-size="8.8" text-anchor="middle">taVNS</text>
<text x="452.3" y="516.6" font-size="8.8" text-anchor="middle">Control</text>
<polygon points="411.0,449.0 410.7,449.5 410.4,450.0 410.1,450.5 409.8,451.0 409.4,451.5 409.0,452.0 408.5,452.5 407.9,453.0 407.1,453.5 405.7,454.0 404.1,454.5 402.9,455.0 401.9,455.5 401.1,456.0 400.8,456.5 401.2,457.0 402.0,457.5 402.8,458.0 403.9,458.5 405.3,459.0 406.6,459.5 407.9,460.0 409.0,460.5 410.2,461.0 411.1,461.5 411.7,462.0 412.1,462.5 412.4,463.0 412.5,463.5 412.4,464.0 412.3,464.5 412.1,465.0 412.0,465.5 412.0,466.0 412.1,466.5 412.3,467.0 412.5,467.5 412.6,468.0 412.7,468.5 412.8,469.0 412.9,469.5 412.9,470.0 412.8,470.5 412.6,471.0 412.4,471.5 412.2,472.0 412.1,472.5 412.2,473.0 412.3,473.5 412.5,474.0 412.5,474.5 412.4,475.0 412.2,475.5 412.0,476.0 411.9,476.5 412.0,477.0 412.2,477.5 412.3,478.0 412.3,478.5 412.2,479.0 412.0,479.5 411.9,480.0 412.1,480.5 414.9,480.5 415.1,480.0 415.0,479.5 414.8,479.0 414.7,478.5 414.7,478.0 414.8,477.5 415.0,477.0 415.1,476.5 415.0,476.0 414.8,475.5 414.6,475.0 414.5,474.5 414.5,474.0 414.7,473.5 414.8,473.0 414.9,472.5 414.8,472.0 414.6,471.5 414.4,471.0 414.2,470.5 414.1,470.0 414.1,469.5 414.2,469.0 414.3,468.5 414.4,468.0 414.5,467.5 414.7,467.0 414.9,466.5 415.0,466.0 415.0,465.5 414.9,465.0 414.7,464.5 414.6,464.0 414.5,463.5 414.6,463.0 414.9,462.5 415.3,462.0 415.9,461.5 416.8,461.0 418.0,460.5 419.1,460.0 420.4,459.5 421.7,459.0 423.1,458.5 424.2,458.0 425.0,457.5 425.8,457.0 426.2,456.5 425.9,456.0 425.1,455.5 424.1,455.0 422.9,454.5 421.3,454.0 419.9,453.5 419.1,453.0 418.5,452.5 418.0,452.0 417.6,451.5 417.2,451.0 416.9,450.5 416.6,450.0 416.3,449.5 416.0,449.0" fill="#67a3f3" stroke="#14203c" stroke-width="0.85" stroke-linejoin="round"/>
<line x1="401.4" y1="456.4" x2="425.6" y2="456.4" stroke="#14203c" stroke-width="0.45" stroke-dasharray="2 1"/>
<line x1="404.9" y1="454.5" x2="422.1" y2="454.5" stroke="#14203c" stroke-width="0.45" stroke-dasharray="0.8 0.8"/>
<line x1="404.2" y1="458.4" x2="422.8" y2="458.4" stroke="#14203c" stroke-width="0.45" stroke-dasharray="0.8 0.8"/>
<polygon points="451.9,404.6 451.7,405.1 451.5,405.6 451.5,406.1 451.6,406.6 451.7,407.1 451.9,407.6 452.2,408.1 452.3,408.6 452.3,409.1 452.3,409.6 452.3,410.1 452.3,410.6 452.3,411.1 452.3,411.6 452.3,412.1 452.3,412.6 452.3,413.1 452.3,413.6 452.3,414.1 452.3,414.6 452.3,415.1 452.3,415.6 452.3,416.1 452.3,416.6 452.3,417.1 452.3,417.6 452.3,418.1 452.3,418.6 452.3,419.1 452.3,419.6 452.3,420.1 452.3,420.6 452.3,421.1 452.3,421.6 452.3,422.1 452.3,422.6 452.3,423.1 452.3,423.6 452.3,424.1 452.3,424.6 452.3,425.1 452.2,425.6 452.0,426.1 451.7,426.6 451.6,427.1 451.4,427.6 451.3,428.1 451.2,428.6 451.1,429.1 451.2,429.6 451.4,430.1 451.5,430.6 451.7,431.1 451.9,431.6 452.1,432.1 452.3,432.6 452.3,433.1 452.3,433.6 452.3,434.1 452.3,434.6 452.3,435.1 452.3,435.6 452.3,436.1 452.3,436.6 452.3,437.1 452.3,437.6 452.3,438.1 452.3,438.6 452.3,439.1 452.3,439.6 452.3,440.1 452.3,440.6 452.3,441.1 452.3,441.6 452.3,442.1 452.3,442.6 452.2,443.1 452.0,443.6 451.7,444.1 451.3,444.6 450.9,445.1 450.5,445.6 449.8,446.1 449.0,446.6 448.1,447.1 447.3,447.6 446.4,448.1 445.6,448.6 444.7,449.1 443.8,449.6 443.1,450.1 442.4,450.6 441.7,451.1 441.0,451.6 440.4,452.1 440.0,452.6 439.8,453.1 439.9,453.6 440.0,454.1 440.1,454.6 440.4,455.1 440.6,455.6 441.1,456.1 442.0,456.6 442.8,457.1 443.4,457.6 443.5,458.1 443.7,458.6 443.8,459.1 443.9,459.6 444.0,460.1 444.1,460.6 444.1,461.1 444.2,461.6 444.3,462.1 444.4,462.6 444.6,463.1 444.9,463.6 445.3,464.1 445.7,464.6 446.1,465.1 446.4,465.6 446.7,466.1 447.0,466.6 447.4,467.1 447.7,467.6 448.2,468.1 448.7,468.6 449.3,469.1 449.9,469.6 450.4,470.1 451.0,470.6 451.5,471.1 452.0,471.6 452.1,472.1 452.2,472.6 452.2,473.1 452.2,473.6 452.2,474.1 452.2,474.6 452.3,475.1 452.3,475.6 452.3,476.1 452.3,476.6 452.3,477.1 452.3,477.6 452.3,478.1 452.3,478.6 452.3,479.1 452.3,479.6 452.1,480.1 451.9,480.6 451.7,481.1 451.5,481.6 451.5,482.1 451.5,482.6 451.6,483.1 451.8,483.6 453.6,483.6 453.8,483.1 453.9,482.6 453.9,482.1 453.9,481.6 453.7,481.1 453.5,480.6 453.3,480.1 453.1,479.6 453.1,479.1 453.1,478.6 453.1,478.1 453.1,477.6 453.1,477.1 453.1,476.6 453.1,476.1 453.1,475.6 453.1,475.1 453.2,474.6 453.2,474.1 453.2,473.6 453.2,473.1 453.2,472.6 453.3,472.1 453.4,471.6 453.9,471.1 454.4,470.6 455.0,470.1 455.5,469.6 456.1,469.1 456.7,468.6 457.2,468.1 457.7,467.6 458.0,467.1 458.4,466.6 458.7,466.1 459.0,465.6 459.3,465.1 459.7,464.6 460.1,464.1 460.5,463.6 460.8,463.1 461.0,462.6 461.1,462.1 461.2,461.6 461.3,461.1 461.3,460.6 461.4,460.1 461.5,459.6 461.6,459.1 461.7,458.6 461.9,458.1 462.0,457.6 462.6,457.1 463.4,456.6 464.3,456.1 464.8,455.6 465.0,455.1 465.3,454.6 465.4,454.1 465.5,453.6 465.6,453.1 465.4,452.6 465.0,452.1 464.4,451.6 463.7,451.1 463.0,450.6 462.3,450.1 461.6,449.6 460.7,449.1 459.8,448.6 459.0,448.1 458.1,447.6 457.3,447.1 456.4,446.6 455.6,446.1 454.9,445.6 454.5,445.1 454.1,444.6 453.7,444.1 453.4,443.6 453.2,443.1 453.1,442.6 453.1,442.1 453.1,441.6 453.1,441.1 453.1,440.6 453.1,440.1 453.1,439.6 453.1,439.1 453.1,438.6 453.1,438.1 453.1,437.6 453.1,437.1 453.1,436.6 453.1,436.1 453.1,435.6 453.1,435.1 453.1,434.6 453.1,434.1 453.1,433.6 453.1,433.1 453.1,432.6 453.3,432.1 453.5,431.6 453.7,431.1 453.9,430.6 454.0,430.1 454.2,429.6 454.3,429.1 454.2,428.6 454.1,428.1 454.0,427.6 453.8,427.1 453.7,426.6 453.4,426.1 453.2,425.6 453.1,425.1 453.1,424.6 453.1,424.1 453.1,423.6 453.1,423.1 453.1,422.6 453.1,422.1 453.1,421.6 453.1,421.1 453.1,420.6 453.1,420.1 453.1,419.6 453.1,419.1 453.1,418.6 453.1,418.1 453.1,417.6 453.1,417.1 453.1,416.6 453.1,416.1 453.1,415.6 453.1,415.1 453.1,414.6 453.1,414.1 453.1,413.6 453.1,413.1 453.1,412.6 453.1,412.1 453.1,411.6 453.1,411.1 453.1,410.6 453.1,410.1 453.1,409.6 453.1,409.1 453.1,408.6 453.2,408.1 453.5,407.6 453.7,407.1 453.8,406.6 453.9,406.1 453.9,405.6 453.7,405.1 453.5,404.6" fill="#f68b8f" stroke="#2a1012" stroke-width="0.85" stroke-linejoin="round"/>
<line x1="442.2" y1="456.4" x2="463.2" y2="456.4" stroke="#2a1012" stroke-width="0.45" stroke-dasharray="2 1"/>
<line x1="440.4" y1="453.1" x2="465.0" y2="453.1" stroke="#2a1012" stroke-width="0.45" stroke-dasharray="0.8 0.8"/>
<line x1="445.1" y1="462.9" x2="460.3" y2="462.9" stroke="#2a1012" stroke-width="0.45" stroke-dasharray="0.8 0.8"/>
<polyline points="413.5,400.1 413.5,395.9 452.7,395.9 452.7,400.1" fill="none" stroke="#111" stroke-width="1.3"/>
<text x="433.5" y="390.79999999999995" font-size="8.3" text-anchor="middle">ns</text>
</g>
<text x="40.9" y="386.6" font-size="8.7" text-anchor="middle">60</text>
<text x="40.9" y="411.4" font-size="8.7" text-anchor="middle">40</text>
<text x="40.9" y="436.2" font-size="8.7" text-anchor="middle">20</text>
<text x="40.9" y="461.1" font-size="8.7" text-anchor="middle">0</text>
<text x="39.6" y="485.9" font-size="8.7" text-anchor="middle">−20</text>
<text x="39.6" y="510.7" font-size="8.7" text-anchor="middle">−40</text>
<text transform="translate(30.0,449.3) rotate(-90)" font-size="10.9" text-anchor="middle">Mean Duration Difference (ms)</text>
</svg></body></html>
